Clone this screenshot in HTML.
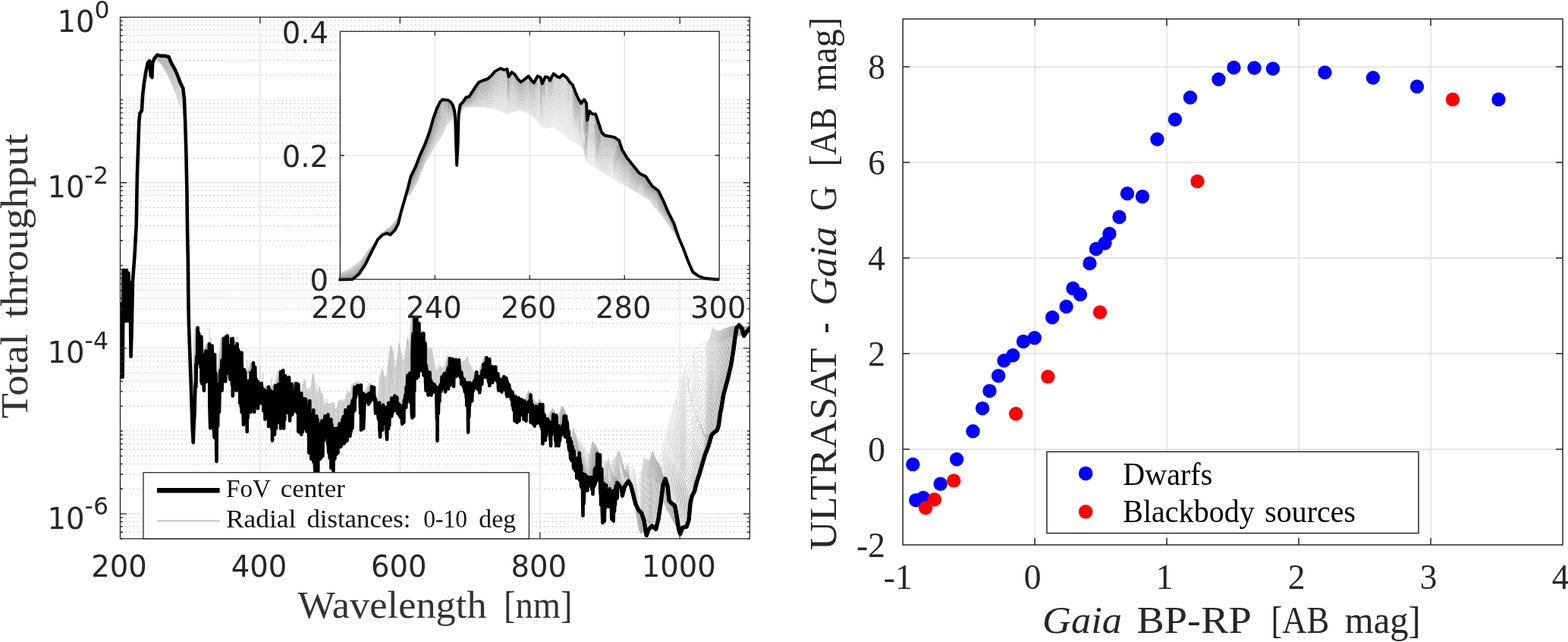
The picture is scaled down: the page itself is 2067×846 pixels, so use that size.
<!DOCTYPE html>
<html><head><meta charset="utf-8"><title>ULTRASAT throughput and colors</title>
<style>html,body{margin:0;padding:0;background:#fff;overflow:hidden}svg{display:block}</style>
</head><body>
<svg width="2067" height="846" viewBox="0 0 2067 846">
<defs><clipPath id="cm"><rect x="158.5" y="22.6" width="829.9" height="687.3"/></clipPath><clipPath id="ci"><rect x="446.4" y="41.4" width="501.8" height="329.7"/></clipPath></defs>
<rect width="2067" height="846" fill="#fff"/>
<path d="M159.35 131.68H988.4M159.35 98.84H988.4M159.35 79.63H988.4M159.35 66.01H988.4M159.35 55.44H988.4M159.35 46.80H988.4M159.35 39.50H988.4M159.35 33.17H988.4M159.35 27.59H988.4M159.35 207.92H988.4M159.35 188.71H988.4M159.35 175.08H988.4M159.35 164.51H988.4M159.35 155.88H988.4M159.35 148.57H988.4M159.35 142.25H988.4M159.35 136.67H988.4M159.35 349.83H988.4M159.35 317.00H988.4M159.35 297.79H988.4M159.35 284.16H988.4M159.35 273.59H988.4M159.35 264.95H988.4M159.35 257.65H988.4M159.35 251.33H988.4M159.35 245.75H988.4M159.35 426.07H988.4M159.35 406.87H988.4M159.35 393.24H988.4M159.35 382.67H988.4M159.35 374.03H988.4M159.35 366.73H988.4M159.35 360.40H988.4M159.35 354.82H988.4M159.35 567.99H988.4M159.35 535.15H988.4M159.35 515.94H988.4M159.35 502.32H988.4M159.35 491.75H988.4M159.35 483.11H988.4M159.35 475.81H988.4M159.35 469.48H988.4M159.35 463.90H988.4M159.35 644.23H988.4M159.35 625.02H988.4M159.35 611.39H988.4M159.35 600.82H988.4M159.35 592.19H988.4M159.35 584.88H988.4M159.35 578.56H988.4M159.35 572.98H988.4M159.35 701.26H988.4M159.35 693.96H988.4M159.35 687.64H988.4M159.35 682.06H988.4" stroke="#b4b4b4" stroke-width="1" stroke-dasharray="1.5 3.81" fill="none"/>
<path d="M158.5 240.75H988.4M158.5 458.91H988.4M158.5 677.06H988.4M342.92 22.6V709.9M527.34 22.6V709.9M711.77 22.6V709.9M896.19 22.6V709.9" stroke="#dcdcdc" stroke-width="1" fill="none"/>
<g clip-path="url(#cm)" fill="none" stroke-linejoin="round">
<polyline points="158.5,430.0 159.5,490.3 160.5,409.7 161.5,487.3 162.5,370.1 163.5,397.1 164.5,388.0 165.5,389.5 166.5,389.5 167.5,378.3 168.5,423.0 169.5,360.0 170.5,420.0 171.5,372.0 172.5,470.0 173.5,440.0 174.5,393.3 175.5,363.3 176.5,349.8 177.5,336.4 178.5,317.9 179.5,299.4 180.5,250.0 181.5,212.5 182.5,183.5 183.5,157.8 184.5,149.3 185.5,147.8 186.5,146.3 187.5,135.6 188.5,122.1 189.5,113.4 190.5,106.0 191.5,99.8 192.5,93.9 193.5,89.0 194.5,84.1 195.5,82.2 196.5,81.0 197.5,85.1 198.5,97.2 199.5,100.7 200.5,99.3 201.5,82.1 202.5,79.7 203.5,77.2 204.5,75.9 205.5,74.5 206.5,73.2 207.5,72.6 208.5,72.9 209.5,73.1 210.5,73.3 211.5,73.6 212.5,73.6 213.5,73.6 214.5,73.6 215.5,73.6 216.5,73.6 217.5,73.8 218.5,74.0 219.5,74.2 220.5,74.4 221.5,74.6 222.5,75.0 223.5,77.4 224.5,79.8 225.5,82.2 226.5,84.2 227.5,85.9 228.5,87.7 229.5,89.5 230.5,91.2 231.5,93.5 232.5,95.7 233.5,98.0 234.5,100.4 235.5,103.1 236.5,105.8 237.5,108.6 238.5,110.7 239.5,112.7 240.5,114.6 241.5,118.0 242.5,126.8 243.5,144.6 244.5,172.1 245.5,208.2 246.5,258.5 247.5,326.0 248.5,405.0 249.5,444.0 250.5,483.2 251.5,536.0 252.5,579.1 253.5,537.2 254.5,485.6 255.5,454.7 256.5,433.8 257.5,433.9 258.5,436.3 259.5,438.8 260.5,441.3 261.5,444.5 262.5,454.7 263.5,465.0 264.5,466.0 265.5,464.6 266.5,463.3 267.5,461.8 268.5,459.8 269.5,457.8 270.5,455.7 271.5,453.7 272.5,453.0 273.5,453.6 274.5,454.3 275.5,454.9 276.5,458.0 277.5,461.4 278.5,464.7 279.5,473.8 280.5,491.5 281.5,509.3 282.5,505.2 283.5,501.2 284.5,497.1 285.5,493.1 286.5,487.5 287.5,478.1 288.5,468.7 289.5,459.3 290.5,449.9 291.5,444.8 292.5,444.0 293.5,443.3 294.5,442.5 295.5,441.7 296.5,442.0 297.5,442.4 298.5,442.9 299.5,443.4 300.5,443.9 301.5,444.3 302.5,444.8 303.5,445.8 304.5,447.0 305.5,448.2 306.5,449.4 307.5,450.6 308.5,451.8 309.5,453.6 310.5,455.6 311.5,457.6 312.5,459.5 313.5,461.5 314.5,463.5 315.5,468.7 316.5,474.2 317.5,479.8 318.5,485.3 319.5,489.8 320.5,489.7 321.5,489.7 322.5,489.7 323.5,489.7 324.5,489.7 325.5,489.7 326.5,489.3 327.5,485.7 328.5,482.1 329.5,478.4 330.5,477.9 331.5,480.5 332.5,483.5 333.5,488.8 334.5,494.0 335.5,499.3 336.5,501.7 337.5,502.1 338.5,502.6 339.5,503.1 340.5,503.6 341.5,505.4 342.5,507.4 343.5,509.3 344.5,511.3 345.5,512.9 346.5,511.9 347.5,510.9 348.5,509.9 349.5,508.9 350.5,508.8 351.5,510.1 352.5,511.4 353.5,512.7 354.5,514.0 355.5,513.6 356.5,511.6 357.5,509.5 358.5,507.5 359.5,506.2 360.5,505.7 361.5,505.2 362.5,504.7 363.5,502.3 364.5,496.9 365.5,491.6 366.5,488.1 367.5,487.4 368.5,486.7 369.5,487.2 370.5,489.5 371.5,491.9 372.5,493.5 373.5,493.8 374.5,494.2 375.5,494.6 376.5,495.0 377.5,496.3 378.5,499.0 379.5,501.6 380.5,504.3 381.5,506.0 382.5,505.4 383.5,504.7 384.5,504.1 385.5,503.5 386.5,503.1 387.5,503.4 388.5,503.8 389.5,504.9 390.5,507.9 391.5,510.9 392.5,513.9 393.5,516.4 394.5,517.7 395.5,519.0 396.5,520.3 397.5,521.6 398.5,522.9 399.5,523.9 400.5,524.3 401.5,524.7 402.5,525.0 403.5,525.4 404.5,526.2 405.5,528.6 406.5,531.0 407.5,533.4 408.5,535.8 409.5,538.1 410.5,540.0 411.5,542.0 412.5,544.0 413.5,546.1 414.5,548.6 415.5,551.1 416.5,553.6 417.5,555.3 418.5,553.9 419.5,552.6 420.5,551.2 421.5,549.7 422.5,548.2 423.5,546.7 424.5,545.2 425.5,544.7 426.5,544.2 427.5,543.7 428.5,543.3 429.5,544.8 430.5,546.3 431.5,547.8 432.5,549.6 433.5,553.6 434.5,557.5 435.5,561.1 436.5,561.1 437.5,561.1 438.5,561.0 439.5,560.9 440.5,559.4 441.5,557.9 442.5,556.4 443.5,554.9 444.5,553.4 445.5,551.9 446.5,550.3 447.5,548.8 448.5,545.8 449.5,542.7 450.5,539.7 451.5,536.6 452.5,535.6 453.5,534.6 454.5,533.5 455.5,532.5 456.5,530.9 457.5,529.2 458.5,527.6 459.5,525.9 460.5,524.3 461.5,518.4 462.5,512.6 463.5,506.7 464.5,505.6 465.5,505.1 466.5,504.5 467.5,504.0 468.5,503.7 469.5,503.5 470.5,503.3 471.5,503.1 472.5,504.9 473.5,508.5 474.5,512.2 475.5,514.3 476.5,514.9 477.5,515.5 478.5,515.7 479.5,515.1 480.5,514.6 481.5,514.0 482.5,512.8 483.5,510.5 484.5,508.2 485.5,505.9 486.5,504.6 487.5,505.0 488.5,505.4 489.5,508.8 490.5,516.8 491.5,521.9 492.5,522.7 493.5,523.5 494.5,524.3 495.5,525.1 496.5,525.9 497.5,526.5 498.5,527.1 499.5,527.7 500.5,528.3 501.5,528.9 502.5,529.7 503.5,530.4 504.5,531.2 505.5,531.1 506.5,529.1 507.5,527.1 508.5,525.2 509.5,523.7 510.5,522.2 511.5,520.7 512.5,519.4 513.5,518.6 514.5,517.9 515.5,517.2 516.5,516.7 517.5,517.4 518.5,518.1 519.5,519.2 520.5,522.2 521.5,525.3 522.5,527.8 523.5,528.3 524.5,528.8 525.5,529.3 526.5,529.0 527.5,525.5 528.5,521.9 529.5,518.4 530.5,513.9 531.5,505.2 532.5,496.5 533.5,489.3 534.5,488.3 535.5,487.4 536.5,486.8 537.5,489.3 538.5,488.7 539.5,460.5 540.5,434.2 541.5,424.1 542.5,415.1 543.5,414.7 544.5,414.4 545.5,414.3 546.5,416.7 547.5,419.0 548.5,421.8 549.5,428.9 550.5,435.2 551.5,434.9 552.5,434.7 553.5,434.4 554.5,434.6 555.5,440.7 556.5,445.2 557.5,458.9 558.5,473.3 559.5,472.2 560.5,469.4 561.5,466.6 562.5,463.8 563.5,464.4 564.5,465.6 565.5,469.1 566.5,471.5 567.5,473.2 568.5,474.8 569.5,477.1 570.5,479.6 571.5,482.1 572.5,484.6 573.5,485.4 574.5,485.4 575.5,485.8 576.5,484.7 577.5,482.4 578.5,480.2 579.5,479.4 580.5,480.0 581.5,480.6 582.5,481.5 583.5,482.7 584.5,484.0 585.5,484.5 586.5,480.6 587.5,476.6 588.5,472.6 589.5,468.7 590.5,469.2 591.5,469.9 592.5,470.7 593.5,471.4 594.5,472.1 595.5,472.6 596.5,472.9 597.5,473.1 598.5,473.2 599.5,473.2 600.5,473.2 601.5,473.2 602.5,476.7 603.5,482.0 604.5,487.3 605.5,490.8 606.5,493.3 607.5,495.8 608.5,498.2 609.5,500.0 610.5,501.3 611.5,502.6 612.5,503.3 613.5,503.3 614.5,503.3 615.5,503.3 616.5,503.3 617.5,503.3 618.5,503.3 619.5,503.3 620.5,503.3 621.5,502.3 622.5,498.8 623.5,495.3 624.5,491.8 625.5,489.7 626.5,491.2 627.5,492.7 628.5,494.2 629.5,494.4 630.5,491.2 631.5,488.0 632.5,484.9 633.5,481.7 634.5,478.7 635.5,476.5 636.5,474.2 637.5,472.0 638.5,470.3 639.5,470.8 640.5,471.3 641.5,471.8 642.5,472.6 643.5,475.1 644.5,477.6 645.5,480.0 646.5,482.0 647.5,481.9 648.5,481.9 649.5,481.9 650.5,482.4 651.5,485.3 652.5,488.2 653.5,491.1 654.5,493.0 655.5,495.0 656.5,497.0 657.5,498.6 658.5,497.6 659.5,496.6 660.5,495.5 661.5,494.7 662.5,495.3 663.5,495.9 664.5,496.7 665.5,499.2 666.5,501.7 667.5,504.1 668.5,506.5 669.5,508.5 670.5,510.4 671.5,512.4 672.5,514.3 673.5,515.8 674.5,517.2 675.5,518.7 676.5,520.2 677.5,520.6 678.5,521.1 679.5,521.6 680.5,522.1 681.5,522.6 682.5,523.2 683.5,523.7 684.5,524.3 685.5,524.8 686.5,525.3 687.5,525.9 688.5,527.1 689.5,528.2 690.5,529.3 691.5,527.9 692.5,524.4 693.5,520.9 694.5,518.0 695.5,524.1 696.5,530.2 697.5,532.5 698.5,532.4 699.5,532.4 700.5,532.4 701.5,532.2" stroke="#dbdbdb" stroke-width="1"/>
<polyline points="158.5,430.0 159.5,490.3 160.5,409.7 161.5,487.3 162.5,370.1 163.5,397.1 164.5,388.0 165.5,389.5 166.5,389.5 167.5,378.3 168.5,423.0 169.5,360.0 170.5,420.0 171.5,372.0 172.5,470.0 173.5,440.0 174.5,393.3 175.5,363.3 176.5,349.8 177.5,336.4 178.5,317.9 179.5,299.4 180.5,250.0 181.5,212.5 182.5,183.5 183.5,157.8 184.5,149.3 185.5,147.8 186.5,146.3 187.5,135.6 188.5,122.1 189.5,113.4 190.5,106.0 191.5,99.8 192.5,93.9 193.5,89.0 194.5,84.1 195.5,82.2 196.5,81.0 197.5,85.1 198.5,97.2 199.5,100.7 200.5,99.3 201.5,82.1 202.5,79.7 203.5,77.2 204.5,75.9 205.5,74.5 206.5,73.2 207.5,72.6 208.5,72.9 209.5,73.1 210.5,73.3 211.5,73.6 212.5,73.6 213.5,73.6 214.5,73.6 215.5,73.6 216.5,73.6 217.5,73.8 218.5,74.0 219.5,74.2 220.5,74.4 221.5,74.6 222.5,75.0 223.5,77.4 224.5,79.8 225.5,82.2 226.5,84.2 227.5,85.9 228.5,87.7 229.5,89.5 230.5,91.2 231.5,93.5 232.5,95.7 233.5,98.0 234.5,100.4 235.5,103.1 236.5,105.8 237.5,108.6 238.5,110.7 239.5,112.7 240.5,114.6 241.5,118.0 242.5,126.8 243.5,144.6 244.5,172.1 245.5,208.2 246.5,258.5 247.5,326.0 248.5,405.0 249.5,444.0 250.5,482.1 251.5,532.4 252.5,575.3 253.5,545.2 254.5,495.9 255.5,463.1 256.5,442.2 257.5,432.9 258.5,435.4 259.5,437.8 260.5,440.3 261.5,442.7 262.5,450.7 263.5,460.9 264.5,466.5 265.5,465.2 266.5,463.9 267.5,462.5 268.5,460.6 269.5,458.6 270.5,456.6 271.5,454.5 272.5,452.8 273.5,453.4 274.5,454.1 275.5,454.7 276.5,456.7 277.5,460.1 278.5,463.4 279.5,466.8 280.5,484.5 281.5,502.2 282.5,506.9 283.5,502.9 284.5,498.8 285.5,494.8 286.5,490.7 287.5,481.9 288.5,472.5 289.5,463.1 290.5,453.7 291.5,445.2 292.5,444.4 293.5,443.7 294.5,442.9 295.5,442.1 296.5,441.9 297.5,442.3 298.5,442.8 299.5,443.3 300.5,443.8 301.5,444.2 302.5,444.7 303.5,445.4 304.5,446.6 305.5,447.8 306.5,449.0 307.5,450.2 308.5,451.4 309.5,452.9 310.5,454.9 311.5,456.9 312.5,458.9 313.5,460.8 314.5,462.8 315.5,466.6 316.5,472.1 317.5,477.7 318.5,483.2 319.5,488.8 320.5,489.9 321.5,489.9 322.5,489.8 323.5,489.8 324.5,489.8 325.5,489.8 326.5,489.8 327.5,487.3 328.5,483.6 329.5,480.0 330.5,477.0 331.5,479.6 332.5,482.1 333.5,486.8 334.5,492.1 335.5,497.3 336.5,501.6 337.5,502.1 338.5,502.6 339.5,503.1 340.5,503.6 341.5,504.8 342.5,506.8 343.5,508.7 344.5,510.7 345.5,512.6 346.5,512.5 347.5,511.5 348.5,510.5 349.5,509.4 350.5,508.4 351.5,509.7 352.5,511.0 353.5,512.3 354.5,513.6 355.5,514.6 356.5,512.5 357.5,510.5 358.5,508.5 359.5,506.6 360.5,506.1 361.5,505.6 362.5,505.1 363.5,504.6 364.5,499.2 365.5,493.9 366.5,488.6 367.5,487.8 368.5,487.1 369.5,486.4 370.5,488.8 371.5,491.1 372.5,493.5 373.5,493.9 374.5,494.3 375.5,494.7 376.5,495.0 377.5,495.4 378.5,498.1 379.5,500.8 380.5,503.4 381.5,506.1 382.5,505.8 383.5,505.2 384.5,504.6 385.5,503.9 386.5,503.3 387.5,503.5 388.5,503.8 389.5,504.2 390.5,506.9 391.5,509.9 392.5,512.9 393.5,515.9 394.5,517.4 395.5,518.7 396.5,520.0 397.5,521.3 398.5,522.6 399.5,523.9 400.5,524.4 401.5,524.8 402.5,525.1 403.5,525.5 404.5,525.9 405.5,527.9 406.5,530.3 407.5,532.7 408.5,535.1 409.5,537.5 410.5,539.5 411.5,541.5 412.5,543.5 413.5,545.4 414.5,547.8 415.5,550.3 416.5,552.8 417.5,555.4 418.5,554.8 419.5,553.4 420.5,552.1 421.5,550.6 422.5,549.1 423.5,547.6 424.5,546.0 425.5,545.2 426.5,544.7 427.5,544.2 428.5,543.7 429.5,544.6 430.5,546.1 431.5,547.6 432.5,549.1 433.5,552.3 434.5,556.3 435.5,560.3 436.5,561.4 437.5,561.4 438.5,561.4 439.5,561.4 440.5,560.3 441.5,558.8 442.5,557.3 443.5,555.9 444.5,554.3 445.5,552.8 446.5,551.3 447.5,549.8 448.5,547.3 449.5,544.3 450.5,541.2 451.5,538.2 452.5,536.4 453.5,535.3 454.5,534.3 455.5,533.3 456.5,531.9 457.5,530.3 458.5,528.6 459.5,527.0 460.5,525.3 461.5,521.2 462.5,515.3 463.5,509.5 464.5,506.3 465.5,505.7 466.5,505.2 467.5,504.6 468.5,504.2 469.5,504.0 470.5,503.8 471.5,503.6 472.5,503.8 473.5,507.5 474.5,511.1 475.5,514.5 476.5,515.1 477.5,515.7 478.5,516.3 479.5,515.8 480.5,515.3 481.5,514.7 482.5,514.2 483.5,511.9 484.5,509.6 485.5,507.3 486.5,505.0 487.5,505.4 488.5,505.7 489.5,506.1 490.5,514.1 491.5,522.1 492.5,522.9 493.5,523.7 494.5,524.5 495.5,525.3 496.5,526.1 497.5,526.7 498.5,527.3 499.5,527.9 500.5,528.5 501.5,529.1 502.5,529.9 503.5,530.6 504.5,531.4 505.5,532.1 506.5,530.4 507.5,528.4 508.5,526.4 509.5,524.8 510.5,523.3 511.5,521.8 512.5,520.3 513.5,519.4 514.5,518.7 515.5,518.0 516.5,517.2 517.5,517.6 518.5,518.3 519.5,519.0 520.5,521.5 521.5,524.6 522.5,527.6 523.5,528.6 524.5,529.1 525.5,529.6 526.5,530.1 527.5,527.4 528.5,523.9 529.5,520.3 530.5,516.8 531.5,509.1 532.5,500.4 533.5,491.7 534.5,489.2 535.5,488.3 536.5,487.3 537.5,488.8 538.5,491.3 539.5,472.3 540.5,444.1 541.5,428.7 542.5,418.6 543.5,415.4 544.5,415.0 545.5,414.7 546.5,416.2 547.5,418.6 548.5,420.9 549.5,426.5 550.5,433.6 551.5,435.5 552.5,435.3 553.5,435.0 554.5,434.8 555.5,438.8 556.5,443.4 557.5,452.8 558.5,467.6 559.5,473.7 560.5,471.2 561.5,468.7 562.5,466.2 563.5,465.6 564.5,467.2 565.5,470.7 566.5,474.6 567.5,476.2 568.5,477.7 569.5,479.6 570.5,482.0 571.5,484.4 572.5,486.8 573.5,488.4 574.5,488.3 575.5,488.6 576.5,488.4 577.5,486.0 578.5,483.6 579.5,481.5 580.5,481.9 581.5,482.3 582.5,482.8 583.5,483.8 584.5,484.9 585.5,485.3 586.5,482.7 587.5,478.6 588.5,474.6 589.5,470.6 590.5,469.4 591.5,470.1 592.5,470.8 593.5,471.5 594.5,472.2 595.5,472.7 596.5,472.9 597.5,473.1 598.5,473.3 599.5,473.3 600.5,473.3 601.5,473.3 602.5,475.1 603.5,480.4 604.5,485.7 605.5,490.1 606.5,492.6 607.5,495.1 608.5,497.5 609.5,499.7 610.5,501.0 611.5,502.3 612.5,503.4 613.5,503.4 614.5,503.4 615.5,503.4 616.5,503.4 617.5,503.4 618.5,503.4 619.5,503.4 620.5,503.4 621.5,503.4 622.5,499.9 623.5,496.4 624.5,492.9 625.5,489.4 626.5,490.9 627.5,492.4 628.5,493.9 629.5,495.4 630.5,492.2 631.5,489.1 632.5,485.9 633.5,482.8 634.5,479.6 635.5,477.3 636.5,475.0 637.5,472.8 638.5,470.5 639.5,470.8 640.5,471.2 641.5,471.7 642.5,472.2 643.5,474.4 644.5,476.9 645.5,479.4 646.5,481.9 647.5,482.1 648.5,482.0 649.5,482.0 650.5,482.0 651.5,484.6 652.5,487.5 653.5,490.4 654.5,492.6 655.5,494.5 656.5,496.5 657.5,498.5 658.5,498.0 659.5,497.0 660.5,496.0 661.5,495.0 662.5,495.3 663.5,495.9 664.5,496.5 665.5,498.6 666.5,501.1 667.5,503.6 668.5,506.0 669.5,508.1 670.5,510.0 671.5,512.0 672.5,513.9 673.5,515.5 674.5,517.0 675.5,518.5 676.5,520.0 677.5,520.7 678.5,521.2 679.5,521.7 680.5,522.2 681.5,522.7 682.5,523.2 683.5,523.8 684.5,524.3 685.5,524.9 686.5,525.4 687.5,525.9 688.5,526.9 689.5,528.0 690.5,529.1 691.5,529.6 692.5,526.1 693.5,522.7 694.5,519.2 695.5,521.5 696.5,527.6 697.5,532.8 698.5,532.7 699.5,532.7 700.5,532.7 701.5,532.7" stroke="#d6d6d6" stroke-width="1"/>
<polyline points="158.5,430.0 159.5,490.3 160.5,409.7 161.5,487.3 162.5,370.1 163.5,397.1 164.5,388.0 165.5,389.5 166.5,389.5 167.5,378.3 168.5,423.0 169.5,360.0 170.5,420.0 171.5,372.0 172.5,470.0 173.5,440.0 174.5,393.3 175.5,363.3 176.5,349.8 177.5,336.4 178.5,317.9 179.5,299.4 180.5,250.0 181.5,212.5 182.5,183.5 183.5,157.8 184.5,149.3 185.5,147.8 186.5,146.3 187.5,135.6 188.5,122.1 189.5,113.4 190.5,106.0 191.5,99.8 192.5,93.9 193.5,89.0 194.5,84.1 195.5,82.2 196.5,81.0 197.5,85.1 198.5,97.2 199.5,100.7 200.5,99.3 201.5,82.1 202.5,79.7 203.5,77.2 204.5,75.9 205.5,74.5 206.5,73.2 207.5,72.6 208.5,72.9 209.5,73.1 210.5,73.3 211.5,73.6 212.5,73.6 213.5,73.6 214.5,73.6 215.5,73.6 216.5,73.6 217.5,73.8 218.5,74.0 219.5,74.2 220.5,74.4 221.5,74.6 222.5,75.0 223.5,77.4 224.5,79.8 225.5,82.2 226.5,84.2 227.5,85.9 228.5,87.7 229.5,89.5 230.5,91.2 231.5,93.5 232.5,95.7 233.5,98.0 234.5,100.4 235.5,103.1 236.5,105.8 237.5,108.6 238.5,110.7 239.5,112.7 240.5,114.6 241.5,118.0 242.5,126.8 243.5,144.6 244.5,172.1 245.5,208.2 246.5,258.5 247.5,326.0 248.5,405.0 249.5,444.0 250.5,481.0 251.5,528.8 252.5,571.5 253.5,553.2 254.5,506.3 255.5,471.5 256.5,450.6 257.5,431.9 258.5,434.4 259.5,436.9 260.5,439.3 261.5,441.8 262.5,446.6 263.5,456.8 264.5,467.1 265.5,465.7 266.5,464.4 267.5,463.1 268.5,461.5 269.5,459.5 270.5,457.4 271.5,455.4 272.5,453.3 273.5,453.2 274.5,453.8 275.5,454.5 276.5,455.4 277.5,458.8 278.5,462.1 279.5,465.5 280.5,477.5 281.5,495.2 282.5,508.6 283.5,504.5 284.5,500.5 285.5,496.5 286.5,492.4 287.5,485.7 288.5,476.3 289.5,466.9 290.5,457.5 291.5,448.1 292.5,444.8 293.5,444.0 294.5,443.3 295.5,442.5 296.5,441.8 297.5,442.2 298.5,442.7 299.5,443.2 300.5,443.7 301.5,444.1 302.5,444.6 303.5,445.1 304.5,446.2 305.5,447.4 306.5,448.6 307.5,449.8 308.5,451.0 309.5,452.2 310.5,454.2 311.5,456.2 312.5,458.2 313.5,460.2 314.5,462.2 315.5,464.5 316.5,470.0 317.5,475.6 318.5,481.1 319.5,486.7 320.5,490.0 321.5,490.0 322.5,490.0 323.5,490.0 324.5,490.0 325.5,489.9 326.5,489.9 327.5,488.8 328.5,485.2 329.5,481.6 330.5,478.0 331.5,478.7 332.5,481.2 333.5,484.9 334.5,490.1 335.5,495.3 336.5,500.6 337.5,502.0 338.5,502.5 339.5,503.0 340.5,503.5 341.5,504.2 342.5,506.1 343.5,508.1 344.5,510.0 345.5,512.0 346.5,513.0 347.5,512.0 348.5,511.0 349.5,510.0 350.5,509.0 351.5,509.4 352.5,510.7 353.5,512.0 354.5,513.3 355.5,514.6 356.5,513.5 357.5,511.5 358.5,509.4 359.5,507.4 360.5,506.5 361.5,506.0 362.5,505.5 363.5,505.0 364.5,501.6 365.5,496.2 366.5,490.9 367.5,488.3 368.5,487.6 369.5,486.9 370.5,488.0 371.5,490.4 372.5,492.7 373.5,493.9 374.5,494.3 375.5,494.7 376.5,495.1 377.5,495.5 378.5,497.2 379.5,499.9 380.5,502.6 381.5,505.2 382.5,506.2 383.5,505.6 384.5,505.0 385.5,504.4 386.5,503.8 387.5,503.6 388.5,503.9 389.5,504.2 390.5,505.9 391.5,508.9 392.5,511.9 393.5,514.9 394.5,517.1 395.5,518.4 396.5,519.7 397.5,521.0 398.5,522.3 399.5,523.6 400.5,524.5 401.5,524.9 402.5,525.2 403.5,525.6 404.5,526.0 405.5,527.2 406.5,529.6 407.5,532.0 408.5,534.4 409.5,536.8 410.5,539.0 411.5,541.0 412.5,542.9 413.5,544.9 414.5,547.1 415.5,549.6 416.5,552.1 417.5,554.6 418.5,555.6 419.5,554.2 420.5,552.9 421.5,551.5 422.5,550.0 423.5,548.5 424.5,547.0 425.5,545.7 426.5,545.2 427.5,544.7 428.5,544.2 429.5,544.3 430.5,545.8 431.5,547.3 432.5,548.8 433.5,551.0 434.5,555.0 435.5,559.0 436.5,561.8 437.5,561.8 438.5,561.7 439.5,561.7 440.5,561.3 441.5,559.8 442.5,558.3 443.5,556.8 444.5,555.3 445.5,553.8 446.5,552.3 447.5,550.8 448.5,548.9 449.5,545.9 450.5,542.8 451.5,539.8 452.5,537.2 453.5,536.1 454.5,535.1 455.5,534.1 456.5,532.9 457.5,531.3 458.5,529.7 459.5,528.0 460.5,526.4 461.5,523.9 462.5,518.1 463.5,512.2 464.5,506.9 465.5,506.3 466.5,505.8 467.5,505.2 468.5,504.7 469.5,504.5 470.5,504.3 471.5,504.1 472.5,503.9 473.5,506.5 474.5,510.1 475.5,513.8 476.5,515.3 477.5,515.9 478.5,516.5 479.5,516.5 480.5,515.9 481.5,515.4 482.5,514.9 483.5,513.3 484.5,511.0 485.5,508.7 486.5,506.4 487.5,505.7 488.5,506.1 489.5,506.5 490.5,511.4 491.5,519.4 492.5,523.1 493.5,523.9 494.5,524.7 495.5,525.5 496.5,526.3 497.5,527.0 498.5,527.6 499.5,528.2 500.5,528.8 501.5,529.4 502.5,530.1 503.5,530.8 504.5,531.6 505.5,532.3 506.5,531.7 507.5,529.7 508.5,527.7 509.5,525.9 510.5,524.4 511.5,522.9 512.5,521.4 513.5,520.2 514.5,519.5 515.5,518.8 516.5,518.0 517.5,517.9 518.5,518.5 519.5,519.2 520.5,520.8 521.5,523.8 522.5,526.9 523.5,528.9 524.5,529.4 525.5,529.9 526.5,530.4 527.5,529.3 528.5,525.8 529.5,522.2 530.5,518.7 531.5,513.1 532.5,504.4 533.5,495.7 534.5,490.1 535.5,489.1 536.5,488.2 537.5,488.3 538.5,490.8 539.5,484.1 540.5,455.9 541.5,433.2 542.5,423.1 543.5,416.0 544.5,415.7 545.5,415.3 546.5,415.8 547.5,418.1 548.5,420.5 549.5,424.2 550.5,431.3 551.5,436.1 552.5,435.9 553.5,435.6 554.5,435.4 555.5,436.8 556.5,441.6 557.5,446.7 558.5,461.9 559.5,475.1 560.5,473.0 561.5,470.8 562.5,468.7 563.5,466.8 564.5,468.7 565.5,472.4 566.5,477.7 567.5,479.2 568.5,480.6 569.5,482.1 570.5,484.4 571.5,486.7 572.5,489.0 573.5,491.3 574.5,491.2 575.5,491.4 576.5,491.9 577.5,489.5 578.5,486.9 579.5,484.3 580.5,483.8 581.5,484.0 582.5,484.2 583.5,484.9 584.5,485.8 585.5,486.1 586.5,484.8 587.5,480.7 588.5,476.6 589.5,472.6 590.5,469.7 591.5,470.3 592.5,470.9 593.5,471.6 594.5,472.2 595.5,472.7 596.5,472.9 597.5,473.2 598.5,473.4 599.5,473.4 600.5,473.4 601.5,473.4 602.5,473.4 603.5,478.7 604.5,484.0 605.5,489.3 606.5,491.9 607.5,494.4 608.5,496.8 609.5,499.3 610.5,500.7 611.5,502.0 612.5,503.2 613.5,503.5 614.5,503.5 615.5,503.5 616.5,503.5 617.5,503.5 618.5,503.5 619.5,503.5 620.5,503.5 621.5,503.5 622.5,501.1 623.5,497.6 624.5,494.1 625.5,490.6 626.5,490.5 627.5,492.0 628.5,493.5 629.5,495.0 630.5,493.3 631.5,490.1 632.5,487.0 633.5,483.8 634.5,480.7 635.5,478.0 636.5,475.8 637.5,473.5 638.5,471.3 639.5,470.7 640.5,471.2 641.5,471.7 642.5,472.1 643.5,473.8 644.5,476.3 645.5,478.8 646.5,481.2 647.5,482.2 648.5,482.2 649.5,482.1 650.5,482.1 651.5,483.9 652.5,486.8 653.5,489.7 654.5,492.1 655.5,494.1 656.5,496.1 657.5,498.0 658.5,498.5 659.5,497.5 660.5,496.5 661.5,495.4 662.5,495.2 663.5,495.9 664.5,496.5 665.5,498.1 666.5,500.5 667.5,503.0 668.5,505.5 669.5,507.7 670.5,509.7 671.5,511.6 672.5,513.5 673.5,515.3 674.5,516.8 675.5,518.3 676.5,519.7 677.5,520.8 678.5,521.3 679.5,521.7 680.5,522.2 681.5,522.8 682.5,523.3 683.5,523.8 684.5,524.4 685.5,524.9 686.5,525.5 687.5,526.0 688.5,526.7 689.5,527.8 690.5,528.9 691.5,530.0 692.5,527.9 693.5,524.5 694.5,521.1 695.5,519.0 696.5,525.0 697.5,530.9 698.5,533.0 699.5,533.0 700.5,533.0 701.5,533.0" stroke="#d0d0d0" stroke-width="1"/>
<polyline points="158.5,430.0 159.5,490.3 160.5,409.7 161.5,487.3 162.5,370.1 163.5,397.1 164.5,388.0 165.5,389.5 166.5,389.5 167.5,378.3 168.5,423.0 169.5,360.0 170.5,420.0 171.5,372.0 172.5,470.0 173.5,440.0 174.5,393.3 175.5,363.3 176.5,349.8 177.5,336.4 178.5,317.9 179.5,299.4 180.5,250.0 181.5,212.5 182.5,183.5 183.5,157.8 184.5,149.3 185.5,147.8 186.5,146.3 187.5,135.6 188.5,122.1 189.5,113.4 190.5,106.0 191.5,99.8 192.5,93.9 193.5,89.0 194.5,84.1 195.5,82.2 196.5,81.0 197.5,85.1 198.5,97.2 199.5,100.7 200.5,99.3 201.5,82.1 202.5,79.7 203.5,77.2 204.5,75.9 205.5,74.5 206.5,73.2 207.5,72.6 208.5,72.9 209.5,73.1 210.5,73.3 211.5,73.6 212.5,73.6 213.5,73.6 214.5,73.6 215.5,73.6 216.5,73.6 217.5,73.8 218.5,74.0 219.5,74.2 220.5,74.4 221.5,74.6 222.5,75.0 223.5,77.4 224.5,79.8 225.5,82.2 226.5,84.2 227.5,85.9 228.5,87.7 229.5,89.5 230.5,91.2 231.5,93.5 232.5,95.7 233.5,98.0 234.5,100.4 235.5,103.1 236.5,105.8 237.5,108.6 238.5,110.7 239.5,112.7 240.5,114.6 241.5,118.0 242.5,126.8 243.5,144.6 244.5,172.1 245.5,208.2 246.5,258.5 247.5,326.0 248.5,405.0 249.5,444.0 250.5,479.8 251.5,525.2 252.5,567.6 253.5,561.2 254.5,516.6 255.5,479.9 256.5,459.0 257.5,438.0 258.5,433.4 259.5,435.9 260.5,438.3 261.5,440.8 262.5,443.3 263.5,452.7 264.5,463.0 265.5,466.3 266.5,465.0 267.5,463.7 268.5,462.3 269.5,460.3 270.5,458.3 271.5,456.2 272.5,454.2 273.5,453.0 274.5,453.6 275.5,454.3 276.5,454.9 277.5,457.5 278.5,460.8 279.5,464.2 280.5,470.4 281.5,488.2 282.5,505.9 283.5,506.2 284.5,502.2 285.5,498.1 286.5,494.1 287.5,489.5 288.5,480.1 289.5,470.8 290.5,461.4 291.5,452.0 292.5,445.2 293.5,444.4 294.5,443.7 295.5,442.9 296.5,442.1 297.5,442.1 298.5,442.6 299.5,443.1 300.5,443.6 301.5,444.1 302.5,444.5 303.5,445.0 304.5,445.9 305.5,447.1 306.5,448.3 307.5,449.4 308.5,450.6 309.5,451.8 310.5,453.5 311.5,455.5 312.5,457.5 313.5,459.5 314.5,461.5 315.5,463.5 316.5,467.9 317.5,473.5 318.5,479.0 319.5,484.6 320.5,490.1 321.5,490.1 322.5,490.1 323.5,490.1 324.5,490.1 325.5,490.1 326.5,490.1 327.5,490.1 328.5,486.8 329.5,483.2 330.5,479.6 331.5,477.8 332.5,480.4 333.5,482.9 334.5,488.1 335.5,493.4 336.5,498.6 337.5,502.0 338.5,502.5 339.5,503.0 340.5,503.5 341.5,504.0 342.5,505.5 343.5,507.4 344.5,509.4 345.5,511.3 346.5,513.3 347.5,512.6 348.5,511.6 349.5,510.6 350.5,509.6 351.5,509.0 352.5,510.3 353.5,511.6 354.5,512.9 355.5,514.2 356.5,514.5 357.5,512.5 358.5,510.4 359.5,508.4 360.5,506.8 361.5,506.3 362.5,505.8 363.5,505.3 364.5,503.9 365.5,498.5 366.5,493.2 367.5,488.8 368.5,488.1 369.5,487.4 370.5,487.3 371.5,489.6 372.5,492.0 373.5,493.9 374.5,494.3 375.5,494.7 376.5,495.1 377.5,495.5 378.5,496.3 379.5,499.0 380.5,501.7 381.5,504.4 382.5,506.7 383.5,506.1 384.5,505.5 385.5,504.8 386.5,504.2 387.5,503.7 388.5,504.0 389.5,504.3 390.5,504.9 391.5,507.9 392.5,510.9 393.5,513.9 394.5,516.8 395.5,518.1 396.5,519.4 397.5,520.7 398.5,522.0 399.5,523.4 400.5,524.6 401.5,525.0 402.5,525.3 403.5,525.7 404.5,526.1 405.5,526.5 406.5,528.9 407.5,531.3 408.5,533.7 409.5,536.1 410.5,538.5 411.5,540.4 412.5,542.4 413.5,544.4 414.5,546.4 415.5,548.9 416.5,551.4 417.5,553.9 418.5,556.4 419.5,555.1 420.5,553.7 421.5,552.4 422.5,550.9 423.5,549.4 424.5,547.9 425.5,546.4 426.5,545.7 427.5,545.2 428.5,544.7 429.5,544.2 430.5,545.5 431.5,547.0 432.5,548.5 433.5,550.0 434.5,553.7 435.5,557.7 436.5,561.7 437.5,562.1 438.5,562.1 439.5,562.1 440.5,562.0 441.5,560.7 442.5,559.2 443.5,557.7 444.5,556.3 445.5,554.8 446.5,553.2 447.5,551.7 448.5,550.2 449.5,547.5 450.5,544.4 451.5,541.4 452.5,538.3 453.5,536.9 454.5,535.9 455.5,534.9 456.5,533.9 457.5,532.3 458.5,530.7 459.5,529.1 460.5,527.4 461.5,525.8 462.5,520.8 463.5,515.0 464.5,509.1 465.5,507.0 466.5,506.4 467.5,505.9 468.5,505.3 469.5,505.0 470.5,504.8 471.5,504.6 472.5,504.5 473.5,505.4 474.5,509.1 475.5,512.8 476.5,515.5 477.5,516.1 478.5,516.8 479.5,517.2 480.5,516.6 481.5,516.1 482.5,515.6 483.5,514.7 484.5,512.4 485.5,510.1 486.5,507.8 487.5,506.1 488.5,506.4 489.5,506.8 490.5,508.7 491.5,516.7 492.5,523.3 493.5,524.1 494.5,524.9 495.5,525.7 496.5,526.5 497.5,527.3 498.5,527.9 499.5,528.5 500.5,529.1 501.5,529.7 502.5,530.3 503.5,531.0 504.5,531.8 505.5,532.5 506.5,533.0 507.5,531.0 508.5,529.0 509.5,527.0 510.5,525.5 511.5,524.0 512.5,522.5 513.5,521.0 514.5,520.3 515.5,519.6 516.5,518.8 517.5,518.1 518.5,518.8 519.5,519.4 520.5,520.1 521.5,523.1 522.5,526.2 523.5,529.2 524.5,529.7 525.5,530.2 526.5,530.7 527.5,531.2 528.5,527.7 529.5,524.2 530.5,520.6 531.5,517.1 532.5,508.4 533.5,499.7 534.5,491.0 535.5,490.0 536.5,489.1 537.5,488.1 538.5,490.2 539.5,492.7 540.5,467.7 541.5,439.5 542.5,427.7 543.5,417.6 544.5,416.3 545.5,416.0 546.5,415.6 547.5,417.7 548.5,420.0 549.5,422.4 550.5,428.9 551.5,436.0 552.5,436.5 553.5,436.2 554.5,436.0 555.5,435.7 556.5,439.9 557.5,443.7 558.5,456.2 559.5,471.7 560.5,474.8 561.5,473.0 562.5,471.1 563.5,469.3 564.5,470.3 565.5,474.1 566.5,479.4 567.5,482.2 568.5,483.5 569.5,484.9 570.5,486.8 571.5,489.0 572.5,491.2 573.5,493.4 574.5,494.2 575.5,494.2 576.5,494.5 577.5,493.1 578.5,490.3 579.5,487.4 580.5,485.8 581.5,485.8 582.5,485.8 583.5,486.1 584.5,486.8 585.5,487.0 586.5,486.7 587.5,482.7 588.5,478.6 589.5,474.5 590.5,470.4 591.5,470.5 592.5,471.1 593.5,471.7 594.5,472.3 595.5,472.7 596.5,472.9 597.5,473.2 598.5,473.4 599.5,473.5 600.5,473.5 601.5,473.5 602.5,473.5 603.5,477.1 604.5,482.4 605.5,487.7 606.5,491.2 607.5,493.7 608.5,496.1 609.5,498.6 610.5,500.4 611.5,501.6 612.5,502.9 613.5,503.6 614.5,503.6 615.5,503.6 616.5,503.6 617.5,503.6 618.5,503.6 619.5,503.6 620.5,503.6 621.5,503.6 622.5,502.2 623.5,498.7 624.5,495.2 625.5,491.7 626.5,490.2 627.5,491.7 628.5,493.2 629.5,494.7 630.5,494.3 631.5,491.2 632.5,488.0 633.5,484.9 634.5,481.7 635.5,478.8 636.5,476.6 637.5,474.3 638.5,472.1 639.5,470.7 640.5,471.1 641.5,471.6 642.5,472.1 643.5,473.2 644.5,475.6 645.5,478.1 646.5,480.6 647.5,482.3 648.5,482.3 649.5,482.3 650.5,482.3 651.5,483.1 652.5,486.0 653.5,488.9 654.5,491.7 655.5,493.6 656.5,495.6 657.5,497.6 658.5,499.0 659.5,497.9 660.5,496.9 661.5,495.9 662.5,495.2 663.5,495.9 664.5,496.5 665.5,497.5 666.5,500.0 667.5,502.5 668.5,504.9 669.5,507.3 670.5,509.3 671.5,511.2 672.5,513.2 673.5,515.1 674.5,516.5 675.5,518.0 676.5,519.5 677.5,520.9 678.5,521.4 679.5,521.8 680.5,522.3 681.5,522.9 682.5,523.4 683.5,523.9 684.5,524.4 685.5,525.0 686.5,525.5 687.5,526.0 688.5,526.6 689.5,527.6 690.5,528.7 691.5,529.8 692.5,529.6 693.5,526.3 694.5,522.9 695.5,519.5 696.5,522.3 697.5,528.2 698.5,533.3 699.5,533.3 700.5,533.3 701.5,533.3" stroke="#cacaca" stroke-width="1"/>
<polyline points="158.5,430.0 159.5,490.3 160.5,409.7 161.5,487.3 162.5,370.1 163.5,397.1 164.5,388.0 165.5,389.5 166.5,389.5 167.5,378.3 168.5,423.0 169.5,360.0 170.5,420.0 171.5,372.0 172.5,470.0 173.5,440.0 174.5,393.3 175.5,363.3 176.5,349.8 177.5,336.4 178.5,317.9 179.5,299.4 180.5,250.0 181.5,212.5 182.5,183.5 183.5,157.8 184.5,149.3 185.5,147.8 186.5,146.3 187.5,135.6 188.5,122.1 189.5,113.4 190.5,106.0 191.5,99.8 192.5,93.9 193.5,89.0 194.5,84.1 195.5,82.2 196.5,81.0 197.5,85.1 198.5,97.2 199.5,100.7 200.5,99.3 201.5,82.1 202.5,79.7 203.5,77.2 204.5,75.9 205.5,74.5 206.5,73.2 207.5,72.6 208.5,72.9 209.5,73.1 210.5,73.3 211.5,73.6 212.5,73.6 213.5,73.6 214.5,73.6 215.5,73.6 216.5,73.6 217.5,73.8 218.5,74.0 219.5,74.2 220.5,74.4 221.5,74.6 222.5,75.0 223.5,77.4 224.5,79.8 225.5,82.2 226.5,84.2 227.5,85.9 228.5,87.7 229.5,89.5 230.5,91.2 231.5,93.5 232.5,95.7 233.5,98.0 234.5,100.4 235.5,103.1 236.5,105.8 237.5,108.6 238.5,110.7 239.5,112.7 240.5,114.6 241.5,118.0 242.5,126.8 243.5,144.6 244.5,172.1 245.5,208.2 246.5,258.5 247.5,326.0 248.5,405.0 249.5,444.0 250.5,478.7 251.5,521.6 252.5,563.8 253.5,569.2 254.5,526.9 255.5,491.4 256.5,467.3 257.5,446.4 258.5,432.4 259.5,434.9 260.5,437.4 261.5,439.8 262.5,442.3 263.5,448.7 264.5,458.9 265.5,466.9 266.5,465.5 267.5,464.2 268.5,462.9 269.5,461.2 270.5,459.1 271.5,457.1 272.5,455.1 273.5,453.0 274.5,453.4 275.5,454.1 276.5,454.7 277.5,456.2 278.5,459.5 279.5,462.9 280.5,466.3 281.5,481.1 282.5,498.9 283.5,507.9 284.5,503.9 285.5,499.8 286.5,495.8 287.5,491.8 288.5,484.0 289.5,474.6 290.5,465.2 291.5,455.8 292.5,446.4 293.5,444.8 294.5,444.1 295.5,443.3 296.5,442.5 297.5,442.0 298.5,442.5 299.5,443.0 300.5,443.5 301.5,444.0 302.5,444.4 303.5,444.9 304.5,445.5 305.5,446.7 306.5,447.9 307.5,449.1 308.5,450.3 309.5,451.5 310.5,452.8 311.5,454.8 312.5,456.8 313.5,458.8 314.5,460.8 315.5,462.8 316.5,465.8 317.5,471.4 318.5,476.9 319.5,482.5 320.5,488.0 321.5,490.2 322.5,490.2 323.5,490.2 324.5,490.2 325.5,490.2 326.5,490.2 327.5,490.2 328.5,488.4 329.5,484.8 330.5,481.1 331.5,477.5 332.5,479.5 333.5,482.0 334.5,486.2 335.5,491.4 336.5,496.7 337.5,501.9 338.5,502.4 339.5,502.9 340.5,503.4 341.5,503.9 342.5,504.9 343.5,506.8 344.5,508.8 345.5,510.7 346.5,512.7 347.5,513.1 348.5,512.1 349.5,511.1 350.5,510.1 351.5,509.1 352.5,510.0 353.5,511.2 354.5,512.5 355.5,513.8 356.5,515.1 357.5,513.4 358.5,511.4 359.5,509.4 360.5,507.3 361.5,506.7 362.5,506.2 363.5,505.7 364.5,505.2 365.5,500.8 366.5,495.5 367.5,490.2 368.5,488.5 369.5,487.8 370.5,487.1 371.5,488.9 372.5,491.2 373.5,493.6 374.5,494.4 375.5,494.8 376.5,495.1 377.5,495.5 378.5,495.9 379.5,498.2 380.5,500.8 381.5,503.5 382.5,506.2 383.5,506.5 384.5,505.9 385.5,505.3 386.5,504.7 387.5,504.1 388.5,504.1 389.5,504.4 390.5,504.7 391.5,506.9 392.5,510.0 393.5,513.0 394.5,516.0 395.5,517.8 396.5,519.1 397.5,520.4 398.5,521.8 399.5,523.1 400.5,524.4 401.5,525.1 402.5,525.4 403.5,525.8 404.5,526.2 405.5,526.6 406.5,528.2 407.5,530.6 408.5,533.0 409.5,535.4 410.5,537.8 411.5,539.9 412.5,541.9 413.5,543.9 414.5,545.9 415.5,548.2 416.5,550.7 417.5,553.2 418.5,555.7 419.5,555.9 420.5,554.6 421.5,553.2 422.5,551.8 423.5,550.3 424.5,548.8 425.5,547.3 426.5,546.3 427.5,545.7 428.5,545.2 429.5,544.7 430.5,545.2 431.5,546.7 432.5,548.2 433.5,549.7 434.5,552.5 435.5,556.5 436.5,560.5 437.5,562.4 438.5,562.4 439.5,562.4 440.5,562.4 441.5,561.6 442.5,560.2 443.5,558.7 444.5,557.2 445.5,555.7 446.5,554.2 447.5,552.7 448.5,551.2 449.5,549.0 450.5,546.0 451.5,543.0 452.5,539.9 453.5,537.7 454.5,536.7 455.5,535.7 456.5,534.7 457.5,533.4 458.5,531.8 459.5,530.1 460.5,528.5 461.5,526.8 462.5,523.5 463.5,517.7 464.5,511.9 465.5,507.6 466.5,507.1 467.5,506.5 468.5,506.0 469.5,505.5 470.5,505.3 471.5,505.2 472.5,505.0 473.5,504.8 474.5,508.1 475.5,511.8 476.5,515.4 477.5,516.4 478.5,517.0 479.5,517.6 480.5,517.3 481.5,516.8 482.5,516.3 483.5,515.7 484.5,513.8 485.5,511.5 486.5,509.2 487.5,507.0 488.5,506.8 489.5,507.2 490.5,507.5 491.5,514.0 492.5,522.0 493.5,524.2 494.5,525.0 495.5,525.9 496.5,526.7 497.5,527.5 498.5,528.1 499.5,528.7 500.5,529.3 501.5,529.9 502.5,530.5 503.5,531.2 504.5,532.0 505.5,532.7 506.5,533.5 507.5,532.3 508.5,530.3 509.5,528.3 510.5,526.6 511.5,525.1 512.5,523.6 513.5,522.1 514.5,521.1 515.5,520.4 516.5,519.6 517.5,518.9 518.5,519.0 519.5,519.7 520.5,520.3 521.5,522.4 522.5,525.5 523.5,528.5 524.5,530.0 525.5,530.5 526.5,531.0 527.5,531.5 528.5,529.6 529.5,526.1 530.5,522.5 531.5,519.0 532.5,512.4 533.5,503.7 534.5,495.0 535.5,490.9 536.5,490.0 537.5,489.0 538.5,489.8 539.5,492.2 540.5,479.4 541.5,451.3 542.5,432.2 543.5,422.1 544.5,416.9 545.5,416.6 546.5,416.3 547.5,417.3 548.5,419.6 549.5,421.9 550.5,426.6 551.5,433.7 552.5,437.1 553.5,436.8 554.5,436.6 555.5,436.3 556.5,438.1 557.5,442.3 558.5,450.5 559.5,466.4 560.5,476.6 561.5,475.1 562.5,473.6 563.5,472.1 564.5,471.9 565.5,475.8 566.5,481.0 567.5,485.2 568.5,486.4 569.5,487.7 570.5,489.2 571.5,491.3 572.5,493.4 573.5,495.5 574.5,497.1 575.5,496.9 576.5,497.1 577.5,496.6 578.5,493.6 579.5,490.6 580.5,487.7 581.5,487.5 582.5,487.3 583.5,487.2 584.5,487.7 585.5,487.8 586.5,487.4 587.5,484.8 588.5,480.6 589.5,476.4 590.5,472.2 591.5,470.7 592.5,471.2 593.5,471.8 594.5,472.3 595.5,472.7 596.5,473.0 597.5,473.2 598.5,473.4 599.5,473.6 600.5,473.6 601.5,473.6 602.5,473.6 603.5,475.5 604.5,480.8 605.5,486.1 606.5,490.5 607.5,493.0 608.5,495.5 609.5,497.9 610.5,500.1 611.5,501.3 612.5,502.6 613.5,503.7 614.5,503.7 615.5,503.7 616.5,503.7 617.5,503.7 618.5,503.7 619.5,503.7 620.5,503.7 621.5,503.7 622.5,503.4 623.5,499.9 624.5,496.4 625.5,492.9 626.5,489.8 627.5,491.3 628.5,492.8 629.5,494.3 630.5,495.4 631.5,492.2 632.5,489.1 633.5,485.9 634.5,482.8 635.5,479.6 636.5,477.3 637.5,475.1 638.5,472.8 639.5,470.6 640.5,471.1 641.5,471.6 642.5,472.1 643.5,472.5 644.5,475.0 645.5,477.5 646.5,480.0 647.5,482.4 648.5,482.4 649.5,482.4 650.5,482.4 651.5,482.4 652.5,485.3 653.5,488.2 654.5,491.1 655.5,493.2 656.5,495.2 657.5,497.1 658.5,499.1 659.5,498.4 660.5,497.4 661.5,496.4 662.5,495.4 663.5,495.8 664.5,496.5 665.5,497.1 666.5,499.4 667.5,501.9 668.5,504.4 669.5,506.9 670.5,508.9 671.5,510.8 672.5,512.8 673.5,514.7 674.5,516.3 675.5,517.8 676.5,519.3 677.5,520.7 678.5,521.4 679.5,521.9 680.5,522.4 681.5,522.9 682.5,523.5 683.5,524.0 684.5,524.5 685.5,525.0 686.5,525.6 687.5,526.1 688.5,526.6 689.5,527.5 690.5,528.5 691.5,529.6 692.5,530.7 693.5,528.1 694.5,524.7 695.5,521.4 696.5,519.7 697.5,525.5 698.5,531.3 699.5,533.6 700.5,533.6 701.5,533.6" stroke="#c5c5c5" stroke-width="1"/>
<polyline points="158.5,430.0 159.5,490.3 160.5,409.7 161.5,487.3 162.5,370.1 163.5,397.1 164.5,388.0 165.5,389.5 166.5,389.5 167.5,378.3 168.5,423.0 169.5,360.0 170.5,420.0 171.5,372.0 172.5,470.0 173.5,440.0 174.5,393.3 175.5,363.3 176.5,349.8 177.5,336.4 178.5,317.9 179.5,299.4 180.5,250.0 181.5,212.5 182.5,183.5 183.5,157.8 184.5,149.3 185.5,147.8 186.5,146.3 187.5,135.6 188.5,122.1 189.5,113.4 190.5,106.0 191.5,99.8 192.5,93.9 193.5,89.0 194.5,84.1 195.5,82.2 196.5,81.0 197.5,85.1 198.5,97.2 199.5,100.7 200.5,99.3 201.5,82.1 202.5,79.7 203.5,77.2 204.5,75.9 205.5,74.5 206.5,73.2 207.5,72.6 208.5,72.9 209.5,73.1 210.5,73.3 211.5,73.6 212.5,73.6 213.5,73.6 214.5,73.6 215.5,73.6 216.5,73.6 217.5,73.8 218.5,74.0 219.5,74.2 220.5,74.4 221.5,74.6 222.5,75.0 223.5,77.4 224.5,79.8 225.5,82.2 226.5,84.2 227.5,85.9 228.5,87.7 229.5,89.5 230.5,91.2 231.5,93.5 232.5,95.7 233.5,98.0 234.5,100.4 235.5,103.1 236.5,105.8 237.5,108.6 238.5,110.7 239.5,112.7 240.5,114.6 241.5,118.0 242.5,126.8 243.5,144.6 244.5,172.1 245.5,208.2 246.5,258.5 247.5,326.0 248.5,405.0 249.5,444.0 250.5,477.6 251.5,518.0 252.5,560.0 253.5,577.2 254.5,537.2 255.5,502.8 256.5,475.7 257.5,454.8 258.5,433.8 259.5,433.9 260.5,436.4 261.5,438.9 262.5,441.3 263.5,444.6 264.5,454.8 265.5,465.1 266.5,466.1 267.5,464.8 268.5,463.5 269.5,462.0 270.5,460.0 271.5,457.9 272.5,455.9 273.5,453.9 274.5,453.2 275.5,453.8 276.5,454.5 277.5,455.2 278.5,458.2 279.5,461.6 280.5,465.0 281.5,474.1 282.5,491.8 283.5,509.6 284.5,505.5 285.5,501.5 286.5,497.5 287.5,493.4 288.5,487.8 289.5,478.4 290.5,469.0 291.5,459.6 292.5,450.3 293.5,445.2 294.5,444.4 295.5,443.7 296.5,442.9 297.5,442.2 298.5,442.4 299.5,442.9 300.5,443.4 301.5,443.9 302.5,444.4 303.5,444.8 304.5,445.3 305.5,446.3 306.5,447.5 307.5,448.7 308.5,449.9 309.5,451.1 310.5,452.3 311.5,454.1 312.5,456.1 313.5,458.1 314.5,460.1 315.5,462.1 316.5,464.1 317.5,469.3 318.5,474.8 319.5,480.4 320.5,485.9 321.5,490.4 322.5,490.4 323.5,490.4 324.5,490.3 325.5,490.3 326.5,490.3 327.5,490.3 328.5,490.0 329.5,486.3 330.5,482.7 331.5,479.1 332.5,478.6 333.5,481.1 334.5,484.2 335.5,489.5 336.5,494.7 337.5,500.0 338.5,502.4 339.5,502.9 340.5,503.4 341.5,503.9 342.5,504.4 343.5,506.2 344.5,508.1 345.5,510.1 346.5,512.0 347.5,513.7 348.5,512.7 349.5,511.7 350.5,510.7 351.5,509.7 352.5,509.6 353.5,510.9 354.5,512.2 355.5,513.5 356.5,514.8 357.5,514.4 358.5,512.4 359.5,510.4 360.5,508.3 361.5,507.1 362.5,506.6 363.5,506.1 364.5,505.6 365.5,503.2 366.5,497.8 367.5,492.5 368.5,489.0 369.5,488.3 370.5,487.6 371.5,488.1 372.5,490.5 373.5,492.8 374.5,494.4 375.5,494.8 376.5,495.2 377.5,495.6 378.5,496.0 379.5,497.3 380.5,499.9 381.5,502.6 382.5,505.3 383.5,507.0 384.5,506.4 385.5,505.8 386.5,505.1 387.5,504.5 388.5,504.2 389.5,504.5 390.5,504.8 391.5,506.0 392.5,509.0 393.5,512.0 394.5,515.0 395.5,517.5 396.5,518.8 397.5,520.1 398.5,521.5 399.5,522.8 400.5,524.1 401.5,525.1 402.5,525.5 403.5,525.9 404.5,526.3 405.5,526.7 406.5,527.5 407.5,529.9 408.5,532.3 409.5,534.7 410.5,537.1 411.5,539.4 412.5,541.4 413.5,543.4 414.5,545.4 415.5,547.5 416.5,550.0 417.5,552.5 418.5,555.0 419.5,556.7 420.5,555.4 421.5,554.0 422.5,552.7 423.5,551.2 424.5,549.7 425.5,548.2 426.5,546.8 427.5,546.3 428.5,545.7 429.5,545.2 430.5,544.9 431.5,546.4 432.5,547.9 433.5,549.5 434.5,551.2 435.5,555.2 436.5,559.2 437.5,562.8 438.5,562.8 439.5,562.8 440.5,562.7 441.5,562.6 442.5,561.1 443.5,559.6 444.5,558.2 445.5,556.7 446.5,555.2 447.5,553.7 448.5,552.1 449.5,550.6 450.5,547.6 451.5,544.6 452.5,541.5 453.5,538.5 454.5,537.5 455.5,536.5 456.5,535.4 457.5,534.4 458.5,532.8 459.5,531.2 460.5,529.5 461.5,527.9 462.5,526.2 463.5,520.4 464.5,514.6 465.5,508.8 466.5,507.7 467.5,507.2 468.5,506.6 469.5,506.1 470.5,505.8 471.5,505.7 472.5,505.5 473.5,505.3 474.5,507.1 475.5,510.7 476.5,514.4 477.5,516.6 478.5,517.2 479.5,517.8 480.5,518.0 481.5,517.5 482.5,517.0 483.5,516.4 484.5,515.2 485.5,512.9 486.5,510.6 487.5,508.4 488.5,507.1 489.5,507.5 490.5,507.9 491.5,511.3 492.5,519.3 493.5,524.4 494.5,525.2 495.5,526.0 496.5,526.8 497.5,527.6 498.5,528.4 499.5,529.0 500.5,529.6 501.5,530.2 502.5,530.8 503.5,531.4 504.5,532.2 505.5,532.9 506.5,533.7 507.5,533.6 508.5,531.6 509.5,529.6 510.5,527.7 511.5,526.2 512.5,524.7 513.5,523.2 514.5,521.9 515.5,521.1 516.5,520.4 517.5,519.7 518.5,519.2 519.5,519.9 520.5,520.6 521.5,521.7 522.5,524.7 523.5,527.8 524.5,530.3 525.5,530.8 526.5,531.3 527.5,531.8 528.5,531.5 529.5,528.0 530.5,524.4 531.5,520.9 532.5,516.4 533.5,507.7 534.5,499.0 535.5,491.8 536.5,490.8 537.5,489.9 538.5,489.3 539.5,491.8 540.5,491.2 541.5,463.0 542.5,436.7 543.5,426.6 544.5,417.6 545.5,417.2 546.5,416.9 547.5,416.8 548.5,419.2 549.5,421.5 550.5,424.3 551.5,431.4 552.5,437.7 553.5,437.4 554.5,437.2 555.5,436.9 556.5,436.3 557.5,440.8 558.5,445.3 559.5,461.0 560.5,477.3 561.5,477.2 562.5,476.1 563.5,474.9 564.5,473.8 565.5,477.5 566.5,482.6 567.5,487.7 568.5,489.3 569.5,490.5 570.5,491.7 571.5,493.6 572.5,495.6 573.5,497.6 574.5,499.6 575.5,499.7 576.5,499.6 577.5,499.6 578.5,496.9 579.5,493.7 580.5,490.5 581.5,489.3 582.5,488.9 583.5,488.5 584.5,488.6 585.5,488.6 586.5,488.2 587.5,486.8 588.5,482.6 589.5,478.4 590.5,474.1 591.5,470.9 592.5,471.4 593.5,471.9 594.5,472.4 595.5,472.7 596.5,473.0 597.5,473.2 598.5,473.5 599.5,473.7 600.5,473.7 601.5,473.7 602.5,473.7 603.5,473.8 604.5,479.1 605.5,484.5 606.5,489.8 607.5,492.3 608.5,494.8 609.5,497.2 610.5,499.7 611.5,501.0 612.5,502.3 613.5,503.6 614.5,503.8 615.5,503.8 616.5,503.8 617.5,503.8 618.5,503.8 619.5,503.8 620.5,503.8 621.5,503.8 622.5,503.8 623.5,501.0 624.5,497.5 625.5,494.0 626.5,490.5 627.5,491.0 628.5,492.5 629.5,494.0 630.5,495.5 631.5,493.3 632.5,490.1 633.5,487.0 634.5,483.8 635.5,480.6 636.5,478.1 637.5,475.9 638.5,473.6 639.5,471.4 640.5,471.0 641.5,471.5 642.5,472.0 643.5,472.5 644.5,474.4 645.5,476.9 646.5,479.3 647.5,481.8 648.5,482.6 649.5,482.5 650.5,482.5 651.5,482.5 652.5,484.5 653.5,487.5 654.5,490.4 655.5,492.7 656.5,494.7 657.5,496.7 658.5,498.7 659.5,498.9 660.5,497.9 661.5,496.8 662.5,495.8 663.5,495.8 664.5,496.5 665.5,497.1 666.5,498.9 667.5,501.3 668.5,503.8 669.5,506.3 670.5,508.5 671.5,510.4 672.5,512.4 673.5,514.4 674.5,516.1 675.5,517.6 676.5,519.0 677.5,520.5 678.5,521.5 679.5,522.0 680.5,522.5 681.5,523.0 682.5,523.5 683.5,524.1 684.5,524.6 685.5,525.1 686.5,525.6 687.5,526.1 688.5,526.7 689.5,527.3 690.5,528.3 691.5,529.4 692.5,530.5 693.5,529.9 694.5,526.6 695.5,523.3 696.5,520.1 697.5,522.8 698.5,528.5 699.5,533.9 700.5,533.9 701.5,533.9" stroke="#bfbfbf" stroke-width="1"/>
<polyline points="158.5,430.0 159.5,490.3 160.5,409.7 161.5,487.3 162.5,370.1 163.5,397.1 164.5,388.0 165.5,389.5 166.5,389.5 167.5,378.3 168.5,423.0 169.5,360.0 170.5,420.0 171.5,372.0 172.5,470.0 173.5,440.0 174.5,393.3 175.5,363.3 176.5,349.8 177.5,336.4 178.5,317.9 179.5,299.4 180.5,250.0 181.5,212.5 182.5,183.5 183.5,157.8 184.5,149.3 185.5,147.8 186.5,146.3 187.5,135.6 188.5,122.1 189.5,113.4 190.5,106.0 191.5,99.8 192.5,93.9 193.5,89.0 194.5,84.1 195.5,82.2 196.5,81.0 197.5,85.1 198.5,97.2 199.5,100.7 200.5,99.3 201.5,82.1 202.5,79.7 203.5,77.2 204.5,75.9 205.5,74.5 206.5,73.2 207.5,72.6 208.5,72.9 209.5,73.1 210.5,73.3 211.5,73.6 212.5,73.6 213.5,73.6 214.5,73.6 215.5,73.6 216.5,73.6 217.5,73.8 218.5,74.0 219.5,74.2 220.5,74.4 221.5,74.6 222.5,75.0 223.5,77.4 224.5,79.8 225.5,82.2 226.5,84.2 227.5,85.9 228.5,87.7 229.5,89.5 230.5,91.2 231.5,93.5 232.5,95.7 233.5,98.0 234.5,100.4 235.5,103.1 236.5,105.8 237.5,108.6 238.5,110.7 239.5,112.7 240.5,114.6 241.5,118.0 242.5,126.8 243.5,144.6 244.5,172.1 245.5,208.2 246.5,258.5 247.5,326.0 248.5,405.0 249.5,444.0 250.5,476.5 251.5,514.4 252.5,554.0 253.5,581.4 254.5,547.5 255.5,514.3 256.5,485.7 257.5,463.2 258.5,442.2 259.5,433.0 260.5,435.4 261.5,437.9 262.5,440.4 263.5,442.8 264.5,450.8 265.5,461.0 266.5,466.6 267.5,465.3 268.5,464.0 269.5,462.7 270.5,460.8 271.5,458.8 272.5,456.8 273.5,454.7 274.5,453.0 275.5,453.6 276.5,454.3 277.5,454.9 278.5,457.0 279.5,460.3 280.5,463.7 281.5,467.0 282.5,484.8 283.5,502.5 284.5,507.2 285.5,503.2 286.5,499.2 287.5,495.1 288.5,491.1 289.5,482.2 290.5,472.9 291.5,463.5 292.5,454.1 293.5,445.6 294.5,444.8 295.5,444.1 296.5,443.3 297.5,442.6 298.5,442.3 299.5,442.8 300.5,443.3 301.5,443.8 302.5,444.3 303.5,444.7 304.5,445.2 305.5,445.9 306.5,447.1 307.5,448.3 308.5,449.5 309.5,450.7 310.5,451.9 311.5,453.4 312.5,455.4 313.5,457.4 314.5,459.4 315.5,461.4 316.5,463.4 317.5,467.2 318.5,472.7 319.5,478.3 320.5,483.8 321.5,489.4 322.5,490.5 323.5,490.5 324.5,490.5 325.5,490.5 326.5,490.5 327.5,490.5 328.5,490.5 329.5,487.9 330.5,484.3 331.5,480.7 332.5,477.7 333.5,480.3 334.5,482.8 335.5,487.5 336.5,492.8 337.5,498.0 338.5,502.3 339.5,502.8 340.5,503.3 341.5,503.8 342.5,504.3 343.5,505.6 344.5,507.5 345.5,509.5 346.5,511.4 347.5,513.4 348.5,513.3 349.5,512.3 350.5,511.2 351.5,510.2 352.5,509.2 353.5,510.5 354.5,511.8 355.5,513.1 356.5,514.4 357.5,515.4 358.5,513.4 359.5,511.3 360.5,509.3 361.5,507.4 362.5,507.0 363.5,506.5 364.5,506.0 365.5,505.5 366.5,500.1 367.5,494.8 368.5,489.5 369.5,488.8 370.5,488.0 371.5,487.3 372.5,489.7 373.5,492.1 374.5,494.4 375.5,494.8 376.5,495.2 377.5,495.6 378.5,496.0 379.5,496.4 380.5,499.1 381.5,501.8 382.5,504.4 383.5,507.1 384.5,506.8 385.5,506.2 386.5,505.6 387.5,505.0 388.5,504.4 389.5,504.6 390.5,504.9 391.5,505.3 392.5,508.0 393.5,511.0 394.5,514.0 395.5,517.0 396.5,518.5 397.5,519.9 398.5,521.2 399.5,522.5 400.5,523.8 401.5,525.2 402.5,525.6 403.5,526.0 404.5,526.4 405.5,526.8 406.5,527.2 407.5,529.2 408.5,531.6 409.5,534.0 410.5,536.4 411.5,538.8 412.5,540.9 413.5,542.9 414.5,544.9 415.5,546.8 416.5,549.3 417.5,551.8 418.5,554.3 419.5,556.8 420.5,556.2 421.5,554.9 422.5,553.5 423.5,552.1 424.5,550.6 425.5,549.1 426.5,547.6 427.5,546.8 428.5,546.3 429.5,545.8 430.5,545.2 431.5,546.2 432.5,547.7 433.5,549.2 434.5,550.7 435.5,553.9 436.5,557.9 437.5,561.9 438.5,563.1 439.5,563.1 440.5,563.1 441.5,563.1 442.5,562.1 443.5,560.6 444.5,559.1 445.5,557.6 446.5,556.1 447.5,554.6 448.5,553.1 449.5,551.6 450.5,549.2 451.5,546.1 452.5,543.1 453.5,540.1 454.5,538.3 455.5,537.2 456.5,536.2 457.5,535.2 458.5,533.8 459.5,532.2 460.5,530.6 461.5,528.9 462.5,527.3 463.5,523.2 464.5,517.3 465.5,511.5 466.5,508.3 467.5,507.8 468.5,507.3 469.5,506.7 470.5,506.4 471.5,506.2 472.5,506.0 473.5,505.8 474.5,506.0 475.5,509.7 476.5,513.4 477.5,516.8 478.5,517.4 479.5,518.0 480.5,518.7 481.5,518.2 482.5,517.6 483.5,517.1 484.5,516.6 485.5,514.3 486.5,512.0 487.5,509.8 488.5,507.5 489.5,507.9 490.5,508.2 491.5,508.6 492.5,516.6 493.5,524.6 494.5,525.4 495.5,526.2 496.5,527.0 497.5,527.8 498.5,528.6 499.5,529.2 500.5,529.8 501.5,530.4 502.5,531.0 503.5,531.6 504.5,532.4 505.5,533.1 506.5,533.9 507.5,534.6 508.5,532.9 509.5,530.9 510.5,528.9 511.5,527.3 512.5,525.8 513.5,524.3 514.5,522.8 515.5,521.9 516.5,521.2 517.5,520.5 518.5,519.7 519.5,520.1 520.5,520.8 521.5,521.5 522.5,524.0 523.5,527.1 524.5,530.1 525.5,531.1 526.5,531.6 527.5,532.1 528.5,532.6 529.5,529.9 530.5,526.4 531.5,522.8 532.5,519.3 533.5,511.6 534.5,502.9 535.5,494.2 536.5,491.7 537.5,490.8 538.5,489.8 539.5,491.3 540.5,493.8 541.5,474.8 542.5,446.6 543.5,431.2 544.5,421.1 545.5,417.9 546.5,417.5 547.5,417.2 548.5,418.7 549.5,421.1 550.5,423.4 551.5,429.0 552.5,436.1 553.5,438.0 554.5,437.8 555.5,437.5 556.5,436.6 557.5,439.4 558.5,444.2 559.5,455.7 560.5,472.3 561.5,479.4 562.5,478.5 563.5,477.7 564.5,476.9 565.5,479.1 566.5,484.2 567.5,489.2 568.5,492.2 569.5,493.3 570.5,494.4 571.5,495.8 572.5,497.8 573.5,499.7 574.5,501.6 575.5,502.5 576.5,502.2 577.5,502.0 578.5,500.3 579.5,496.9 580.5,493.5 581.5,491.0 582.5,490.4 583.5,489.9 584.5,489.5 585.5,489.4 586.5,488.9 587.5,488.5 588.5,484.6 589.5,480.3 590.5,476.0 591.5,471.7 592.5,471.5 593.5,472.0 594.5,472.4 595.5,472.7 596.5,473.0 597.5,473.2 598.5,473.5 599.5,473.7 600.5,473.8 601.5,473.8 602.5,473.8 603.5,473.8 604.5,477.5 605.5,482.8 606.5,488.2 607.5,491.6 608.5,494.1 609.5,496.6 610.5,499.0 611.5,500.7 612.5,502.0 613.5,503.3 614.5,503.9 615.5,503.9 616.5,503.9 617.5,503.9 618.5,503.9 619.5,503.9 620.5,503.9 621.5,503.9 622.5,503.9 623.5,502.2 624.5,498.7 625.5,495.2 626.5,491.7 627.5,490.7 628.5,492.2 629.5,493.7 630.5,495.2 631.5,494.3 632.5,491.2 633.5,488.0 634.5,484.9 635.5,481.7 636.5,478.9 637.5,476.6 638.5,474.4 639.5,472.1 640.5,471.0 641.5,471.5 642.5,472.0 643.5,472.5 644.5,473.7 645.5,476.2 646.5,478.7 647.5,481.2 648.5,482.7 649.5,482.7 650.5,482.7 651.5,482.6 652.5,483.8 653.5,486.7 654.5,489.7 655.5,492.3 656.5,494.3 657.5,496.3 658.5,498.3 659.5,499.3 660.5,498.3 661.5,497.3 662.5,496.3 663.5,495.8 664.5,496.4 665.5,497.1 666.5,498.3 667.5,500.8 668.5,503.3 669.5,505.8 670.5,508.1 671.5,510.0 672.5,512.0 673.5,514.0 674.5,515.8 675.5,517.3 676.5,518.8 677.5,520.3 678.5,521.6 679.5,522.1 680.5,522.6 681.5,523.1 682.5,523.6 683.5,524.1 684.5,524.6 685.5,525.2 686.5,525.7 687.5,526.2 688.5,526.7 689.5,527.2 690.5,528.2 691.5,529.2 692.5,530.2 693.5,531.3 694.5,528.4 695.5,525.2 696.5,522.0 697.5,520.0 698.5,525.7 699.5,531.4 700.5,534.2 701.5,534.2" stroke="#bababa" stroke-width="1"/>
<polyline points="158.5,430.0 159.5,490.3 160.5,409.7 161.5,487.3 162.5,370.1 163.5,397.1 164.5,388.0 165.5,389.5 166.5,389.5 167.5,378.3 168.5,423.0 169.5,360.0 170.5,420.0 171.5,372.0 172.5,470.0 173.5,440.0 174.5,393.3 175.5,363.3 176.5,349.8 177.5,336.4 178.5,317.9 179.5,299.4 180.5,250.0 181.5,212.5 182.5,183.5 183.5,157.8 184.5,149.3 185.5,147.8 186.5,146.3 187.5,135.6 188.5,122.1 189.5,113.4 190.5,106.0 191.5,99.8 192.5,93.9 193.5,89.0 194.5,84.1 195.5,82.2 196.5,81.0 197.5,85.1 198.5,97.2 199.5,100.7 200.5,99.3 201.5,82.1 202.5,79.7 203.5,77.2 204.5,75.9 205.5,74.5 206.5,73.2 207.5,72.6 208.5,72.9 209.5,73.1 210.5,73.3 211.5,73.6 212.5,73.6 213.5,73.6 214.5,73.6 215.5,73.6 216.5,73.6 217.5,73.8 218.5,74.0 219.5,74.2 220.5,74.4 221.5,74.6 222.5,75.0 223.5,77.4 224.5,79.8 225.5,82.2 226.5,84.2 227.5,85.9 228.5,87.7 229.5,89.5 230.5,91.2 231.5,93.5 232.5,95.7 233.5,98.0 234.5,100.4 235.5,103.1 236.5,105.8 237.5,108.6 238.5,110.7 239.5,112.7 240.5,114.6 241.5,118.0 242.5,126.8 243.5,144.6 244.5,172.1 245.5,208.2 246.5,258.5 247.5,326.0 248.5,405.0 249.5,444.0 250.5,475.4 251.5,510.8 252.5,548.0 253.5,576.1 254.5,557.8 255.5,525.7 256.5,497.1 257.5,471.6 258.5,450.6 259.5,432.0 260.5,434.5 261.5,436.9 262.5,439.4 263.5,441.9 264.5,446.7 265.5,456.9 266.5,467.2 267.5,465.9 268.5,464.6 269.5,463.3 270.5,461.7 271.5,459.6 272.5,457.6 273.5,455.6 274.5,453.6 275.5,453.4 276.5,454.1 277.5,454.7 278.5,455.7 279.5,459.0 280.5,462.4 281.5,465.8 282.5,477.8 283.5,495.5 284.5,508.9 285.5,504.9 286.5,500.8 287.5,496.8 288.5,492.8 289.5,486.1 290.5,476.7 291.5,467.3 292.5,457.9 293.5,448.6 294.5,445.2 295.5,444.5 296.5,443.7 297.5,443.0 298.5,442.2 299.5,442.7 300.5,443.2 301.5,443.7 302.5,444.2 303.5,444.7 304.5,445.1 305.5,445.6 306.5,446.8 307.5,448.0 308.5,449.2 309.5,450.4 310.5,451.6 311.5,452.8 312.5,454.8 313.5,456.7 314.5,458.7 315.5,460.7 316.5,462.7 317.5,465.1 318.5,470.6 319.5,476.2 320.5,481.7 321.5,487.3 322.5,490.6 323.5,490.6 324.5,490.6 325.5,490.6 326.5,490.6 327.5,490.6 328.5,490.6 329.5,489.5 330.5,485.9 331.5,482.3 332.5,478.7 333.5,479.4 334.5,481.9 335.5,485.6 336.5,490.8 337.5,496.1 338.5,501.3 339.5,502.8 340.5,503.3 341.5,503.8 342.5,504.3 343.5,504.9 344.5,506.9 345.5,508.8 346.5,510.8 347.5,512.8 348.5,513.8 349.5,512.8 350.5,511.8 351.5,510.8 352.5,509.8 353.5,510.2 354.5,511.5 355.5,512.8 356.5,514.1 357.5,515.4 358.5,514.4 359.5,512.3 360.5,510.3 361.5,508.3 362.5,507.3 363.5,506.8 364.5,506.3 365.5,505.8 366.5,502.5 367.5,497.1 368.5,491.8 369.5,489.2 370.5,488.5 371.5,487.8 372.5,488.9 373.5,491.3 374.5,493.7 375.5,494.9 376.5,495.3 377.5,495.6 378.5,496.0 379.5,496.4 380.5,498.2 381.5,500.9 382.5,503.6 383.5,506.2 384.5,507.3 385.5,506.7 386.5,506.1 387.5,505.4 388.5,504.8 389.5,504.7 390.5,505.0 391.5,505.3 392.5,507.0 393.5,510.0 394.5,513.1 395.5,516.1 396.5,518.2 397.5,519.6 398.5,520.9 399.5,522.2 400.5,523.5 401.5,524.9 402.5,525.7 403.5,526.1 404.5,526.5 405.5,526.9 406.5,527.3 407.5,528.5 408.5,530.9 409.5,533.3 410.5,535.7 411.5,538.1 412.5,540.4 413.5,542.3 414.5,544.3 415.5,546.3 416.5,548.5 417.5,551.1 418.5,553.6 419.5,556.1 420.5,557.1 421.5,555.7 422.5,554.4 423.5,553.0 424.5,551.5 425.5,550.0 426.5,548.5 427.5,547.3 428.5,546.8 429.5,546.3 430.5,545.8 431.5,545.9 432.5,547.4 433.5,548.9 434.5,550.4 435.5,552.7 436.5,556.7 437.5,560.7 438.5,563.5 439.5,563.5 440.5,563.4 441.5,563.4 442.5,563.0 443.5,561.5 444.5,560.1 445.5,558.6 446.5,557.1 447.5,555.6 448.5,554.1 449.5,552.6 450.5,550.8 451.5,547.7 452.5,544.7 453.5,541.7 454.5,539.0 455.5,538.0 456.5,537.0 457.5,536.0 458.5,534.9 459.5,533.3 460.5,531.6 461.5,530.0 462.5,528.4 463.5,525.9 464.5,520.1 465.5,514.3 466.5,509.0 467.5,508.4 468.5,507.9 469.5,507.4 470.5,506.9 471.5,506.7 472.5,506.5 473.5,506.3 474.5,506.2 475.5,508.7 476.5,512.4 477.5,516.1 478.5,517.6 479.5,518.3 480.5,518.9 481.5,518.8 482.5,518.3 483.5,517.8 484.5,517.3 485.5,515.7 486.5,513.5 487.5,511.2 488.5,508.9 489.5,508.2 490.5,508.6 491.5,509.0 492.5,513.9 493.5,521.9 494.5,525.6 495.5,526.4 496.5,527.2 497.5,528.0 498.5,528.8 499.5,529.5 500.5,530.1 501.5,530.7 502.5,531.3 503.5,531.9 504.5,532.6 505.5,533.3 506.5,534.1 507.5,534.8 508.5,534.2 509.5,532.2 510.5,530.2 511.5,528.4 512.5,526.9 513.5,525.4 514.5,523.9 515.5,522.7 516.5,522.0 517.5,521.3 518.5,520.5 519.5,520.4 520.5,521.0 521.5,521.7 522.5,523.3 523.5,526.3 524.5,529.4 525.5,531.4 526.5,531.9 527.5,532.4 528.5,532.9 529.5,531.8 530.5,528.3 531.5,524.7 532.5,521.2 533.5,515.6 534.5,506.9 535.5,498.2 536.5,492.6 537.5,491.6 538.5,490.7 539.5,490.8 540.5,493.3 541.5,486.6 542.5,458.4 543.5,435.7 544.5,425.6 545.5,418.5 546.5,418.2 547.5,417.8 548.5,418.3 549.5,420.6 550.5,423.0 551.5,426.7 552.5,433.7 553.5,438.6 554.5,438.4 555.5,438.1 556.5,437.4 557.5,437.9 558.5,443.1 559.5,450.3 560.5,467.3 561.5,481.5 562.5,481.0 563.5,480.5 564.5,480.1 565.5,480.8 566.5,485.8 567.5,490.7 568.5,495.1 569.5,496.1 570.5,497.1 571.5,498.1 572.5,499.9 573.5,501.8 574.5,503.6 575.5,505.3 576.5,504.8 577.5,504.4 578.5,503.6 579.5,500.0 580.5,496.4 581.5,492.8 582.5,492.0 583.5,491.2 584.5,490.5 585.5,490.2 586.5,489.7 587.5,489.2 588.5,486.6 589.5,482.2 590.5,477.9 591.5,473.5 592.5,471.7 593.5,472.0 594.5,472.4 595.5,472.8 596.5,473.0 597.5,473.2 598.5,473.5 599.5,473.7 600.5,473.9 601.5,473.9 602.5,473.9 603.5,473.9 604.5,475.9 605.5,481.2 606.5,486.6 607.5,490.9 608.5,493.4 609.5,495.9 610.5,498.4 611.5,500.4 612.5,501.7 613.5,503.0 614.5,504.0 615.5,504.0 616.5,504.0 617.5,504.0 618.5,504.0 619.5,504.0 620.5,504.0 621.5,504.0 622.5,504.0 623.5,503.3 624.5,499.8 625.5,496.3 626.5,492.8 627.5,490.3 628.5,491.8 629.5,493.3 630.5,494.8 631.5,495.4 632.5,492.2 633.5,489.1 634.5,485.9 635.5,482.7 636.5,479.7 637.5,477.4 638.5,475.2 639.5,472.9 640.5,470.9 641.5,471.4 642.5,471.9 643.5,472.4 644.5,473.1 645.5,475.6 646.5,478.1 647.5,480.6 648.5,482.8 649.5,482.8 650.5,482.8 651.5,482.8 652.5,483.1 653.5,486.0 654.5,488.9 655.5,491.8 656.5,493.8 657.5,495.8 658.5,497.8 659.5,499.8 660.5,498.8 661.5,497.8 662.5,496.8 663.5,495.8 664.5,496.4 665.5,497.1 666.5,497.7 667.5,500.2 668.5,502.7 669.5,505.2 670.5,507.7 671.5,509.7 672.5,511.6 673.5,513.6 674.5,515.6 675.5,517.1 676.5,518.6 677.5,520.1 678.5,521.6 679.5,522.2 680.5,522.7 681.5,523.2 682.5,523.7 683.5,524.2 684.5,524.7 685.5,525.2 686.5,525.7 687.5,526.2 688.5,526.8 689.5,527.3 690.5,528.0 691.5,529.0 692.5,530.0 693.5,531.1 694.5,530.3 695.5,527.1 696.5,523.9 697.5,520.8 698.5,522.9 699.5,528.5 700.5,534.0 701.5,534.5" stroke="#b4b4b4" stroke-width="1"/>
<polyline points="158.5,430.0 159.5,490.3 160.5,409.7 161.5,487.3 162.5,370.1 163.5,397.1 164.5,388.0 165.5,389.5 166.5,389.5 167.5,378.3 168.5,423.0 169.5,360.0 170.5,420.0 171.5,372.0 172.5,470.0 173.5,440.0 174.5,393.3 175.5,363.3 176.5,349.8 177.5,336.4 178.5,317.9 179.5,299.4 180.5,250.0 181.5,212.5 182.5,183.5 183.5,157.8 184.5,149.3 185.5,147.8 186.5,146.3 187.5,135.6 188.5,122.1 189.5,113.4 190.5,106.0 191.5,99.8 192.5,93.9 193.5,89.0 194.5,84.1 195.5,82.2 196.5,81.0 197.5,85.1 198.5,97.2 199.5,100.7 200.5,99.3 201.5,82.1 202.5,79.7 203.5,77.2 204.5,75.9 205.5,74.5 206.5,73.2 207.5,72.6 208.5,72.9 209.5,73.1 210.5,73.3 211.5,73.6 212.5,73.6 213.5,73.6 214.5,73.6 215.5,73.6 216.5,73.6 217.5,73.8 218.5,74.0 219.5,74.2 220.5,74.4 221.5,74.6 222.5,75.0 223.5,77.4 224.5,79.8 225.5,82.2 226.5,84.2 227.5,85.9 228.5,87.7 229.5,89.5 230.5,91.2 231.5,93.5 232.5,95.7 233.5,98.0 234.5,100.4 235.5,103.1 236.5,105.8 237.5,108.6 238.5,110.7 239.5,112.7 240.5,114.6 241.5,118.0 242.5,126.8 243.5,144.6 244.5,172.1 245.5,208.2 246.5,258.5 247.5,326.0 248.5,405.0 249.5,444.0 250.5,474.2 251.5,507.2 252.5,542.0 253.5,570.7 254.5,568.1 255.5,537.2 256.5,508.6 257.5,480.0 258.5,459.0 259.5,438.0 260.5,433.5 261.5,436.0 262.5,438.4 263.5,440.9 264.5,443.4 265.5,452.9 266.5,463.1 267.5,466.4 268.5,465.1 269.5,463.8 270.5,462.5 271.5,460.5 272.5,458.5 273.5,456.4 274.5,454.4 275.5,453.2 276.5,453.9 277.5,454.5 278.5,455.2 279.5,457.7 280.5,461.1 281.5,464.5 282.5,470.7 283.5,488.5 284.5,506.2 285.5,506.5 286.5,502.5 287.5,498.5 288.5,494.5 289.5,489.9 290.5,480.5 291.5,471.1 292.5,461.8 293.5,452.4 294.5,445.6 295.5,444.8 296.5,444.1 297.5,443.4 298.5,442.6 299.5,442.6 300.5,443.1 301.5,443.6 302.5,444.1 303.5,444.6 304.5,445.0 305.5,445.5 306.5,446.4 307.5,447.6 308.5,448.8 309.5,450.0 310.5,451.2 311.5,452.4 312.5,454.1 313.5,456.1 314.5,458.1 315.5,460.1 316.5,462.1 317.5,464.1 318.5,468.5 319.5,474.1 320.5,479.6 321.5,485.2 322.5,490.7 323.5,490.7 324.5,490.7 325.5,490.7 326.5,490.7 327.5,490.7 328.5,490.7 329.5,490.7 330.5,487.5 331.5,483.9 332.5,480.2 333.5,478.5 334.5,481.0 335.5,483.6 336.5,488.9 337.5,494.1 338.5,499.4 339.5,502.7 340.5,503.2 341.5,503.7 342.5,504.2 343.5,504.7 344.5,506.3 345.5,508.2 346.5,510.2 347.5,512.1 348.5,514.1 349.5,513.4 350.5,512.4 351.5,511.4 352.5,510.4 353.5,509.8 354.5,511.1 355.5,512.4 356.5,513.7 357.5,515.0 358.5,515.3 359.5,513.3 360.5,511.3 361.5,509.3 362.5,507.7 363.5,507.2 364.5,506.7 365.5,506.2 366.5,504.8 367.5,499.4 368.5,494.1 369.5,489.7 370.5,489.0 371.5,488.3 372.5,488.2 373.5,490.6 374.5,492.9 375.5,494.9 376.5,495.3 377.5,495.7 378.5,496.1 379.5,496.5 380.5,497.3 381.5,500.0 382.5,502.7 383.5,505.4 384.5,507.7 385.5,507.1 386.5,506.5 387.5,505.9 388.5,505.3 389.5,504.8 390.5,505.1 391.5,505.4 392.5,506.0 393.5,509.1 394.5,512.1 395.5,515.1 396.5,518.0 397.5,519.3 398.5,520.6 399.5,521.9 400.5,523.3 401.5,524.6 402.5,525.8 403.5,526.2 404.5,526.6 405.5,527.0 406.5,527.4 407.5,527.8 408.5,530.2 409.5,532.6 410.5,535.0 411.5,537.4 412.5,539.8 413.5,541.8 414.5,543.8 415.5,545.8 416.5,547.8 417.5,550.3 418.5,552.9 419.5,555.4 420.5,557.9 421.5,556.6 422.5,555.2 423.5,553.9 424.5,552.4 425.5,550.9 426.5,549.4 427.5,547.9 428.5,547.3 429.5,546.8 430.5,546.3 431.5,545.8 432.5,547.1 433.5,548.6 434.5,550.1 435.5,551.7 436.5,555.4 437.5,559.4 438.5,563.4 439.5,563.8 440.5,563.8 441.5,563.8 442.5,563.8 443.5,562.5 444.5,561.0 445.5,559.5 446.5,558.1 447.5,556.6 448.5,555.1 449.5,553.6 450.5,552.0 451.5,549.3 452.5,546.3 453.5,543.3 454.5,540.2 455.5,538.8 456.5,537.8 457.5,536.8 458.5,535.8 459.5,534.3 460.5,532.7 461.5,531.1 462.5,529.4 463.5,527.8 464.5,522.8 465.5,517.0 466.5,511.2 467.5,509.1 468.5,508.5 469.5,508.0 470.5,507.5 471.5,507.2 472.5,507.0 473.5,506.9 474.5,506.7 475.5,507.7 476.5,511.4 477.5,515.1 478.5,517.8 479.5,518.5 480.5,519.1 481.5,519.5 482.5,519.0 483.5,518.5 484.5,518.0 485.5,517.1 486.5,514.9 487.5,512.6 488.5,510.3 489.5,508.6 490.5,508.9 491.5,509.3 492.5,511.2 493.5,519.2 494.5,525.8 495.5,526.6 496.5,527.4 497.5,528.2 498.5,529.0 499.5,529.8 500.5,530.4 501.5,531.0 502.5,531.6 503.5,532.2 504.5,532.8 505.5,533.5 506.5,534.3 507.5,535.0 508.5,535.5 509.5,533.5 510.5,531.5 511.5,529.5 512.5,528.0 513.5,526.5 514.5,525.0 515.5,523.5 516.5,522.8 517.5,522.1 518.5,521.3 519.5,520.6 520.5,521.3 521.5,521.9 522.5,522.6 523.5,525.6 524.5,528.7 525.5,531.7 526.5,532.2 527.5,532.7 528.5,533.2 529.5,533.7 530.5,530.2 531.5,526.7 532.5,523.1 533.5,519.6 534.5,510.9 535.5,502.2 536.5,493.5 537.5,492.5 538.5,491.6 539.5,490.6 540.5,492.7 541.5,495.2 542.5,470.2 543.5,442.0 544.5,430.2 545.5,420.1 546.5,418.8 547.5,418.5 548.5,418.1 549.5,420.2 550.5,422.5 551.5,424.9 552.5,431.4 553.5,438.5 554.5,439.0 555.5,438.7 556.5,438.1 557.5,437.2 558.5,442.0 559.5,447.6 560.5,462.3 561.5,479.6 562.5,483.5 563.5,483.3 564.5,483.2 565.5,483.5 566.5,487.3 567.5,492.2 568.5,497.0 569.5,498.9 570.5,499.8 571.5,500.6 572.5,502.1 573.5,503.8 574.5,505.6 575.5,507.4 576.5,507.4 577.5,506.8 578.5,506.1 579.5,503.2 580.5,499.4 581.5,495.6 582.5,493.5 583.5,492.6 584.5,491.6 585.5,491.0 586.5,490.4 587.5,489.9 588.5,488.6 589.5,484.2 590.5,479.8 591.5,475.3 592.5,471.8 593.5,472.1 594.5,472.5 595.5,472.8 596.5,473.0 597.5,473.3 598.5,473.5 599.5,473.8 600.5,474.0 601.5,474.0 602.5,474.0 603.5,474.0 604.5,474.2 605.5,479.6 606.5,484.9 607.5,490.2 608.5,492.7 609.5,495.2 610.5,497.7 611.5,500.1 612.5,501.4 613.5,502.7 614.5,504.0 615.5,504.1 616.5,504.1 617.5,504.1 618.5,504.1 619.5,504.1 620.5,504.1 621.5,504.1 622.5,504.1 623.5,504.1 624.5,501.0 625.5,497.5 626.5,494.0 627.5,490.5 628.5,491.4 629.5,492.9 630.5,494.4 631.5,495.9 632.5,493.3 633.5,490.1 634.5,486.9 635.5,483.8 636.5,480.6 637.5,478.2 638.5,475.9 639.5,473.7 640.5,471.4 641.5,471.4 642.5,471.9 643.5,472.4 644.5,472.9 645.5,475.0 646.5,477.5 647.5,480.0 648.5,482.4 649.5,482.9 650.5,482.9 651.5,482.9 652.5,482.9 653.5,485.3 654.5,488.2 655.5,491.1 656.5,493.4 657.5,495.4 658.5,497.4 659.5,499.4 660.5,499.3 661.5,498.3 662.5,497.2 663.5,496.2 664.5,496.4 665.5,497.1 666.5,497.7 667.5,499.7 668.5,502.2 669.5,504.7 670.5,507.1 671.5,509.3 672.5,511.2 673.5,513.2 674.5,515.2 675.5,516.9 676.5,518.4 677.5,519.8 678.5,521.3 679.5,522.2 680.5,522.7 681.5,523.2 682.5,523.8 683.5,524.3 684.5,524.8 685.5,525.3 686.5,525.8 687.5,526.3 688.5,526.8 689.5,527.3 690.5,527.8 691.5,528.8 692.5,529.8 693.5,530.8 694.5,531.9 695.5,529.0 696.5,525.9 697.5,522.8 698.5,520.1 699.5,525.6 700.5,531.1 701.5,534.8" stroke="#aeaeae" stroke-width="1"/>
<polyline points="158.5,430.0 159.5,490.3 160.5,409.7 161.5,487.3 162.5,370.1 163.5,397.1 164.5,388.0 165.5,389.5 166.5,389.5 167.5,378.3 168.5,423.0 169.5,360.0 170.5,420.0 171.5,372.0 172.5,470.0 173.5,440.0 174.5,393.3 175.5,363.3 176.5,349.8 177.5,336.4 178.5,317.9 179.5,299.4 180.5,250.0 181.5,212.5 182.5,183.5 183.5,157.8 184.5,149.3 185.5,147.8 186.5,146.3 187.5,135.6 188.5,122.1 189.5,113.4 190.5,106.0 191.5,99.8 192.5,93.9 193.5,89.0 194.5,84.1 195.5,82.2 196.5,81.0 197.5,85.1 198.5,97.2 199.5,100.7 200.5,99.3 201.5,82.1 202.5,79.7 203.5,77.2 204.5,75.9 205.5,74.5 206.5,73.2 207.5,72.6 208.5,72.9 209.5,73.1 210.5,73.3 211.5,73.6 212.5,73.6 213.5,73.6 214.5,73.6 215.5,73.6 216.5,73.6 217.5,73.8 218.5,74.0 219.5,74.2 220.5,74.4 221.5,74.6 222.5,75.0 223.5,77.4 224.5,79.8 225.5,82.2 226.5,84.2 227.5,85.9 228.5,87.7 229.5,89.5 230.5,91.2 231.5,93.5 232.5,95.7 233.5,98.0 234.5,100.4 235.5,103.1 236.5,105.8 237.5,108.6 238.5,110.7 239.5,112.7 240.5,114.6 241.5,118.0 242.5,126.8 243.5,144.6 244.5,172.1 245.5,208.2 246.5,258.5 247.5,326.0 248.5,405.0 249.5,444.0 250.5,473.1 251.5,503.6 252.5,536.0 253.5,565.4 254.5,578.4 255.5,548.7 256.5,520.0 257.5,491.4 258.5,467.4 259.5,446.5 260.5,432.5 261.5,435.0 262.5,437.5 263.5,440.0 264.5,442.4 265.5,448.8 266.5,459.1 267.5,467.0 268.5,465.7 269.5,464.4 270.5,463.1 271.5,461.3 272.5,459.3 273.5,457.3 274.5,455.3 275.5,453.3 276.5,453.6 277.5,454.3 278.5,455.0 279.5,456.5 280.5,459.8 281.5,463.2 282.5,466.6 283.5,481.4 284.5,499.2 285.5,508.2 286.5,504.2 287.5,500.2 288.5,496.2 289.5,492.1 290.5,484.4 291.5,475.0 292.5,465.6 293.5,456.2 294.5,446.8 295.5,445.2 296.5,444.5 297.5,443.7 298.5,443.0 299.5,442.5 300.5,443.0 301.5,443.5 302.5,444.0 303.5,444.5 304.5,445.0 305.5,445.4 306.5,446.0 307.5,447.2 308.5,448.4 309.5,449.6 310.5,450.8 311.5,452.0 312.5,453.4 313.5,455.4 314.5,457.4 315.5,459.4 316.5,461.4 317.5,463.4 318.5,466.4 319.5,472.0 320.5,477.5 321.5,483.1 322.5,488.7 323.5,490.9 324.5,490.9 325.5,490.9 326.5,490.9 327.5,490.9 328.5,490.9 329.5,490.9 330.5,489.1 331.5,485.4 332.5,481.8 333.5,478.2 334.5,480.2 335.5,482.7 336.5,486.9 337.5,492.2 338.5,497.4 339.5,502.7 340.5,503.2 341.5,503.7 342.5,504.2 343.5,504.7 344.5,505.6 345.5,507.6 346.5,509.5 347.5,511.5 348.5,513.5 349.5,513.9 350.5,512.9 351.5,511.9 352.5,510.9 353.5,509.9 354.5,510.8 355.5,512.1 356.5,513.4 357.5,514.7 358.5,516.0 359.5,514.3 360.5,512.3 361.5,510.3 362.5,508.2 363.5,507.6 364.5,507.1 365.5,506.6 366.5,506.1 367.5,501.7 368.5,496.4 369.5,491.1 370.5,489.5 371.5,488.8 372.5,488.0 373.5,489.8 374.5,492.2 375.5,494.5 376.5,495.3 377.5,495.7 378.5,496.1 379.5,496.5 380.5,496.9 381.5,499.1 382.5,501.8 383.5,504.5 384.5,507.2 385.5,507.6 386.5,507.0 387.5,506.4 388.5,505.8 389.5,505.2 390.5,505.2 391.5,505.5 392.5,505.9 393.5,508.1 394.5,511.1 395.5,514.1 396.5,517.2 397.5,519.0 398.5,520.3 399.5,521.7 400.5,523.0 401.5,524.3 402.5,525.6 403.5,526.3 404.5,526.7 405.5,527.1 406.5,527.5 407.5,527.9 408.5,529.5 409.5,531.9 410.5,534.3 411.5,536.7 412.5,539.2 413.5,541.3 414.5,543.3 415.5,545.3 416.5,547.3 417.5,549.6 418.5,552.1 419.5,554.7 420.5,557.2 421.5,557.4 422.5,556.1 423.5,554.7 424.5,553.3 425.5,551.8 426.5,550.3 427.5,548.8 428.5,547.8 429.5,547.3 430.5,546.8 431.5,546.3 432.5,546.8 433.5,548.4 434.5,549.9 435.5,551.4 436.5,554.2 437.5,558.2 438.5,562.2 439.5,564.2 440.5,564.1 441.5,564.1 442.5,564.1 443.5,563.4 444.5,561.9 445.5,560.5 446.5,559.0 447.5,557.5 448.5,556.0 449.5,554.5 450.5,553.0 451.5,550.9 452.5,547.9 453.5,544.9 454.5,541.8 455.5,539.6 456.5,538.6 457.5,537.6 458.5,536.6 459.5,535.4 460.5,533.7 461.5,532.1 462.5,530.5 463.5,528.9 464.5,525.6 465.5,519.7 466.5,513.9 467.5,509.7 468.5,509.2 469.5,508.7 470.5,508.1 471.5,507.7 472.5,507.5 473.5,507.4 474.5,507.2 475.5,507.1 476.5,510.4 477.5,514.1 478.5,517.8 479.5,518.7 480.5,519.3 481.5,520.0 482.5,519.7 483.5,519.2 484.5,518.7 485.5,518.2 486.5,516.3 487.5,514.0 488.5,511.7 489.5,509.5 490.5,509.3 491.5,509.7 492.5,510.0 493.5,516.5 494.5,524.5 495.5,526.7 496.5,527.5 497.5,528.4 498.5,529.2 499.5,530.0 500.5,530.6 501.5,531.2 502.5,531.8 503.5,532.4 504.5,533.0 505.5,533.7 506.5,534.5 507.5,535.2 508.5,536.0 509.5,534.8 510.5,532.8 511.5,530.8 512.5,529.1 513.5,527.6 514.5,526.1 515.5,524.6 516.5,523.6 517.5,522.9 518.5,522.1 519.5,521.4 520.5,521.5 521.5,522.2 522.5,522.8 523.5,524.9 524.5,528.0 525.5,531.0 526.5,532.5 527.5,533.0 528.5,533.5 529.5,534.0 530.5,532.1 531.5,528.6 532.5,525.0 533.5,521.5 534.5,514.9 535.5,506.2 536.5,497.5 537.5,493.4 538.5,492.5 539.5,491.5 540.5,492.2 541.5,494.8 542.5,481.9 543.5,453.8 544.5,434.7 545.5,424.6 546.5,419.4 547.5,419.1 548.5,418.8 549.5,419.8 550.5,422.1 551.5,424.4 552.5,429.1 553.5,436.2 554.5,439.6 555.5,439.3 556.5,438.9 557.5,438.3 558.5,440.9 559.5,446.8 560.5,457.3 561.5,475.0 562.5,485.9 563.5,486.1 564.5,486.3 565.5,486.7 566.5,488.9 567.5,493.7 568.5,498.4 569.5,501.7 570.5,502.5 571.5,503.2 572.5,504.3 573.5,505.9 574.5,507.6 575.5,509.2 576.5,510.0 577.5,509.2 578.5,508.3 579.5,506.3 580.5,502.3 581.5,498.4 582.5,495.1 583.5,493.9 584.5,492.8 585.5,491.8 586.5,491.2 587.5,490.6 588.5,490.0 589.5,486.1 590.5,481.6 591.5,477.2 592.5,472.7 593.5,472.2 594.5,472.5 595.5,472.8 596.5,473.0 597.5,473.3 598.5,473.5 599.5,473.8 600.5,474.0 601.5,474.1 602.5,474.1 603.5,474.1 604.5,474.1 605.5,478.0 606.5,483.3 607.5,488.7 608.5,492.0 609.5,494.5 610.5,497.0 611.5,499.5 612.5,501.1 613.5,502.4 614.5,503.7 615.5,504.2 616.5,504.2 617.5,504.2 618.5,504.2 619.5,504.2 620.5,504.2 621.5,504.2 622.5,504.2 623.5,504.2 624.5,502.1 625.5,498.6 626.5,495.1 627.5,491.6 628.5,491.1 629.5,492.6 630.5,494.1 631.5,495.6 632.5,494.3 633.5,491.1 634.5,488.0 635.5,484.8 636.5,481.7 637.5,479.0 638.5,476.7 639.5,474.5 640.5,472.2 641.5,471.3 642.5,471.8 643.5,472.3 644.5,472.8 645.5,474.3 646.5,476.8 647.5,479.3 648.5,481.8 649.5,483.1 650.5,483.1 651.5,483.1 652.5,483.1 653.5,484.5 654.5,487.5 655.5,490.4 656.5,492.9 657.5,494.9 658.5,496.9 659.5,498.9 660.5,499.7 661.5,498.7 662.5,497.7 663.5,496.7 664.5,496.4 665.5,497.0 666.5,497.7 667.5,499.1 668.5,501.6 669.5,504.1 670.5,506.6 671.5,508.9 672.5,510.9 673.5,512.8 674.5,514.8 675.5,516.6 676.5,518.1 677.5,519.6 678.5,521.1 679.5,522.3 680.5,522.8 681.5,523.3 682.5,523.8 683.5,524.3 684.5,524.8 685.5,525.3 686.5,525.8 687.5,526.3 688.5,526.9 689.5,527.4 690.5,527.9 691.5,528.6 692.5,529.6 693.5,530.6 694.5,531.6 695.5,530.9 696.5,527.8 697.5,524.8 698.5,521.7 699.5,522.7 700.5,528.2 701.5,533.5" stroke="#a9a9a9" stroke-width="1"/>
<polyline points="690.0,527.8 691.0,527.0 692.0,524.2 693.0,523.8 694.0,523.4 695.0,524.0 696.0,523.7 697.0,523.6 698.0,522.8 699.0,521.7 700.0,520.7 701.0,522.8 702.0,524.8 703.0,525.6 704.0,525.8 705.0,527.1 706.0,529.8 707.0,531.6 708.0,532.1 709.0,533.0 710.0,534.1 711.0,536.2 712.0,537.8 713.0,539.7 714.0,540.8 715.0,541.8 716.0,542.5 717.0,543.8 718.0,544.5 719.0,546.1 720.0,547.3 721.0,547.2 722.0,546.8 723.0,546.8 724.0,546.7 725.0,546.7 726.0,547.1 727.0,546.0 728.0,546.2 729.0,545.0 730.0,544.9 731.0,544.3 732.0,544.6 733.0,545.9 734.0,545.6 735.0,545.8 736.0,545.4 737.0,545.2 738.0,544.6 739.0,545.0 740.0,546.4 741.0,547.7 742.0,547.8 743.0,547.8 744.0,547.4 745.0,547.9 746.0,549.9 747.0,552.5 748.0,554.7 749.0,557.0 750.0,560.5 751.0,562.6 752.0,566.1 753.0,568.3 754.0,569.5 755.0,570.4 756.0,571.3 757.0,572.4 758.0,573.6 759.0,574.2 760.0,576.2 761.0,578.0 762.0,579.1 763.0,580.8 764.0,582.4 765.0,584.0 766.0,584.3 767.0,584.8 768.0,584.9 769.0,587.0 770.0,587.8 771.0,590.7 772.0,592.7 773.0,594.5 774.0,595.6 775.0,596.3 776.0,599.3 777.0,601.1 778.0,603.3 779.0,604.5 780.0,606.8 781.0,609.5 782.0,609.9 783.0,609.8 784.0,609.0 785.0,609.7 786.0,608.7 787.0,608.9 788.0,608.4 789.0,609.3 790.0,608.5 791.0,607.1 792.0,606.0 793.0,606.2 794.0,606.8 795.0,606.9 796.0,607.2 797.0,609.0 798.0,609.6 799.0,610.3 800.0,608.7 801.0,608.2 802.0,608.2 803.0,608.6 804.0,609.3 805.0,608.4 806.0,607.8 807.0,607.2 808.0,606.3 809.0,604.9 810.0,603.9 811.0,603.3 812.0,604.4 813.0,603.0 814.0,602.2 815.0,600.3 816.0,600.1 817.0,602.0 818.0,606.0 819.0,609.4 820.0,612.1 821.0,615.9 822.0,619.1 823.0,621.6 824.0,621.3 825.0,621.6 826.0,621.0 827.0,619.3 828.0,618.0 829.0,616.5 830.0,616.6 831.0,616.2 832.0,616.4 833.0,614.5 834.0,614.1 835.0,615.8 836.0,618.2 837.0,619.9 838.0,621.4 839.0,623.3 840.0,624.4 841.0,623.6 842.0,622.5 843.0,622.0 844.0,622.5 845.0,623.1 846.0,623.7 847.0,623.8 848.0,624.2 849.0,625.2 850.0,626.8 851.0,628.6 852.0,628.8 853.0,629.7 854.0,631.0 855.0,632.6 856.0,633.5 857.0,631.9 858.0,630.1 859.0,627.6 860.0,626.6 861.0,624.4 862.0,622.9 863.0,620.7 864.0,619.8 865.0,618.2 866.0,615.3 867.0,611.0 868.0,607.6 869.0,603.4 870.0,601.4 871.0,597.9 872.0,595.5 873.0,591.4 874.0,587.3 875.0,583.2 876.0,580.0 877.0,578.3 878.0,575.2 879.0,571.0 880.0,566.3 881.0,562.2 882.0,557.8 883.0,553.7 884.0,550.8 885.0,547.6 886.0,544.8 887.0,540.9 888.0,537.5 889.0,533.6 890.0,530.8 891.0,525.9 892.0,521.6 893.0,518.1 894.0,514.9 895.0,511.4 896.0,506.8 897.0,503.6 898.0,500.2 899.0,497.8 900.0,495.9 901.0,494.1 902.0,490.8 903.0,486.2 904.0,483.5 905.0,481.5 906.0,480.9 907.0,479.1 908.0,476.5 909.0,474.7 910.0,471.8 911.0,470.6 912.0,468.7 913.0,468.1 914.0,467.5 915.0,464.3 916.0,462.4 917.0,460.1 918.0,459.4 919.0,458.9 920.0,457.3 921.0,457.2 922.0,456.5 923.0,455.9 924.0,454.6 925.0,453.6 926.0,453.1 927.0,453.4 928.0,452.9 929.0,453.4 930.0,453.0 931.0,452.5 932.0,451.3 933.0,449.8 934.0,448.9 935.0,448.1 936.0,448.4 937.0,448.0 938.0,448.0 939.0,447.5 940.0,447.3 941.0,446.7 942.0,447.0 943.0,447.6 944.0,446.8 945.0,445.5 946.0,444.0 947.0,443.8 948.0,444.3 949.0,444.4 950.0,444.8 951.0,444.4 952.0,443.4 953.0,442.1 954.0,440.7 955.0,441.0 956.0,440.5 957.0,440.3 958.0,439.9 959.0,440.1 960.0,439.5 961.0,438.0 962.0,436.1 963.0,436.1 964.0,436.3 965.0,436.2 966.0,434.9 967.0,434.0 968.0,433.3 969.0,433.5 970.0,433.1 971.0,433.6 972.0,433.6 973.0,433.7 974.0,433.9 975.0,433.5 976.0,433.6 977.0,433.4 978.0,434.2 979.0,434.1 980.0,435.0 981.0,433.6 982.0,434.1 983.0,433.4 984.0,433.5 985.0,431.8 986.0,432.6 987.0,432.4 988.0,433.4 989.0,432.6 990.0,433.3 991.0,433.9" stroke="#e0e0e0" stroke-width="1"/>
<polyline points="690.0,527.0 691.0,526.0 692.0,526.1 693.0,525.2 694.0,525.5 695.0,523.5 696.0,524.3 697.0,524.5 698.0,523.8 699.0,522.5 700.0,521.2 701.0,522.1 702.0,523.0 703.0,524.5 704.0,526.1 705.0,527.6 706.0,530.1 707.0,531.9 708.0,532.3 709.0,531.5 710.0,531.4 711.0,534.4 712.0,536.7 713.0,539.1 714.0,540.4 715.0,542.2 716.0,542.9 717.0,542.9 718.0,543.3 719.0,545.3 720.0,547.6 721.0,547.3 722.0,548.2 723.0,547.2 724.0,548.1 725.0,546.8 726.0,546.6 727.0,545.2 728.0,545.5 729.0,544.5 730.0,545.1 731.0,545.8 732.0,545.8 733.0,546.8 734.0,546.1 735.0,546.8 736.0,545.2 737.0,545.8 738.0,544.5 739.0,546.2 740.0,546.1 741.0,546.0 742.0,545.7 743.0,546.5 744.0,546.6 745.0,547.0 746.0,549.3 747.0,553.3 748.0,556.9 749.0,558.5 750.0,561.7 751.0,564.8 752.0,568.6 753.0,569.2 754.0,570.3 755.0,568.2 756.0,569.4 757.0,573.0 758.0,574.1 759.0,574.2 760.0,575.0 761.0,577.6 762.0,580.5 763.0,582.3 764.0,583.2 765.0,584.6 766.0,585.3 767.0,587.7 768.0,589.4 769.0,591.2 770.0,591.2 771.0,591.7 772.0,593.7 773.0,596.2 774.0,597.7 775.0,597.6 776.0,598.4 777.0,601.3 778.0,600.1 779.0,602.5 780.0,604.4 781.0,606.3 782.0,611.0 783.0,611.1 784.0,610.8 785.0,610.4 786.0,609.7 787.0,610.2 788.0,610.1 789.0,609.9 790.0,608.7 791.0,608.3 792.0,607.5 793.0,609.4 794.0,609.0 795.0,609.5 796.0,608.6 797.0,607.0 798.0,606.5 799.0,607.9 800.0,608.9 801.0,609.1 802.0,607.1 803.0,612.1 804.0,609.6 805.0,608.9 806.0,608.1 807.0,609.1 808.0,607.0 809.0,604.7 810.0,603.6 811.0,603.6 812.0,602.2 813.0,602.0 814.0,601.9 815.0,600.2 816.0,598.5 817.0,599.8 818.0,604.0 819.0,607.0 820.0,610.1 821.0,614.3 822.0,618.5 823.0,622.0 824.0,620.4 825.0,620.8 826.0,617.0 827.0,616.0 828.0,621.9 829.0,621.9 830.0,620.3 831.0,619.6 832.0,619.6 833.0,618.8 834.0,618.1 835.0,619.0 836.0,619.9 837.0,626.2 838.0,628.0 839.0,631.1 840.0,632.6 841.0,631.2 842.0,632.1 843.0,631.2 844.0,627.6 845.0,627.5 846.0,619.3 847.0,620.4 848.0,614.6 849.0,619.6 850.0,627.2 851.0,628.5 852.0,628.5 853.0,628.6 854.0,631.0 855.0,631.0 856.0,627.8 857.0,625.5 858.0,623.2 859.0,621.8 860.0,622.2 861.0,622.1 862.0,627.3 863.0,627.8 864.0,626.1 865.0,620.1 866.0,616.7 867.0,613.6 868.0,610.8 869.0,609.8 870.0,607.7 871.0,604.7 872.0,608.8 873.0,607.5 874.0,597.3 875.0,592.2 876.0,586.6 877.0,583.0 878.0,581.0 879.0,579.5 880.0,575.6 881.0,570.9 882.0,566.2 883.0,562.6 884.0,558.2 885.0,554.7 886.0,550.3 887.0,547.7 888.0,543.6 889.0,540.3 890.0,535.2 891.0,530.8 892.0,527.2 893.0,524.5 894.0,522.1 895.0,518.5 896.0,515.4 897.0,511.7 898.0,507.9 899.0,502.0 900.0,499.1 901.0,494.8 902.0,492.7 903.0,489.5 904.0,489.4 905.0,488.4 906.0,487.7 907.0,487.8 908.0,489.4 909.0,486.4 910.0,482.2 911.0,482.4 912.0,480.4 913.0,478.9 914.0,473.4 915.0,470.6 916.0,468.4 917.0,467.8 918.0,465.9 919.0,465.0 920.0,464.3 921.0,463.9 922.0,463.0 923.0,462.5 924.0,462.8 925.0,462.2 926.0,463.2 927.0,463.9 928.0,463.4 929.0,461.9 930.0,460.7 931.0,455.4 932.0,453.0 933.0,453.3 934.0,450.0 935.0,447.5 936.0,446.5 937.0,446.9 938.0,444.5 939.0,443.7 940.0,443.4 941.0,447.9 942.0,447.7 943.0,447.5 944.0,447.5 945.0,447.4 946.0,446.4 947.0,445.3 948.0,444.2 949.0,445.5 950.0,444.1 951.0,442.9 952.0,441.5 953.0,442.3 954.0,441.7 955.0,440.9 956.0,439.3 957.0,439.5 958.0,440.3 959.0,439.2 960.0,437.5 961.0,436.0 962.0,436.5 963.0,435.8 964.0,435.0 965.0,434.8 966.0,435.3 967.0,435.4 968.0,434.8 969.0,435.2 970.0,434.9 971.0,434.7 972.0,434.8 973.0,434.0 974.0,433.7 975.0,433.4 976.0,433.5 977.0,433.3 978.0,432.3 979.0,432.2 980.0,433.5 981.0,434.2 982.0,435.7 983.0,435.1 984.0,434.9 985.0,433.8 986.0,433.6 987.0,433.6 988.0,434.3 989.0,433.8 990.0,433.9 991.0,433.4" stroke="#dedede" stroke-width="1"/>
<polyline points="690.0,527.2 691.0,526.9 692.0,527.4 693.0,527.1 694.0,526.5 695.0,523.0 696.0,522.3 697.0,523.3 698.0,523.9 699.0,523.0 700.0,522.1 701.0,523.5 702.0,525.7 703.0,526.5 704.0,527.7 705.0,528.9 706.0,530.6 707.0,532.1 708.0,532.7 709.0,532.7 710.0,531.9 711.0,534.4 712.0,538.0 713.0,539.8 714.0,541.1 715.0,541.6 716.0,543.1 717.0,543.5 718.0,546.3 719.0,549.0 720.0,550.8 721.0,547.9 722.0,547.5 723.0,545.9 724.0,547.2 725.0,545.6 726.0,544.1 727.0,543.5 728.0,544.4 729.0,545.0 730.0,546.4 731.0,546.0 732.0,547.0 733.0,549.5 734.0,549.9 735.0,548.3 736.0,544.6 737.0,545.0 738.0,543.0 739.0,543.4 740.0,543.2 741.0,544.1 742.0,545.6 743.0,545.4 744.0,545.7 745.0,546.7 746.0,549.8 747.0,553.4 748.0,556.4 749.0,560.3 750.0,562.8 751.0,565.1 752.0,568.4 753.0,569.5 754.0,572.0 755.0,568.2 756.0,569.7 757.0,573.8 758.0,574.7 759.0,576.5 760.0,577.6 761.0,580.1 762.0,581.8 763.0,583.4 764.0,584.2 765.0,586.1 766.0,587.1 767.0,588.7 768.0,589.8 769.0,592.5 770.0,593.9 771.0,594.8 772.0,597.5 773.0,598.4 774.0,600.6 775.0,597.2 776.0,598.5 777.0,599.5 778.0,598.5 779.0,598.7 780.0,601.4 781.0,603.5 782.0,609.6 783.0,612.5 784.0,612.5 785.0,610.5 786.0,608.9 787.0,608.8 788.0,611.2 789.0,611.3 790.0,610.8 791.0,609.2 792.0,609.5 793.0,611.2 794.0,611.6 795.0,610.3 796.0,610.6 797.0,608.2 798.0,608.0 799.0,608.2 800.0,609.1 801.0,609.5 802.0,604.2 803.0,616.0 804.0,615.6 805.0,612.8 806.0,610.6 807.0,608.7 808.0,608.1 809.0,607.2 810.0,604.6 811.0,604.4 812.0,601.6 813.0,599.6 814.0,598.9 815.0,598.8 816.0,599.3 817.0,601.7 818.0,606.6 819.0,610.3 820.0,614.5 821.0,619.2 822.0,621.2 823.0,623.1 824.0,618.4 825.0,619.1 826.0,615.4 827.0,615.9 828.0,622.8 829.0,628.3 830.0,625.0 831.0,622.8 832.0,621.9 833.0,621.0 834.0,619.4 835.0,619.7 836.0,621.7 837.0,628.5 838.0,635.1 839.0,638.1 840.0,641.3 841.0,641.0 842.0,642.8 843.0,641.1 844.0,633.4 845.0,628.8 846.0,622.4 847.0,618.4 848.0,614.0 849.0,610.4 850.0,622.2 851.0,626.7 852.0,626.2 853.0,627.2 854.0,628.5 855.0,629.6 856.0,625.4 857.0,621.0 858.0,618.9 859.0,616.4 860.0,617.1 861.0,619.6 862.0,627.5 863.0,632.6 864.0,630.9 865.0,624.9 866.0,619.3 867.0,617.4 868.0,613.9 869.0,612.5 870.0,611.9 871.0,610.1 872.0,613.3 873.0,618.6 874.0,611.7 875.0,600.5 876.0,594.1 877.0,588.7 878.0,587.2 879.0,585.2 880.0,582.8 881.0,578.3 882.0,573.6 883.0,569.1 884.0,563.9 885.0,560.2 886.0,556.5 887.0,553.2 888.0,549.6 889.0,545.1 890.0,542.2 891.0,536.9 892.0,533.0 893.0,528.4 894.0,526.9 895.0,526.2 896.0,524.5 897.0,520.8 898.0,516.2 899.0,510.0 900.0,503.7 901.0,500.2 902.0,497.5 903.0,494.5 904.0,492.8 905.0,492.5 906.0,493.6 907.0,497.1 908.0,500.0 909.0,501.8 910.0,496.5 911.0,492.2 912.0,489.9 913.0,488.1 914.0,484.2 915.0,480.0 916.0,475.6 917.0,472.7 918.0,470.4 919.0,471.0 920.0,472.0 921.0,470.7 922.0,469.4 923.0,468.1 924.0,470.1 925.0,471.1 926.0,471.4 927.0,471.3 928.0,472.0 929.0,471.1 930.0,468.8 931.0,461.7 932.0,455.0 933.0,451.0 934.0,449.4 935.0,446.7 936.0,444.2 937.0,442.9 938.0,441.6 939.0,439.8 940.0,440.0 941.0,443.8 942.0,448.6 943.0,450.4 944.0,448.8 945.0,447.4 946.0,446.2 947.0,446.4 948.0,446.0 949.0,444.8 950.0,443.7 951.0,442.2 952.0,441.0 953.0,440.6 954.0,440.0 955.0,440.7 956.0,439.6 957.0,439.2 958.0,438.2 959.0,436.9 960.0,436.0 961.0,436.0 962.0,436.4 963.0,436.7 964.0,436.1 965.0,434.6 966.0,434.2 967.0,433.4 968.0,433.7 969.0,432.9 970.0,432.4 971.0,433.0 972.0,432.5 973.0,433.9 974.0,433.4 975.0,433.3 976.0,432.0 977.0,431.1 978.0,431.0 979.0,431.0 980.0,432.0 981.0,431.3 982.0,431.8 983.0,432.6 984.0,433.6 985.0,433.6 986.0,433.2 987.0,433.1 988.0,432.9 989.0,433.2 990.0,433.8 991.0,434.1" stroke="#dcdcdc" stroke-width="1"/>
<polyline points="690.0,525.5 691.0,526.4 692.0,528.1 693.0,527.5 694.0,525.7 695.0,521.2 696.0,522.1 697.0,521.9 698.0,524.2 699.0,524.0 700.0,524.4 701.0,524.9 702.0,525.8 703.0,526.8 704.0,527.9 705.0,528.1 706.0,529.5 707.0,530.4 708.0,532.8 709.0,532.7 710.0,532.2 711.0,534.5 712.0,539.0 713.0,539.4 714.0,540.4 715.0,541.4 716.0,542.5 717.0,543.7 718.0,545.5 719.0,548.9 720.0,550.4 721.0,550.0 722.0,549.1 723.0,547.5 724.0,547.7 725.0,546.7 726.0,544.4 727.0,543.2 728.0,543.7 729.0,544.0 730.0,545.3 731.0,545.9 732.0,546.7 733.0,551.7 734.0,550.6 735.0,551.0 736.0,546.9 737.0,546.7 738.0,544.1 739.0,542.6 740.0,543.7 741.0,544.4 742.0,547.1 743.0,547.6 744.0,548.2 745.0,547.9 746.0,550.6 747.0,553.7 748.0,557.4 749.0,559.7 750.0,561.6 751.0,564.8 752.0,570.9 753.0,571.9 754.0,573.8 755.0,567.5 756.0,569.1 757.0,572.8 758.0,575.4 759.0,577.6 760.0,578.7 761.0,580.2 762.0,581.2 763.0,582.6 764.0,584.9 765.0,586.7 766.0,588.6 767.0,588.2 768.0,589.6 769.0,592.5 770.0,596.2 771.0,597.1 772.0,599.6 773.0,602.8 774.0,604.1 775.0,601.3 776.0,597.8 777.0,600.5 778.0,597.6 779.0,595.2 780.0,597.1 781.0,600.3 782.0,606.3 783.0,611.2 784.0,612.0 785.0,610.7 786.0,610.9 787.0,610.8 788.0,610.7 789.0,611.7 790.0,611.7 791.0,610.9 792.0,610.4 793.0,612.9 794.0,615.5 795.0,614.3 796.0,613.2 797.0,609.9 798.0,608.0 799.0,608.2 800.0,609.6 801.0,610.0 802.0,605.3 803.0,615.2 804.0,619.0 805.0,614.9 806.0,612.4 807.0,612.6 808.0,611.7 809.0,609.0 810.0,604.4 811.0,604.0 812.0,601.9 813.0,599.0 814.0,598.3 815.0,598.4 816.0,597.9 817.0,600.5 818.0,606.6 819.0,610.8 820.0,613.4 821.0,618.4 822.0,622.6 823.0,625.0 824.0,621.6 825.0,620.2 826.0,615.7 827.0,612.0 828.0,619.1 829.0,630.9 830.0,631.0 831.0,628.8 832.0,626.9 833.0,624.1 834.0,621.4 835.0,621.6 836.0,624.5 837.0,630.8 838.0,638.7 839.0,643.2 840.0,646.8 841.0,648.4 842.0,648.7 843.0,649.0 844.0,642.1 845.0,634.9 846.0,626.3 847.0,618.8 848.0,611.2 849.0,607.6 850.0,615.1 851.0,625.1 852.0,629.7 853.0,630.0 854.0,631.4 855.0,631.1 856.0,627.0 857.0,620.6 858.0,613.4 859.0,611.5 860.0,612.2 861.0,615.2 862.0,622.3 863.0,629.4 864.0,634.4 865.0,631.7 866.0,626.2 867.0,620.5 868.0,617.7 869.0,616.0 870.0,615.7 871.0,615.7 872.0,621.3 873.0,626.6 874.0,624.1 875.0,616.8 876.0,603.5 877.0,596.9 878.0,591.8 879.0,589.7 880.0,587.0 881.0,583.9 882.0,579.3 883.0,574.6 884.0,571.2 885.0,568.0 886.0,564.4 887.0,561.2 888.0,557.2 889.0,553.8 890.0,550.0 891.0,546.0 892.0,541.4 893.0,536.4 894.0,532.7 895.0,531.5 896.0,529.8 897.0,527.5 898.0,521.8 899.0,515.5 900.0,508.4 901.0,503.6 902.0,499.8 903.0,497.8 904.0,496.7 905.0,496.5 906.0,496.8 907.0,499.1 908.0,504.1 909.0,506.0 910.0,505.1 911.0,502.8 912.0,498.8 913.0,496.2 914.0,493.1 915.0,489.2 916.0,485.1 917.0,480.9 918.0,478.1 919.0,477.1 920.0,476.5 921.0,475.6 922.0,475.5 923.0,475.1 924.0,476.7 925.0,477.4 926.0,479.6 927.0,480.3 928.0,480.3 929.0,479.6 930.0,478.5 931.0,471.2 932.0,464.0 933.0,457.7 934.0,450.8 935.0,448.1 936.0,445.6 937.0,442.4 938.0,438.3 939.0,435.4 940.0,435.1 941.0,437.0 942.0,442.5 943.0,446.8 944.0,451.4 945.0,449.5 946.0,448.5 947.0,448.4 948.0,449.2 949.0,449.0 950.0,446.4 951.0,443.8 952.0,442.5 953.0,440.7 954.0,439.7 955.0,438.5 956.0,438.9 957.0,438.4 958.0,438.1 959.0,437.4 960.0,437.6 961.0,436.9 962.0,436.8 963.0,436.6 964.0,435.6 965.0,435.6 966.0,435.1 967.0,435.6 968.0,434.4 969.0,433.8 970.0,432.2 971.0,432.0 972.0,432.2 973.0,433.5 974.0,433.1 975.0,431.4 976.0,430.6 977.0,430.8 978.0,432.6 979.0,432.4 980.0,432.7 981.0,432.4 982.0,433.5 983.0,433.5 984.0,431.9 985.0,431.9 986.0,432.1 987.0,433.7 988.0,433.0 989.0,432.8 990.0,433.3 991.0,433.9" stroke="#dadada" stroke-width="1"/>
<polyline points="690.0,526.8 691.0,526.3 692.0,528.4 693.0,526.8 694.0,526.1 695.0,520.1 696.0,520.8 697.0,522.4 698.0,525.1 699.0,525.4 700.0,524.4 701.0,525.2 702.0,526.1 703.0,526.3 704.0,528.0 705.0,528.4 706.0,530.5 707.0,531.5 708.0,533.4 709.0,533.0 710.0,529.7 711.0,530.4 712.0,536.1 713.0,537.7 714.0,540.9 715.0,542.1 716.0,543.9 717.0,544.2 718.0,545.9 719.0,547.7 720.0,551.5 721.0,549.8 722.0,548.9 723.0,545.4 724.0,546.6 725.0,546.9 726.0,544.1 727.0,543.0 728.0,543.3 729.0,545.5 730.0,546.3 731.0,544.8 732.0,544.2 733.0,550.0 734.0,551.7 735.0,550.8 736.0,547.2 737.0,544.4 738.0,543.2 739.0,540.0 740.0,542.2 741.0,543.6 742.0,546.9 743.0,546.8 744.0,547.2 745.0,548.2 746.0,551.0 747.0,554.2 748.0,556.8 749.0,561.0 750.0,564.2 751.0,568.5 752.0,574.3 753.0,575.1 754.0,575.0 755.0,569.2 756.0,566.7 757.0,571.1 758.0,575.7 759.0,576.8 760.0,579.2 761.0,581.1 762.0,583.1 763.0,583.3 764.0,584.0 765.0,586.5 766.0,588.7 767.0,590.5 768.0,591.9 769.0,594.2 770.0,598.4 771.0,599.7 772.0,602.2 773.0,606.2 774.0,606.9 775.0,604.4 776.0,598.5 777.0,600.0 778.0,598.2 779.0,592.0 780.0,595.1 781.0,598.6 782.0,603.9 783.0,611.2 784.0,610.9 785.0,611.2 786.0,611.7 787.0,611.9 788.0,611.9 789.0,611.4 790.0,611.7 791.0,610.9 792.0,611.4 793.0,613.6 794.0,616.4 795.0,615.9 796.0,616.2 797.0,613.6 798.0,610.1 799.0,608.0 800.0,608.0 801.0,608.8 802.0,603.9 803.0,609.9 804.0,622.4 805.0,618.7 806.0,615.5 807.0,613.1 808.0,613.6 809.0,612.1 810.0,608.3 811.0,604.7 812.0,602.2 813.0,600.0 814.0,597.4 815.0,597.0 816.0,595.4 817.0,598.4 818.0,604.7 819.0,611.0 820.0,615.3 821.0,620.0 822.0,625.7 823.0,627.1 824.0,624.2 825.0,619.8 826.0,616.3 827.0,612.1 828.0,618.2 829.0,629.5 830.0,636.9 831.0,633.8 832.0,630.4 833.0,627.9 834.0,626.1 835.0,625.1 836.0,625.8 837.0,631.9 838.0,639.1 839.0,648.2 840.0,651.8 841.0,655.1 842.0,657.2 843.0,658.1 844.0,652.2 845.0,644.1 846.0,629.1 847.0,620.5 848.0,608.7 849.0,603.3 850.0,608.3 851.0,613.7 852.0,624.2 853.0,629.4 854.0,630.8 855.0,630.6 856.0,627.5 857.0,623.4 858.0,615.7 859.0,609.2 860.0,607.5 861.0,609.3 862.0,616.5 863.0,626.9 864.0,634.4 865.0,636.8 866.0,633.5 867.0,627.7 868.0,621.5 869.0,619.8 870.0,619.4 871.0,618.9 872.0,623.9 873.0,630.8 874.0,630.2 875.0,628.6 876.0,620.2 877.0,606.9 878.0,598.1 879.0,594.3 880.0,591.4 881.0,590.5 882.0,587.4 883.0,583.3 884.0,578.0 885.0,574.2 886.0,571.0 887.0,567.6 888.0,564.9 889.0,560.8 890.0,555.8 891.0,551.1 892.0,547.5 893.0,544.6 894.0,540.5 895.0,537.3 896.0,534.6 897.0,530.9 898.0,526.6 899.0,521.8 900.0,517.2 901.0,511.5 902.0,505.6 903.0,501.7 904.0,500.1 905.0,499.5 906.0,498.4 907.0,502.2 908.0,507.5 909.0,511.3 910.0,513.1 911.0,513.8 912.0,513.9 913.0,508.7 914.0,502.5 915.0,499.6 916.0,495.3 917.0,489.9 918.0,485.1 919.0,483.2 920.0,482.9 921.0,482.5 922.0,482.9 923.0,483.6 924.0,484.6 925.0,484.4 926.0,485.8 927.0,487.0 928.0,488.7 929.0,488.3 930.0,488.1 931.0,482.9 932.0,475.3 933.0,466.6 934.0,458.2 935.0,449.8 936.0,446.7 937.0,444.5 938.0,438.8 939.0,434.2 940.0,433.2 941.0,436.0 942.0,438.3 943.0,441.9 944.0,446.6 945.0,451.0 946.0,451.1 947.0,450.6 948.0,449.5 949.0,448.1 950.0,445.6 951.0,443.9 952.0,442.8 953.0,440.8 954.0,439.1 955.0,438.0 956.0,438.9 957.0,439.0 958.0,438.6 959.0,438.0 960.0,437.4 961.0,437.2 962.0,436.9 963.0,436.6 964.0,436.2 965.0,435.7 966.0,434.9 967.0,434.5 968.0,433.0 969.0,432.8 970.0,433.3 971.0,433.9 972.0,433.9 973.0,432.7 974.0,432.2 975.0,432.2 976.0,432.4 977.0,433.5 978.0,432.9 979.0,432.9 980.0,432.3 981.0,432.5 982.0,433.0 983.0,432.9 984.0,432.9 985.0,433.6 986.0,433.9 987.0,434.2 988.0,433.3 989.0,432.9 990.0,433.2 991.0,433.1" stroke="#d8d8d8" stroke-width="1"/>
<polyline points="690.0,526.2 691.0,525.9 692.0,529.0 693.0,528.6 694.0,528.8 695.0,523.4 696.0,521.5 697.0,522.0 698.0,524.8 699.0,524.4 700.0,524.3 701.0,526.1 702.0,527.9 703.0,528.4 704.0,528.8 705.0,529.8 706.0,530.5 707.0,530.7 708.0,531.8 709.0,531.4 710.0,527.8 711.0,529.8 712.0,536.6 713.0,539.1 714.0,540.7 715.0,542.3 716.0,543.1 717.0,544.5 718.0,545.8 719.0,548.4 720.0,552.4 721.0,552.3 722.0,551.7 723.0,548.7 724.0,547.1 725.0,546.4 726.0,544.4 727.0,541.7 728.0,542.0 729.0,542.7 730.0,546.2 731.0,546.6 732.0,547.7 733.0,552.3 734.0,554.7 735.0,553.5 736.0,551.0 737.0,546.7 738.0,545.0 739.0,539.9 740.0,541.3 741.0,541.4 742.0,544.5 743.0,545.7 744.0,546.2 745.0,547.1 746.0,550.1 747.0,554.1 748.0,556.9 749.0,560.6 750.0,563.5 751.0,566.8 752.0,574.4 753.0,576.5 754.0,577.5 755.0,570.1 756.0,564.6 757.0,570.1 758.0,576.3 759.0,578.2 760.0,579.7 761.0,582.0 762.0,585.4 763.0,585.9 764.0,586.0 765.0,587.9 766.0,590.6 767.0,592.7 768.0,594.4 769.0,596.6 770.0,601.0 771.0,602.7 772.0,605.0 773.0,608.0 774.0,608.4 775.0,606.3 776.0,600.6 777.0,600.6 778.0,598.5 779.0,592.9 780.0,592.1 781.0,594.8 782.0,601.6 783.0,609.7 784.0,613.0 785.0,612.3 786.0,611.8 787.0,611.6 788.0,611.3 789.0,611.0 790.0,611.4 791.0,611.9 792.0,611.5 793.0,613.9 794.0,616.3 795.0,618.2 796.0,618.2 797.0,616.0 798.0,612.6 799.0,609.8 800.0,609.9 801.0,609.5 802.0,604.7 803.0,609.5 804.0,620.1 805.0,625.3 806.0,621.3 807.0,617.2 808.0,614.5 809.0,613.1 810.0,609.6 811.0,605.2 812.0,602.1 813.0,599.9 814.0,597.1 815.0,595.3 816.0,594.9 817.0,598.6 818.0,605.4 819.0,610.6 820.0,615.8 821.0,619.1 822.0,623.9 823.0,626.1 824.0,623.4 825.0,619.3 826.0,614.1 827.0,611.8 828.0,616.4 829.0,626.7 830.0,635.7 831.0,637.2 832.0,634.5 833.0,631.3 834.0,629.5 835.0,627.6 836.0,627.3 837.0,633.3 838.0,641.2 839.0,649.2 840.0,657.3 841.0,659.4 842.0,663.3 843.0,663.3 844.0,658.6 845.0,652.4 846.0,637.7 847.0,626.2 848.0,614.1 849.0,604.0 850.0,606.6 851.0,610.5 852.0,615.3 853.0,626.0 854.0,630.4 855.0,630.9 856.0,627.1 857.0,623.1 858.0,616.5 859.0,609.9 860.0,604.8 861.0,606.5 862.0,613.0 863.0,621.7 864.0,630.1 865.0,634.2 866.0,635.4 867.0,632.4 868.0,627.1 869.0,623.4 870.0,621.8 871.0,622.3 872.0,627.4 873.0,635.9 874.0,636.2 875.0,633.6 876.0,629.0 877.0,621.4 878.0,609.4 879.0,601.8 880.0,598.4 881.0,596.0 882.0,593.7 883.0,590.8 884.0,586.2 885.0,581.8 886.0,577.1 887.0,574.4 888.0,571.0 889.0,568.0 890.0,564.1 891.0,559.1 892.0,554.8 893.0,550.1 894.0,544.3 895.0,540.8 896.0,537.4 897.0,537.3 898.0,533.9 899.0,530.1 900.0,525.3 901.0,520.6 902.0,514.4 903.0,509.8 904.0,505.4 905.0,505.4 906.0,504.1 907.0,507.0 908.0,511.1 909.0,514.8 910.0,515.8 911.0,519.2 912.0,520.4 913.0,520.5 914.0,515.3 915.0,507.8 916.0,504.4 917.0,500.0 918.0,496.2 919.0,492.3 920.0,489.7 921.0,489.1 922.0,489.3 923.0,489.2 924.0,489.5 925.0,489.7 926.0,491.4 927.0,493.0 928.0,494.4 929.0,493.8 930.0,492.2 931.0,486.5 932.0,481.0 933.0,475.1 934.0,467.0 935.0,458.8 936.0,450.7 937.0,444.6 938.0,439.7 939.0,435.7 940.0,431.2 941.0,434.7 942.0,435.8 943.0,439.0 944.0,440.4 945.0,445.4 946.0,449.2 947.0,451.4 948.0,449.6 949.0,449.4 950.0,447.3 951.0,446.6 952.0,445.2 953.0,443.2 954.0,441.1 955.0,438.7 956.0,437.8 957.0,437.7 958.0,437.9 959.0,437.7 960.0,437.1 961.0,436.7 962.0,436.7 963.0,436.8 964.0,437.2 965.0,436.1 966.0,435.4 967.0,433.5 968.0,433.2 969.0,433.2 970.0,434.2 971.0,434.0 972.0,433.8 973.0,433.0 974.0,433.3 975.0,432.9 976.0,432.7 977.0,431.5 978.0,430.8 979.0,431.2 980.0,432.3 981.0,433.9 982.0,433.8 983.0,434.3 984.0,432.9 985.0,432.3 986.0,432.0 987.0,433.3 988.0,434.2 989.0,434.0 990.0,433.4 991.0,433.3" stroke="#d6d6d6" stroke-width="1"/>
<polyline points="690.0,527.4 691.0,527.4 692.0,529.2 693.0,527.5 694.0,526.3 695.0,521.3 696.0,518.6 697.0,520.8 698.0,525.9 699.0,525.8 700.0,525.0 701.0,526.8 702.0,528.5 703.0,529.2 704.0,529.5 705.0,529.6 706.0,529.9 707.0,529.8 708.0,531.7 709.0,531.2 710.0,527.4 711.0,528.9 712.0,535.9 713.0,538.2 714.0,540.4 715.0,541.7 716.0,543.0 717.0,543.8 718.0,545.3 719.0,548.2 720.0,552.8 721.0,552.7 722.0,551.7 723.0,547.4 724.0,544.8 725.0,545.4 726.0,543.6 727.0,541.8 728.0,541.0 729.0,542.8 730.0,545.4 731.0,547.4 732.0,547.7 733.0,552.6 734.0,554.6 735.0,553.9 736.0,551.2 737.0,547.8 738.0,546.7 739.0,540.9 740.0,540.0 741.0,540.0 742.0,543.5 743.0,545.8 744.0,546.5 745.0,548.0 746.0,551.3 747.0,554.8 748.0,557.3 749.0,561.1 750.0,564.0 751.0,567.3 752.0,573.2 753.0,577.7 754.0,579.0 755.0,572.4 756.0,564.1 757.0,568.6 758.0,575.9 759.0,578.9 760.0,580.0 761.0,582.2 762.0,585.4 763.0,587.4 764.0,587.9 765.0,589.2 766.0,591.2 767.0,593.2 768.0,594.5 769.0,597.3 770.0,601.5 771.0,604.8 772.0,606.3 773.0,609.5 774.0,611.2 775.0,609.6 776.0,604.5 777.0,601.2 778.0,598.2 779.0,592.0 780.0,587.8 781.0,591.1 782.0,596.7 783.0,605.0 784.0,613.7 785.0,614.3 786.0,614.6 787.0,613.7 788.0,613.8 789.0,614.2 790.0,613.8 791.0,614.0 792.0,613.5 793.0,616.0 794.0,618.5 795.0,619.7 796.0,619.3 797.0,616.0 798.0,614.2 799.0,610.3 800.0,610.3 801.0,609.6 802.0,604.4 803.0,609.6 804.0,614.1 805.0,627.7 806.0,623.7 807.0,619.9 808.0,617.2 809.0,615.5 810.0,611.8 811.0,607.5 812.0,602.2 813.0,600.0 814.0,597.1 815.0,595.6 816.0,595.9 817.0,599.5 818.0,604.9 819.0,609.8 820.0,615.2 821.0,619.6 822.0,624.5 823.0,626.3 824.0,623.3 825.0,620.9 826.0,616.7 827.0,612.5 828.0,616.1 829.0,623.6 830.0,634.2 831.0,642.1 832.0,639.0 833.0,634.7 834.0,631.9 835.0,631.4 836.0,629.9 837.0,634.9 838.0,641.6 839.0,650.9 840.0,660.1 841.0,666.1 842.0,669.6 843.0,672.1 844.0,666.6 845.0,660.1 846.0,646.3 847.0,632.5 848.0,617.6 849.0,607.6 850.0,604.3 851.0,607.1 852.0,610.0 853.0,615.6 854.0,626.2 855.0,630.7 856.0,627.7 857.0,623.4 858.0,616.7 859.0,610.4 860.0,605.8 861.0,603.2 862.0,609.0 863.0,616.1 864.0,624.5 865.0,630.9 866.0,634.6 867.0,635.9 868.0,633.4 869.0,629.9 870.0,626.8 871.0,626.5 872.0,631.8 873.0,638.7 874.0,639.4 875.0,639.6 876.0,634.8 877.0,629.9 878.0,625.3 879.0,614.6 880.0,606.5 881.0,601.2 882.0,596.6 883.0,593.6 884.0,591.6 885.0,588.8 886.0,584.5 887.0,580.7 888.0,576.7 889.0,573.9 890.0,569.4 891.0,565.3 892.0,560.6 893.0,557.2 894.0,553.5 895.0,549.9 896.0,545.9 897.0,542.6 898.0,539.3 899.0,535.2 900.0,530.8 901.0,526.0 902.0,521.1 903.0,516.2 904.0,512.0 905.0,508.1 906.0,507.5 907.0,510.6 908.0,514.6 909.0,516.1 910.0,516.7 911.0,519.9 912.0,523.0 913.0,525.1 914.0,524.3 915.0,520.6 916.0,514.1 917.0,508.0 918.0,504.8 919.0,502.0 920.0,498.6 921.0,495.6 922.0,495.3 923.0,494.8 924.0,494.9 925.0,494.7 926.0,496.0 927.0,498.0 928.0,499.2 929.0,500.5 930.0,500.0 931.0,496.0 932.0,489.2 933.0,484.8 934.0,477.1 935.0,469.3 936.0,460.8 937.0,453.6 938.0,443.5 939.0,437.5 940.0,434.6 941.0,433.9 942.0,436.0 943.0,436.8 944.0,438.7 945.0,440.8 946.0,444.2 947.0,447.9 948.0,450.8 949.0,451.0 950.0,448.6 951.0,447.4 952.0,445.2 953.0,445.0 954.0,444.0 955.0,442.8 956.0,441.4 957.0,439.2 958.0,438.2 959.0,437.4 960.0,436.4 961.0,436.3 962.0,435.7 963.0,435.2 964.0,434.5 965.0,434.6 966.0,434.0 967.0,433.9 968.0,434.0 969.0,433.7 970.0,432.8 971.0,432.3 972.0,432.3 973.0,432.5 974.0,432.3 975.0,432.6 976.0,432.7 977.0,432.3 978.0,431.6 979.0,431.6 980.0,431.8 981.0,432.7 982.0,433.2 983.0,434.1 984.0,433.8 985.0,434.0 986.0,433.5 987.0,433.1 988.0,432.9 989.0,432.9 990.0,433.7 991.0,433.6" stroke="#d4d4d4" stroke-width="1"/>
<polyline points="690.0,527.2 691.0,526.9 692.0,529.6 693.0,528.6 694.0,528.1 695.0,523.3 696.0,519.4 697.0,520.9 698.0,526.7 699.0,526.4 700.0,525.6 701.0,525.3 702.0,526.6 703.0,528.0 704.0,529.3 705.0,530.7 706.0,530.6 707.0,531.1 708.0,531.4 709.0,531.2 710.0,527.7 711.0,528.3 712.0,534.7 713.0,537.3 714.0,539.3 715.0,541.9 716.0,543.9 717.0,544.2 718.0,544.8 719.0,547.3 720.0,552.3 721.0,553.3 722.0,551.9 723.0,549.4 724.0,546.8 725.0,547.5 726.0,544.5 727.0,541.5 728.0,542.0 729.0,543.3 730.0,545.9 731.0,547.4 732.0,548.2 733.0,553.1 734.0,557.3 735.0,556.3 736.0,553.0 737.0,547.7 738.0,544.7 739.0,539.1 740.0,537.9 741.0,539.8 742.0,544.0 743.0,546.3 744.0,547.1 745.0,548.1 746.0,551.7 747.0,554.3 748.0,556.7 749.0,559.9 750.0,562.8 751.0,565.9 752.0,573.1 753.0,578.2 754.0,579.3 755.0,572.9 756.0,565.7 757.0,568.2 758.0,574.1 759.0,579.6 760.0,580.3 761.0,582.6 762.0,584.8 763.0,588.0 764.0,589.6 765.0,591.6 766.0,594.2 767.0,597.1 768.0,597.3 769.0,599.5 770.0,602.7 771.0,606.8 772.0,607.3 773.0,610.9 774.0,614.9 775.0,612.3 776.0,606.5 777.0,600.8 778.0,598.8 779.0,592.8 780.0,586.9 781.0,588.3 782.0,595.0 783.0,603.1 784.0,610.8 785.0,612.0 786.0,612.5 787.0,612.3 788.0,612.7 789.0,612.6 790.0,613.7 791.0,614.5 792.0,614.5 793.0,616.7 794.0,619.2 795.0,622.2 796.0,622.6 797.0,619.8 798.0,616.3 799.0,612.9 800.0,610.9 801.0,610.6 802.0,606.2 803.0,611.0 804.0,616.0 805.0,623.8 806.0,629.0 807.0,624.9 808.0,620.0 809.0,617.1 810.0,613.5 811.0,610.4 812.0,605.4 813.0,600.4 814.0,598.1 815.0,594.6 816.0,594.8 817.0,597.4 818.0,603.7 819.0,608.6 820.0,614.0 821.0,620.0 822.0,624.4 823.0,627.8 824.0,626.1 825.0,623.3 826.0,618.0 827.0,612.9 828.0,616.5 829.0,623.4 830.0,630.8 831.0,639.7 832.0,645.3 833.0,641.4 834.0,636.9 835.0,634.3 836.0,633.7 837.0,636.0 838.0,642.0 839.0,650.2 840.0,660.5 841.0,669.9 842.0,674.8 843.0,676.3 844.0,672.5 845.0,667.6 846.0,656.5 847.0,642.8 848.0,623.8 849.0,609.7 850.0,606.9 851.0,604.6 852.0,607.8 853.0,610.9 854.0,616.0 855.0,625.6 856.0,627.5 857.0,623.8 858.0,618.0 859.0,612.1 860.0,607.0 861.0,604.1 862.0,606.1 863.0,613.0 864.0,619.3 865.0,624.5 866.0,629.8 867.0,634.4 868.0,635.5 869.0,635.6 870.0,632.6 871.0,629.6 872.0,633.9 873.0,640.1 874.0,641.1 875.0,641.0 876.0,640.5 877.0,636.9 878.0,634.6 879.0,631.5 880.0,620.1 881.0,608.9 882.0,603.6 883.0,599.7 884.0,597.3 885.0,595.6 886.0,593.0 887.0,588.7 888.0,583.8 889.0,579.6 890.0,575.6 891.0,572.7 892.0,568.1 893.0,564.3 894.0,559.5 895.0,556.6 896.0,553.2 897.0,550.3 898.0,545.8 899.0,541.5 900.0,536.6 901.0,532.8 902.0,528.9 903.0,524.7 904.0,520.6 905.0,516.4 906.0,513.6 907.0,513.9 908.0,518.4 909.0,520.6 910.0,521.9 911.0,523.3 912.0,525.9 913.0,528.0 914.0,528.5 915.0,526.0 916.0,523.7 917.0,518.5 918.0,512.6 919.0,512.5 920.0,508.7 921.0,505.6 922.0,501.2 923.0,499.6 924.0,500.0 925.0,500.6 926.0,502.0 927.0,504.2 928.0,506.3 929.0,506.5 930.0,505.0 931.0,502.3 932.0,498.8 933.0,494.0 934.0,485.7 935.0,477.7 936.0,469.0 937.0,460.3 938.0,450.2 939.0,440.8 940.0,435.5 941.0,435.4 942.0,434.5 943.0,434.6 944.0,436.5 945.0,438.4 946.0,439.4 947.0,442.3 948.0,446.1 949.0,450.6 950.0,450.2 951.0,449.6 952.0,447.9 953.0,446.2 954.0,444.7 955.0,442.8 956.0,440.9 957.0,438.9 958.0,438.3 959.0,436.9 960.0,435.9 961.0,435.4 962.0,436.1 963.0,436.0 964.0,435.3 965.0,434.8 966.0,434.7 967.0,433.5 968.0,433.0 969.0,433.3 970.0,433.4 971.0,433.6 972.0,432.9 973.0,432.5 974.0,431.9 975.0,431.2 976.0,432.5 977.0,432.7 978.0,434.1 979.0,432.8 980.0,432.7 981.0,432.6 982.0,433.9 983.0,434.1 984.0,433.7 985.0,433.5 986.0,433.7 987.0,434.3 988.0,433.4 989.0,432.6 990.0,431.6 991.0,432.4" stroke="#d2d2d2" stroke-width="1"/>
<polyline points="690.0,527.2 691.0,527.1 692.0,530.3 693.0,529.6 694.0,529.1 695.0,523.6 696.0,518.0 697.0,519.2 698.0,526.0 699.0,526.7 700.0,526.4 701.0,526.3 702.0,527.7 703.0,529.0 704.0,529.7 705.0,530.4 706.0,530.6 707.0,531.1 708.0,531.9 709.0,531.5 710.0,528.0 711.0,527.6 712.0,534.7 713.0,539.0 714.0,540.3 715.0,541.0 716.0,542.0 717.0,543.9 718.0,545.9 719.0,548.5 720.0,552.3 721.0,553.3 722.0,552.4 723.0,549.8 724.0,546.4 725.0,545.5 726.0,543.2 727.0,540.2 728.0,540.0 729.0,540.7 730.0,544.1 731.0,547.4 732.0,548.2 733.0,552.5 734.0,557.1 735.0,557.1 736.0,554.0 737.0,549.0 738.0,544.3 739.0,539.8 740.0,536.9 741.0,539.2 742.0,542.2 743.0,544.6 744.0,546.0 745.0,546.8 746.0,550.8 747.0,554.5 748.0,557.3 749.0,560.8 750.0,564.1 751.0,568.3 752.0,575.2 753.0,580.6 754.0,582.7 755.0,576.6 756.0,569.4 757.0,567.7 758.0,573.8 759.0,580.4 760.0,582.6 761.0,585.5 762.0,588.4 763.0,590.7 764.0,591.3 765.0,592.0 766.0,594.2 767.0,595.9 768.0,597.4 769.0,599.4 770.0,603.7 771.0,606.9 772.0,608.6 773.0,610.7 774.0,614.6 775.0,613.3 776.0,607.9 777.0,602.4 778.0,597.8 779.0,593.5 780.0,588.0 781.0,586.1 782.0,591.3 783.0,600.1 784.0,608.3 785.0,615.3 786.0,614.6 787.0,614.5 788.0,614.6 789.0,615.2 790.0,615.2 791.0,614.9 792.0,615.2 793.0,617.0 794.0,619.0 795.0,620.9 796.0,623.3 797.0,621.4 798.0,619.0 799.0,615.6 800.0,611.9 801.0,609.7 802.0,605.1 803.0,610.0 804.0,614.7 805.0,619.1 806.0,628.9 807.0,628.1 808.0,624.7 809.0,621.3 810.0,616.9 811.0,612.4 812.0,607.1 813.0,601.6 814.0,598.6 815.0,596.3 816.0,594.7 817.0,597.0 818.0,603.0 819.0,608.3 820.0,613.2 821.0,619.3 822.0,623.8 823.0,627.7 824.0,626.8 825.0,624.7 826.0,619.3 827.0,613.7 828.0,615.3 829.0,621.6 830.0,627.7 831.0,636.5 832.0,644.6 833.0,646.1 834.0,642.8 835.0,640.6 836.0,638.6 837.0,640.5 838.0,644.7 839.0,652.7 840.0,662.3 841.0,670.1 842.0,679.6 843.0,681.7 844.0,680.1 845.0,675.5 846.0,663.7 847.0,651.1 848.0,633.6 849.0,616.3 850.0,612.4 851.0,609.6 852.0,606.9 853.0,609.1 854.0,612.6 855.0,617.2 856.0,622.8 857.0,624.5 858.0,618.8 859.0,613.9 860.0,610.4 861.0,607.7 862.0,608.6 863.0,609.5 864.0,615.1 865.0,619.6 866.0,624.8 867.0,629.1 868.0,634.0 869.0,636.2 870.0,638.2 871.0,635.7 872.0,638.9 873.0,643.9 874.0,644.6 875.0,645.5 876.0,644.0 877.0,643.0 878.0,639.9 879.0,637.6 880.0,635.0 881.0,624.0 882.0,611.7 883.0,606.8 884.0,602.1 885.0,600.2 886.0,597.2 887.0,594.6 888.0,590.5 889.0,586.5 890.0,582.6 891.0,578.9 892.0,575.3 893.0,571.3 894.0,567.5 895.0,564.0 896.0,560.0 897.0,555.5 898.0,551.4 899.0,546.6 900.0,541.6 901.0,537.4 902.0,533.5 903.0,529.8 904.0,526.7 905.0,523.8 906.0,522.7 907.0,522.6 908.0,523.4 909.0,523.8 910.0,524.8 911.0,526.2 912.0,528.6 913.0,530.2 914.0,531.7 915.0,533.2 916.0,533.1 917.0,532.0 918.0,525.8 919.0,520.4 920.0,516.2 921.0,514.2 922.0,510.0 923.0,507.0 924.0,505.5 925.0,506.0 926.0,507.4 927.0,509.2 928.0,511.2 929.0,511.4 930.0,510.6 931.0,505.9 932.0,502.8 933.0,499.7 934.0,494.6 935.0,486.7 936.0,479.1 937.0,470.9 938.0,460.8 939.0,450.3 940.0,442.0 941.0,437.9 942.0,437.2 943.0,436.3 944.0,435.2 945.0,436.2 946.0,437.6 947.0,439.4 948.0,442.5 949.0,446.5 950.0,449.5 951.0,450.3 952.0,448.6 953.0,446.2 954.0,444.9 955.0,443.5 956.0,442.6 957.0,441.0 958.0,439.4 959.0,437.2 960.0,435.2 961.0,434.8 962.0,434.6 963.0,434.4 964.0,433.8 965.0,433.6 966.0,433.2 967.0,433.5 968.0,433.7 969.0,434.5 970.0,434.7 971.0,434.6 972.0,433.7 973.0,433.0 974.0,432.7 975.0,432.5 976.0,432.5 977.0,432.1 978.0,432.3 979.0,432.0 980.0,432.2 981.0,431.9 982.0,433.3 983.0,433.5 984.0,434.2 985.0,432.7 986.0,432.9 987.0,432.5 988.0,433.4 989.0,433.0 990.0,432.7 991.0,432.4" stroke="#d0d0d0" stroke-width="1"/>
<polyline points="690.0,527.3 691.0,526.9 692.0,529.8 693.0,529.1 694.0,528.6 695.0,523.6 696.0,517.6 697.0,518.8 698.0,524.9 699.0,526.4 700.0,526.5 701.0,526.7 702.0,528.2 703.0,528.7 704.0,529.5 705.0,530.3 706.0,530.8 707.0,531.5 708.0,531.7 709.0,531.9 710.0,527.6 711.0,526.8 712.0,533.2 713.0,539.2 714.0,540.3 715.0,542.0 716.0,544.3 717.0,545.4 718.0,546.4 719.0,547.7 720.0,551.8 721.0,554.7 722.0,554.1 723.0,550.7 724.0,546.8 725.0,545.0 726.0,543.7 727.0,541.0 728.0,539.6 729.0,540.8 730.0,543.6 731.0,548.2 732.0,549.0 733.0,554.4 734.0,559.7 735.0,561.1 736.0,556.4 737.0,550.1 738.0,544.1 739.0,540.6 740.0,537.1 741.0,538.5 742.0,541.6 743.0,544.3 744.0,546.6 745.0,548.3 746.0,552.2 747.0,555.5 748.0,558.0 749.0,561.4 750.0,565.1 751.0,568.8 752.0,574.6 753.0,580.2 754.0,583.2 755.0,577.8 756.0,571.3 757.0,567.1 758.0,573.9 759.0,580.6 760.0,582.6 761.0,584.6 762.0,587.8 763.0,591.9 764.0,593.7 765.0,594.1 766.0,595.9 767.0,598.1 768.0,600.0 769.0,601.0 770.0,604.4 771.0,607.3 772.0,611.0 773.0,614.1 774.0,617.9 775.0,618.3 776.0,612.2 777.0,606.4 778.0,597.6 779.0,593.2 780.0,587.9 781.0,582.6 782.0,587.9 783.0,597.1 784.0,605.7 785.0,614.0 786.0,614.3 787.0,614.0 788.0,613.1 789.0,613.6 790.0,614.3 791.0,615.5 792.0,617.2 793.0,619.4 794.0,621.1 795.0,622.3 796.0,623.8 797.0,623.6 798.0,620.4 799.0,617.5 800.0,613.6 801.0,611.6 802.0,607.0 803.0,612.4 804.0,616.3 805.0,620.7 806.0,625.0 807.0,631.6 808.0,627.5 809.0,623.3 810.0,618.9 811.0,614.9 812.0,610.5 813.0,604.7 814.0,600.4 815.0,597.4 816.0,595.7 817.0,595.8 818.0,601.6 819.0,606.8 820.0,612.2 821.0,618.7 822.0,625.0 823.0,627.9 824.0,627.0 825.0,626.0 826.0,621.3 827.0,616.8 828.0,617.0 829.0,622.9 830.0,628.1 831.0,633.7 832.0,642.1 833.0,648.8 834.0,647.2 835.0,644.3 836.0,642.5 837.0,644.7 838.0,647.8 839.0,653.1 840.0,661.2 841.0,669.1 842.0,678.4 843.0,686.5 844.0,683.7 845.0,680.8 846.0,670.1 847.0,659.6 848.0,644.1 849.0,627.7 850.0,616.8 851.0,612.9 852.0,608.7 853.0,605.0 854.0,608.8 855.0,612.2 856.0,613.5 857.0,618.7 858.0,620.4 859.0,615.9 860.0,612.4 861.0,609.2 862.0,610.9 863.0,613.3 864.0,615.0 865.0,616.9 866.0,619.6 867.0,624.5 868.0,629.7 869.0,636.0 870.0,639.1 871.0,641.2 872.0,643.8 873.0,647.4 874.0,646.4 875.0,646.4 876.0,645.7 877.0,644.9 878.0,645.1 879.0,642.8 880.0,639.6 881.0,636.2 882.0,626.7 883.0,615.4 884.0,609.4 885.0,605.3 886.0,603.1 887.0,600.8 888.0,598.0 889.0,594.1 890.0,590.1 891.0,585.7 892.0,582.3 893.0,578.2 894.0,574.3 895.0,570.5 896.0,567.7 897.0,563.8 898.0,559.8 899.0,553.9 900.0,549.4 901.0,544.0 902.0,540.1 903.0,536.2 904.0,532.6 905.0,530.7 906.0,528.1 907.0,527.4 908.0,528.2 909.0,527.3 910.0,528.3 911.0,529.8 912.0,532.1 913.0,534.0 914.0,534.7 915.0,535.4 916.0,535.9 917.0,535.5 918.0,534.4 919.0,531.6 920.0,526.7 921.0,521.3 922.0,519.8 923.0,516.2 924.0,514.1 925.0,511.9 926.0,512.2 927.0,513.4 928.0,514.3 929.0,515.2 930.0,515.1 931.0,511.9 932.0,508.7 933.0,504.5 934.0,499.0 935.0,492.3 936.0,485.7 937.0,478.8 938.0,470.3 939.0,459.3 940.0,449.8 941.0,443.9 942.0,439.1 943.0,438.4 944.0,437.2 945.0,436.0 946.0,436.0 947.0,438.6 948.0,440.1 949.0,441.0 950.0,443.5 951.0,446.6 952.0,451.0 953.0,449.3 954.0,448.1 955.0,445.2 956.0,443.5 957.0,441.4 958.0,439.9 959.0,438.1 960.0,436.1 961.0,435.0 962.0,434.1 963.0,434.4 964.0,434.2 965.0,434.2 966.0,433.5 967.0,433.4 968.0,433.6 969.0,433.5 970.0,433.4 971.0,432.0 972.0,432.0 973.0,431.6 974.0,432.4 975.0,431.6 976.0,431.5 977.0,431.9 978.0,432.6 979.0,432.2 980.0,431.9 981.0,432.5 982.0,433.5 983.0,434.1 984.0,433.4 985.0,433.3 986.0,432.8 987.0,432.8 988.0,432.2 989.0,432.2 990.0,432.7 991.0,433.1" stroke="#cecece" stroke-width="1"/>
<polyline points="690.0,526.3 691.0,526.6 692.0,529.3 693.0,530.4 694.0,528.6 695.0,524.5 696.0,516.5 697.0,519.2 698.0,523.7 699.0,526.5 700.0,525.9 701.0,526.7 702.0,527.7 703.0,528.6 704.0,529.8 705.0,530.6 706.0,530.7 707.0,531.3 708.0,532.1 709.0,532.4 710.0,528.8 711.0,525.7 712.0,532.1 713.0,537.7 714.0,538.8 715.0,540.7 716.0,543.1 717.0,545.8 718.0,547.2 719.0,549.4 720.0,552.8 721.0,555.9 722.0,554.9 723.0,551.9 724.0,548.8 725.0,546.4 726.0,544.6 727.0,540.5 728.0,538.6 729.0,540.8 730.0,544.8 731.0,548.1 732.0,549.2 733.0,553.7 734.0,558.1 735.0,560.7 736.0,557.0 737.0,553.4 738.0,546.3 739.0,542.1 740.0,536.5 741.0,536.4 742.0,539.2 743.0,543.6 744.0,546.9 745.0,549.1 746.0,551.9 747.0,555.4 748.0,558.9 749.0,562.7 750.0,566.0 751.0,569.4 752.0,575.3 753.0,581.0 754.0,585.1 755.0,579.7 756.0,572.6 757.0,568.4 758.0,572.6 759.0,579.6 760.0,583.3 761.0,584.8 762.0,588.2 763.0,591.1 764.0,594.1 765.0,594.9 766.0,596.5 767.0,598.6 768.0,599.9 769.0,602.3 770.0,605.2 771.0,609.0 772.0,612.9 773.0,615.7 774.0,618.6 775.0,619.3 776.0,614.0 777.0,607.6 778.0,599.4 779.0,592.0 780.0,587.3 781.0,582.1 782.0,585.5 783.0,594.1 784.0,602.6 785.0,609.9 786.0,615.4 787.0,615.2 788.0,615.5 789.0,615.9 790.0,616.4 791.0,616.1 792.0,616.6 793.0,618.7 794.0,622.1 795.0,624.0 796.0,626.4 797.0,626.7 798.0,624.0 799.0,620.7 800.0,617.2 801.0,612.9 802.0,607.5 803.0,612.0 804.0,616.9 805.0,620.2 806.0,622.6 807.0,631.5 808.0,630.8 809.0,626.4 810.0,620.5 811.0,617.9 812.0,612.2 813.0,606.9 814.0,600.8 815.0,598.0 816.0,595.6 817.0,596.7 818.0,601.5 819.0,606.9 820.0,611.8 821.0,617.7 822.0,623.8 823.0,628.2 824.0,627.7 825.0,627.1 826.0,623.7 827.0,619.3 828.0,620.2 829.0,623.2 830.0,628.2 831.0,632.3 832.0,639.4 833.0,646.8 834.0,652.8 835.0,649.4 836.0,645.8 837.0,648.1 838.0,651.4 839.0,656.6 840.0,662.8 841.0,671.0 842.0,679.7 843.0,687.5 844.0,688.6 845.0,684.9 846.0,676.6 847.0,666.4 848.0,652.2 849.0,637.8 850.0,627.0 851.0,617.8 852.0,612.2 853.0,609.3 854.0,605.6 855.0,608.3 856.0,608.2 857.0,609.1 858.0,613.5 859.0,615.6 860.0,612.6 861.0,611.0 862.0,612.5 863.0,613.4 864.0,614.6 865.0,613.3 866.0,615.5 867.0,619.2 868.0,624.9 869.0,631.2 870.0,638.4 871.0,641.7 872.0,650.3 873.0,653.6 874.0,652.1 875.0,650.4 876.0,649.0 877.0,648.1 878.0,647.6 879.0,647.5 880.0,646.3 881.0,643.2 882.0,640.1 883.0,631.4 884.0,618.8 885.0,612.1 886.0,607.5 887.0,605.4 888.0,603.4 889.0,601.8 890.0,597.5 891.0,592.2 892.0,587.5 893.0,584.0 894.0,581.2 895.0,578.5 896.0,575.7 897.0,571.3 898.0,566.9 899.0,561.6 900.0,556.3 901.0,550.8 902.0,545.7 903.0,542.2 904.0,538.5 905.0,536.3 906.0,534.5 907.0,535.9 908.0,536.6 909.0,535.8 910.0,533.7 911.0,533.6 912.0,535.6 913.0,537.0 914.0,537.3 915.0,538.1 916.0,538.6 917.0,539.2 918.0,539.8 919.0,539.0 920.0,538.1 921.0,532.0 922.0,527.1 923.0,525.6 924.0,523.9 925.0,521.2 926.0,518.9 927.0,518.7 928.0,520.0 929.0,520.5 930.0,520.8 931.0,517.9 932.0,514.5 933.0,510.9 934.0,505.8 935.0,500.5 936.0,493.8 937.0,486.3 938.0,477.8 939.0,469.2 940.0,460.9 941.0,453.4 942.0,447.7 943.0,440.9 944.0,437.7 945.0,437.0 946.0,436.1 947.0,435.5 948.0,436.9 949.0,439.3 950.0,439.9 951.0,442.7 952.0,446.3 953.0,449.5 954.0,448.3 955.0,445.6 956.0,444.3 957.0,443.4 958.0,442.3 959.0,440.9 960.0,439.2 961.0,437.0 962.0,434.9 963.0,433.7 964.0,433.6 965.0,434.4 966.0,434.1 967.0,434.6 968.0,433.8 969.0,433.5 970.0,432.5 971.0,431.9 972.0,432.2 973.0,432.3 974.0,432.7 975.0,432.2 976.0,432.1 977.0,431.9 978.0,432.8 979.0,433.4 980.0,434.0 981.0,433.1 982.0,433.3 983.0,432.8 984.0,433.9 985.0,433.4 986.0,433.4 987.0,432.3 988.0,432.1 989.0,432.3 990.0,432.8 991.0,433.2" stroke="#cccccc" stroke-width="1"/>
<polyline points="690.0,527.0 691.0,527.2 692.0,530.6 693.0,531.7 694.0,530.6 695.0,526.1 696.0,518.5 697.0,519.0 698.0,524.1 699.0,528.0 700.0,528.1 701.0,528.5 702.0,528.8 703.0,529.0 704.0,529.9 705.0,531.2 706.0,531.8 707.0,532.2 708.0,532.3 709.0,532.6 710.0,529.3 711.0,526.2 712.0,531.1 713.0,537.5 714.0,540.1 715.0,542.1 716.0,544.1 717.0,546.0 718.0,547.3 719.0,549.2 720.0,553.6 721.0,556.8 722.0,556.0 723.0,552.4 724.0,548.7 725.0,546.3 726.0,544.3 727.0,541.5 728.0,538.9 729.0,539.8 730.0,542.8 731.0,546.6 732.0,548.1 733.0,553.2 734.0,558.1 735.0,563.5 736.0,559.3 737.0,553.4 738.0,546.4 739.0,541.3 740.0,538.4 741.0,537.2 742.0,539.8 743.0,542.5 744.0,545.4 745.0,548.0 746.0,551.9 747.0,555.9 748.0,559.0 749.0,561.6 750.0,564.9 751.0,569.1 752.0,575.2 753.0,580.2 754.0,584.3 755.0,580.1 756.0,574.3 757.0,570.2 758.0,571.6 759.0,577.7 760.0,584.6 761.0,586.3 762.0,589.7 763.0,591.3 764.0,594.9 765.0,596.2 766.0,598.5 767.0,600.4 768.0,602.1 769.0,604.1 770.0,607.3 771.0,610.3 772.0,614.7 773.0,617.2 774.0,619.2 775.0,619.5 776.0,616.2 777.0,611.4 778.0,602.8 779.0,593.3 780.0,588.6 781.0,583.7 782.0,582.5 783.0,591.0 784.0,599.0 785.0,607.2 786.0,614.7 787.0,615.7 788.0,615.2 789.0,616.1 790.0,616.9 791.0,617.6 792.0,618.0 793.0,619.2 794.0,621.3 795.0,623.4 796.0,626.8 797.0,628.0 798.0,626.8 799.0,623.0 800.0,620.2 801.0,616.0 802.0,608.6 803.0,611.4 804.0,615.8 805.0,619.7 806.0,622.2 807.0,626.4 808.0,634.0 809.0,629.7 810.0,622.8 811.0,618.2 812.0,613.5 813.0,609.1 814.0,604.7 815.0,599.0 816.0,596.6 817.0,596.3 818.0,599.5 819.0,604.8 820.0,609.9 821.0,616.9 822.0,623.0 823.0,628.8 824.0,627.9 825.0,627.3 826.0,623.8 827.0,619.8 828.0,620.8 829.0,625.0 830.0,628.9 831.0,633.7 832.0,637.5 833.0,643.7 834.0,650.9 835.0,653.6 836.0,650.6 837.0,650.8 838.0,654.2 839.0,658.7 840.0,664.8 841.0,671.0 842.0,679.2 843.0,685.1 844.0,688.8 845.0,689.7 846.0,683.3 847.0,676.4 848.0,662.0 849.0,647.4 850.0,638.0 851.0,629.1 852.0,620.3 853.0,614.7 854.0,611.8 855.0,607.4 856.0,607.3 857.0,605.8 858.0,604.0 859.0,609.0 860.0,613.8 861.0,611.8 862.0,613.2 863.0,614.5 864.0,616.5 865.0,615.3 866.0,614.9 867.0,616.4 868.0,620.1 869.0,625.4 870.0,632.2 871.0,640.0 872.0,649.6 873.0,659.5 874.0,658.0 875.0,655.6 876.0,651.1 877.0,649.7 878.0,649.7 879.0,650.1 880.0,651.1 881.0,649.9 882.0,646.3 883.0,642.3 884.0,635.5 885.0,624.4 886.0,616.7 887.0,611.6 888.0,608.5 889.0,605.8 890.0,604.7 891.0,600.3 892.0,595.9 893.0,590.4 894.0,586.6 895.0,584.0 896.0,581.1 897.0,578.6 898.0,574.2 899.0,569.2 900.0,563.9 901.0,559.0 902.0,554.0 903.0,549.0 904.0,544.1 905.0,541.4 906.0,540.2 907.0,541.5 908.0,543.1 909.0,542.2 910.0,540.0 911.0,539.6 912.0,539.3 913.0,540.4 914.0,540.4 915.0,540.7 916.0,541.0 917.0,541.1 918.0,540.9 919.0,542.7 920.0,543.2 921.0,542.4 922.0,539.1 923.0,533.6 924.0,531.4 925.0,529.2 926.0,527.8 927.0,526.3 928.0,525.1 929.0,524.9 930.0,523.7 931.0,520.0 932.0,517.1 933.0,513.7 934.0,509.6 935.0,504.0 936.0,499.6 937.0,494.0 938.0,487.3 939.0,478.2 940.0,471.5 941.0,464.8 942.0,457.6 943.0,449.7 944.0,443.9 945.0,438.6 946.0,438.5 947.0,437.2 948.0,436.2 949.0,437.2 950.0,438.6 951.0,439.8 952.0,440.7 953.0,442.9 954.0,446.5 955.0,448.0 956.0,446.9 957.0,444.7 958.0,443.2 959.0,441.5 960.0,439.9 961.0,438.3 962.0,437.0 963.0,436.0 964.0,434.6 965.0,434.0 966.0,433.4 967.0,432.9 968.0,433.6 969.0,433.1 970.0,433.1 971.0,432.0 972.0,432.4 973.0,432.0 974.0,432.2 975.0,431.7 976.0,432.2 977.0,432.6 978.0,433.1 979.0,433.1 980.0,432.9 981.0,431.7 982.0,431.0 983.0,431.0 984.0,431.9 985.0,431.8 986.0,431.1 987.0,431.0 988.0,432.1 989.0,432.5 990.0,433.2 991.0,432.7" stroke="#cacaca" stroke-width="1"/>
<polyline points="690.0,526.9 691.0,527.3 692.0,530.1 693.0,531.0 694.0,529.1 695.0,524.8 696.0,517.3 697.0,516.8 698.0,521.9 699.0,527.9 700.0,527.2 701.0,528.3 702.0,528.8 703.0,530.7 704.0,531.6 705.0,531.6 706.0,532.1 707.0,531.8 708.0,532.7 709.0,531.4 710.0,528.8 711.0,525.7 712.0,530.6 713.0,536.4 714.0,540.9 715.0,541.5 716.0,543.1 717.0,544.0 718.0,546.1 719.0,548.5 720.0,552.3 721.0,555.1 722.0,555.1 723.0,552.2 724.0,548.7 725.0,546.3 726.0,545.2 727.0,542.0 728.0,538.6 729.0,538.3 730.0,542.3 731.0,546.1 732.0,549.2 733.0,553.6 734.0,558.1 735.0,562.5 736.0,559.4 737.0,554.3 738.0,547.6 739.0,541.2 740.0,538.3 741.0,535.2 742.0,538.3 743.0,541.8 744.0,545.8 745.0,548.6 746.0,551.9 747.0,555.0 748.0,558.3 749.0,561.8 750.0,565.8 751.0,570.1 752.0,575.9 753.0,581.5 754.0,586.3 755.0,583.5 756.0,577.4 757.0,573.5 758.0,571.5 759.0,577.4 760.0,584.4 761.0,587.0 762.0,590.3 763.0,592.7 764.0,596.0 765.0,597.5 766.0,599.6 767.0,601.3 768.0,603.5 769.0,605.2 770.0,607.5 771.0,610.8 772.0,614.9 773.0,619.6 774.0,621.1 775.0,620.5 776.0,618.7 777.0,613.2 778.0,605.5 779.0,593.8 780.0,589.1 781.0,584.9 782.0,582.7 783.0,589.0 784.0,597.5 785.0,605.7 786.0,613.7 787.0,617.4 788.0,616.8 789.0,616.4 790.0,617.1 791.0,618.4 792.0,619.2 793.0,621.4 794.0,623.9 795.0,625.6 796.0,628.5 797.0,629.3 798.0,629.4 799.0,626.5 800.0,622.9 801.0,619.5 802.0,611.1 803.0,613.1 804.0,617.0 805.0,620.2 806.0,622.6 807.0,624.2 808.0,632.1 809.0,633.5 810.0,627.4 811.0,620.2 812.0,615.3 813.0,610.7 814.0,606.5 815.0,601.7 816.0,598.3 817.0,598.9 818.0,601.5 819.0,604.6 820.0,609.3 821.0,615.9 822.0,622.5 823.0,628.1 824.0,629.4 825.0,628.1 826.0,624.9 827.0,621.5 828.0,622.5 829.0,626.3 830.0,628.8 831.0,632.3 832.0,636.4 833.0,640.7 834.0,648.0 835.0,655.5 836.0,655.7 837.0,655.6 838.0,657.0 839.0,661.9 840.0,667.0 841.0,671.6 842.0,678.2 843.0,685.5 844.0,688.8 845.0,691.9 846.0,686.6 847.0,680.0 848.0,668.8 849.0,655.2 850.0,647.1 851.0,640.3 852.0,631.6 853.0,622.3 854.0,616.3 855.0,612.5 856.0,606.1 857.0,604.6 858.0,602.8 859.0,600.9 860.0,606.8 861.0,613.2 862.0,615.1 863.0,616.8 864.0,617.7 865.0,617.0 866.0,616.5 867.0,615.3 868.0,616.2 869.0,620.8 870.0,627.5 871.0,634.9 872.0,646.9 873.0,657.0 874.0,660.9 875.0,660.3 876.0,656.8 877.0,653.3 878.0,652.0 879.0,652.3 880.0,653.0 881.0,653.2 882.0,652.1 883.0,648.1 884.0,644.3 885.0,639.5 886.0,628.3 887.0,619.1 888.0,614.8 889.0,610.9 890.0,608.6 891.0,606.0 892.0,602.1 893.0,597.5 894.0,592.3 895.0,590.0 896.0,587.0 897.0,585.1 898.0,580.5 899.0,576.4 900.0,571.2 901.0,566.9 902.0,561.2 903.0,556.2 904.0,552.0 905.0,549.2 906.0,547.6 907.0,548.1 908.0,548.8 909.0,548.6 910.0,546.7 911.0,545.2 912.0,544.3 913.0,543.4 914.0,542.9 915.0,542.9 916.0,543.2 917.0,543.2 918.0,542.9 919.0,544.3 920.0,545.9 921.0,547.5 922.0,546.8 923.0,544.5 924.0,540.1 925.0,535.9 926.0,536.2 927.0,534.3 928.0,532.3 929.0,530.0 930.0,528.8 931.0,525.4 932.0,522.0 933.0,518.5 934.0,514.5 935.0,509.3 936.0,504.4 937.0,498.6 938.0,492.2 939.0,485.3 940.0,478.6 941.0,472.9 942.0,467.4 943.0,460.3 944.0,453.2 945.0,446.5 946.0,439.8 947.0,438.2 948.0,438.4 949.0,437.9 950.0,436.9 951.0,438.1 952.0,438.7 953.0,439.0 954.0,441.4 955.0,445.2 956.0,449.3 957.0,448.1 958.0,446.1 959.0,444.0 960.0,441.9 961.0,439.9 962.0,438.6 963.0,436.8 964.0,435.3 965.0,433.2 966.0,432.7 967.0,432.9 968.0,433.1 969.0,432.4 970.0,431.7 971.0,431.7 972.0,432.0 973.0,431.9 974.0,431.4 975.0,431.9 976.0,432.1 977.0,432.7 978.0,432.2 979.0,431.9 980.0,432.2 981.0,432.0 982.0,432.3 983.0,431.7 984.0,431.6 985.0,431.7 986.0,431.6 987.0,432.0 988.0,432.1 989.0,433.0 990.0,432.6 991.0,432.5" stroke="#c8c8c8" stroke-width="1"/>
<polyline points="690.0,527.9 691.0,528.0 692.0,530.4 693.0,532.2 694.0,530.4 695.0,526.2 696.0,518.3 697.0,516.8 698.0,521.8 699.0,527.6 700.0,527.3 701.0,528.0 702.0,529.1 703.0,530.2 704.0,530.8 705.0,531.6 706.0,532.1 707.0,532.4 708.0,532.5 709.0,532.4 710.0,529.8 711.0,526.9 712.0,529.6 713.0,535.4 714.0,540.2 715.0,541.5 716.0,543.1 717.0,544.7 718.0,546.6 719.0,548.2 720.0,552.3 721.0,554.4 722.0,556.5 723.0,553.3 724.0,550.4 725.0,546.5 726.0,544.7 727.0,541.8 728.0,540.2 729.0,539.2 730.0,542.5 731.0,545.5 732.0,549.8 733.0,554.2 734.0,559.1 735.0,563.3 736.0,562.4 737.0,556.9 738.0,550.1 739.0,542.1 740.0,538.8 741.0,535.5 742.0,538.1 743.0,541.2 744.0,544.5 745.0,547.4 746.0,551.3 747.0,555.0 748.0,559.6 749.0,562.9 750.0,566.8 751.0,570.4 752.0,576.1 753.0,581.2 754.0,585.5 755.0,584.4 756.0,578.8 757.0,575.3 758.0,573.6 759.0,578.4 760.0,584.5 761.0,588.0 762.0,590.1 763.0,593.2 764.0,595.2 765.0,598.5 766.0,600.3 767.0,603.2 768.0,604.9 769.0,607.2 770.0,609.7 771.0,612.5 772.0,615.9 773.0,620.3 774.0,622.2 775.0,621.4 776.0,618.6 777.0,614.2 778.0,606.6 779.0,596.2 780.0,589.3 781.0,585.6 782.0,584.3 783.0,585.6 784.0,594.1 785.0,601.9 786.0,609.4 787.0,617.1 788.0,617.0 789.0,617.9 790.0,617.9 791.0,618.4 792.0,618.9 793.0,620.6 794.0,623.1 795.0,625.3 796.0,627.7 797.0,628.5 798.0,628.6 799.0,627.5 800.0,625.2 801.0,621.4 802.0,614.1 803.0,613.9 804.0,617.4 805.0,620.4 806.0,622.8 807.0,624.5 808.0,627.0 809.0,636.5 810.0,631.1 811.0,625.2 812.0,619.0 813.0,614.5 814.0,609.5 815.0,604.5 816.0,599.8 817.0,599.2 818.0,601.7 819.0,603.6 820.0,608.1 821.0,614.0 822.0,620.8 823.0,627.0 824.0,629.4 825.0,629.0 826.0,626.1 827.0,622.7 828.0,625.0 829.0,627.6 830.0,630.7 831.0,632.0 832.0,636.5 833.0,640.3 834.0,645.4 835.0,653.3 836.0,660.5 837.0,661.4 838.0,662.3 839.0,665.1 840.0,669.9 841.0,673.6 842.0,678.4 843.0,685.3 844.0,688.6 845.0,691.6 846.0,689.6 847.0,684.2 848.0,674.5 849.0,664.4 850.0,656.3 851.0,648.5 852.0,640.7 853.0,631.5 854.0,623.1 855.0,616.5 856.0,611.2 857.0,604.4 858.0,601.4 859.0,599.5 860.0,599.3 861.0,605.5 862.0,616.0 863.0,618.3 864.0,620.2 865.0,620.3 866.0,618.7 867.0,617.5 868.0,616.4 869.0,618.5 870.0,623.7 871.0,629.1 872.0,640.0 873.0,652.1 874.0,658.4 875.0,662.6 876.0,662.3 877.0,658.9 878.0,655.8 879.0,654.8 880.0,654.9 881.0,655.2 882.0,654.6 883.0,654.7 884.0,651.2 885.0,647.9 886.0,644.2 887.0,632.7 888.0,621.6 889.0,616.9 890.0,613.3 891.0,611.1 892.0,608.2 893.0,605.3 894.0,601.0 895.0,598.0 896.0,595.2 897.0,591.7 898.0,587.9 899.0,582.8 900.0,578.0 901.0,573.3 902.0,568.1 903.0,563.5 904.0,559.7 905.0,556.8 906.0,554.2 907.0,553.1 908.0,553.5 909.0,554.5 910.0,553.5 911.0,553.6 912.0,551.7 913.0,551.1 914.0,548.7 915.0,546.8 916.0,546.6 917.0,546.6 918.0,546.8 919.0,548.1 920.0,550.1 921.0,550.6 922.0,551.5 923.0,550.8 924.0,551.6 925.0,548.0 926.0,543.3 927.0,542.4 928.0,540.0 929.0,537.1 930.0,533.2 931.0,529.1 932.0,526.3 933.0,524.0 934.0,519.7 935.0,515.2 936.0,509.9 937.0,505.1 938.0,498.5 939.0,492.2 940.0,486.6 941.0,481.5 942.0,476.1 943.0,470.0 944.0,463.6 945.0,456.3 946.0,449.7 947.0,442.8 948.0,438.7 949.0,437.5 950.0,436.5 951.0,434.6 952.0,435.8 953.0,436.7 954.0,438.5 955.0,439.5 956.0,442.3 957.0,445.1 958.0,446.1 959.0,444.1 960.0,442.0 961.0,440.3 962.0,439.6 963.0,438.6 964.0,437.3 965.0,436.2 966.0,435.0 967.0,434.1 968.0,433.5 969.0,433.3 970.0,433.0 971.0,433.3 972.0,432.5 973.0,432.3 974.0,431.6 975.0,431.9 976.0,431.8 977.0,431.3 978.0,431.2 979.0,431.9 980.0,432.3 981.0,432.6 982.0,432.3 983.0,432.6 984.0,432.3 985.0,432.1 986.0,432.5 987.0,432.8 988.0,433.0 989.0,432.5 990.0,432.4 991.0,432.4" stroke="#c6c6c6" stroke-width="1"/>
<polyline points="690.0,527.7 691.0,528.1 692.0,530.5 693.0,533.0 694.0,531.7 695.0,527.2 696.0,519.8 697.0,515.3 698.0,520.3 699.0,526.0 700.0,528.0 701.0,528.9 702.0,529.6 703.0,530.7 704.0,531.6 705.0,532.0 706.0,531.6 707.0,532.0 708.0,532.2 709.0,532.5 710.0,529.5 711.0,527.0 712.0,528.3 713.0,534.7 714.0,540.6 715.0,542.3 716.0,543.6 717.0,545.3 718.0,546.6 719.0,548.4 720.0,552.0 721.0,554.5 722.0,557.8 723.0,554.0 724.0,550.7 725.0,546.5 726.0,543.9 727.0,541.7 728.0,540.1 729.0,539.2 730.0,542.8 731.0,545.5 732.0,549.2 733.0,553.4 734.0,557.7 735.0,561.7 736.0,562.4 737.0,557.7 738.0,551.9 739.0,543.9 740.0,540.5 741.0,536.9 742.0,537.8 743.0,541.5 744.0,545.8 745.0,549.4 746.0,552.6 747.0,555.9 748.0,560.0 749.0,563.2 750.0,566.6 751.0,570.0 752.0,576.8 753.0,581.6 754.0,586.3 755.0,586.3 756.0,581.3 757.0,578.2 758.0,575.2 759.0,576.2 760.0,582.3 761.0,588.4 762.0,591.6 763.0,594.5 764.0,596.8 765.0,599.6 766.0,601.3 767.0,603.1 768.0,605.0 769.0,608.0 770.0,610.5 771.0,613.7 772.0,616.7 773.0,621.9 774.0,624.8 775.0,623.6 776.0,620.3 777.0,617.1 778.0,609.3 779.0,599.5 780.0,588.9 781.0,585.7 782.0,583.6 783.0,584.0 784.0,590.9 785.0,598.8 786.0,606.5 787.0,614.3 788.0,618.4 789.0,618.4 790.0,618.4 791.0,618.8 792.0,619.7 793.0,622.0 794.0,625.0 795.0,627.6 796.0,629.0 797.0,628.9 798.0,629.0 799.0,629.6 800.0,627.1 801.0,623.1 802.0,615.4 803.0,615.7 804.0,617.5 805.0,620.3 806.0,622.4 807.0,624.8 808.0,627.6 809.0,632.3 810.0,635.0 811.0,628.4 812.0,621.8 813.0,616.1 814.0,611.4 815.0,606.6 816.0,602.4 817.0,599.7 818.0,602.3 819.0,603.9 820.0,607.0 821.0,612.3 822.0,618.8 823.0,624.0 824.0,627.3 825.0,629.6 826.0,627.0 827.0,623.9 828.0,626.1 829.0,629.8 830.0,632.0 831.0,633.8 832.0,636.2 833.0,639.8 834.0,643.1 835.0,649.6 836.0,656.9 837.0,665.6 838.0,666.1 839.0,668.1 840.0,672.2 841.0,676.3 842.0,680.9 843.0,685.3 844.0,688.0 845.0,691.3 846.0,690.5 847.0,689.4 848.0,679.8 849.0,669.8 850.0,664.0 851.0,657.1 852.0,649.7 853.0,641.7 854.0,632.4 855.0,623.2 856.0,615.0 857.0,608.8 858.0,600.8 859.0,597.4 860.0,597.5 861.0,598.6 862.0,607.2 863.0,618.3 864.0,620.5 865.0,621.1 866.0,620.6 867.0,619.8 868.0,618.6 869.0,619.0 870.0,620.8 871.0,626.5 872.0,636.1 873.0,647.9 874.0,655.2 875.0,661.3 876.0,663.9 877.0,664.5 878.0,661.2 879.0,659.1 880.0,657.8 881.0,658.4 882.0,656.9 883.0,656.7 884.0,655.9 885.0,654.6 886.0,651.2 887.0,648.7 888.0,638.7 889.0,627.0 890.0,620.8 891.0,615.4 892.0,613.3 893.0,611.4 894.0,609.0 895.0,605.0 896.0,601.0 897.0,597.7 898.0,593.9 899.0,589.6 900.0,585.2 901.0,581.4 902.0,576.2 903.0,571.8 904.0,567.8 905.0,564.7 906.0,561.7 907.0,560.3 908.0,560.1 909.0,559.8 910.0,559.2 911.0,559.0 912.0,558.8 913.0,557.1 914.0,554.7 915.0,552.5 916.0,550.3 917.0,549.3 918.0,549.0 919.0,549.6 920.0,551.1 921.0,552.6 922.0,553.8 923.0,555.0 924.0,555.2 925.0,555.3 926.0,553.6 927.0,550.0 928.0,546.6 929.0,544.9 930.0,541.5 931.0,536.0 932.0,530.4 933.0,526.8 934.0,522.7 935.0,517.4 936.0,513.4 937.0,509.4 938.0,503.6 939.0,497.2 940.0,491.1 941.0,487.8 942.0,483.9 943.0,477.9 944.0,472.4 945.0,465.7 946.0,458.7 947.0,451.0 948.0,444.7 949.0,438.9 950.0,438.0 951.0,436.1 952.0,434.8 953.0,434.7 954.0,436.3 955.0,437.1 956.0,437.7 957.0,441.1 958.0,444.3 959.0,446.9 960.0,444.7 961.0,443.1 962.0,442.2 963.0,440.7 964.0,438.2 965.0,436.2 966.0,434.7 967.0,434.0 968.0,432.4 969.0,432.5 970.0,432.5 971.0,432.2 972.0,431.9 973.0,431.5 974.0,431.5 975.0,431.4 976.0,431.9 977.0,431.6 978.0,432.0 979.0,431.5 980.0,432.1 981.0,432.5 982.0,432.8 983.0,433.1 984.0,432.5 985.0,432.4 986.0,432.4 987.0,432.0 988.0,432.3 989.0,431.9 990.0,432.6 991.0,432.4" stroke="#c4c4c4" stroke-width="1"/>
<polyline points="690.0,527.3 691.0,527.7 692.0,530.3 693.0,532.4 694.0,531.4 695.0,526.9 696.0,520.6 697.0,515.6 698.0,521.0 699.0,527.0 700.0,529.3 701.0,529.7 702.0,530.1 703.0,530.7 704.0,531.1 705.0,531.9 706.0,532.7 707.0,533.5 708.0,533.1 709.0,532.8 710.0,530.3 711.0,527.9 712.0,527.7 713.0,533.3 714.0,539.7 715.0,542.7 716.0,544.8 717.0,546.6 718.0,547.7 719.0,549.0 720.0,551.8 721.0,554.0 722.0,556.6 723.0,554.5 724.0,551.4 725.0,547.6 726.0,544.5 727.0,541.9 728.0,540.2 729.0,538.5 730.0,541.9 731.0,545.4 732.0,549.0 733.0,554.2 734.0,558.2 735.0,562.7 736.0,564.9 737.0,559.9 738.0,553.4 739.0,545.4 740.0,540.3 741.0,537.4 742.0,537.2 743.0,541.1 744.0,545.1 745.0,549.0 746.0,553.2 747.0,556.7 748.0,560.7 749.0,564.0 750.0,567.3 751.0,570.6 752.0,576.1 753.0,581.0 754.0,585.7 755.0,586.7 756.0,583.0 757.0,579.4 758.0,576.8 759.0,575.0 760.0,581.9 761.0,588.9 762.0,591.5 763.0,594.7 764.0,597.3 765.0,600.6 766.0,602.7 767.0,604.3 768.0,606.2 769.0,608.2 770.0,611.4 771.0,613.5 772.0,616.7 773.0,621.0 774.0,625.5 775.0,624.7 776.0,622.5 777.0,619.9 778.0,612.9 779.0,602.2 780.0,591.7 781.0,586.4 782.0,584.9 783.0,585.4 784.0,588.0 785.0,596.5 786.0,604.2 787.0,611.8 788.0,619.3 789.0,619.5 790.0,620.1 791.0,620.1 792.0,620.8 793.0,622.4 794.0,624.6 795.0,627.2 796.0,629.6 797.0,630.7 798.0,630.4 799.0,629.9 800.0,628.6 801.0,625.6 802.0,619.1 803.0,618.8 804.0,618.2 805.0,620.5 806.0,622.6 807.0,624.9 808.0,626.8 809.0,628.8 810.0,635.9 811.0,632.8 812.0,626.0 813.0,618.8 814.0,614.7 815.0,609.8 816.0,606.1 817.0,603.4 818.0,604.2 819.0,606.2 820.0,608.1 821.0,612.6 822.0,618.9 823.0,624.5 824.0,626.2 825.0,627.8 826.0,627.0 827.0,624.6 828.0,626.6 829.0,631.0 830.0,633.3 831.0,635.5 832.0,637.5 833.0,640.1 834.0,643.3 835.0,646.9 836.0,654.2 837.0,663.6 838.0,670.6 839.0,671.1 840.0,674.4 841.0,677.6 842.0,682.3 843.0,686.1 844.0,687.7 845.0,690.0 846.0,688.4 847.0,687.6 848.0,684.5 849.0,675.7 850.0,670.7 851.0,665.8 852.0,658.6 853.0,651.2 854.0,643.2 855.0,634.2 856.0,623.5 857.0,614.3 858.0,606.4 859.0,598.7 860.0,595.4 861.0,596.9 862.0,601.6 863.0,610.6 864.0,621.2 865.0,622.3 866.0,621.6 867.0,621.2 868.0,621.1 869.0,621.4 870.0,622.7 871.0,622.8 872.0,632.0 873.0,640.7 874.0,649.3 875.0,656.6 876.0,663.0 877.0,665.4 878.0,667.0 879.0,664.8 880.0,661.9 881.0,660.4 882.0,660.0 883.0,660.0 884.0,659.4 885.0,659.4 886.0,658.3 887.0,655.2 888.0,651.9 889.0,642.8 890.0,630.9 891.0,623.3 892.0,619.0 893.0,616.0 894.0,613.8 895.0,612.6 896.0,609.9 897.0,605.5 898.0,600.5 899.0,595.5 900.0,592.0 901.0,587.6 902.0,583.6 903.0,578.9 904.0,574.7 905.0,570.9 906.0,567.5 907.0,566.5 908.0,566.4 909.0,565.5 910.0,564.4 911.0,564.3 912.0,564.4 913.0,563.3 914.0,561.6 915.0,558.8 916.0,556.7 917.0,554.3 918.0,552.8 919.0,553.4 920.0,553.7 921.0,554.5 922.0,555.5 923.0,556.7 924.0,558.9 925.0,561.0 926.0,560.8 927.0,560.8 928.0,555.9 929.0,551.5 930.0,549.7 931.0,544.5 932.0,538.7 933.0,533.0 934.0,527.7 935.0,523.1 936.0,519.0 937.0,514.7 938.0,509.3 939.0,503.3 940.0,497.6 941.0,493.6 942.0,490.7 943.0,486.9 944.0,481.7 945.0,475.6 946.0,469.4 947.0,461.7 948.0,454.0 949.0,447.9 950.0,441.2 951.0,438.2 952.0,436.4 953.0,434.5 954.0,433.2 955.0,433.5 956.0,434.1 957.0,435.2 958.0,438.3 959.0,441.7 960.0,444.9 961.0,444.2 962.0,442.7 963.0,441.5 964.0,440.1 965.0,438.2 966.0,436.7 967.0,435.6 968.0,435.3 969.0,434.0 970.0,433.0 971.0,432.8 972.0,432.7 973.0,432.5 974.0,432.2 975.0,431.7 976.0,431.8 977.0,431.3 978.0,431.5 979.0,432.0 980.0,432.3 981.0,432.1 982.0,431.5 983.0,431.9 984.0,431.7 985.0,431.5 986.0,431.3 987.0,431.5 988.0,431.4 989.0,431.8 990.0,432.2 991.0,432.6" stroke="#c2c2c2" stroke-width="1"/>
<polyline points="690.0,527.4 691.0,527.5 692.0,529.3 693.0,531.5 694.0,530.6 695.0,526.4 696.0,520.4 697.0,514.8 698.0,520.3 699.0,525.5 700.0,529.2 701.0,529.9 702.0,531.0 703.0,532.3 704.0,533.0 705.0,533.5 706.0,533.0 707.0,533.1 708.0,532.9 709.0,532.2 710.0,529.7 711.0,527.6 712.0,527.6 713.0,532.2 714.0,538.5 715.0,542.4 716.0,544.3 717.0,545.4 718.0,546.9 719.0,548.7 720.0,552.0 721.0,554.6 722.0,557.1 723.0,555.9 724.0,552.3 725.0,548.9 726.0,544.4 727.0,542.7 728.0,540.7 729.0,539.5 730.0,540.7 731.0,544.5 732.0,548.1 733.0,554.2 734.0,558.0 735.0,562.3 736.0,565.0 737.0,561.7 738.0,555.2 739.0,546.9 740.0,541.0 741.0,538.0 742.0,536.2 743.0,540.2 744.0,544.3 745.0,548.3 746.0,553.0 747.0,556.6 748.0,560.8 749.0,564.2 750.0,567.5 751.0,571.1 752.0,576.4 753.0,581.2 754.0,585.6 755.0,586.2 756.0,584.3 757.0,580.7 758.0,578.5 759.0,576.3 760.0,581.9 761.0,589.0 762.0,592.6 763.0,595.3 764.0,598.2 765.0,601.7 766.0,604.5 767.0,605.7 768.0,607.5 769.0,609.6 770.0,612.7 771.0,614.8 772.0,617.9 773.0,622.1 774.0,626.2 775.0,626.4 776.0,623.9 777.0,621.4 778.0,615.2 779.0,605.1 780.0,595.2 781.0,586.7 782.0,585.5 783.0,585.6 784.0,585.6 785.0,592.7 786.0,600.9 787.0,609.1 788.0,617.5 789.0,620.5 790.0,620.9 791.0,621.2 792.0,622.1 793.0,624.2 794.0,625.5 795.0,627.4 796.0,629.0 797.0,630.8 798.0,631.2 799.0,631.7 800.0,631.2 801.0,628.7 802.0,622.0 803.0,621.8 804.0,621.0 805.0,621.2 806.0,622.6 807.0,624.8 808.0,626.6 809.0,627.6 810.0,629.7 811.0,636.5 812.0,630.3 813.0,623.6 814.0,617.5 815.0,613.5 816.0,609.3 817.0,606.1 818.0,605.4 819.0,606.8 820.0,609.0 821.0,611.8 822.0,616.9 823.0,622.5 824.0,624.9 825.0,627.3 826.0,627.5 827.0,626.0 828.0,628.5 829.0,632.7 830.0,636.1 831.0,637.4 832.0,638.6 833.0,639.6 834.0,642.6 835.0,647.4 836.0,652.0 837.0,661.6 838.0,672.1 839.0,677.5 840.0,679.2 841.0,680.3 842.0,684.6 843.0,688.2 844.0,688.5 845.0,690.2 846.0,689.2 847.0,688.9 848.0,684.8 849.0,681.6 850.0,676.1 851.0,671.8 852.0,666.6 853.0,659.6 854.0,652.6 855.0,644.9 856.0,633.6 857.0,621.5 858.0,610.9 859.0,603.8 860.0,597.9 861.0,596.2 862.0,600.3 863.0,604.5 864.0,611.4 865.0,620.8 866.0,623.4 867.0,623.2 868.0,623.0 869.0,623.5 870.0,624.5 871.0,624.9 872.0,629.2 873.0,637.4 874.0,643.7 875.0,651.4 876.0,658.2 877.0,664.9 878.0,668.0 879.0,671.3 880.0,667.9 881.0,665.1 882.0,662.6 883.0,662.4 884.0,661.9 885.0,661.3 886.0,661.0 887.0,660.0 888.0,657.3 889.0,654.4 890.0,648.5 891.0,636.7 892.0,627.9 893.0,623.4 894.0,619.9 895.0,617.8 896.0,615.9 897.0,613.3 898.0,609.2 899.0,604.3 900.0,599.6 901.0,595.1 902.0,590.8 903.0,586.3 904.0,582.1 905.0,578.3 906.0,575.3 907.0,573.8 908.0,573.4 909.0,572.5 910.0,570.9 911.0,569.8 912.0,569.1 913.0,568.4 914.0,566.8 915.0,564.6 916.0,562.1 917.0,559.5 918.0,557.0 919.0,554.7 920.0,555.4 921.0,556.1 922.0,556.9 923.0,558.0 924.0,559.9 925.0,562.1 926.0,564.5 927.0,565.4 928.0,565.3 929.0,561.3 930.0,555.8 931.0,550.8 932.0,545.7 933.0,539.9 934.0,533.1 935.0,527.2 936.0,523.1 937.0,519.1 938.0,513.4 939.0,507.6 940.0,502.2 941.0,498.7 942.0,495.2 943.0,491.8 944.0,487.8 945.0,483.4 946.0,477.5 947.0,471.4 948.0,464.1 949.0,456.9 950.0,449.7 951.0,443.4 952.0,438.1 953.0,436.9 954.0,434.7 955.0,433.0 956.0,433.6 957.0,434.9 958.0,435.6 959.0,437.1 960.0,440.3 961.0,444.6 962.0,445.6 963.0,443.6 964.0,441.4 965.0,440.0 966.0,438.5 967.0,437.2 968.0,435.7 969.0,434.5 970.0,432.8 971.0,431.6 972.0,431.9 973.0,432.2 974.0,432.5 975.0,431.7 976.0,431.7 977.0,431.3 978.0,432.0 979.0,431.9 980.0,432.5 981.0,432.1 982.0,432.2 983.0,431.0 984.0,431.7 985.0,431.5 986.0,431.9 987.0,431.5 988.0,432.3 989.0,432.4 990.0,432.6 991.0,432.2" stroke="#c0c0c0" stroke-width="1"/>
<polyline points="690.0,527.0 691.0,527.5 692.0,530.4 693.0,532.6 694.0,532.4 695.0,527.8 696.0,521.7 697.0,516.2 698.0,520.4 699.0,525.8 700.0,530.1 701.0,530.3 702.0,530.9 703.0,531.6 704.0,532.4 705.0,533.0 706.0,533.3 707.0,533.1 708.0,533.1 709.0,532.2 710.0,530.1 711.0,528.0 712.0,528.1 713.0,531.4 714.0,537.8 715.0,543.0 716.0,544.6 717.0,546.0 718.0,546.7 719.0,548.6 720.0,551.9 721.0,554.6 722.0,556.1 723.0,555.5 724.0,552.6 725.0,549.7 726.0,545.5 727.0,543.2 728.0,541.6 729.0,540.2 730.0,541.3 731.0,544.9 732.0,548.1 733.0,553.9 734.0,557.2 735.0,560.9 736.0,563.8 737.0,562.8 738.0,556.7 739.0,548.8 740.0,540.9 741.0,538.7 742.0,536.8 743.0,539.4 744.0,543.3 745.0,547.5 746.0,552.5 747.0,556.4 748.0,560.2 749.0,564.4 750.0,567.4 751.0,571.8 752.0,576.9 753.0,581.7 754.0,585.4 755.0,586.3 756.0,586.5 757.0,583.2 758.0,580.3 759.0,578.1 760.0,580.1 761.0,587.7 762.0,593.2 763.0,596.0 764.0,599.3 765.0,602.5 766.0,605.9 767.0,607.8 768.0,609.6 769.0,611.7 770.0,613.7 771.0,616.1 772.0,618.9 773.0,622.8 774.0,626.1 775.0,627.1 776.0,624.3 777.0,622.4 778.0,618.0 779.0,608.6 780.0,598.5 781.0,588.8 782.0,586.1 783.0,586.4 784.0,586.8 785.0,590.4 786.0,598.5 787.0,606.5 788.0,614.1 789.0,621.1 790.0,621.2 791.0,622.0 792.0,622.2 793.0,623.9 794.0,625.8 795.0,628.4 796.0,630.7 797.0,631.6 798.0,631.6 799.0,631.4 800.0,631.4 801.0,630.9 802.0,625.2 803.0,624.6 804.0,623.6 805.0,622.3 806.0,623.2 807.0,624.4 808.0,626.7 809.0,628.6 810.0,629.3 811.0,634.6 812.0,633.9 813.0,627.3 814.0,620.3 815.0,616.0 816.0,611.9 817.0,610.0 818.0,608.4 819.0,607.6 820.0,609.3 821.0,612.1 822.0,615.8 823.0,621.5 824.0,623.9 825.0,626.2 826.0,626.7 827.0,627.3 828.0,629.8 829.0,633.7 830.0,637.1 831.0,639.2 832.0,640.4 833.0,641.3 834.0,642.3 835.0,646.1 836.0,650.4 837.0,657.7 838.0,667.8 839.0,678.9 840.0,683.0 841.0,684.6 842.0,685.8 843.0,689.6 844.0,689.8 845.0,690.1 846.0,687.4 847.0,686.6 848.0,683.7 849.0,681.1 850.0,681.9 851.0,677.8 852.0,673.2 853.0,668.5 854.0,661.2 855.0,654.5 856.0,645.0 857.0,633.3 858.0,620.3 859.0,609.6 860.0,604.4 861.0,599.3 862.0,598.8 863.0,602.5 864.0,606.7 865.0,612.1 866.0,620.9 867.0,625.0 868.0,624.5 869.0,625.1 870.0,625.6 871.0,626.5 872.0,630.6 873.0,635.5 874.0,639.6 875.0,645.1 876.0,651.0 877.0,658.0 878.0,665.0 879.0,669.5 880.0,673.6 881.0,672.0 882.0,668.8 883.0,665.5 884.0,664.4 885.0,664.5 886.0,664.1 887.0,664.1 888.0,663.8 889.0,660.5 890.0,657.4 891.0,653.3 892.0,642.0 893.0,630.5 894.0,626.1 895.0,622.2 896.0,620.7 897.0,618.6 898.0,616.3 899.0,611.9 900.0,607.1 901.0,601.6 902.0,597.6 903.0,593.7 904.0,590.8 905.0,587.7 906.0,584.2 907.0,581.9 908.0,580.6 909.0,578.9 910.0,577.2 911.0,575.7 912.0,574.1 913.0,572.8 914.0,571.1 915.0,569.4 916.0,568.3 917.0,566.2 918.0,563.8 919.0,561.8 920.0,559.6 921.0,559.3 922.0,559.4 923.0,560.0 924.0,561.4 925.0,562.9 926.0,565.3 927.0,567.7 928.0,569.4 929.0,568.7 930.0,565.9 931.0,558.2 932.0,551.9 933.0,547.9 934.0,541.5 935.0,534.6 936.0,527.7 937.0,522.9 938.0,517.5 939.0,511.8 940.0,507.1 941.0,504.2 942.0,501.1 943.0,497.1 944.0,492.7 945.0,488.8 946.0,484.7 947.0,479.1 948.0,473.6 949.0,467.7 950.0,460.0 951.0,451.8 952.0,445.2 953.0,437.9 954.0,436.3 955.0,434.9 956.0,433.3 957.0,432.9 958.0,433.5 959.0,434.6 960.0,435.5 961.0,439.2 962.0,442.2 963.0,445.4 964.0,443.1 965.0,441.7 966.0,440.2 967.0,438.8 968.0,437.0 969.0,435.5 970.0,434.7 971.0,433.9 972.0,432.3 973.0,431.5 974.0,431.5 975.0,431.4 976.0,431.1 977.0,430.9 978.0,431.0 979.0,431.4 980.0,431.7 981.0,431.9 982.0,432.3 983.0,432.0 984.0,432.0 985.0,431.6 986.0,431.9 987.0,431.4 988.0,431.6 989.0,431.2 990.0,431.5 991.0,431.3" stroke="#bebebe" stroke-width="1"/>
<polyline points="690.0,527.3 691.0,527.9 692.0,529.6 693.0,531.7 694.0,532.1 695.0,528.2 696.0,522.5 697.0,516.6 698.0,518.7 699.0,524.2 700.0,529.7 701.0,530.5 702.0,531.1 703.0,531.9 704.0,532.2 705.0,532.5 706.0,532.8 707.0,532.8 708.0,533.1 709.0,532.5 710.0,531.0 711.0,529.1 712.0,529.6 713.0,530.7 714.0,536.8 715.0,542.4 716.0,544.1 717.0,545.7 718.0,546.9 719.0,549.2 720.0,551.9 721.0,554.2 722.0,556.6 723.0,557.3 724.0,553.8 725.0,550.0 726.0,545.6 727.0,542.6 728.0,541.1 729.0,540.2 730.0,540.2 731.0,544.0 732.0,547.2 733.0,553.6 734.0,558.1 735.0,562.1 736.0,564.0 737.0,563.9 738.0,557.4 739.0,549.7 740.0,542.4 741.0,539.6 742.0,538.2 743.0,538.6 744.0,542.2 745.0,547.0 746.0,553.0 747.0,556.6 748.0,560.6 749.0,564.3 750.0,568.2 751.0,572.3 752.0,577.9 753.0,582.8 754.0,586.4 755.0,587.2 756.0,587.4 757.0,585.2 758.0,582.4 759.0,579.5 760.0,579.1 761.0,586.3 762.0,594.3 763.0,597.4 764.0,600.8 765.0,603.5 766.0,606.3 767.0,608.5 768.0,609.9 769.0,612.1 770.0,614.2 771.0,616.7 772.0,619.2 773.0,622.6 774.0,626.7 775.0,628.5 776.0,626.5 777.0,623.6 778.0,619.0 779.0,611.0 780.0,601.7 781.0,593.0 782.0,586.9 783.0,586.3 784.0,586.0 785.0,586.2 786.0,594.9 787.0,603.4 788.0,611.4 789.0,619.2 790.0,621.9 791.0,622.0 792.0,622.8 793.0,624.6 794.0,626.9 795.0,628.4 796.0,630.8 797.0,631.8 798.0,632.6 799.0,632.7 800.0,632.9 801.0,632.5 802.0,627.6 803.0,627.0 804.0,626.4 805.0,625.1 806.0,623.7 807.0,625.4 808.0,627.8 809.0,629.3 810.0,629.5 811.0,629.4 812.0,637.4 813.0,632.0 814.0,625.9 815.0,619.5 816.0,615.1 817.0,612.3 818.0,611.6 819.0,610.9 820.0,610.8 821.0,613.8 822.0,616.0 823.0,620.0 824.0,622.0 825.0,624.9 826.0,626.1 827.0,627.1 828.0,630.9 829.0,634.2 830.0,637.7 831.0,640.1 832.0,642.0 833.0,642.8 834.0,643.6 835.0,645.2 836.0,649.1 837.0,655.1 838.0,663.1 839.0,673.8 840.0,685.3 841.0,688.6 842.0,689.7 843.0,691.1 844.0,691.1 845.0,691.3 846.0,688.5 847.0,687.5 848.0,684.6 849.0,681.8 850.0,682.4 851.0,683.6 852.0,679.4 853.0,674.9 854.0,670.7 855.0,663.2 856.0,653.8 857.0,643.3 858.0,631.0 859.0,619.5 860.0,609.7 861.0,604.8 862.0,602.3 863.0,601.4 864.0,605.9 865.0,608.6 866.0,612.3 867.0,620.5 868.0,625.8 869.0,626.4 870.0,627.8 871.0,628.8 872.0,632.9 873.0,637.3 874.0,638.6 875.0,642.2 876.0,646.9 877.0,652.4 878.0,659.0 879.0,666.0 880.0,671.4 881.0,674.4 882.0,673.8 883.0,670.8 884.0,668.1 885.0,666.9 886.0,666.9 887.0,666.7 888.0,666.6 889.0,666.2 890.0,663.9 891.0,660.5 892.0,657.1 893.0,646.5 894.0,635.2 895.0,630.2 896.0,625.7 897.0,623.7 898.0,621.1 899.0,618.8 900.0,614.1 901.0,609.3 902.0,603.5 903.0,599.3 904.0,596.1 905.0,593.8 906.0,591.3 907.0,588.6 908.0,587.4 909.0,585.4 910.0,584.1 911.0,582.4 912.0,580.9 913.0,579.1 914.0,576.9 915.0,574.9 916.0,572.8 917.0,571.3 918.0,569.8 919.0,568.0 920.0,565.7 921.0,563.7 922.0,562.1 923.0,563.0 924.0,563.7 925.0,565.3 926.0,566.6 927.0,568.8 928.0,570.8 929.0,572.7 930.0,571.7 931.0,568.8 932.0,560.9 933.0,553.4 934.0,548.2 935.0,541.9 936.0,535.1 937.0,528.4 938.0,522.5 939.0,517.1 940.0,512.7 941.0,509.3 942.0,506.0 943.0,502.4 944.0,498.5 945.0,494.7 946.0,490.6 947.0,486.7 948.0,481.3 949.0,475.6 950.0,469.3 951.0,461.5 952.0,453.4 953.0,446.6 954.0,439.9 955.0,436.3 956.0,434.4 957.0,432.7 958.0,432.0 959.0,432.8 960.0,434.1 961.0,434.7 962.0,437.1 963.0,440.0 964.0,443.6 965.0,443.9 966.0,442.6 967.0,440.6 968.0,438.5 969.0,437.0 970.0,435.9 971.0,434.8 972.0,433.6 973.0,432.0 974.0,431.2 975.0,430.7 976.0,431.2 977.0,431.5 978.0,431.5 979.0,431.0 980.0,430.7 981.0,430.6 982.0,430.4 983.0,431.0 984.0,431.6 985.0,431.8 986.0,432.0 987.0,431.6 988.0,432.1 989.0,432.0 990.0,432.3 991.0,432.1" stroke="#bcbcbc" stroke-width="1"/>
<polyline points="690.0,526.3 691.0,526.8 692.0,528.9 693.0,531.6 694.0,532.8 695.0,528.9 696.0,523.2 697.0,517.8 698.0,518.5 699.0,523.9 700.0,529.3 701.0,530.8 702.0,531.4 703.0,532.1 704.0,532.8 705.0,533.5 706.0,533.0 707.0,533.1 708.0,533.4 709.0,533.3 710.0,531.1 711.0,528.7 712.0,528.8 713.0,529.1 714.0,535.3 715.0,541.5 716.0,544.3 717.0,546.2 718.0,547.6 719.0,548.6 720.0,551.3 721.0,553.1 722.0,555.2 723.0,555.9 724.0,553.8 725.0,550.5 726.0,546.2 727.0,542.6 728.0,541.5 729.0,540.7 730.0,540.5 731.0,543.9 732.0,547.9 733.0,554.0 734.0,558.7 735.0,561.7 736.0,564.1 737.0,565.5 738.0,560.0 739.0,552.0 740.0,544.9 741.0,540.3 742.0,538.9 743.0,537.5 744.0,541.6 745.0,546.2 746.0,552.2 747.0,556.3 748.0,560.2 749.0,564.2 750.0,568.6 751.0,572.6 752.0,577.8 753.0,582.8 754.0,586.8 755.0,587.9 756.0,587.5 757.0,587.1 758.0,584.3 759.0,581.9 760.0,579.3 761.0,585.3 762.0,593.2 763.0,597.3 764.0,600.5 765.0,603.4 766.0,607.0 767.0,609.5 768.0,610.8 769.0,612.4 770.0,615.1 771.0,617.7 772.0,620.3 773.0,623.3 774.0,627.0 775.0,629.1 776.0,628.0 777.0,625.3 778.0,620.7 779.0,614.3 780.0,605.3 781.0,596.1 782.0,588.5 783.0,587.5 784.0,587.9 785.0,587.6 786.0,592.0 787.0,600.1 788.0,608.3 789.0,616.5 790.0,623.6 791.0,624.1 792.0,624.5 793.0,625.6 794.0,627.7 795.0,629.5 796.0,631.6 797.0,633.0 798.0,633.1 799.0,633.2 800.0,632.9 801.0,633.4 802.0,631.2 803.0,630.4 804.0,629.2 805.0,627.4 806.0,625.3 807.0,625.0 808.0,626.1 809.0,627.7 810.0,628.6 811.0,629.3 812.0,632.3 813.0,635.7 814.0,629.6 815.0,623.5 816.0,618.3 817.0,615.4 818.0,614.3 819.0,613.5 820.0,612.9 821.0,614.2 822.0,616.9 823.0,619.0 824.0,621.6 825.0,624.1 826.0,625.4 827.0,626.2 828.0,630.7 829.0,635.1 830.0,638.7 831.0,641.4 832.0,643.9 833.0,644.7 834.0,645.1 835.0,646.7 836.0,648.8 837.0,654.7 838.0,660.9 839.0,670.5 840.0,681.2 841.0,691.6 842.0,692.9 843.0,693.9 844.0,692.7 845.0,693.1 846.0,690.2 847.0,687.9 848.0,684.4 849.0,682.1 850.0,683.0 851.0,683.7 852.0,684.4 853.0,680.5 854.0,676.4 855.0,671.5 856.0,662.8 857.0,653.4 858.0,643.0 859.0,631.4 860.0,620.6 861.0,610.8 862.0,608.7 863.0,606.1 864.0,604.3 865.0,606.7 866.0,608.9 867.0,612.2 868.0,621.0 869.0,628.1 870.0,629.1 871.0,630.2 872.0,634.6 873.0,638.9 874.0,640.2 875.0,641.3 876.0,642.5 877.0,647.0 878.0,652.4 879.0,660.1 880.0,667.7 881.0,673.2 882.0,676.2 883.0,676.7 884.0,673.8 885.0,671.1 886.0,669.5 887.0,669.4 888.0,669.5 889.0,669.2 890.0,668.9 891.0,666.6 892.0,663.2 893.0,660.2 894.0,651.7 895.0,640.9 896.0,633.7 897.0,629.7 898.0,626.5 899.0,623.3 900.0,620.2 901.0,616.3 902.0,612.2 903.0,607.6 904.0,603.3 905.0,600.2 906.0,597.8 907.0,596.6 908.0,595.1 909.0,593.2 910.0,590.5 911.0,589.1 912.0,587.0 913.0,585.3 914.0,582.5 915.0,579.9 916.0,578.3 917.0,576.6 918.0,575.1 919.0,574.0 920.0,571.9 921.0,569.3 922.0,566.2 923.0,563.9 924.0,565.1 925.0,566.2 926.0,567.8 927.0,569.2 928.0,571.3 929.0,573.0 930.0,574.3 931.0,572.1 932.0,569.1 933.0,562.9 934.0,554.8 935.0,548.7 936.0,543.1 937.0,536.4 938.0,528.4 939.0,521.6 940.0,516.9 941.0,514.0 942.0,510.8 943.0,507.5 944.0,504.3 945.0,500.2 946.0,496.2 947.0,492.2 948.0,487.8 949.0,483.5 950.0,476.9 951.0,471.0 952.0,463.7 953.0,455.6 954.0,448.0 955.0,440.9 956.0,435.7 957.0,434.6 958.0,433.2 959.0,431.8 960.0,431.7 961.0,432.8 962.0,433.7 963.0,435.4 964.0,438.9 965.0,442.1 966.0,443.3 967.0,441.8 968.0,440.3 969.0,439.1 970.0,437.6 971.0,436.3 972.0,435.1 973.0,434.0 974.0,432.7 975.0,431.3 976.0,431.3 977.0,431.2 978.0,431.1 979.0,430.8 980.0,430.8 981.0,431.4 982.0,431.8 983.0,431.8 984.0,431.7 985.0,431.8 986.0,432.2 987.0,431.9 988.0,431.8 989.0,431.2 990.0,431.2 991.0,431.2" stroke="#bababa" stroke-width="1"/>
<polyline points="690.0,527.2 691.0,527.7 692.0,529.5 693.0,531.5 694.0,532.7 695.0,528.6 696.0,523.2 697.0,518.5 698.0,517.5 699.0,522.8 700.0,528.4 701.0,531.0 702.0,531.6 703.0,532.1 704.0,532.7 705.0,533.6 706.0,533.4 707.0,533.6 708.0,533.4 709.0,533.1 710.0,531.2 711.0,529.3 712.0,529.5 713.0,529.2 714.0,534.9 715.0,540.8 716.0,544.2 717.0,545.6 718.0,547.3 719.0,549.1 720.0,551.9 721.0,553.5 722.0,555.4 723.0,556.3 724.0,555.0 725.0,551.6 726.0,547.2 727.0,542.9 728.0,541.8 729.0,540.9 730.0,540.6 731.0,542.6 732.0,546.3 733.0,552.5 734.0,558.4 735.0,561.8 736.0,563.8 737.0,564.9 738.0,561.5 739.0,554.2 740.0,546.9 741.0,540.9 742.0,539.5 743.0,538.5 744.0,541.9 745.0,546.6 746.0,551.9 747.0,556.5 748.0,559.9 749.0,563.8 750.0,568.0 751.0,572.1 752.0,577.2 753.0,582.1 754.0,586.4 755.0,587.8 756.0,588.4 757.0,589.9 758.0,586.9 759.0,584.3 760.0,581.5 761.0,584.7 762.0,592.4 763.0,598.8 764.0,601.7 765.0,604.5 766.0,607.4 767.0,610.4 768.0,612.2 769.0,613.9 770.0,616.3 771.0,618.4 772.0,620.8 773.0,623.8 774.0,626.8 775.0,628.7 776.0,628.8 777.0,626.2 778.0,621.9 779.0,615.9 780.0,608.1 781.0,599.6 782.0,592.5 783.0,589.0 784.0,589.0 785.0,588.7 786.0,589.0 787.0,597.0 788.0,605.4 789.0,613.2 790.0,621.1 791.0,624.2 792.0,624.8 793.0,626.0 794.0,627.9 795.0,629.8 796.0,631.8 797.0,633.1 798.0,633.9 799.0,634.2 800.0,634.5 801.0,634.5 802.0,632.4 803.0,632.3 804.0,631.0 805.0,629.4 806.0,627.9 807.0,626.1 808.0,627.3 809.0,628.3 810.0,629.2 811.0,630.0 812.0,629.9 813.0,635.8 814.0,634.3 815.0,628.3 816.0,622.1 817.0,619.2 818.0,617.8 819.0,616.3 820.0,615.0 821.0,614.5 822.0,617.6 823.0,619.4 824.0,619.7 825.0,622.1 826.0,623.7 827.0,626.0 828.0,630.4 829.0,636.1 830.0,639.5 831.0,642.2 832.0,644.8 833.0,646.3 834.0,647.2 835.0,648.5 836.0,650.0 837.0,654.2 838.0,660.4 839.0,667.0 840.0,676.7 841.0,686.6 842.0,696.7 843.0,697.3 844.0,695.5 845.0,694.4 846.0,691.9 847.0,689.5 848.0,684.9 849.0,682.1 850.0,683.1 851.0,684.5 852.0,685.4 853.0,686.0 854.0,682.4 855.0,677.2 856.0,671.0 857.0,662.2 858.0,652.6 859.0,642.9 860.0,632.9 861.0,623.0 862.0,614.9 863.0,611.5 864.0,608.8 865.0,605.3 866.0,607.4 867.0,609.7 868.0,612.4 869.0,621.7 870.0,630.9 871.0,631.5 872.0,635.0 873.0,639.3 874.0,640.9 875.0,641.9 876.0,642.3 877.0,642.6 878.0,648.2 879.0,653.9 880.0,661.8 881.0,668.3 882.0,674.4 883.0,677.4 884.0,679.3 885.0,676.6 886.0,674.0 887.0,671.8 888.0,671.7 889.0,671.2 890.0,671.3 891.0,670.8 892.0,669.5 893.0,665.9 894.0,662.5 895.0,657.2 896.0,646.2 897.0,637.8 898.0,633.6 899.0,629.5 900.0,626.3 901.0,623.3 902.0,620.0 903.0,615.0 904.0,611.0 905.0,607.4 906.0,605.3 907.0,603.4 908.0,602.8 909.0,601.1 910.0,599.0 911.0,596.1 912.0,594.0 913.0,591.4 914.0,588.4 915.0,585.5 916.0,583.0 917.0,581.4 918.0,579.3 919.0,577.9 920.0,576.7 921.0,574.8 922.0,572.4 923.0,570.5 924.0,569.5 925.0,569.1 926.0,570.2 927.0,571.0 928.0,572.6 929.0,573.8 930.0,574.8 931.0,574.3 932.0,573.2 933.0,570.0 934.0,565.4 935.0,557.0 936.0,549.4 937.0,544.3 938.0,536.7 939.0,529.4 940.0,522.5 941.0,519.3 942.0,515.8 943.0,512.1 944.0,508.3 945.0,505.0 946.0,501.5 947.0,497.7 948.0,493.6 949.0,489.8 950.0,485.4 951.0,479.1 952.0,473.0 953.0,466.6 954.0,458.8 955.0,450.6 956.0,443.3 957.0,436.5 958.0,434.8 959.0,433.3 960.0,431.9 961.0,431.4 962.0,432.7 963.0,433.7 964.0,434.3 965.0,437.1 966.0,440.2 967.0,444.1 968.0,442.7 969.0,441.3 970.0,439.4 971.0,438.1 972.0,436.7 973.0,435.5 974.0,434.3 975.0,432.9 976.0,431.8 977.0,431.0 978.0,431.1 979.0,431.2 980.0,431.4 981.0,431.5 982.0,431.1 983.0,431.5 984.0,431.3 985.0,431.7 986.0,431.2 987.0,431.2 988.0,431.1 989.0,431.4 990.0,431.8 991.0,431.8" stroke="#b8b8b8" stroke-width="1"/>
<polyline points="690.0,527.1 691.0,527.6 692.0,529.4 693.0,531.3 694.0,533.2 695.0,529.4 696.0,524.3 697.0,519.4 698.0,517.2 699.0,522.4 700.0,528.0 701.0,531.8 702.0,532.6 703.0,532.7 704.0,533.1 705.0,533.7 706.0,534.4 707.0,534.0 708.0,533.8 709.0,533.1 710.0,531.0 711.0,529.3 712.0,529.1 713.0,529.4 714.0,533.8 715.0,540.2 716.0,544.4 717.0,545.6 718.0,546.9 719.0,549.1 720.0,551.5 721.0,553.1 722.0,554.9 723.0,555.8 724.0,555.8 725.0,552.2 726.0,548.5 727.0,544.3 728.0,542.8 729.0,541.5 730.0,541.0 731.0,542.4 732.0,546.7 733.0,552.6 734.0,558.2 735.0,561.4 736.0,562.9 737.0,564.5 738.0,562.8 739.0,556.2 740.0,549.3 741.0,542.5 742.0,540.8 743.0,539.4 744.0,541.6 745.0,546.2 746.0,552.0 747.0,556.8 748.0,560.8 749.0,564.7 750.0,568.5 751.0,572.5 752.0,577.3 753.0,582.5 754.0,586.7 755.0,587.9 756.0,588.5 757.0,590.0 758.0,588.7 759.0,586.5 760.0,584.2 761.0,584.2 762.0,591.7 763.0,599.0 764.0,602.2 765.0,605.0 766.0,608.3 767.0,610.9 768.0,612.9 769.0,614.3 770.0,616.8 771.0,619.3 772.0,622.2 773.0,624.6 774.0,627.2 775.0,628.6 776.0,628.9 777.0,627.2 778.0,623.3 779.0,617.4 780.0,611.2 781.0,602.6 782.0,595.9 783.0,589.6 784.0,589.6 785.0,589.6 786.0,589.0 787.0,593.8 788.0,602.1 789.0,610.7 790.0,618.6 791.0,625.4 792.0,626.0 793.0,627.5 794.0,629.0 795.0,630.6 796.0,632.4 797.0,633.4 798.0,634.2 799.0,634.6 800.0,634.8 801.0,635.1 802.0,633.4 803.0,635.2 804.0,634.4 805.0,632.3 806.0,630.0 807.0,627.8 808.0,627.6 809.0,628.7 810.0,629.5 811.0,630.0 812.0,630.0 813.0,630.3 814.0,638.3 815.0,632.8 816.0,627.2 817.0,622.3 818.0,620.9 819.0,619.7 820.0,618.3 821.0,617.2 822.0,617.5 823.0,619.8 824.0,620.1 825.0,621.9 826.0,624.0 827.0,626.0 828.0,630.1 829.0,635.4 830.0,640.0 831.0,642.8 832.0,645.2 833.0,647.2 834.0,648.5 835.0,649.9 836.0,651.5 837.0,654.4 838.0,659.4 839.0,666.0 840.0,673.1 841.0,682.4 842.0,692.0 843.0,699.9 844.0,698.3 845.0,696.8 846.0,693.5 847.0,691.3 848.0,686.8 849.0,683.4 850.0,683.1 851.0,684.4 852.0,684.7 853.0,685.4 854.0,685.9 855.0,683.2 856.0,677.7 857.0,671.6 858.0,662.4 859.0,652.6 860.0,643.6 861.0,634.4 862.0,626.5 863.0,618.6 864.0,615.0 865.0,611.5 866.0,607.8 867.0,608.7 868.0,611.2 869.0,614.4 870.0,622.8 871.0,632.8 872.0,637.2 873.0,641.2 874.0,642.7 875.0,643.8 876.0,644.3 877.0,644.6 878.0,644.9 879.0,649.3 880.0,654.5 881.0,661.6 882.0,668.8 883.0,675.5 884.0,679.0 885.0,682.2 886.0,679.9 887.0,677.0 888.0,674.3 889.0,673.9 890.0,673.3 891.0,672.7 892.0,672.3 893.0,672.5 894.0,669.6 895.0,666.6 896.0,663.2 897.0,652.0 898.0,641.0 899.0,636.2 900.0,631.0 901.0,628.5 902.0,625.8 903.0,623.4 904.0,619.3 905.0,615.6 906.0,612.1 907.0,609.9 908.0,608.5 909.0,606.7 910.0,604.5 911.0,602.5 912.0,600.0 913.0,597.5 914.0,594.4 915.0,591.6 916.0,589.1 917.0,586.4 918.0,584.2 919.0,582.7 920.0,581.2 921.0,579.9 922.0,578.4 923.0,576.7 924.0,574.6 925.0,572.4 926.0,571.0 927.0,572.7 928.0,573.9 929.0,574.6 930.0,574.9 931.0,574.1 932.0,573.9 933.0,573.4 934.0,570.4 935.0,567.1 936.0,559.0 937.0,550.8 938.0,544.4 939.0,537.6 940.0,530.7 941.0,524.7 942.0,520.0 943.0,516.7 944.0,513.5 945.0,510.4 946.0,506.8 947.0,502.9 948.0,498.9 949.0,494.7 950.0,490.5 951.0,486.0 952.0,480.7 953.0,474.7 954.0,468.2 955.0,460.6 956.0,452.5 957.0,445.3 958.0,438.5 959.0,434.3 960.0,433.2 961.0,431.6 962.0,430.2 963.0,431.1 964.0,432.1 965.0,433.2 966.0,434.8 967.0,438.5 968.0,442.2 969.0,443.1 970.0,441.6 971.0,439.4 972.0,438.1 973.0,436.7 974.0,435.8 975.0,434.3 976.0,432.8 977.0,431.1 978.0,430.5 979.0,430.9 980.0,431.4 981.0,431.8 982.0,431.9 983.0,432.1 984.0,431.8 985.0,431.7 986.0,431.5 987.0,431.8 988.0,431.7 989.0,431.5 990.0,431.6 991.0,431.5" stroke="#b6b6b6" stroke-width="1"/>
<polyline points="690.0,526.9 691.0,527.4 692.0,529.4 693.0,531.3 694.0,532.8 695.0,530.0 696.0,524.8 697.0,520.2 698.0,516.8 699.0,521.9 700.0,527.5 701.0,532.3 702.0,532.8 703.0,533.3 704.0,533.5 705.0,533.9 706.0,533.9 707.0,533.8 708.0,533.7 709.0,533.0 710.0,530.9 711.0,529.6 712.0,529.8 713.0,530.1 714.0,532.7 715.0,538.9 716.0,544.3 717.0,545.8 718.0,547.2 719.0,548.9 720.0,551.5 721.0,553.5 722.0,555.3 723.0,556.3 724.0,557.1 725.0,553.7 726.0,549.7 727.0,545.0 728.0,542.8 729.0,541.9 730.0,542.1 731.0,542.1 732.0,546.3 733.0,551.6 734.0,557.2 735.0,561.0 736.0,563.1 737.0,564.3 738.0,564.5 739.0,557.6 740.0,551.1 741.0,544.1 742.0,541.1 743.0,539.9 744.0,540.3 745.0,545.1 746.0,551.0 747.0,556.7 748.0,561.1 749.0,565.0 750.0,569.2 751.0,573.0 752.0,577.9 753.0,582.3 754.0,586.7 755.0,588.0 756.0,589.3 757.0,590.8 758.0,591.1 759.0,588.3 760.0,586.4 761.0,584.0 762.0,591.3 763.0,599.0 764.0,603.1 765.0,605.5 766.0,608.3 767.0,611.2 768.0,613.9 769.0,615.6 770.0,618.1 771.0,620.7 772.0,623.0 773.0,625.1 774.0,627.0 775.0,628.4 776.0,628.7 777.0,628.6 778.0,624.9 779.0,619.8 780.0,614.2 781.0,606.5 782.0,599.5 783.0,593.3 784.0,590.2 785.0,590.0 786.0,589.9 787.0,590.7 788.0,599.0 789.0,607.2 790.0,615.5 791.0,623.5 792.0,627.1 793.0,628.4 794.0,630.1 795.0,631.4 796.0,633.0 797.0,634.1 798.0,634.9 799.0,635.5 800.0,635.6 801.0,635.5 802.0,634.1 803.0,635.5 804.0,636.5 805.0,634.5 806.0,632.5 807.0,630.5 808.0,628.6 809.0,628.8 810.0,629.1 811.0,630.0 812.0,630.6 813.0,630.6 814.0,634.1 815.0,637.0 816.0,631.7 817.0,626.7 818.0,624.0 819.0,622.8 820.0,621.7 821.0,620.7 822.0,619.5 823.0,620.7 824.0,621.2 825.0,621.5 826.0,622.9 827.0,624.8 828.0,629.2 829.0,634.5 830.0,639.6 831.0,643.8 832.0,646.3 833.0,648.4 834.0,650.4 835.0,652.2 836.0,653.3 837.0,656.2 838.0,659.2 839.0,664.4 840.0,670.6 841.0,676.9 842.0,686.7 843.0,696.0 844.0,701.8 845.0,699.8 846.0,696.0 847.0,692.8 848.0,689.2 849.0,685.7 850.0,684.7 851.0,684.6 852.0,685.1 853.0,685.8 854.0,686.8 855.0,687.3 856.0,683.8 857.0,677.7 858.0,671.1 859.0,662.9 860.0,654.2 861.0,645.8 862.0,638.4 863.0,630.4 864.0,622.4 865.0,616.8 866.0,613.3 867.0,609.8 868.0,610.0 869.0,613.3 870.0,616.8 871.0,624.2 872.0,635.7 873.0,641.6 874.0,643.0 875.0,644.4 876.0,645.5 877.0,645.9 878.0,646.6 879.0,647.3 880.0,651.5 881.0,656.4 882.0,662.6 883.0,669.3 884.0,676.3 885.0,680.7 886.0,684.3 887.0,683.1 888.0,680.2 889.0,677.1 890.0,676.3 891.0,676.0 892.0,675.6 893.0,675.1 894.0,674.6 895.0,672.6 896.0,670.0 897.0,667.2 898.0,657.9 899.0,646.2 900.0,639.3 901.0,634.2 902.0,630.8 903.0,628.4 904.0,626.4 905.0,623.6 906.0,620.0 907.0,616.9 908.0,614.6 909.0,612.5 910.0,610.7 911.0,609.0 912.0,607.1 913.0,604.5 914.0,601.1 915.0,598.1 916.0,595.0 917.0,592.2 918.0,589.4 919.0,587.0 920.0,585.8 921.0,584.3 922.0,582.9 923.0,581.5 924.0,579.5 925.0,577.5 926.0,575.6 927.0,574.1 928.0,574.4 929.0,575.0 930.0,575.3 931.0,574.4 932.0,574.0 933.0,573.4 934.0,572.5 935.0,569.9 936.0,566.6 937.0,560.4 938.0,551.5 939.0,543.9 940.0,538.6 941.0,533.0 942.0,527.7 943.0,522.1 944.0,518.6 945.0,514.9 946.0,511.3 947.0,507.8 948.0,504.4 949.0,500.6 950.0,496.1 951.0,491.2 952.0,486.8 953.0,481.9 954.0,475.9 955.0,469.4 956.0,462.5 957.0,454.8 958.0,447.4 959.0,440.5 960.0,434.2 961.0,432.9 962.0,431.7 963.0,430.5 964.0,430.8 965.0,432.0 966.0,432.9 967.0,433.6 968.0,436.9 969.0,440.6 970.0,443.4 971.0,442.0 972.0,440.4 973.0,438.8 974.0,437.3 975.0,436.0 976.0,434.6 977.0,433.5 978.0,432.7 979.0,431.6 980.0,431.6 981.0,431.1 982.0,430.8 983.0,430.8 984.0,431.1 985.0,431.4 986.0,431.5 987.0,431.5 988.0,431.4 989.0,431.4 990.0,431.5 991.0,431.4" stroke="#b4b4b4" stroke-width="1"/>
<polyline points="690.0,527.2 691.0,527.8 692.0,529.4 693.0,531.2 694.0,533.0 695.0,531.0 696.0,526.4 697.0,521.7 698.0,518.4 699.0,521.6 700.0,527.2 701.0,532.9 702.0,533.0 703.0,533.4 704.0,533.8 705.0,534.2 706.0,534.0 707.0,533.7 708.0,533.7 709.0,533.3 710.0,531.3 711.0,529.8 712.0,529.7 713.0,529.9 714.0,531.3 715.0,537.8 716.0,544.2 717.0,545.9 718.0,547.2 719.0,549.0 720.0,551.4 721.0,553.0 722.0,554.8 723.0,555.4 724.0,556.3 725.0,553.9 726.0,550.2 727.0,545.9 728.0,542.8 729.0,542.2 730.0,542.4 731.0,542.5 732.0,546.0 733.0,551.2 734.0,556.6 735.0,561.0 736.0,562.8 737.0,564.2 738.0,564.9 739.0,559.7 740.0,553.2 741.0,546.6 742.0,542.5 743.0,541.5 744.0,540.5 745.0,545.1 746.0,550.6 747.0,556.1 748.0,560.9 749.0,564.9 750.0,569.0 751.0,573.2 752.0,578.0 753.0,582.2 754.0,586.8 755.0,588.6 756.0,589.6 757.0,591.1 758.0,593.1 759.0,590.9 760.0,588.9 761.0,586.5 762.0,590.4 763.0,597.7 764.0,603.4 765.0,606.3 766.0,609.4 767.0,612.3 768.0,615.0 769.0,616.7 770.0,618.5 771.0,620.3 772.0,622.4 773.0,625.0 774.0,627.2 775.0,628.3 776.0,628.7 777.0,629.1 778.0,625.9 779.0,621.2 780.0,616.2 781.0,610.5 782.0,603.2 783.0,596.9 784.0,590.9 785.0,591.0 786.0,591.0 787.0,590.8 788.0,596.0 789.0,604.4 790.0,613.0 791.0,621.0 792.0,628.1 793.0,629.1 794.0,630.3 795.0,631.5 796.0,633.2 797.0,634.3 798.0,635.4 799.0,636.1 800.0,636.6 801.0,636.6 802.0,635.1 803.0,636.8 804.0,638.2 805.0,637.3 806.0,635.1 807.0,633.2 808.0,631.0 809.0,629.0 810.0,629.3 811.0,630.1 812.0,631.1 813.0,631.4 814.0,631.8 815.0,638.0 816.0,636.6 817.0,631.8 818.0,628.0 819.0,626.0 820.0,624.8 821.0,623.6 822.0,622.7 823.0,621.2 824.0,621.9 825.0,622.3 826.0,622.3 827.0,624.2 828.0,628.5 829.0,633.6 830.0,638.5 831.0,643.2 832.0,646.9 833.0,649.0 834.0,651.0 835.0,653.1 836.0,654.6 837.0,656.9 838.0,659.7 839.0,663.1 840.0,669.0 841.0,674.8 842.0,681.5 843.0,690.6 844.0,698.2 845.0,703.0 846.0,698.9 847.0,695.1 848.0,691.0 849.0,687.9 850.0,686.8 851.0,685.7 852.0,685.5 853.0,686.2 854.0,686.9 855.0,687.5 856.0,687.2 857.0,684.2 858.0,677.7 859.0,671.4 860.0,664.4 861.0,656.5 862.0,649.6 863.0,642.6 864.0,634.7 865.0,626.1 866.0,619.5 867.0,615.9 868.0,612.4 869.0,612.1 870.0,615.5 871.0,619.2 872.0,627.4 873.0,639.1 874.0,644.5 875.0,645.5 876.0,646.3 877.0,647.1 878.0,647.8 879.0,648.6 880.0,649.7 881.0,652.2 882.0,657.0 883.0,663.0 884.0,669.8 885.0,676.8 886.0,682.1 887.0,685.4 888.0,686.2 889.0,683.4 890.0,680.8 891.0,678.7 892.0,678.1 893.0,677.6 894.0,677.5 895.0,677.7 896.0,676.3 897.0,673.5 898.0,670.2 899.0,663.1 900.0,651.4 901.0,642.5 902.0,637.8 903.0,634.1 904.0,632.2 905.0,630.4 906.0,628.2 907.0,624.9 908.0,622.5 909.0,619.4 910.0,617.0 911.0,614.6 912.0,613.0 913.0,610.9 914.0,607.9 915.0,604.8 916.0,601.9 917.0,598.8 918.0,595.7 919.0,593.1 920.0,590.6 921.0,588.8 922.0,587.1 923.0,585.8 924.0,584.5 925.0,582.7 926.0,580.6 927.0,578.6 928.0,576.6 929.0,575.7 930.0,576.3 931.0,575.5 932.0,574.8 933.0,573.9 934.0,573.1 935.0,572.0 936.0,570.5 937.0,567.1 938.0,562.5 939.0,553.6 940.0,545.1 941.0,540.9 942.0,535.0 943.0,529.4 944.0,523.4 945.0,519.2 946.0,515.6 947.0,512.3 948.0,508.9 949.0,505.3 950.0,501.2 951.0,497.1 952.0,492.6 953.0,488.2 954.0,483.5 955.0,477.5 956.0,471.4 957.0,465.0 958.0,457.4 959.0,449.7 960.0,442.9 961.0,436.1 962.0,433.5 963.0,432.3 964.0,430.9 965.0,430.2 966.0,430.9 967.0,432.1 968.0,433.1 969.0,436.0 970.0,439.2 971.0,442.7 972.0,441.9 973.0,440.4 974.0,439.1 975.0,437.6 976.0,436.5 977.0,435.0 978.0,433.7 979.0,432.6 980.0,431.6 981.0,431.2 982.0,431.0 983.0,430.9 984.0,431.1 985.0,431.6 986.0,431.7 987.0,431.5 988.0,431.2 989.0,431.3 990.0,431.4 991.0,431.4" stroke="#b1b1b1" stroke-width="1"/>
<polyline points="690.0,527.2 691.0,527.7 692.0,529.6 693.0,531.1 694.0,532.6 695.0,531.2 696.0,526.9 697.0,522.9 698.0,519.4 699.0,520.8 700.0,526.1 701.0,531.9 702.0,533.2 703.0,533.6 704.0,533.9 705.0,534.4 706.0,534.4 707.0,534.1 708.0,533.8 709.0,533.6 710.0,532.1 711.0,530.9 712.0,530.7 713.0,530.7 714.0,530.6 715.0,536.8 716.0,543.1 717.0,545.8 718.0,547.3 719.0,548.9 720.0,551.0 721.0,552.4 722.0,554.2 723.0,555.3 724.0,556.2 725.0,555.3 726.0,551.4 727.0,547.3 728.0,543.3 729.0,543.0 730.0,543.1 731.0,543.2 732.0,545.1 733.0,550.1 734.0,555.3 735.0,560.2 736.0,562.1 737.0,563.4 738.0,564.6 739.0,561.2 740.0,554.9 741.0,548.4 742.0,543.0 743.0,542.1 744.0,541.4 745.0,544.6 746.0,550.4 747.0,556.2 748.0,561.5 749.0,565.6 750.0,569.5 751.0,573.7 752.0,578.1 753.0,582.1 754.0,586.3 755.0,588.6 756.0,590.4 757.0,592.3 758.0,594.7 759.0,593.1 760.0,590.5 761.0,588.2 762.0,588.8 763.0,596.6 764.0,603.9 765.0,606.9 766.0,609.3 767.0,612.3 768.0,615.0 769.0,617.5 770.0,619.2 771.0,621.1 772.0,623.2 773.0,625.7 774.0,627.6 775.0,628.7 776.0,629.1 777.0,629.2 778.0,627.3 779.0,622.7 780.0,618.1 781.0,613.6 782.0,607.0 783.0,600.7 784.0,594.6 785.0,591.9 786.0,592.0 787.0,592.1 788.0,593.0 789.0,601.5 790.0,609.8 791.0,618.1 792.0,625.8 793.0,629.8 794.0,631.2 795.0,632.6 796.0,633.8 797.0,634.7 798.0,635.5 799.0,636.5 800.0,637.2 801.0,637.4 802.0,636.2 803.0,637.4 804.0,638.8 805.0,639.7 806.0,637.7 807.0,635.4 808.0,633.2 809.0,630.9 810.0,630.0 811.0,630.3 812.0,630.9 813.0,631.4 814.0,632.0 815.0,633.3 816.0,641.5 817.0,636.7 818.0,632.7 819.0,628.8 820.0,627.3 821.0,626.3 822.0,625.6 823.0,624.5 824.0,623.0 825.0,623.4 826.0,623.4 827.0,624.1 828.0,628.2 829.0,633.1 830.0,637.7 831.0,642.2 832.0,646.5 833.0,649.5 834.0,651.3 835.0,653.7 836.0,655.8 837.0,658.7 838.0,661.1 839.0,664.1 840.0,667.2 841.0,672.8 842.0,678.7 843.0,684.6 844.0,691.8 845.0,699.1 846.0,702.3 847.0,699.0 848.0,694.2 849.0,690.5 850.0,689.1 851.0,688.1 852.0,686.8 853.0,686.3 854.0,687.1 855.0,687.6 856.0,687.4 857.0,686.7 858.0,684.3 859.0,678.5 860.0,673.0 861.0,666.9 862.0,660.0 863.0,653.7 864.0,646.6 865.0,637.9 866.0,629.0 867.0,621.7 868.0,618.6 869.0,615.5 870.0,614.5 871.0,618.0 872.0,623.1 873.0,629.5 874.0,639.3 875.0,646.6 876.0,647.6 877.0,648.1 878.0,649.0 879.0,650.1 880.0,651.0 881.0,651.9 882.0,653.0 883.0,658.1 884.0,663.2 885.0,670.7 886.0,677.7 887.0,684.2 888.0,687.3 889.0,689.1 890.0,686.2 891.0,683.3 892.0,681.0 893.0,680.9 894.0,680.4 895.0,680.4 896.0,680.3 897.0,680.3 898.0,677.1 899.0,673.3 900.0,668.9 901.0,657.3 902.0,646.2 903.0,641.6 904.0,637.2 905.0,635.4 906.0,633.7 907.0,632.8 908.0,630.5 909.0,627.2 910.0,623.7 911.0,621.2 912.0,619.3 913.0,617.0 914.0,614.2 915.0,611.1 916.0,608.0 917.0,604.9 918.0,601.9 919.0,598.9 920.0,596.4 921.0,593.5 922.0,591.3 923.0,589.6 924.0,588.2 925.0,587.1 926.0,585.8 927.0,583.8 928.0,581.5 929.0,579.3 930.0,577.1 931.0,576.2 932.0,575.1 933.0,574.3 934.0,573.2 935.0,572.3 936.0,571.1 937.0,570.2 938.0,566.8 939.0,563.2 940.0,555.7 941.0,547.9 942.0,542.8 943.0,537.5 944.0,531.5 945.0,525.5 946.0,520.8 947.0,517.2 948.0,513.6 949.0,509.9 950.0,506.1 951.0,502.3 952.0,498.0 953.0,493.7 954.0,489.3 955.0,484.8 956.0,479.5 957.0,473.3 958.0,467.4 959.0,460.3 960.0,452.4 961.0,444.9 962.0,438.0 963.0,433.3 964.0,431.9 965.0,430.6 966.0,429.3 967.0,430.4 968.0,431.5 969.0,432.9 970.0,434.7 971.0,438.0 972.0,441.7 973.0,442.7 974.0,441.2 975.0,439.4 976.0,438.2 977.0,436.8 978.0,435.7 979.0,434.4 980.0,433.2 981.0,432.0 982.0,430.9 983.0,430.9 984.0,430.8 985.0,430.8 986.0,430.9 987.0,430.9 988.0,431.1 989.0,431.2 990.0,431.2 991.0,431.1" stroke="#afafaf" stroke-width="1"/>
<polyline points="690.0,527.2 691.0,527.5 692.0,529.1 693.0,530.5 694.0,532.0 695.0,531.7 696.0,527.6 697.0,523.7 698.0,520.4 699.0,520.3 700.0,525.7 701.0,531.1 702.0,533.6 703.0,534.0 704.0,534.4 705.0,534.8 706.0,534.9 707.0,534.6 708.0,534.3 709.0,533.9 710.0,532.3 711.0,531.1 712.0,530.9 713.0,531.1 714.0,531.0 715.0,535.8 716.0,542.0 717.0,545.9 718.0,547.4 719.0,548.9 720.0,551.0 721.0,552.7 722.0,554.0 723.0,555.0 724.0,555.6 725.0,555.5 726.0,551.8 727.0,548.0 728.0,544.2 729.0,543.2 730.0,543.4 731.0,543.6 732.0,544.9 733.0,549.8 734.0,554.7 735.0,559.7 736.0,561.8 737.0,563.2 738.0,564.3 739.0,563.2 740.0,557.2 741.0,550.9 742.0,545.0 743.0,543.1 744.0,542.5 745.0,544.2 746.0,549.9 747.0,555.7 748.0,561.4 749.0,565.5 750.0,569.3 751.0,573.5 752.0,578.1 753.0,582.1 754.0,585.9 755.0,588.5 756.0,590.2 757.0,592.5 758.0,595.1 759.0,595.5 760.0,593.2 761.0,591.0 762.0,589.0 763.0,595.8 764.0,603.3 765.0,607.5 766.0,610.5 767.0,613.2 768.0,616.0 769.0,618.7 770.0,620.3 771.0,621.8 772.0,623.7 773.0,625.9 774.0,627.9 775.0,629.0 776.0,629.3 777.0,629.6 778.0,628.5 779.0,624.3 780.0,619.8 781.0,615.9 782.0,610.6 783.0,604.5 784.0,598.1 785.0,592.6 786.0,592.8 787.0,592.8 788.0,593.2 789.0,598.4 790.0,606.9 791.0,615.0 792.0,623.0 793.0,631.0 794.0,632.1 795.0,633.1 796.0,634.1 797.0,635.3 798.0,636.1 799.0,637.0 800.0,637.8 801.0,638.4 802.0,637.4 803.0,638.6 804.0,639.9 805.0,640.9 806.0,640.2 807.0,638.0 808.0,635.9 809.0,633.4 810.0,630.6 811.0,630.9 812.0,631.5 813.0,632.1 814.0,632.6 815.0,633.2 816.0,637.4 817.0,641.8 818.0,637.7 819.0,633.9 820.0,630.9 821.0,629.8 822.0,628.5 823.0,627.2 824.0,624.7 825.0,624.0 826.0,624.2 827.0,624.2 828.0,627.3 829.0,631.9 830.0,636.6 831.0,641.1 832.0,645.6 833.0,649.9 834.0,652.4 835.0,654.6 836.0,656.8 837.0,660.0 838.0,662.4 839.0,665.1 840.0,667.9 841.0,670.9 842.0,676.0 843.0,681.2 844.0,685.7 845.0,692.9 846.0,698.8 847.0,702.4 848.0,698.0 849.0,693.7 850.0,691.4 851.0,690.3 852.0,689.1 853.0,688.1 854.0,687.6 855.0,688.1 856.0,688.1 857.0,687.7 858.0,687.1 859.0,685.5 860.0,680.2 861.0,675.0 862.0,670.5 863.0,664.1 864.0,657.7 865.0,650.4 866.0,641.4 867.0,632.7 868.0,624.6 869.0,621.9 870.0,619.1 871.0,616.6 872.0,621.2 873.0,626.1 874.0,630.0 875.0,639.7 876.0,648.4 877.0,649.2 878.0,650.2 879.0,651.5 880.0,652.6 881.0,653.3 882.0,653.8 883.0,654.5 884.0,659.4 885.0,664.5 886.0,671.2 887.0,678.0 888.0,684.6 889.0,688.2 890.0,691.2 891.0,689.0 892.0,686.2 893.0,683.5 894.0,683.0 895.0,682.7 896.0,682.7 897.0,682.6 898.0,682.4 899.0,679.5 900.0,676.1 901.0,672.9 902.0,663.8 903.0,652.7 904.0,645.9 905.0,641.9 906.0,639.2 907.0,637.9 908.0,637.0 909.0,634.9 910.0,631.6 911.0,628.1 912.0,625.0 913.0,622.5 914.0,619.9 915.0,617.5 916.0,614.6 917.0,611.3 918.0,607.9 919.0,605.1 920.0,602.2 921.0,599.4 922.0,596.6 923.0,593.8 924.0,592.2 925.0,590.6 926.0,589.5 927.0,588.4 928.0,586.3 929.0,583.7 930.0,581.0 931.0,577.5 932.0,576.1 933.0,575.0 934.0,573.9 935.0,572.5 936.0,571.6 937.0,570.7 938.0,569.4 939.0,566.9 940.0,563.5 941.0,558.4 942.0,550.7 943.0,543.9 944.0,539.3 945.0,533.2 946.0,527.5 947.0,521.6 948.0,518.3 949.0,514.6 950.0,510.8 951.0,506.9 952.0,503.0 953.0,499.1 954.0,494.7 955.0,490.4 956.0,485.9 957.0,481.3 958.0,475.1 959.0,469.3 960.0,462.6 961.0,454.7 962.0,446.9 963.0,440.0 964.0,433.5 965.0,432.3 966.0,431.1 967.0,429.8 968.0,429.7 969.0,430.9 970.0,432.0 971.0,433.3 972.0,436.5 973.0,440.1 974.0,442.8 975.0,441.3 976.0,439.7 977.0,438.3 978.0,437.0 979.0,436.0 980.0,434.8 981.0,433.6 982.0,432.4 983.0,431.0 984.0,431.0 985.0,430.8 986.0,431.0 987.0,430.9 988.0,431.0 989.0,431.1 990.0,431.1 991.0,431.1" stroke="#adadad" stroke-width="1"/>
<polyline points="690.0,527.3 691.0,527.8 692.0,529.1 693.0,530.5 694.0,531.8 695.0,532.2 696.0,528.2 697.0,524.3 698.0,521.3 699.0,519.6 700.0,525.1 701.0,530.9 702.0,534.3 703.0,534.6 704.0,534.6 705.0,534.7 706.0,534.6 707.0,534.5 708.0,534.1 709.0,533.7 710.0,532.5 711.0,531.6 712.0,531.7 713.0,531.7 714.0,531.6 715.0,534.8 716.0,541.0 717.0,546.0 718.0,547.4 719.0,548.9 720.0,550.9 721.0,552.4 722.0,553.8 723.0,554.7 724.0,555.5 725.0,556.4 726.0,552.8 727.0,549.2 728.0,545.4 729.0,544.0 730.0,544.2 731.0,544.6 732.0,544.6 733.0,549.3 734.0,554.1 735.0,559.0 736.0,561.9 737.0,563.2 738.0,564.1 739.0,564.5 740.0,559.0 741.0,553.2 742.0,547.6 743.0,544.4 744.0,543.9 745.0,543.9 746.0,549.5 747.0,555.1 748.0,560.9 749.0,565.5 750.0,569.4 751.0,573.5 752.0,578.2 753.0,582.1 754.0,585.9 755.0,588.8 756.0,591.0 757.0,593.3 758.0,595.7 759.0,597.6 760.0,595.5 761.0,593.4 762.0,591.5 763.0,595.2 764.0,602.6 765.0,608.2 766.0,610.8 767.0,613.6 768.0,616.4 769.0,619.2 770.0,621.2 771.0,622.5 772.0,624.1 773.0,626.0 774.0,627.9 775.0,628.7 776.0,628.8 777.0,629.1 778.0,628.6 779.0,626.0 780.0,621.9 781.0,617.8 782.0,614.2 783.0,608.4 784.0,602.3 785.0,596.2 786.0,593.8 787.0,593.9 788.0,594.1 789.0,595.0 790.0,603.4 791.0,611.6 792.0,619.7 793.0,628.1 794.0,632.7 795.0,633.8 796.0,634.7 797.0,635.4 798.0,636.4 799.0,637.3 800.0,638.1 801.0,638.9 802.0,638.6 803.0,639.7 804.0,640.8 805.0,641.7 806.0,642.3 807.0,640.5 808.0,638.2 809.0,635.9 810.0,633.2 811.0,631.4 812.0,631.7 813.0,632.3 814.0,633.1 815.0,633.9 816.0,634.9 817.0,642.1 818.0,642.8 819.0,638.7 820.0,634.8 821.0,632.6 822.0,631.4 823.0,630.1 824.0,628.0 825.0,625.7 826.0,625.6 827.0,626.0 828.0,627.8 829.0,631.7 830.0,636.3 831.0,640.4 832.0,644.7 833.0,648.7 834.0,653.0 835.0,655.4 836.0,657.5 837.0,660.4 838.0,663.5 839.0,666.0 840.0,668.6 841.0,670.9 842.0,673.7 843.0,678.3 844.0,682.3 845.0,686.7 846.0,692.7 847.0,698.4 848.0,701.5 849.0,697.4 850.0,694.8 851.0,692.5 852.0,691.4 853.0,690.3 854.0,689.2 855.0,688.3 856.0,688.3 857.0,688.4 858.0,687.9 859.0,687.5 860.0,687.4 861.0,682.7 862.0,678.8 863.0,674.9 864.0,668.4 865.0,661.2 866.0,653.9 867.0,645.5 868.0,636.8 869.0,628.5 870.0,625.1 871.0,622.6 872.0,620.8 873.0,624.4 874.0,627.9 875.0,631.4 876.0,639.5 877.0,649.0 878.0,651.4 879.0,652.5 880.0,653.7 881.0,654.8 882.0,655.4 883.0,656.0 884.0,656.6 885.0,660.3 886.0,665.3 887.0,671.5 888.0,678.5 889.0,685.2 890.0,689.7 891.0,692.8 892.0,692.4 893.0,689.8 894.0,686.9 895.0,685.7 896.0,685.6 897.0,685.6 898.0,685.1 899.0,684.6 900.0,682.8 901.0,679.5 902.0,676.2 903.0,670.0 904.0,659.1 905.0,650.1 906.0,646.1 907.0,642.9 908.0,641.9 909.0,640.6 910.0,639.1 911.0,635.6 912.0,632.1 913.0,628.5 914.0,625.5 915.0,622.6 916.0,619.8 917.0,617.3 918.0,614.2 919.0,611.4 920.0,608.1 921.0,604.9 922.0,601.8 923.0,599.1 924.0,596.5 925.0,594.6 926.0,593.0 927.0,591.4 928.0,590.0 929.0,587.9 930.0,585.0 931.0,581.3 932.0,577.9 933.0,575.5 934.0,574.5 935.0,573.4 936.0,572.3 937.0,571.0 938.0,569.8 939.0,568.6 940.0,567.5 941.0,564.5 942.0,561.2 943.0,553.5 944.0,545.7 945.0,541.4 946.0,535.5 947.0,529.6 948.0,523.7 949.0,519.2 950.0,515.5 951.0,511.7 952.0,507.9 953.0,504.2 954.0,500.5 955.0,496.2 956.0,491.8 957.0,487.4 958.0,483.1 959.0,477.3 960.0,471.2 961.0,464.9 962.0,457.2 963.0,449.4 964.0,442.3 965.0,435.6 966.0,432.6 967.0,431.2 968.0,430.0 969.0,429.2 970.0,430.3 971.0,431.6 972.0,432.5 973.0,435.1 974.0,438.5 975.0,442.1 976.0,441.6 977.0,440.0 978.0,438.5 979.0,437.4 980.0,436.4 981.0,435.1 982.0,434.0 983.0,432.7 984.0,431.6 985.0,430.9 986.0,430.9 987.0,430.9 988.0,430.8 989.0,430.8 990.0,430.8 991.0,430.9" stroke="#ababab" stroke-width="1"/>
<polyline points="690.0,527.4 691.0,527.7 692.0,529.0 693.0,530.3 694.0,531.6 695.0,532.5 696.0,529.0 697.0,525.2 698.0,522.1 699.0,519.0 700.0,524.4 701.0,529.9 702.0,534.4 703.0,534.5 704.0,534.7 705.0,534.8 706.0,535.0 707.0,534.8 708.0,534.5 709.0,534.0 710.0,533.0 711.0,532.0 712.0,531.9 713.0,531.8 714.0,531.9 715.0,533.7 716.0,540.0 717.0,546.1 718.0,547.5 719.0,548.9 720.0,550.6 721.0,552.1 722.0,553.4 723.0,554.5 724.0,555.4 725.0,556.4 726.0,554.0 727.0,550.5 728.0,547.0 729.0,544.5 730.0,544.7 731.0,544.9 732.0,545.1 733.0,548.6 734.0,553.2 735.0,557.9 736.0,561.5 737.0,562.8 738.0,563.7 739.0,564.4 740.0,561.0 741.0,555.4 742.0,549.9 743.0,545.3 744.0,545.0 745.0,544.6 746.0,549.1 747.0,554.8 748.0,560.4 749.0,565.5 750.0,569.4 751.0,573.6 752.0,578.1 753.0,582.2 754.0,585.8 755.0,588.7 756.0,591.3 757.0,593.8 758.0,596.4 759.0,598.9 760.0,597.8 761.0,595.7 762.0,593.6 763.0,594.0 764.0,601.3 765.0,608.7 766.0,611.5 767.0,614.1 768.0,616.7 769.0,619.4 770.0,621.9 771.0,623.3 772.0,624.8 773.0,626.4 774.0,628.0 775.0,628.9 776.0,629.1 777.0,629.2 778.0,628.7 779.0,627.6 780.0,623.9 781.0,620.1 782.0,616.7 783.0,611.9 784.0,606.1 785.0,600.2 786.0,594.9 787.0,594.9 788.0,595.1 789.0,595.3 790.0,600.4 791.0,608.6 792.0,616.8 793.0,625.1 794.0,633.4 795.0,634.5 796.0,635.5 797.0,636.1 798.0,636.9 799.0,637.7 800.0,638.7 801.0,639.5 802.0,639.7 803.0,640.7 804.0,641.6 805.0,642.5 806.0,643.0 807.0,642.9 808.0,640.7 809.0,638.4 810.0,635.7 811.0,633.0 812.0,632.3 813.0,632.6 814.0,633.8 815.0,634.8 816.0,635.9 817.0,637.5 818.0,647.2 819.0,643.8 820.0,639.8 821.0,635.8 822.0,634.4 823.0,632.9 824.0,631.0 825.0,628.9 826.0,626.7 827.0,627.3 828.0,628.9 829.0,631.0 830.0,635.2 831.0,639.6 832.0,643.9 833.0,648.0 834.0,651.9 835.0,656.1 836.0,658.3 837.0,661.0 838.0,663.9 839.0,666.9 840.0,668.9 841.0,670.9 842.0,673.1 843.0,675.5 844.0,679.3 845.0,683.1 846.0,686.5 847.0,692.6 848.0,697.8 849.0,701.8 850.0,698.9 851.0,696.2 852.0,693.7 853.0,692.6 854.0,691.6 855.0,690.5 856.0,689.0 857.0,689.0 858.0,688.8 859.0,688.9 860.0,689.1 861.0,689.4 862.0,686.0 863.0,682.2 864.0,678.2 865.0,671.8 866.0,664.6 867.0,657.5 868.0,649.4 869.0,641.2 870.0,633.1 871.0,628.8 872.0,626.9 873.0,625.0 874.0,626.2 875.0,629.7 876.0,633.0 877.0,639.7 878.0,649.1 879.0,653.6 880.0,654.6 881.0,655.6 882.0,656.5 883.0,657.3 884.0,657.9 885.0,658.6 886.0,661.0 887.0,666.1 888.0,671.8 889.0,678.5 890.0,685.3 891.0,691.1 892.0,694.2 893.0,695.7 894.0,692.8 895.0,690.2 896.0,688.2 897.0,688.0 898.0,687.6 899.0,687.2 900.0,686.9 901.0,686.1 902.0,683.0 903.0,679.8 904.0,676.7 905.0,665.8 906.0,655.0 907.0,650.6 908.0,647.2 909.0,645.4 910.0,643.8 911.0,642.3 912.0,639.4 913.0,635.7 914.0,631.9 915.0,628.6 916.0,625.8 917.0,622.9 918.0,620.2 919.0,617.3 920.0,614.2 921.0,611.0 922.0,607.8 923.0,604.7 924.0,601.9 925.0,599.1 926.0,596.7 927.0,594.8 928.0,592.9 929.0,591.0 930.0,589.0 931.0,585.6 932.0,582.3 933.0,578.8 934.0,575.2 935.0,574.0 936.0,572.9 937.0,571.7 938.0,570.4 939.0,569.3 940.0,568.4 941.0,567.8 942.0,565.7 943.0,562.7 944.0,556.2 945.0,548.3 946.0,542.8 947.0,537.7 948.0,531.6 949.0,525.7 950.0,520.2 951.0,516.6 952.0,512.8 953.0,508.9 954.0,505.0 955.0,501.2 956.0,497.1 957.0,493.0 958.0,488.6 959.0,484.3 960.0,479.2 961.0,473.2 962.0,467.0 963.0,459.9 964.0,452.1 965.0,444.7 966.0,437.9 967.0,432.7 968.0,431.5 969.0,430.2 970.0,428.9 971.0,429.6 972.0,430.8 973.0,431.9 974.0,433.7 975.0,437.2 976.0,440.9 977.0,442.3 978.0,440.8 979.0,439.2 980.0,437.9 981.0,436.7 982.0,435.5 983.0,434.3 984.0,433.2 985.0,431.8 986.0,430.8 987.0,430.7 988.0,430.8 989.0,430.8 990.0,430.8 991.0,430.9" stroke="#a9a9a9" stroke-width="1"/>
<polyline points="690.0,527.5 691.0,527.9 692.0,529.0 693.0,530.2 694.0,531.4 695.0,532.3 696.0,529.9 697.0,526.4 698.0,523.3 699.0,520.1 700.0,523.8 701.0,529.2 702.0,534.7 703.0,534.8 704.0,534.9 705.0,535.0 706.0,535.1 707.0,535.0 708.0,534.6 709.0,534.2 710.0,533.3 711.0,532.4 712.0,532.3 713.0,532.3 714.0,532.3 715.0,532.8 716.0,538.9 717.0,545.1 718.0,547.5 719.0,548.9 720.0,550.6 721.0,552.1 722.0,553.3 723.0,554.3 724.0,555.2 725.0,556.2 726.0,554.9 727.0,551.6 728.0,548.2 729.0,545.0 730.0,545.2 731.0,545.4 732.0,545.6 733.0,547.9 734.0,552.4 735.0,556.8 736.0,561.1 737.0,562.5 738.0,563.6 739.0,564.5 740.0,563.1 741.0,557.7 742.0,552.4 743.0,547.0 744.0,546.1 745.0,545.8 746.0,548.7 747.0,554.3 748.0,560.1 749.0,565.8 750.0,569.8 751.0,573.8 752.0,578.1 753.0,582.1 754.0,585.8 755.0,588.9 756.0,591.9 757.0,594.3 758.0,596.9 759.0,599.4 760.0,599.9 761.0,597.8 762.0,595.8 763.0,593.9 764.0,600.4 765.0,607.7 766.0,612.0 767.0,614.5 768.0,617.0 769.0,619.7 770.0,622.7 771.0,624.0 772.0,625.2 773.0,626.5 774.0,628.0 775.0,628.9 776.0,628.9 777.0,629.0 778.0,628.8 779.0,628.2 780.0,625.9 781.0,622.3 782.0,619.0 783.0,615.7 784.0,609.8 785.0,604.0 786.0,598.1 787.0,596.0 788.0,596.2 789.0,596.4 790.0,597.2 791.0,605.5 792.0,613.8 793.0,622.0 794.0,630.1 795.0,635.1 796.0,636.0 797.0,636.8 798.0,637.4 799.0,638.3 800.0,639.2 801.0,640.0 802.0,640.6 803.0,641.8 804.0,642.5 805.0,643.1 806.0,643.7 807.0,644.3 808.0,643.2 809.0,640.9 810.0,638.4 811.0,635.9 812.0,633.2 813.0,633.7 814.0,634.5 815.0,635.7 816.0,636.9 817.0,638.2 818.0,642.6 819.0,648.8 820.0,644.8 821.0,640.9 822.0,637.5 823.0,636.1 824.0,634.2 825.0,632.4 826.0,630.2 827.0,628.9 828.0,630.5 829.0,632.4 830.0,634.4 831.0,638.6 832.0,642.7 833.0,646.8 834.0,650.9 835.0,655.0 836.0,658.9 837.0,661.4 838.0,664.0 839.0,666.7 840.0,669.3 841.0,671.1 842.0,672.9 843.0,674.6 844.0,676.1 845.0,679.7 846.0,682.9 847.0,686.3 848.0,691.9 849.0,697.5 850.0,703.1 851.0,700.4 852.0,697.7 853.0,695.0 854.0,694.0 855.0,692.8 856.0,691.4 857.0,690.0 858.0,689.9 859.0,690.1 860.0,690.4 861.0,690.9 862.0,691.8 863.0,689.4 864.0,685.5 865.0,681.4 866.0,675.4 867.0,668.5 868.0,661.5 869.0,653.9 870.0,645.8 871.0,637.8 872.0,632.7 873.0,630.6 874.0,628.0 875.0,627.9 876.0,631.2 877.0,634.5 878.0,639.8 879.0,649.3 880.0,655.8 881.0,656.8 882.0,657.7 883.0,658.6 884.0,659.6 885.0,660.3 886.0,661.0 887.0,662.1 888.0,667.1 889.0,672.2 890.0,679.0 891.0,685.6 892.0,692.3 893.0,695.5 894.0,698.6 895.0,696.1 896.0,693.4 897.0,690.8 898.0,690.4 899.0,690.1 900.0,689.7 901.0,689.3 902.0,688.9 903.0,686.4 904.0,683.4 905.0,680.4 906.0,672.6 907.0,662.0 908.0,655.1 909.0,651.2 910.0,648.5 911.0,646.9 912.0,645.3 913.0,642.8 914.0,638.9 915.0,634.9 916.0,631.4 917.0,628.5 918.0,625.6 919.0,622.8 920.0,620.0 921.0,616.7 922.0,613.5 923.0,610.2 924.0,607.1 925.0,604.1 926.0,601.1 927.0,598.2 928.0,596.2 929.0,594.2 930.0,592.1 931.0,589.7 932.0,586.5 933.0,582.9 934.0,579.3 935.0,575.6 936.0,573.7 937.0,572.6 938.0,571.4 939.0,570.2 940.0,569.1 941.0,568.5 942.0,567.9 943.0,566.4 944.0,563.3 945.0,558.7 946.0,550.9 947.0,544.0 948.0,539.5 949.0,533.5 950.0,527.3 951.0,521.2 952.0,517.3 953.0,513.6 954.0,509.9 955.0,506.1 956.0,502.4 957.0,498.4 958.0,494.2 959.0,489.9 960.0,485.5 961.0,481.2 962.0,475.0 963.0,468.9 964.0,462.4 965.0,454.7 966.0,446.9 967.0,440.0 968.0,433.2 969.0,431.7 970.0,430.6 971.0,429.3 972.0,429.2 973.0,430.3 974.0,431.4 975.0,432.5 976.0,435.8 977.0,439.4 978.0,442.8 979.0,441.2 980.0,439.7 981.0,438.3 982.0,437.0 983.0,435.9 984.0,434.6 985.0,433.4 986.0,432.1 987.0,431.0 988.0,430.6 989.0,430.7 990.0,430.7 991.0,430.7" stroke="#a7a7a7" stroke-width="1"/>
<polyline points="690.0,527.6 691.0,528.0 692.0,529.0 693.0,530.0 694.0,531.2 695.0,532.1 696.0,530.5 697.0,527.2 698.0,524.2 699.0,521.2 700.0,523.2 701.0,528.6 702.0,534.0 703.0,535.1 704.0,535.2 705.0,535.2 706.0,535.3 707.0,535.2 708.0,534.8 709.0,534.3 710.0,533.6 711.0,533.0 712.0,532.7 713.0,532.7 714.0,532.7 715.0,532.7 716.0,537.8 717.0,544.0 718.0,547.5 719.0,548.9 720.0,550.4 721.0,551.8 722.0,553.0 723.0,554.0 724.0,555.0 725.0,556.0 726.0,555.8 727.0,552.6 728.0,549.4 729.0,546.2 730.0,545.7 731.0,546.0 732.0,546.3 733.0,547.4 734.0,551.6 735.0,555.9 736.0,560.0 737.0,562.2 738.0,563.4 739.0,564.6 740.0,565.1 741.0,559.8 742.0,554.6 743.0,549.4 744.0,547.2 745.0,547.1 746.0,548.3 747.0,554.0 748.0,559.7 749.0,565.5 750.0,569.9 751.0,573.9 752.0,578.0 753.0,582.0 754.0,585.5 755.0,588.8 756.0,591.9 757.0,594.8 758.0,597.4 759.0,600.1 760.0,602.1 761.0,600.1 762.0,598.1 763.0,596.2 764.0,599.3 765.0,606.6 766.0,612.5 767.0,615.1 768.0,617.6 769.0,620.2 770.0,622.8 771.0,624.6 772.0,625.6 773.0,626.6 774.0,627.7 775.0,628.6 776.0,628.8 777.0,628.8 778.0,628.8 779.0,628.5 780.0,627.8 781.0,624.5 782.0,621.4 783.0,618.4 784.0,613.7 785.0,607.9 786.0,602.1 787.0,596.9 788.0,597.2 789.0,597.5 790.0,597.8 791.0,602.4 792.0,610.6 793.0,618.8 794.0,626.9 795.0,634.9 796.0,636.6 797.0,637.3 798.0,638.0 799.0,638.8 800.0,639.7 801.0,640.6 802.0,641.4 803.0,642.5 804.0,643.3 805.0,643.9 806.0,644.5 807.0,645.0 808.0,645.5 809.0,643.3 810.0,641.0 811.0,638.6 812.0,636.1 813.0,634.6 814.0,635.3 815.0,636.4 816.0,637.8 817.0,639.2 818.0,640.8 819.0,647.2 820.0,649.6 821.0,645.6 822.0,641.6 823.0,638.8 824.0,637.2 825.0,635.6 826.0,633.8 827.0,632.0 828.0,631.9 829.0,633.7 830.0,635.4 831.0,637.8 832.0,641.8 833.0,645.8 834.0,649.9 835.0,653.9 836.0,658.0 837.0,661.9 838.0,664.3 839.0,666.6 840.0,669.1 841.0,671.3 842.0,672.7 843.0,674.0 844.0,675.2 845.0,676.5 846.0,679.8 847.0,683.0 848.0,686.1 849.0,691.9 850.0,698.0 851.0,704.0 852.0,701.9 853.0,699.2 854.0,696.5 855.0,695.2 856.0,694.1 857.0,692.8 858.0,691.5 859.0,691.4 860.0,692.0 861.0,692.7 862.0,693.5 863.0,694.3 864.0,692.8 865.0,688.7 866.0,684.6 867.0,679.3 868.0,672.5 869.0,665.7 870.0,658.5 871.0,650.5 872.0,642.8 873.0,636.4 874.0,633.7 875.0,631.0 876.0,629.2 877.0,632.5 878.0,635.9 879.0,639.7 880.0,649.0 881.0,657.7 882.0,658.8 883.0,659.7 884.0,660.7 885.0,661.7 886.0,662.4 887.0,663.1 888.0,663.8 889.0,667.9 890.0,672.9 891.0,679.1 892.0,685.8 893.0,692.4 894.0,696.9 895.0,700.0 896.0,699.4 897.0,696.8 898.0,694.1 899.0,692.7 900.0,692.4 901.0,692.1 902.0,691.8 903.0,691.5 904.0,690.3 905.0,687.3 906.0,684.4 907.0,679.4 908.0,668.8 909.0,659.2 910.0,655.2 911.0,651.5 912.0,649.7 913.0,647.9 914.0,646.1 915.0,642.2 916.0,638.2 917.0,634.3 918.0,631.2 919.0,628.3 920.0,625.4 921.0,622.5 922.0,619.2 923.0,615.7 924.0,612.4 925.0,609.0 926.0,605.8 927.0,602.7 928.0,599.6 929.0,596.9 930.0,594.7 931.0,592.3 932.0,589.9 933.0,587.1 934.0,583.5 935.0,579.9 936.0,576.3 937.0,573.4 938.0,572.3 939.0,571.2 940.0,570.1 941.0,569.2 942.0,568.5 943.0,567.9 944.0,567.3 945.0,564.2 946.0,561.2 947.0,553.4 948.0,545.5 949.0,541.0 950.0,535.2 951.0,529.1 952.0,523.0 953.0,518.2 954.0,514.5 955.0,510.8 956.0,507.1 957.0,503.4 958.0,499.7 959.0,495.4 960.0,491.1 961.0,486.8 962.0,482.6 963.0,477.0 964.0,470.9 965.0,464.8 966.0,457.3 967.0,449.5 968.0,442.4 969.0,435.7 970.0,432.0 971.0,430.9 972.0,429.6 973.0,428.6 974.0,429.7 975.0,430.9 976.0,432.1 977.0,434.4 978.0,438.0 979.0,441.5 980.0,441.7 981.0,440.2 982.0,438.6 983.0,437.4 984.0,436.2 985.0,435.0 986.0,433.8 987.0,432.6 988.0,431.4 989.0,430.6 990.0,430.6 991.0,430.6" stroke="#a5a5a5" stroke-width="1"/>
<defs><linearGradient id="pg" x1="0" y1="0" x2="0" y2="1"><stop offset="0" stop-color="#b4b4b4"/><stop offset="1" stop-color="#e6e6e6"/></linearGradient></defs>
<polygon points="204,77 208,81 212,84 216,90 220,97 224,106 228,115 231.5,124 234.5,133 237,140 240,146 242.7,138.3 241.7,119.4 238.9,110 233.2,94.8 227.5,83.5 222.4,75 216.5,74 207,73" fill="url(#pg)"/>
<polygon points="497.0,545.0 500.0,500.0 504.0,486.0 507.0,498.0 510.0,495.0 513.0,470.0 515.0,455.0 518.0,462.0 521.0,490.0 524.0,470.0 526.0,452.0 529.0,465.0 532.0,480.0 535.0,460.0 537.5,444.0 540.0,470.0 542.0,495.0 544.0,505.0 544.0,530.0 497.0,545.0" fill="#d2d2d2" stroke="#c2c2c2" stroke-width="0.8"/>
<polygon points="558.0,480.0 560.0,470.0 563.0,456.0 566.0,460.0 569.0,458.0 571.0,470.0 574.0,490.0 578.0,487.0 581.0,484.0 585.0,488.0 588.0,495.0 590.0,500.0 590.0,515.0 560.0,505.0" fill="#d2d2d2" stroke="#c2c2c2" stroke-width="0.8"/>
<polygon points="398.9,530.0 400.2,502.2 402.2,500.2 404.2,516.3 407.3,512.3 410.3,510.3 412.3,492.2 414.3,500.2 416.3,518.3 419.3,520.3 421.3,508.2 423.3,520.3 425.4,518.3 427.4,536.4 430.4,530.4 432.4,532.4 434.4,532.4 437.4,530.4 439.4,531.4 441.4,540.4 444.4,536.4 447.5,528.3 449.5,526.3 451.5,532.4 454.5,526.3 456.5,520.3 458.5,514.3 460.5,520.3 463.5,516.3 467.0,512.0 467.0,530.0 455.0,545.0 440.0,570.0 420.0,560.0 405.0,530.0" fill="#d2d2d2" stroke="#c2c2c2" stroke-width="0.8"/>
<polygon points="606.0,478.0 612.0,476.0 616.0,470.0 619.0,480.0 625.0,492.0 623.0,504.0 613.0,500.0 607.0,488.0" fill="#d2d2d2" stroke="#c2c2c2" stroke-width="0.8"/>
<path d="M504.0 487.0V532.0M506.0 495.0V540.0M513.0 472.0V517.0M515.0 457.0V502.0M517.0 462.0V507.0M524.0 472.0V517.0M526.0 454.0V499.0M528.0 462.0V507.0M535.0 462.0V507.0M537.5 446.0V491.0M539.0 468.0V513.0M563.0 458.0V503.0M566.0 462.0V507.0M569.0 460.0V505.0M581.0 486.0V531.0M276.0 433.0V473.0M278.0 445.0V485.0M299.7 437.7V477.7M312.7 443.7V483.7M326.0 474.0V514.0M343.0 481.0V521.0M347.0 491.0V531.0M357.6 498.0V538.0M372.0 486.0V526.0M380.0 492.0V532.0M392.0 500.0V540.0M399.0 506.0V546.0M404.0 512.0V552.0M413.0 492.0V532.0M418.0 505.0V545.0M423.0 515.0V555.0M427.0 528.0V568.0M431.0 525.0V565.0M440.0 530.0V570.0M446.0 528.0V568.0M452.0 526.0V566.0M458.0 522.0V562.0M462.0 518.0V558.0M729.5 540.0V580.0M733.0 548.0V588.0" stroke="#bdbdbd" stroke-width="0.9" fill="none"/>
<polyline points="158.6,430.0 159.6,497.0 160.6,400.0 161.6,497.0 162.6,356.0 164.0,420.0 165.0,356.0 166.0,423.0 167.0,356.0 168.5,423.0 169.5,360.0 170.5,420.0 171.5,372.0 172.5,470.0 173.5,440.0 175.0,370.0 177.5,336.4 179.8,293.8 180.5,250.0 181.0,227.3 182.2,191.8 183.4,158.7 184.5,149.3 186.9,145.7 188.1,125.6 190.0,109.1 192.3,94.9 194.7,83.1 197.1,80.3 198.7,99.6 200.4,102.0 201.1,83.1 203.5,77.2 207.0,72.5 211.7,73.6 216.5,73.6 222.4,74.8 225.9,83.1 230.6,91.4 234.2,99.6 237.7,109.1 241.3,116.2 242.9,130.4 244.1,158.7 245.3,198.9 246.4,250.0 247.0,300.9 247.8,341.1 248.4,400.0 249.0,430.0 251.5,500.0 253.5,560.0 254.7,583.0 254.7,583.2 255.6,559.4 256.5,544.8 257.4,509.2 258.3,502.6 258.3,480.0 258.3,509.9 259.2,469.9 260.1,479.2 260.6,431.8 261.0,471.7 261.8,474.4 261.9,438.6 262.8,476.6 263.7,443.5 264.6,484.2 265.4,443.7 265.4,502.8 265.5,447.3 266.4,505.6 267.3,498.0 267.7,467.3 268.2,501.4 268.9,514.6 269.1,476.8 270.0,504.4 270.9,469.9 271.3,462.6 271.8,503.0 272.7,469.4 273.6,495.2 273.7,495.7 274.5,463.9 275.4,463.3 276.0,453.1 276.3,534.0 277.2,564.3 277.2,470.0 278.1,533.8 279.0,463.2 279.6,455.5 279.9,476.6 280.8,561.9 280.8,476.9 281.7,564.6 282.6,576.6 283.1,467.3 283.5,557.5 284.4,491.5 285.3,600.0 285.5,509.9 285.5,608.1 286.2,512.1 287.1,561.4 288.0,506.4 288.9,537.5 289.0,543.0 289.8,505.0 290.2,491.0 290.7,487.8 291.6,513.7 292.5,474.7 292.6,514.6 293.4,475.9 294.3,493.2 295.0,446.0 295.2,491.5 296.1,460.6 297.0,493.8 297.3,502.8 297.9,444.2 298.8,491.9 299.7,442.5 299.7,456.8 300.6,487.4 301.5,455.6 302.4,490.1 303.3,500.0 304.2,459.7 304.4,500.4 305.1,446.7 306.0,507.6 306.8,446.0 306.8,521.7 306.9,520.8 307.8,463.8 308.7,512.5 309.6,469.3 310.5,498.0 311.4,455.7 311.5,514.6 312.3,468.4 312.7,453.1 313.2,509.6 314.1,461.3 315.0,511.2 315.9,476.6 316.2,531.2 316.8,465.6 317.7,535.7 318.6,464.9 318.6,543.3 319.5,493.3 320.4,539.1 321.0,559.6 321.3,495.8 322.2,487.4 323.1,552.1 323.3,491.0 324.0,548.6 324.9,503.5 325.7,569.0 325.8,511.7 326.7,550.8 327.6,501.7 328.5,505.8 329.4,534.9 330.3,502.8 330.4,491.0 330.4,543.0 331.2,504.5 332.1,533.0 333.0,487.5 333.9,532.9 334.0,478.0 334.8,529.1 335.2,543.0 335.7,487.8 336.3,483.9 336.6,530.1 337.5,499.3 338.4,502.5 339.3,534.7 339.9,502.8 339.9,538.3 340.2,509.4 341.1,532.6 342.0,511.2 342.9,527.7 343.8,505.4 344.6,505.2 344.6,531.2 344.7,505.5 345.6,527.6 346.5,512.1 347.4,541.4 348.3,514.1 349.2,522.4 349.4,514.6 349.4,552.5 350.1,521.6 351.0,545.0 351.9,525.6 352.8,547.5 353.7,524.5 354.1,509.9 354.1,561.9 354.6,555.9 355.5,513.6 356.4,541.9 357.0,548.4 357.3,518.9 358.2,565.3 359.0,516.3 359.0,580.6 359.1,530.3 360.0,573.5 360.9,530.6 361.8,563.7 362.0,572.6 362.7,522.4 363.0,508.2 363.6,562.6 364.0,564.5 364.5,511.4 365.4,546.8 366.3,519.7 367.1,506.2 367.1,556.5 367.2,509.0 368.1,551.7 369.0,513.5 369.9,547.9 370.1,490.2 370.1,564.5 370.8,502.0 371.7,560.1 372.6,502.9 373.1,488.1 373.5,494.9 374.1,564.5 374.4,500.2 375.3,553.1 376.1,495.2 376.2,543.2 377.1,536.4 377.1,501.4 378.0,530.4 378.9,498.7 379.8,532.5 380.1,544.4 380.7,502.7 381.1,497.2 381.6,541.2 382.1,554.5 382.5,507.8 383.4,543.2 384.3,506.1 385.2,508.2 385.2,546.4 385.2,509.1 386.1,543.8 387.0,516.4 387.9,536.2 388.8,536.0 389.7,540.6 390.2,505.2 390.2,540.4 390.6,510.4 391.5,543.4 392.4,511.8 393.2,506.2 393.2,568.5 393.3,507.0 394.2,569.5 395.1,527.0 396.0,554.7 396.9,526.0 397.2,518.3 397.2,572.6 397.8,523.7 398.7,569.1 399.6,525.5 400.5,535.2 401.2,564.5 401.4,525.6 402.3,530.5 403.2,526.3 403.2,563.8 404.1,536.3 404.2,568.5 405.0,533.8 405.9,568.6 406.8,544.8 407.3,596.7 407.7,543.7 408.3,528.3 408.6,583.0 409.5,545.3 410.3,604.7 410.4,591.7 411.3,553.4 412.2,591.0 413.1,553.3 413.3,540.4 413.3,608.7 414.0,560.1 414.9,613.1 415.3,620.8 415.8,556.8 416.7,609.4 417.3,548.4 417.6,606.7 418.5,552.7 419.3,620.8 419.4,562.7 420.3,600.7 421.2,562.9 421.3,558.5 422.1,603.0 422.3,604.7 423.0,602.6 423.9,567.9 424.3,554.5 424.8,601.4 425.4,600.7 425.7,562.6 426.6,581.1 427.4,576.6 427.5,556.4 428.4,548.4 428.4,570.0 429.3,552.6 430.2,571.5 430.4,572.6 431.1,551.2 432.0,584.9 432.4,546.4 432.9,588.0 433.4,596.7 433.8,563.4 434.7,603.8 435.6,563.4 436.4,552.5 436.4,616.8 436.5,598.8 437.4,559.8 438.3,607.6 439.2,607.8 439.4,564.5 439.4,620.8 440.1,578.8 441.0,601.0 441.4,604.7 441.9,574.1 442.8,593.0 443.4,564.5 443.7,598.6 444.6,589.8 445.5,596.7 445.5,566.1 446.4,587.5 447.3,559.0 447.5,558.5 448.2,582.8 449.1,558.6 449.5,588.6 450.0,578.9 450.9,560.3 451.5,552.5 451.8,581.9 452.7,549.0 453.5,584.6 453.6,550.1 454.5,583.3 455.4,546.4 455.5,540.4 456.3,569.3 457.2,542.1 457.5,580.6 458.1,545.7 459.0,567.9 459.5,536.4 459.9,574.2 460.8,539.3 461.5,574.6 461.7,535.4 462.6,569.0 463.5,532.7 464.4,559.3 464.5,528.3 464.5,564.5 465.3,527.4 466.2,542.7 467.1,516.5 467.6,510.3 467.6,540.4 468.0,516.0 468.9,523.6 469.8,510.5 470.0,512.6 470.7,509.3 471.6,508.2 471.6,514.5 472.5,508.3 473.4,517.7 474.0,520.6 474.3,512.2 475.2,545.0 476.0,507.5 476.0,566.8 476.1,565.8 477.0,526.2 477.9,553.4 478.8,526.1 479.0,518.6 479.0,564.8 479.7,551.8 480.6,523.9 481.1,528.6 481.5,520.5 482.1,520.6 482.4,528.8 483.3,522.1 484.2,530.0 485.1,528.9 486.0,519.5 486.1,518.6 486.1,532.7 486.9,520.9 487.8,529.6 488.7,517.0 489.6,526.7 490.1,509.5 490.5,523.5 491.4,513.7 492.1,524.6 492.3,512.0 493.1,510.6 493.2,527.4 494.1,523.0 495.0,542.8 495.1,526.6 495.1,544.7 495.9,530.4 496.8,542.7 497.7,532.5 498.6,548.9 499.1,552.8 499.5,533.2 500.2,530.7 500.4,566.6 501.2,576.0 501.3,568.9 502.2,563.7 503.1,541.1 504.0,557.9 504.2,566.8 504.9,535.5 505.2,533.7 505.8,557.8 506.7,538.3 507.2,556.8 507.6,537.8 508.5,558.6 509.2,536.7 509.4,567.4 510.2,579.0 510.3,540.7 511.2,544.0 512.1,565.0 512.2,530.7 513.0,559.0 513.2,560.8 513.9,534.9 514.8,546.8 515.7,544.5 516.2,524.6 516.2,548.7 516.6,546.4 517.5,543.6 518.4,527.5 519.3,541.0 520.2,535.5 520.3,521.6 520.3,540.7 521.1,524.6 522.0,538.6 522.9,524.4 523.3,523.6 523.8,542.1 524.3,544.7 524.7,531.5 525.6,545.9 526.3,532.7 526.5,545.6 527.3,548.7 527.4,537.7 528.3,550.3 529.2,538.4 530.1,556.5 530.3,534.7 530.3,558.8 531.0,535.8 531.9,550.1 532.3,556.8 532.8,527.2 533.7,527.7 534.3,520.6 534.6,522.3 535.3,536.7 535.5,510.3 536.4,529.8 537.3,494.5 537.3,516.2 538.2,494.7 538.3,518.6 539.1,498.6 540.0,520.3 540.4,491.5 540.9,522.4 541.4,530.7 541.8,502.0 542.4,496.5 542.7,543.7 543.4,550.8 543.6,464.1 544.4,440.2 544.5,451.3 545.4,548.7 545.4,439.1 546.3,515.5 546.4,420.1 547.2,494.0 547.4,492.5 548.1,440.2 549.0,485.5 549.4,419.1 549.4,498.5 549.9,432.9 550.8,482.2 551.4,496.5 551.7,435.8 552.4,426.1 552.6,485.8 553.5,446.5 554.4,440.2 554.4,488.4 554.4,447.7 555.3,487.6 556.2,453.2 557.1,479.5 558.0,443.6 558.4,439.2 558.4,494.5 558.9,458.0 559.8,491.7 560.5,452.3 560.7,494.0 561.5,514.6 561.6,481.3 562.5,488.4 562.5,513.2 563.4,493.5 564.3,516.7 564.5,520.6 565.2,514.4 566.1,494.3 566.5,490.5 567.0,519.4 567.9,500.7 568.5,520.6 568.8,505.5 569.5,504.5 569.7,516.5 570.6,507.1 571.5,516.6 571.5,509.0 572.4,512.4 572.5,506.5 573.3,513.0 574.2,509.2 574.5,510.6 575.1,510.5 576.0,553.4 576.5,512.6 576.5,581.0 576.9,516.3 577.8,544.9 578.7,519.1 579.5,509.5 579.5,528.6 579.6,511.7 580.5,507.2 581.4,516.0 582.3,501.7 582.6,496.5 582.6,512.6 583.2,497.9 584.1,496.5 585.0,500.3 585.0,495.3 585.6,492.5 585.9,506.8 586.8,496.4 587.0,516.4 587.7,496.0 588.6,512.4 589.0,490.3 589.5,508.6 590.4,486.4 591.0,512.4 591.3,484.0 592.2,500.5 593.0,472.2 593.1,507.7 594.0,475.8 594.9,500.3 595.1,506.3 595.8,473.3 596.7,503.4 597.1,473.2 597.6,502.2 598.1,509.3 598.5,477.5 599.4,497.2 600.3,475.3 601.1,474.2 601.1,496.3 601.2,480.3 602.1,490.8 603.0,475.9 603.9,491.9 604.8,479.7 605.1,474.2 605.1,494.3 605.7,482.9 606.6,497.0 607.5,490.2 608.1,490.3 608.1,506.3 608.4,491.5 609.3,505.2 610.2,498.4 611.1,509.8 612.0,501.0 612.1,500.3 612.1,512.4 612.9,516.2 613.8,508.2 614.7,524.2 615.2,504.3 615.2,534.5 615.6,514.1 616.5,515.5 617.2,569.6 617.4,521.2 618.3,549.5 619.2,504.3 619.2,534.5 619.2,506.3 620.1,528.7 621.0,506.2 621.9,525.6 622.2,528.4 622.8,506.5 623.7,515.3 624.2,504.3 624.6,511.9 625.2,510.4 625.5,501.5 626.4,507.0 627.3,497.7 628.2,490.3 628.2,508.9 629.1,495.7 629.2,512.4 630.0,498.6 630.9,510.1 631.8,515.5 632.2,496.3 632.2,517.4 632.7,512.6 633.6,497.7 634.5,505.6 635.3,506.3 635.4,489.0 636.3,498.6 637.2,484.9 637.3,480.2 638.1,482.0 639.0,495.1 639.3,496.3 639.9,478.0 640.8,493.4 641.3,471.2 641.7,497.1 642.6,473.3 643.5,498.8 644.4,503.9 645.3,473.2 645.3,508.3 645.3,480.4 646.2,505.3 647.1,483.7 648.0,500.0 648.9,484.9 649.3,483.2 649.3,504.3 649.8,488.0 650.7,497.9 651.6,488.6 652.5,496.0 653.3,483.2 653.3,500.3 653.4,498.8 654.3,491.2 655.2,502.6 656.1,495.8 656.4,492.3 657.0,511.8 657.4,514.4 657.9,499.0 658.8,513.6 659.7,503.4 660.4,500.3 660.6,515.0 661.4,516.4 661.5,514.1 662.4,503.1 663.3,513.4 664.2,501.6 664.4,496.3 665.1,508.6 665.4,512.4 666.0,501.7 666.9,515.0 667.4,498.3 667.8,519.2 668.4,522.4 668.7,502.6 669.6,517.5 670.5,506.4 671.4,508.3 671.4,519.1 672.3,512.8 672.4,522.4 673.2,514.9 674.1,526.6 675.0,518.7 675.5,516.4 675.5,534.5 675.9,518.5 676.8,539.9 677.7,523.0 678.5,554.6 678.6,531.0 679.5,522.4 679.5,553.2 680.4,526.7 681.3,547.2 681.5,556.6 682.2,531.8 683.1,552.2 683.5,524.4 684.0,546.9 684.5,554.6 684.9,529.6 685.8,545.4 686.7,530.4 687.5,526.4 687.5,544.5 687.6,531.7 688.5,546.7 689.4,531.2 690.3,545.5 690.5,552.6 691.2,532.7 691.5,528.4 692.1,547.1 693.0,532.6 693.5,554.6 693.9,531.5 694.8,543.4 695.6,532.5 695.7,540.3 696.6,536.5 696.6,529.7 697.5,540.7 698.4,527.8 699.3,529.7 699.6,520.4 699.6,556.6 700.2,527.6 701.1,555.6 702.0,533.6 702.4,535.4 702.9,558.8 703.8,541.4 704.7,561.4 704.7,540.4 705.6,552.9 706.5,539.2 707.1,535.4 707.4,557.7 708.3,556.7 708.3,539.8 709.2,553.8 710.1,541.1 711.0,557.4 711.8,533.1 711.9,556.5 712.8,537.3 713.0,561.4 713.7,542.9 714.6,565.9 715.4,533.1 715.4,585.0 715.5,540.9 716.4,578.5 717.3,546.4 717.7,547.2 718.2,574.5 718.9,580.3 719.1,552.3 720.0,574.7 720.9,553.1 721.3,552.0 721.8,565.5 722.4,566.1 722.7,553.7 723.6,570.1 724.5,559.6 725.4,579.9 726.0,556.7 726.0,587.4 726.3,560.0 727.2,573.0 728.1,557.6 729.0,553.4 729.5,546.1 729.5,566.1 729.9,551.1 730.8,569.1 731.7,549.8 732.6,582.1 733.1,547.2 733.1,587.4 733.5,549.3 734.4,579.4 735.3,561.4 736.2,579.7 736.6,561.4 736.6,587.4 737.1,568.1 738.0,580.8 738.9,566.4 739.8,573.3 740.2,566.1 740.7,570.4 741.3,568.5 741.6,560.5 742.5,566.8 743.4,553.7 743.7,548.4 744.3,571.8 744.9,575.6 745.2,551.9 746.1,548.4 746.1,574.0 747.0,554.3 747.9,558.9 748.4,582.7 748.8,568.4 749.6,568.5 749.7,588.5 750.6,593.8 751.5,577.6 752.0,603.9 752.4,581.2 753.2,582.7 753.3,606.7 754.2,587.7 755.1,591.1 756.0,615.9 756.7,594.5 756.7,618.1 756.9,617.7 757.8,603.2 758.7,620.5 759.6,604.5 760.2,603.9 760.2,629.9 760.5,606.0 761.4,625.4 762.3,609.2 763.2,628.8 763.8,596.9 763.8,632.3 764.1,602.3 765.0,610.8 765.9,640.6 766.1,613.4 766.1,641.7 766.8,624.7 767.7,623.6 768.5,679.5 768.6,628.0 769.5,663.9 770.4,645.0 770.9,625.2 770.9,646.5 771.3,626.9 772.2,640.9 773.1,627.5 774.0,641.1 774.4,646.5 774.9,632.9 775.6,628.8 775.8,630.9 776.7,639.8 777.6,629.3 778.0,637.0 778.5,631.2 779.4,641.5 780.3,628.8 780.3,645.1 781.2,632.2 781.5,651.2 782.1,629.3 783.0,641.3 783.9,618.1 783.9,639.2 784.8,617.5 785.0,637.0 785.7,615.7 786.6,633.2 787.4,598.0 787.5,632.3 788.4,625.2 788.6,632.3 789.3,629.2 790.2,613.0 791.0,599.2 791.1,644.3 792.0,653.9 792.1,665.4 792.9,619.4 793.3,618.1 793.8,673.4 794.5,689.0 794.7,678.7 795.6,678.9 795.7,637.0 796.5,681.4 796.9,686.6 797.4,648.5 798.3,669.1 799.2,639.4 799.2,660.6 799.2,644.8 800.1,659.2 801.0,646.6 801.9,660.2 802.8,667.7 802.8,649.7 803.7,665.6 803.9,644.1 804.6,668.1 805.5,653.0 806.3,684.3 806.4,656.2 807.3,655.5 808.2,685.6 808.7,646.5 808.7,686.6 809.1,655.2 810.0,674.0 810.9,645.3 811.0,665.4 811.8,640.4 812.7,657.4 813.4,635.8 813.6,656.6 814.5,639.8 815.0,637.2 819.1,643.5 820.2,653.8 823.3,641.4 828.4,634.1 831.6,639.3 834.7,651.7 837.8,664.1 841.9,672.4 846.0,676.6 849.1,686.9 852.2,705.5 855.3,697.3 859.5,693.1 864.7,697.3 867.8,684.8 870.9,664.1 874.0,639.3 877.1,631.0 880.2,641.4 882.2,660.0 886.4,664.1 889.5,666.2 891.6,676.6 894.7,697.3 896.7,703.5 899.8,695.2 905.0,694.1 908.1,684.8 910.2,662.1 912.2,653.8 915.4,647.6 918.5,635.2 922.6,622.8 926.7,608.3 929.8,597.9 934.0,587.6 938.1,573.1 942.3,569.0 945.4,566.9 947.4,560.7 949.5,544.1 950.5,540.0 953.8,520.0 959.4,499.3 963.7,480.9 966.5,463.8 968.7,446.8 970.8,432.6 974.3,428.4 977.9,432.6 980.7,442.6 983.5,438.3 990.0,430.5" stroke="#000" stroke-width="4.6"/>
<polyline points="820.2,653.8 823.3,641.4 828.4,634.1 831.6,639.3 834.7,651.7 837.8,664.1 841.9,672.4 846.0,676.6 849.1,686.9 852.2,705.5 855.3,697.3 859.5,693.1 864.7,697.3 867.8,684.8 870.9,664.1 874.0,639.3 877.1,631.0 880.2,641.4 882.2,660.0 886.4,664.1 889.5,666.2 891.6,676.6 894.7,697.3 896.7,703.5 899.8,695.2 905.0,694.1 908.1,684.8 910.2,662.1 912.2,653.8 915.4,647.6 918.5,635.2 922.6,622.8 926.7,608.3 929.8,597.9 934.0,587.6 938.1,573.1 942.3,569.0 945.4,566.9 947.4,560.7 949.5,544.1 950.5,540.0 953.8,520.0 959.4,499.3 963.7,480.9 966.5,463.8 968.7,446.8 970.8,432.6 974.3,428.4 977.9,432.6 980.7,442.6 983.5,438.3 990.0,430.5" stroke="#000" stroke-width="5.4"/>
</g>
<path d="M158.5 131.68h3.5M988.4 131.68h-3.5M158.5 98.84h3.5M988.4 98.84h-3.5M158.5 79.63h3.5M988.4 79.63h-3.5M158.5 66.01h3.5M988.4 66.01h-3.5M158.5 55.44h3.5M988.4 55.44h-3.5M158.5 46.80h3.5M988.4 46.80h-3.5M158.5 39.50h3.5M988.4 39.50h-3.5M158.5 33.17h3.5M988.4 33.17h-3.5M158.5 27.59h3.5M988.4 27.59h-3.5M158.5 240.75h3.5M988.4 240.75h-3.5M158.5 207.92h3.5M988.4 207.92h-3.5M158.5 188.71h3.5M988.4 188.71h-3.5M158.5 175.08h3.5M988.4 175.08h-3.5M158.5 164.51h3.5M988.4 164.51h-3.5M158.5 155.88h3.5M988.4 155.88h-3.5M158.5 148.57h3.5M988.4 148.57h-3.5M158.5 142.25h3.5M988.4 142.25h-3.5M158.5 136.67h3.5M988.4 136.67h-3.5M158.5 349.83h3.5M988.4 349.83h-3.5M158.5 317.00h3.5M988.4 317.00h-3.5M158.5 297.79h3.5M988.4 297.79h-3.5M158.5 284.16h3.5M988.4 284.16h-3.5M158.5 273.59h3.5M988.4 273.59h-3.5M158.5 264.95h3.5M988.4 264.95h-3.5M158.5 257.65h3.5M988.4 257.65h-3.5M158.5 251.33h3.5M988.4 251.33h-3.5M158.5 245.75h3.5M988.4 245.75h-3.5M158.5 458.91h3.5M988.4 458.91h-3.5M158.5 426.07h3.5M988.4 426.07h-3.5M158.5 406.87h3.5M988.4 406.87h-3.5M158.5 393.24h3.5M988.4 393.24h-3.5M158.5 382.67h3.5M988.4 382.67h-3.5M158.5 374.03h3.5M988.4 374.03h-3.5M158.5 366.73h3.5M988.4 366.73h-3.5M158.5 360.40h3.5M988.4 360.40h-3.5M158.5 354.82h3.5M988.4 354.82h-3.5M158.5 567.99h3.5M988.4 567.99h-3.5M158.5 535.15h3.5M988.4 535.15h-3.5M158.5 515.94h3.5M988.4 515.94h-3.5M158.5 502.32h3.5M988.4 502.32h-3.5M158.5 491.75h3.5M988.4 491.75h-3.5M158.5 483.11h3.5M988.4 483.11h-3.5M158.5 475.81h3.5M988.4 475.81h-3.5M158.5 469.48h3.5M988.4 469.48h-3.5M158.5 463.90h3.5M988.4 463.90h-3.5M158.5 677.06h3.5M988.4 677.06h-3.5M158.5 644.23h3.5M988.4 644.23h-3.5M158.5 625.02h3.5M988.4 625.02h-3.5M158.5 611.39h3.5M988.4 611.39h-3.5M158.5 600.82h3.5M988.4 600.82h-3.5M158.5 592.19h3.5M988.4 592.19h-3.5M158.5 584.88h3.5M988.4 584.88h-3.5M158.5 578.56h3.5M988.4 578.56h-3.5M158.5 572.98h3.5M988.4 572.98h-3.5M158.5 709.90h3.5M988.4 709.90h-3.5M158.5 701.26h3.5M988.4 701.26h-3.5M158.5 693.96h3.5M988.4 693.96h-3.5M158.5 687.64h3.5M988.4 687.64h-3.5M158.5 682.06h3.5M988.4 682.06h-3.5M158.5 22.60h8.5M988.4 22.60h-8.5M158.5 240.75h8.5M988.4 240.75h-8.5M158.5 458.91h8.5M988.4 458.91h-8.5M158.5 677.06h8.5M988.4 677.06h-8.5M342.92 709.9v-8.5M342.92 22.6v8.5M527.34 709.9v-8.5M527.34 22.6v8.5M711.77 709.9v-8.5M711.77 22.6v8.5M896.19 709.9v-8.5M896.19 22.6v8.5" stroke="#262626" stroke-width="1.3" fill="none"/>
<rect x="158.5" y="22.6" width="829.9" height="687.3" stroke="#262626" stroke-width="1.3" fill="none"/>
<rect x="448.4" y="41.4" width="499.8" height="326.7" fill="#fff"/>
<path d="M573.35 41.4V368.1M698.30 41.4V368.1M823.25 41.4V368.1M448.4 204.75H948.2" stroke="#dcdcdc" stroke-width="1" fill="none"/>
<g clip-path="url(#ci)" fill="none" stroke-linejoin="round">
<polyline points="447.0,360.6 448.5,359.9 450.0,359.3 451.5,358.7 453.0,358.0 454.5,357.4 456.0,356.7 457.5,356.1 459.0,355.5 460.5,354.6 462.0,353.5 463.5,352.4 465.0,351.3 466.5,350.3 468.0,349.2 469.5,348.1 471.0,346.9 472.5,345.7 474.0,344.5 475.5,343.3 477.0,341.8 478.5,339.6 480.0,337.3 481.5,335.1 483.0,332.9 484.5,330.9 486.0,328.9 487.5,327.1 489.0,325.4 490.5,323.7 492.0,322.0 493.5,320.0 495.0,318.0 496.5,316.0 498.0,314.0 499.5,312.3 501.0,310.6 502.5,308.9 504.0,307.1 505.5,305.6 507.0,304.4 508.5,303.2 510.0,302.0 511.5,300.8 513.0,299.6 514.5,298.4 516.0,296.9 517.5,295.1 519.0,293.4 520.5,291.7 522.0,290.0 523.5,287.5 525.0,285.0 526.5,282.5 528.0,280.0 529.5,275.5 531.0,271.0 532.5,266.5 534.0,262.0 535.5,257.5 537.0,256.5 538.5,257.2 540.0,258.0 541.5,255.3 543.0,252.6 544.5,249.9 546.0,247.2 547.5,244.5 549.0,241.8 550.5,238.8 552.0,235.0 553.5,231.2 555.0,227.5 556.5,223.8 558.0,220.0 559.5,216.2 561.0,213.3 562.5,210.8 564.0,208.2 565.5,205.7 567.0,203.1 568.5,200.6 570.0,198.0 571.5,195.4 573.0,193.1 574.5,190.9 576.0,188.7 577.5,186.5 579.0,184.2 580.5,181.8 582.0,178.8 583.5,175.8 585.0,172.7 586.5,169.7 588.0,166.7 589.5,164.6 591.0,162.6 592.5,160.7 594.0,158.7 595.5,157.9 597.0,157.3 598.5,156.7 600.0,169.8 601.5,201.0 603.0,204.2 604.5,170.2 606.0,154.0 607.5,149.6 609.0,145.2 610.5,141.4 612.0,141.3 613.5,141.2 615.0,141.2 616.5,141.1 618.0,141.0 619.5,140.9 621.0,140.9 622.5,140.8 624.0,140.7 625.5,140.6 627.0,140.6 628.5,140.5 630.0,140.4 631.5,140.5 633.0,140.7 634.5,140.8 636.0,141.0 637.5,141.1 639.0,141.3 640.5,141.4 642.0,141.6 643.5,141.7 645.0,141.9 646.5,142.0 648.0,142.2 649.5,142.3 651.0,142.6 652.5,143.2 654.0,143.8 655.5,144.3 657.0,144.9 658.5,145.5 660.0,146.1 661.5,146.7 663.0,147.3 664.5,147.8 666.0,148.4 667.5,149.0 669.0,149.2 670.5,148.8 672.0,148.3 673.5,147.8 675.0,147.4 676.5,146.9 678.0,146.4 679.5,146.0 681.0,145.5 682.5,145.1 684.0,144.6 685.5,144.7 687.0,145.3 688.5,145.9 690.0,146.4 691.5,147.0 693.0,147.5 694.5,148.1 696.0,148.6 697.5,149.2 699.0,149.8 700.5,150.3 702.0,151.9 703.5,153.5 705.0,155.2 706.5,156.9 708.0,158.6 709.5,160.3 711.0,162.0 712.5,163.7 714.0,165.4 715.5,167.0 717.0,168.5 718.5,168.3 720.0,168.0 721.5,167.8 723.0,167.6 724.5,167.4 726.0,167.2 727.5,167.0 729.0,166.8 730.5,166.6 732.0,167.4 733.5,168.6 735.0,169.8 736.5,171.0 738.0,172.2 739.5,173.4 741.0,174.6 742.5,175.8 744.0,177.0 745.5,178.2 747.0,179.4 748.5,180.6 750.0,181.8 751.5,182.9 753.0,183.9 754.5,184.9 756.0,185.9 757.5,186.9 759.0,187.9 760.5,188.9 762.0,189.9 763.5,190.9 765.0,191.9 766.5,192.9 768.0,193.9 769.5,196.8 771.0,203.4 772.5,210.1 774.0,213.3 775.5,214.2 777.0,215.2 778.5,216.1 780.0,217.1 781.5,218.0 783.0,219.0 784.5,219.9 786.0,220.9 787.5,221.8 789.0,222.8 790.5,223.7 792.0,224.7 793.5,225.6 795.0,226.5 796.5,227.4 798.0,228.3 799.5,229.2 801.0,230.1 802.5,231.0 804.0,231.9 805.5,232.8 807.0,233.7 808.5,234.6 810.0,235.5 811.5,236.4 813.0,237.3 814.5,238.2 816.0,239.1 817.5,240.0 819.0,240.9 820.5,241.8 822.0,242.7 823.5,243.6 825.0,244.5 826.5,245.4 828.0,246.3 829.5,247.2 831.0,248.1 832.5,249.0 834.0,249.9 835.5,250.8 837.0,251.7 838.5,252.6 840.0,253.5 841.5,254.4 843.0,255.3 844.5,256.2 846.0,257.1 847.5,258.0 849.0,258.9 850.5,259.8 852.0,260.7 853.5,261.6 855.0,263.3 856.5,265.1 858.0,266.9 859.5,268.6 861.0,270.4 862.5,272.2 864.0,274.0 865.5,275.8 867.0,277.6 868.5,279.4 870.0,281.2 871.5,283.0 873.0,284.8 874.5,286.6 876.0,288.7 877.5,290.8 879.0,292.9 880.5,295.0 882.0,297.1 883.5,299.2 885.0,301.4 886.5,303.5 888.0,305.6 889.5,307.7 891.0,309.8 892.5,311.9 894.0,314.0 895.5,316.4 897.0,319.9 898.5,323.4 900.0,326.9 901.5,330.4 903.0,333.9 904.5,337.4 906.0,340.9 907.5,344.4 909.0,346.8 910.5,349.1 912.0,351.5 913.5,353.8 915.0,356.2 916.5,358.5 918.0,360.9 919.5,363.2 921.0,364.1 922.5,364.4 924.0,364.6 925.5,364.8 927.0,365.1 928.5,365.3 930.0,365.5 931.5,365.7 933.0,365.9 934.5,366.2 936.0,366.4 937.5,366.6 939.0,366.9 940.5,367.1 942.0,367.3 943.5,367.5 945.0,367.8 946.5,368.0 948.0,368.2 949.5,368.4" stroke="#d6d6d6" stroke-width="1"/>
<polyline points="447.0,360.8 448.5,360.2 450.0,359.6 451.5,359.0 453.0,358.4 454.5,357.7 456.0,357.1 457.5,356.5 459.0,355.9 460.5,355.0 462.0,354.0 463.5,352.9 465.0,351.9 466.5,350.8 468.0,349.7 469.5,348.6 471.0,347.4 472.5,346.2 474.0,345.0 475.5,343.8 477.0,342.3 478.5,340.0 480.0,337.8 481.5,335.5 483.0,333.3 484.5,331.3 486.0,329.2 487.5,327.4 489.0,325.7 490.5,323.9 492.0,322.2 493.5,320.2 495.0,318.1 496.5,316.1 498.0,314.1 499.5,312.3 501.0,310.6 502.5,308.9 504.0,307.2 505.5,305.7 507.0,304.5 508.5,303.4 510.0,302.2 511.5,301.0 513.0,299.9 514.5,298.8 516.0,297.2 517.5,295.5 519.0,293.8 520.5,292.1 522.0,290.4 523.5,287.8 525.0,285.3 526.5,282.7 528.0,280.1 529.5,275.5 531.0,271.0 532.5,266.5 534.0,262.0 535.5,257.4 537.0,256.3 538.5,256.8 540.0,257.4 541.5,254.5 543.0,251.8 544.5,249.1 546.0,246.4 547.5,243.7 549.0,241.0 550.5,237.9 552.0,234.1 553.5,230.4 555.0,226.6 556.5,222.9 558.0,219.2 559.5,215.4 561.0,212.5 562.5,209.9 564.0,207.3 565.5,204.7 567.0,202.0 568.5,199.4 570.0,196.7 571.5,194.1 573.0,191.7 574.5,189.4 576.0,187.1 577.5,184.9 579.0,182.6 580.5,180.2 582.0,177.2 583.5,174.3 585.0,171.4 586.5,168.4 588.0,165.5 589.5,163.5 591.0,161.6 592.5,159.7 594.0,157.8 595.5,157.2 597.0,156.7 598.5,156.3 600.0,169.3 601.5,201.0 603.0,204.1 604.5,169.7 606.0,153.6 607.5,149.2 609.0,144.9 610.5,141.1 612.0,141.0 613.5,140.8 615.0,140.7 616.5,140.6 618.0,140.6 619.5,140.4 621.0,140.3 622.5,140.1 624.0,140.0 625.5,139.8 627.0,139.7 628.5,139.6 630.0,139.4 631.5,139.4 633.0,139.6 634.5,139.7 636.0,139.8 637.5,139.9 639.0,140.1 640.5,140.2 642.0,140.3 643.5,140.4 645.0,140.5 646.5,140.6 648.0,140.7 649.5,140.8 651.0,141.0 652.5,141.5 654.0,142.1 655.5,142.6 657.0,143.1 658.5,143.7 660.0,144.2 661.5,144.8 663.0,145.4 664.5,146.0 666.0,146.5 667.5,147.1 669.0,147.4 670.5,147.2 672.0,146.7 673.5,146.1 675.0,145.6 676.5,145.2 678.0,144.8 679.5,144.4 681.0,144.1 682.5,143.7 684.0,143.3 685.5,143.5 687.0,144.0 688.5,144.6 690.0,145.1 691.5,145.6 693.0,146.1 694.5,146.6 696.0,147.1 697.5,147.6 699.0,148.2 700.5,148.8 702.0,150.4 703.5,152.1 705.0,153.6 706.5,155.2 708.0,156.7 709.5,158.3 711.0,160.0 712.5,161.6 714.0,163.4 715.5,165.1 717.0,166.4 718.5,166.0 720.0,165.8 721.5,165.6 723.0,165.5 724.5,165.3 726.0,165.1 727.5,164.8 729.0,164.5 730.5,164.3 732.0,165.1 733.5,166.3 735.0,167.5 736.5,168.7 738.0,169.9 739.5,171.0 741.0,172.1 742.5,173.2 744.0,174.4 745.5,175.6 747.0,176.8 748.5,178.1 750.0,179.3 751.5,180.5 753.0,181.5 754.5,182.5 756.0,183.6 757.5,184.7 759.0,185.8 760.5,186.8 762.0,187.9 763.5,189.0 765.0,190.1 766.5,191.0 768.0,191.7 769.5,194.6 771.0,202.3 772.5,208.5 774.0,210.9 775.5,211.9 777.0,213.0 778.5,213.9 780.0,214.4 781.5,215.4 783.0,216.5 784.5,217.5 786.0,219.1 787.5,220.1 789.0,221.3 790.5,222.2 792.0,223.1 793.5,224.0 795.0,224.9 796.5,225.7 798.0,226.6 799.5,227.3 801.0,228.2 802.5,229.1 804.0,230.0 805.5,230.1 807.0,231.1 808.5,232.5 810.0,233.6 811.5,234.6 813.0,235.5 814.5,236.5 816.0,237.6 817.5,238.5 819.0,239.5 820.5,240.4 822.0,241.3 823.5,242.3 825.0,243.2 826.5,244.1 828.0,245.1 829.5,246.0 831.0,246.9 832.5,248.1 834.0,249.0 835.5,249.9 837.0,250.8 838.5,251.7 840.0,252.2 841.5,253.2 843.0,254.1 844.5,255.1 846.0,256.0 847.5,256.9 849.0,258.2 850.5,259.1 852.0,260.0 853.5,260.9 855.0,262.5 856.5,263.8 858.0,265.7 859.5,267.5 861.0,269.4 862.5,271.1 864.0,272.9 865.5,274.8 867.0,276.6 868.5,278.6 870.0,280.4 871.5,282.3 873.0,284.1 874.5,286.0 876.0,288.1 877.5,289.9 879.0,292.0 880.5,294.2 882.0,296.4 883.5,298.8 885.0,301.0 886.5,303.1 888.0,305.3 889.5,307.4 891.0,309.5 892.5,311.6 894.0,313.8 895.5,316.3 897.0,319.8 898.5,323.4 900.0,326.9 901.5,330.4 903.0,333.9 904.5,337.9 906.0,341.3 907.5,344.7 909.0,347.1 910.5,349.4 912.0,351.7 913.5,354.0 915.0,356.3 916.5,358.6 918.0,360.9 919.5,363.2 921.0,364.1 922.5,364.4 924.0,364.7 925.5,364.9 927.0,365.1 928.5,365.3 930.0,365.6 931.5,365.8 933.0,366.0 934.5,366.2 936.0,366.4 937.5,366.7 939.0,366.9 940.5,367.1 942.0,367.3 943.5,367.5 945.0,367.8 946.5,368.0 948.0,368.2 949.5,368.4" stroke="#d4d4d4" stroke-width="1"/>
<polyline points="447.0,361.1 448.5,360.5 450.0,359.9 451.5,359.3 453.0,358.7 454.5,358.1 456.0,357.5 457.5,356.9 459.0,356.3 460.5,355.5 462.0,354.5 463.5,353.4 465.0,352.4 466.5,351.3 468.0,350.3 469.5,349.2 471.0,348.0 472.5,346.8 474.0,345.5 475.5,344.2 477.0,342.7 478.5,340.5 480.0,338.2 481.5,336.0 483.0,333.8 484.5,331.7 486.0,329.6 487.5,327.7 489.0,325.9 490.5,324.2 492.0,322.4 493.5,320.3 495.0,318.2 496.5,316.2 498.0,314.1 499.5,312.4 501.0,310.7 502.5,309.0 504.0,307.3 505.5,305.8 507.0,304.7 508.5,303.5 510.0,302.4 511.5,301.3 513.0,300.2 514.5,299.1 516.0,297.6 517.5,295.9 519.0,294.2 520.5,292.5 522.0,290.7 523.5,288.2 525.0,285.6 526.5,282.9 528.0,280.2 529.5,275.6 531.0,271.0 532.5,266.5 534.0,261.9 535.5,257.4 537.0,256.1 538.5,256.4 540.0,256.7 541.5,253.8 543.0,251.1 544.5,248.3 546.0,245.6 547.5,242.9 549.0,240.1 550.5,237.0 552.0,233.3 553.5,229.5 555.0,225.8 556.5,222.0 558.0,218.3 559.5,214.6 561.0,211.6 562.5,209.0 564.0,206.3 565.5,203.7 567.0,201.0 568.5,198.2 570.0,195.5 571.5,192.8 573.0,190.3 574.5,188.0 576.0,185.6 577.5,183.3 579.0,181.0 580.5,178.6 582.0,175.7 583.5,172.8 585.0,170.0 586.5,167.2 588.0,164.4 589.5,162.5 591.0,160.6 592.5,158.8 594.0,157.0 595.5,156.5 597.0,156.1 598.5,155.8 600.0,168.8 601.5,200.9 603.0,204.0 604.5,169.2 606.0,153.2 607.5,148.8 609.0,144.6 610.5,140.9 612.0,140.7 613.5,140.5 615.0,140.3 616.5,140.2 618.0,140.1 619.5,139.9 621.0,139.7 622.5,139.5 624.0,139.3 625.5,139.0 627.0,138.8 628.5,138.6 630.0,138.4 631.5,138.4 633.0,138.5 634.5,138.6 636.0,138.7 637.5,138.8 639.0,138.9 640.5,139.0 642.0,139.1 643.5,139.1 645.0,139.2 646.5,139.2 648.0,139.3 649.5,139.3 651.0,139.5 652.5,139.9 654.0,140.4 655.5,140.9 657.0,141.4 658.5,141.9 660.0,142.4 661.5,143.0 663.0,143.5 664.5,144.1 666.0,144.6 667.5,145.2 669.0,145.5 670.5,145.6 672.0,145.0 673.5,144.4 675.0,143.9 676.5,143.6 678.0,143.2 679.5,142.9 681.0,142.6 682.5,142.3 684.0,142.0 685.5,142.2 687.0,142.8 688.5,143.3 690.0,143.7 691.5,144.1 693.0,144.6 694.5,145.0 696.0,145.5 697.5,146.0 699.0,146.7 700.5,147.4 702.0,148.9 703.5,150.6 705.0,152.0 706.5,153.4 708.0,154.8 709.5,156.3 711.0,157.9 712.5,159.6 714.0,161.5 715.5,163.1 717.0,164.3 718.5,163.8 720.0,163.6 721.5,163.4 723.0,163.3 724.5,163.3 726.0,163.0 727.5,162.6 729.0,162.2 730.5,162.0 732.0,162.8 733.5,164.0 735.0,165.2 736.5,166.4 738.0,167.5 739.5,168.5 741.0,169.6 742.5,170.6 744.0,171.8 745.5,173.1 747.0,174.3 748.5,175.5 750.0,176.8 751.5,178.0 753.0,179.0 754.5,180.1 756.0,181.2 757.5,182.4 759.0,183.6 760.5,184.7 762.0,185.9 763.5,187.0 765.0,188.3 766.5,189.1 768.0,189.5 769.5,192.4 771.0,200.7 772.5,207.0 774.0,208.6 775.5,209.6 777.0,210.9 778.5,211.7 780.0,211.6 781.5,212.8 783.0,214.0 784.5,215.2 786.0,217.3 787.5,218.3 789.0,219.7 790.5,220.6 792.0,221.5 793.5,222.4 795.0,223.3 796.5,224.1 798.0,225.0 799.5,225.5 801.0,226.4 802.5,227.3 804.0,228.2 805.5,227.5 807.0,228.6 808.5,230.1 810.0,231.8 811.5,232.8 813.0,233.8 814.5,234.9 816.0,236.1 817.5,237.1 819.0,238.1 820.5,239.0 822.0,240.0 823.5,240.9 825.0,241.9 826.5,242.9 828.0,243.9 829.5,244.8 831.0,245.8 832.5,247.3 834.0,248.2 835.5,249.1 837.0,250.0 838.5,250.8 840.0,251.1 841.5,252.0 843.0,252.9 844.5,253.9 846.0,254.9 847.5,255.9 849.0,257.4 850.5,258.3 852.0,259.3 853.5,260.2 855.0,261.8 856.5,262.7 858.0,264.5 859.5,266.4 861.0,268.3 862.5,270.0 864.0,271.8 865.5,273.7 867.0,275.6 868.5,277.6 870.0,279.7 871.5,281.5 873.0,283.4 874.5,285.3 876.0,287.5 877.5,288.9 879.0,291.2 880.5,293.4 882.0,295.7 883.5,298.2 885.0,300.6 886.5,302.8 888.0,305.0 889.5,307.2 891.0,309.2 892.5,311.4 894.0,313.7 895.5,316.2 897.0,319.8 898.5,323.5 900.0,327.0 901.5,330.5 903.0,334.0 904.5,338.1 906.0,341.8 907.5,345.1 909.0,347.4 910.5,349.6 912.0,351.9 913.5,354.2 915.0,356.5 916.5,358.8 918.0,361.0 919.5,363.2 921.0,364.1 922.5,364.4 924.0,364.7 925.5,364.9 927.0,365.2 928.5,365.4 930.0,365.6 931.5,365.8 933.0,366.0 934.5,366.3 936.0,366.5 937.5,366.7 939.0,366.9 940.5,367.1 942.0,367.3 943.5,367.6 945.0,367.8 946.5,368.0 948.0,368.2 949.5,368.4" stroke="#d1d1d1" stroke-width="1"/>
<polyline points="447.0,361.4 448.5,360.8 450.0,360.2 451.5,359.6 453.0,359.1 454.5,358.5 456.0,357.9 457.5,357.3 459.0,356.7 460.5,355.9 462.0,354.9 463.5,354.0 465.0,353.0 466.5,351.9 468.0,350.8 469.5,349.7 471.0,348.5 472.5,347.3 474.0,346.0 475.5,344.7 477.0,343.2 478.5,340.9 480.0,338.7 481.5,336.4 483.0,334.2 484.5,332.1 486.0,329.9 487.5,328.0 489.0,326.2 490.5,324.4 492.0,322.6 493.5,320.5 495.0,318.4 496.5,316.3 498.0,314.2 499.5,312.5 501.0,310.8 502.5,309.1 504.0,307.4 505.5,305.9 507.0,304.8 508.5,303.7 510.0,302.6 511.5,301.5 513.0,300.5 514.5,299.5 516.0,298.0 517.5,296.3 519.0,294.6 520.5,292.9 522.0,291.1 523.5,288.5 525.0,286.0 526.5,283.1 528.0,280.2 529.5,275.6 531.0,271.0 532.5,266.5 534.0,261.9 535.5,257.3 537.0,255.9 538.5,256.0 540.0,256.1 541.5,253.0 543.0,250.3 544.5,247.6 546.0,244.8 547.5,242.1 549.0,239.3 550.5,236.2 552.0,232.4 553.5,228.6 555.0,224.9 556.5,221.2 558.0,217.5 559.5,213.8 561.0,210.8 562.5,208.1 564.0,205.4 565.5,202.7 567.0,199.9 568.5,197.1 570.0,194.2 571.5,191.4 573.0,188.9 574.5,186.5 576.0,184.1 577.5,181.8 579.0,179.5 580.5,177.0 582.0,174.1 583.5,171.3 585.0,168.6 586.5,165.9 588.0,163.2 589.5,161.4 591.0,159.6 592.5,157.9 594.0,156.2 595.5,155.7 597.0,155.4 598.5,155.4 600.0,168.3 601.5,200.8 603.0,204.0 604.5,168.7 606.0,152.8 607.5,148.4 609.0,144.3 610.5,140.7 612.0,140.4 613.5,140.1 615.0,139.9 616.5,139.8 618.0,139.7 619.5,139.4 621.0,139.1 622.5,138.8 624.0,138.5 625.5,138.2 627.0,137.9 628.5,137.7 630.0,137.4 631.5,137.3 633.0,137.3 634.5,137.4 636.0,137.5 637.5,137.6 639.0,137.7 640.5,137.7 642.0,137.8 643.5,137.9 645.0,137.9 646.5,137.9 648.0,137.9 649.5,137.8 651.0,137.9 652.5,138.3 654.0,138.7 655.5,139.1 657.0,139.6 658.5,140.0 660.0,140.5 661.5,141.1 663.0,141.7 664.5,142.3 666.0,142.8 667.5,143.2 669.0,143.7 670.5,144.0 672.0,143.4 673.5,142.7 675.0,142.2 676.5,141.9 678.0,141.6 679.5,141.3 681.0,141.1 682.5,141.0 684.0,140.7 685.5,141.0 687.0,141.6 688.5,141.9 690.0,142.3 691.5,142.7 693.0,143.1 694.5,143.5 696.0,143.9 697.5,144.4 699.0,145.2 700.5,145.9 702.0,147.4 703.5,149.1 705.0,150.4 706.5,151.6 708.0,152.9 709.5,154.3 711.0,155.9 712.5,157.5 714.0,159.5 715.5,161.2 717.0,162.1 718.5,161.6 720.0,161.4 721.5,161.2 723.0,161.1 724.5,161.2 726.0,160.9 727.5,160.4 729.0,159.9 730.5,159.7 732.0,160.5 733.5,161.7 735.0,162.9 736.5,164.1 738.0,165.2 739.5,166.1 741.0,167.0 742.5,168.1 744.0,169.3 745.5,170.5 747.0,171.7 748.5,173.0 750.0,174.3 751.5,175.5 753.0,176.6 754.5,177.6 756.0,178.8 757.5,180.1 759.0,181.4 760.5,182.6 762.0,183.9 763.5,185.0 765.0,186.5 766.5,187.2 768.0,187.3 769.5,190.2 771.0,196.8 772.5,205.5 774.0,206.3 775.5,207.3 777.0,208.7 778.5,209.6 780.0,208.9 781.5,210.2 783.0,211.5 784.5,212.8 786.0,215.2 787.5,216.5 789.0,217.9 790.5,219.1 792.0,220.0 793.5,220.8 795.0,221.6 796.5,222.5 798.0,223.3 799.5,223.6 801.0,224.6 802.5,225.5 804.0,226.4 805.5,224.8 807.0,226.1 808.5,227.7 810.0,230.0 811.5,231.0 813.0,232.1 814.5,233.2 816.0,234.6 817.5,235.6 819.0,236.6 820.5,237.6 822.0,238.6 823.5,239.6 825.0,240.6 826.5,241.6 828.0,242.6 829.5,243.6 831.0,244.6 832.5,246.4 834.0,247.3 835.5,248.2 837.0,249.1 838.5,250.0 840.0,250.2 841.5,250.7 843.0,251.8 844.5,252.8 846.0,253.8 847.5,254.9 849.0,256.7 850.5,257.6 852.0,258.6 853.5,259.5 855.0,261.1 856.5,262.0 858.0,263.3 859.5,265.2 861.0,267.2 862.5,268.9 864.0,270.7 865.5,272.6 867.0,274.6 868.5,276.7 870.0,278.9 871.5,280.8 873.0,282.7 874.5,284.7 876.0,286.8 877.5,288.1 879.0,290.3 880.5,292.6 882.0,294.9 883.5,297.5 885.0,300.3 886.5,302.5 888.0,304.8 889.5,307.0 891.0,309.0 892.5,311.2 894.0,313.5 895.5,316.1 897.0,319.7 898.5,323.5 900.0,327.0 901.5,330.5 903.0,334.0 904.5,338.1 906.0,342.2 907.5,345.4 909.0,347.7 910.5,349.9 912.0,352.1 913.5,354.4 915.0,356.7 916.5,358.9 918.0,361.1 919.5,363.2 921.0,364.1 922.5,364.4 924.0,364.8 925.5,365.0 927.0,365.2 928.5,365.4 930.0,365.7 931.5,365.9 933.0,366.1 934.5,366.3 936.0,366.5 937.5,366.7 939.0,366.9 940.5,367.1 942.0,367.4 943.5,367.6 945.0,367.8 946.5,368.0 948.0,368.2 949.5,368.4" stroke="#cfcfcf" stroke-width="1"/>
<polyline points="447.0,361.6 448.5,361.1 450.0,360.5 451.5,360.0 453.0,359.4 454.5,358.8 456.0,358.3 457.5,357.7 459.0,357.2 460.5,356.4 462.0,355.4 463.5,354.5 465.0,353.5 466.5,352.4 468.0,351.3 469.5,350.2 471.0,349.0 472.5,347.8 474.0,346.5 475.5,345.2 477.0,343.6 478.5,341.4 480.0,339.1 481.5,336.9 483.0,334.6 484.5,332.5 486.0,330.3 487.5,328.3 489.0,326.5 490.5,324.6 492.0,322.8 493.5,320.6 495.0,318.5 496.5,316.4 498.0,314.2 499.5,312.5 501.0,310.9 502.5,309.2 504.0,307.5 505.5,306.1 507.0,305.0 508.5,303.8 510.0,302.7 511.5,301.8 513.0,300.8 514.5,299.9 516.0,298.3 517.5,296.7 519.0,295.0 520.5,293.3 522.0,291.4 523.5,288.9 525.0,286.3 526.5,283.3 528.0,280.3 529.5,275.7 531.0,271.1 532.5,266.5 534.0,261.9 535.5,257.3 537.0,255.7 538.5,255.6 540.0,255.4 541.5,252.3 543.0,249.5 544.5,246.8 546.0,244.1 547.5,241.3 549.0,238.5 550.5,235.3 552.0,231.5 553.5,227.7 555.0,224.0 556.5,220.3 558.0,216.7 559.5,213.0 561.0,209.9 562.5,207.2 564.0,204.4 565.5,201.7 567.0,198.8 568.5,195.9 570.0,193.0 571.5,190.1 573.0,187.5 574.5,185.0 576.0,182.5 577.5,180.2 579.0,177.9 580.5,175.4 582.0,172.6 583.5,169.8 585.0,167.2 586.5,164.6 588.0,162.0 589.5,160.3 591.0,158.6 592.5,157.0 594.0,155.4 595.5,155.0 597.0,154.8 598.5,155.0 600.0,167.8 601.5,200.7 603.0,203.9 604.5,168.1 606.0,152.4 607.5,148.0 609.0,144.0 610.5,140.4 612.0,140.0 613.5,139.7 615.0,139.4 616.5,139.3 618.0,139.2 619.5,138.9 621.0,138.5 622.5,138.2 624.0,137.8 625.5,137.4 627.0,137.1 628.5,136.7 630.0,136.4 631.5,136.2 633.0,136.2 634.5,136.3 636.0,136.3 637.5,136.4 639.0,136.5 640.5,136.5 642.0,136.6 643.5,136.6 645.0,136.5 646.5,136.5 648.0,136.5 649.5,136.4 651.0,136.4 652.5,136.6 654.0,137.0 655.5,137.4 657.0,137.8 658.5,138.2 660.0,138.7 661.5,139.2 663.0,139.8 664.5,140.4 666.0,140.9 667.5,141.3 669.0,141.8 670.5,142.4 672.0,141.7 673.5,141.0 675.0,140.5 676.5,140.2 678.0,139.9 679.5,139.8 681.0,139.7 682.5,139.6 684.0,139.4 685.5,139.7 687.0,140.3 688.5,140.6 690.0,141.0 691.5,141.3 693.0,141.6 694.5,141.9 696.0,142.3 697.5,142.8 699.0,143.6 700.5,144.4 702.0,145.9 703.5,147.6 705.0,148.8 706.5,149.9 708.0,151.0 709.5,152.3 711.0,153.9 712.5,155.5 714.0,157.6 715.5,159.3 717.0,160.0 718.5,159.4 720.0,159.2 721.5,159.0 723.0,159.0 724.5,159.2 726.0,158.8 727.5,158.2 729.0,157.7 730.5,157.4 732.0,158.2 733.5,159.4 735.0,160.6 736.5,161.8 738.0,162.8 739.5,163.7 741.0,164.5 742.5,165.5 744.0,166.7 745.5,167.9 747.0,169.1 748.5,170.5 750.0,171.8 751.5,173.0 753.0,174.1 754.5,175.2 756.0,176.5 757.5,177.9 759.0,179.2 760.5,180.5 762.0,181.8 763.5,183.1 765.0,184.7 766.5,185.3 768.0,185.2 769.5,187.9 771.0,192.8 772.5,204.0 774.0,203.9 775.5,205.0 777.0,206.5 778.5,207.4 780.0,206.2 781.5,207.6 783.0,209.0 784.5,210.4 786.0,212.9 787.5,214.8 789.0,216.1 790.5,217.5 792.0,218.4 793.5,219.2 795.0,220.0 796.5,220.8 798.0,221.7 799.5,221.9 801.0,222.7 802.5,223.6 804.0,224.5 805.5,222.6 807.0,223.5 808.5,225.3 810.0,228.1 811.5,229.3 813.0,230.4 814.5,231.5 816.0,233.2 817.5,234.2 819.0,235.2 820.5,236.3 822.0,237.3 823.5,238.3 825.0,239.3 826.5,240.4 828.0,241.4 829.5,242.4 831.0,243.5 832.5,245.5 834.0,246.5 835.5,247.3 837.0,248.2 838.5,249.1 840.0,249.3 841.5,249.5 843.0,250.6 844.5,251.7 846.0,252.8 847.5,253.8 849.0,255.9 850.5,256.9 852.0,257.8 853.5,258.8 855.0,260.4 856.5,261.3 858.0,262.2 859.5,264.1 861.0,266.1 862.5,267.9 864.0,269.5 865.5,271.6 867.0,273.6 868.5,275.7 870.0,278.1 871.5,280.1 873.0,282.0 874.5,284.0 876.0,286.2 877.5,287.6 879.0,289.4 880.5,291.8 882.0,294.2 883.5,296.9 885.0,299.9 886.5,302.2 888.0,304.5 889.5,306.8 891.0,308.8 892.5,311.0 894.0,313.3 895.5,316.0 897.0,319.6 898.5,323.5 900.0,327.0 901.5,330.5 903.0,334.0 904.5,338.1 906.0,342.6 907.5,345.8 909.0,348.0 910.5,350.1 912.0,352.3 913.5,354.5 915.0,356.9 916.5,359.0 918.0,361.1 919.5,363.2 921.0,364.1 922.5,364.4 924.0,364.9 925.5,365.1 927.0,365.3 928.5,365.5 930.0,365.7 931.5,365.9 933.0,366.1 934.5,366.3 936.0,366.5 937.5,366.8 939.0,367.0 940.5,367.2 942.0,367.4 943.5,367.6 945.0,367.8 946.5,368.0 948.0,368.2 949.5,368.4" stroke="#cdcdcd" stroke-width="1"/>
<polyline points="447.0,361.9 448.5,361.4 450.0,360.8 451.5,360.3 453.0,359.7 454.5,359.2 456.0,358.7 457.5,358.1 459.0,357.6 460.5,356.8 462.0,355.9 463.5,355.0 465.0,354.1 466.5,353.0 468.0,351.9 469.5,350.8 471.0,349.6 472.5,348.4 474.0,347.0 475.5,345.7 477.0,344.1 478.5,341.8 480.0,339.6 481.5,337.3 483.0,335.0 484.5,332.8 486.0,330.7 487.5,328.7 489.0,326.8 490.5,324.8 492.0,322.9 493.5,320.8 495.0,318.6 496.5,316.4 498.0,314.3 499.5,312.6 501.0,310.9 502.5,309.2 504.0,307.6 505.5,306.2 507.0,305.1 508.5,304.0 510.0,302.9 511.5,302.0 513.0,301.1 514.5,300.2 516.0,298.7 517.5,297.0 519.0,295.3 520.5,293.7 522.0,291.8 523.5,289.2 525.0,286.6 526.5,283.5 528.0,280.4 529.5,275.7 531.0,271.1 532.5,266.5 534.0,261.8 535.5,257.2 537.0,255.5 538.5,255.1 540.0,254.8 541.5,251.5 543.0,248.8 544.5,246.0 546.0,243.3 547.5,240.5 549.0,237.6 550.5,234.4 552.0,230.6 553.5,226.9 555.0,223.2 556.5,219.5 558.0,215.8 559.5,212.2 561.0,209.1 562.5,206.3 564.0,203.5 565.5,200.7 567.0,197.7 568.5,194.7 570.0,191.7 571.5,188.8 573.0,186.1 574.5,183.6 576.0,181.0 577.5,178.6 579.0,176.3 580.5,173.8 582.0,171.0 583.5,168.4 585.0,165.9 586.5,163.4 588.0,160.9 589.5,159.2 591.0,157.6 592.5,156.1 594.0,154.6 595.5,154.3 597.0,154.2 598.5,154.6 600.0,167.3 601.5,200.7 603.0,203.8 604.5,167.6 606.0,152.0 607.5,147.6 609.0,143.6 610.5,140.2 612.0,139.7 613.5,139.3 615.0,139.0 616.5,138.9 618.0,138.7 619.5,138.4 621.0,137.9 622.5,137.5 624.0,137.0 625.5,136.6 627.0,136.2 628.5,135.8 630.0,135.4 631.5,135.1 633.0,135.1 634.5,135.2 636.0,135.2 637.5,135.2 639.0,135.3 640.5,135.3 642.0,135.4 643.5,135.3 645.0,135.2 646.5,135.1 648.0,135.0 649.5,134.9 651.0,134.8 652.5,135.0 654.0,135.3 655.5,135.7 657.0,136.0 658.5,136.4 660.0,136.8 661.5,137.4 663.0,138.0 664.5,138.6 666.0,139.0 667.5,139.4 669.0,140.0 670.5,140.8 672.0,140.1 673.5,139.3 675.0,138.7 676.5,138.5 678.0,138.3 679.5,138.2 681.0,138.2 682.5,138.2 684.0,138.1 685.5,138.5 687.0,139.1 688.5,139.3 690.0,139.6 691.5,139.9 693.0,140.2 694.5,140.4 696.0,140.7 697.5,141.2 699.0,142.1 700.5,142.9 702.0,144.5 703.5,146.1 705.0,147.2 706.5,148.1 708.0,149.1 709.5,150.3 711.0,151.9 712.5,153.4 714.0,155.6 715.5,157.3 717.0,157.9 718.5,157.2 720.0,157.0 721.5,156.8 723.0,156.8 724.5,157.1 726.0,156.7 727.5,156.0 729.0,155.4 730.5,155.1 732.0,156.0 733.5,157.2 735.0,158.4 736.5,159.4 738.0,160.5 739.5,161.3 741.0,162.0 742.5,162.9 744.0,164.1 745.5,165.3 747.0,166.6 748.5,167.9 750.0,169.3 751.5,170.6 753.0,171.6 754.5,172.7 756.0,174.1 757.5,175.6 759.0,177.0 760.5,178.4 762.0,179.8 763.5,181.1 765.0,182.9 766.5,183.4 768.0,183.2 769.5,185.7 771.0,188.9 772.5,202.5 774.0,201.6 775.5,202.7 777.0,204.4 778.5,205.2 780.0,203.8 781.5,205.0 783.0,206.5 784.5,208.0 786.0,210.6 787.5,213.0 789.0,214.4 790.5,216.0 792.0,216.8 793.5,217.6 795.0,218.4 796.5,219.2 798.0,220.0 799.5,220.2 801.0,220.9 802.5,221.8 804.0,222.7 805.5,220.9 807.0,221.0 808.5,222.8 810.0,226.0 811.5,227.5 813.0,228.6 814.5,229.8 816.0,231.5 817.5,232.8 819.0,233.8 820.5,234.9 822.0,236.0 823.5,237.0 825.0,238.1 826.5,239.1 828.0,240.2 829.5,241.3 831.0,242.3 832.5,244.3 834.0,245.6 835.5,246.5 837.0,247.3 838.5,248.2 840.0,248.5 841.5,248.3 843.0,249.4 844.5,250.5 846.0,251.7 847.5,252.8 849.0,254.9 850.5,256.2 852.0,257.1 853.5,258.1 855.0,259.7 856.5,260.6 858.0,261.0 859.5,263.0 861.0,265.0 862.5,266.8 864.0,268.4 865.5,270.5 867.0,272.6 868.5,274.7 870.0,277.3 871.5,279.3 873.0,281.3 874.5,283.3 876.0,285.6 877.5,287.0 879.0,288.5 880.5,291.0 882.0,293.5 883.5,296.2 885.0,299.4 886.5,301.9 888.0,304.2 889.5,306.6 891.0,308.7 892.5,310.8 894.0,313.2 895.5,315.9 897.0,319.5 898.5,323.4 900.0,327.0 901.5,330.5 903.0,334.0 904.5,338.1 906.0,343.1 907.5,346.1 909.0,348.3 910.5,350.4 912.0,352.5 913.5,354.7 915.0,357.1 916.5,359.2 918.0,361.2 919.5,363.2 921.0,364.1 922.5,364.4 924.0,364.9 925.5,365.1 927.0,365.3 928.5,365.5 930.0,365.8 931.5,366.0 933.0,366.2 934.5,366.4 936.0,366.6 937.5,366.8 939.0,367.0 940.5,367.2 942.0,367.4 943.5,367.6 945.0,367.8 946.5,368.1 948.0,368.2 949.5,368.4" stroke="#cacaca" stroke-width="1"/>
<polyline points="447.0,362.2 448.5,361.7 450.0,361.1 451.5,360.6 453.0,360.1 454.5,359.6 456.0,359.0 457.5,358.5 459.0,358.0 460.5,357.3 462.0,356.4 463.5,355.5 465.0,354.6 466.5,353.5 468.0,352.4 469.5,351.3 471.0,350.1 472.5,348.9 474.0,347.6 475.5,346.1 477.0,344.5 478.5,342.3 480.0,340.0 481.5,337.8 483.0,335.5 484.5,333.2 486.0,331.0 487.5,329.0 489.0,327.0 490.5,325.1 492.0,323.1 493.5,320.9 495.0,318.7 496.5,316.5 498.0,314.3 499.5,312.7 501.0,311.0 502.5,309.3 504.0,307.7 505.5,306.3 507.0,305.2 508.5,304.2 510.0,303.1 511.5,302.2 513.0,301.4 514.5,300.6 516.0,299.1 517.5,297.4 519.0,295.7 520.5,294.1 522.0,292.1 523.5,289.5 525.0,286.9 526.5,283.7 528.0,280.5 529.5,275.7 531.0,271.1 532.5,266.5 534.0,261.8 535.5,257.2 537.0,255.3 538.5,254.7 540.0,254.1 541.5,250.8 543.0,248.0 544.5,245.2 546.0,242.5 547.5,239.7 549.0,236.8 550.5,233.6 552.0,229.8 553.5,226.0 555.0,222.3 556.5,218.6 558.0,215.0 559.5,211.3 561.0,208.2 562.5,205.4 564.0,202.5 565.5,199.7 567.0,196.7 568.5,193.6 570.0,190.5 571.5,187.4 573.0,184.7 574.5,182.1 576.0,179.5 577.5,177.1 579.0,174.7 580.5,172.2 582.0,169.5 583.5,166.9 585.0,164.5 586.5,162.1 588.0,159.7 589.5,158.1 591.0,156.6 592.5,155.2 594.0,153.8 595.5,153.6 597.0,153.6 598.5,154.1 600.0,166.8 601.5,200.6 603.0,203.8 604.5,167.1 606.0,151.6 607.5,147.2 609.0,143.3 610.5,139.9 612.0,139.4 613.5,138.9 615.0,138.6 616.5,138.4 618.0,138.3 619.5,137.9 621.0,137.3 622.5,136.8 624.0,136.3 625.5,135.8 627.0,135.3 628.5,134.8 630.0,134.4 631.5,134.0 633.0,134.0 634.5,134.0 636.0,134.0 637.5,134.1 639.0,134.1 640.5,134.1 642.0,134.1 643.5,134.0 645.0,133.9 646.5,133.7 648.0,133.6 649.5,133.4 651.0,133.3 652.5,133.4 654.0,133.7 655.5,134.0 657.0,134.2 658.5,134.5 660.0,134.9 661.5,135.5 663.0,136.1 664.5,136.7 666.0,137.1 667.5,137.5 669.0,138.1 670.5,139.2 672.0,138.5 673.5,137.6 675.0,137.0 676.5,136.8 678.0,136.7 679.5,136.7 681.0,136.8 682.5,136.9 684.0,136.8 685.5,137.2 687.0,137.8 688.5,138.0 690.0,138.3 691.5,138.5 693.0,138.7 694.5,138.9 696.0,139.1 697.5,139.6 699.0,140.5 700.5,141.4 702.0,143.0 703.5,144.6 705.0,145.6 706.5,146.4 708.0,147.2 709.5,148.4 711.0,149.8 712.5,151.3 714.0,153.7 715.5,155.4 717.0,155.8 718.5,155.0 720.0,154.7 721.5,154.6 723.0,154.6 724.5,155.0 726.0,154.6 727.5,153.8 729.0,153.1 730.5,152.8 732.0,153.7 733.5,154.9 735.0,156.1 736.5,157.1 738.0,158.2 739.5,158.8 741.0,159.5 742.5,160.4 744.0,161.6 745.5,162.8 747.0,164.0 748.5,165.4 750.0,166.8 751.5,168.1 753.0,169.2 754.5,170.3 756.0,171.7 757.5,173.3 759.0,174.9 760.5,176.3 762.0,177.8 763.5,179.1 765.0,181.1 766.5,181.5 768.0,181.2 769.5,183.5 771.0,184.9 772.5,201.0 774.0,199.3 775.5,200.3 777.0,202.2 778.5,203.0 780.0,201.6 781.5,202.4 783.0,204.0 784.5,205.6 786.0,208.2 787.5,211.2 789.0,212.6 790.5,214.4 792.0,215.2 793.5,216.0 795.0,216.8 796.5,217.6 798.0,218.3 799.5,218.6 801.0,219.0 802.5,220.0 804.0,220.9 805.5,219.2 807.0,218.4 808.5,220.4 810.0,223.7 811.5,225.7 813.0,226.9 814.5,228.2 816.0,229.9 817.5,231.3 819.0,232.4 820.5,233.5 822.0,234.6 823.5,235.7 825.0,236.8 826.5,237.9 828.0,239.0 829.5,240.1 831.0,241.2 832.5,243.2 834.0,244.7 835.5,245.6 837.0,246.5 838.5,247.3 840.0,247.6 841.5,247.3 843.0,248.2 844.5,249.4 846.0,250.6 847.5,251.8 849.0,253.9 850.5,255.5 852.0,256.4 853.5,257.4 855.0,258.9 856.5,259.9 858.0,260.1 859.5,261.8 861.0,263.9 862.5,265.8 864.0,267.4 865.5,269.4 867.0,271.6 868.5,273.8 870.0,276.3 871.5,278.6 873.0,280.6 874.5,282.7 876.0,284.9 877.5,286.4 879.0,287.6 880.5,290.2 882.0,292.7 883.5,295.5 885.0,298.8 886.5,301.6 888.0,303.9 889.5,306.3 891.0,308.5 892.5,310.6 894.0,313.0 895.5,315.8 897.0,319.4 898.5,323.3 900.0,327.1 901.5,330.6 903.0,334.1 904.5,338.1 906.0,343.4 907.5,346.5 909.0,348.6 910.5,350.7 912.0,352.7 913.5,354.9 915.0,357.3 916.5,359.3 918.0,361.3 919.5,363.3 921.0,364.1 922.5,364.4 924.0,364.9 925.5,365.2 927.0,365.4 928.5,365.6 930.0,365.8 931.5,366.0 933.0,366.2 934.5,366.4 936.0,366.6 937.5,366.8 939.0,367.0 940.5,367.2 942.0,367.4 943.5,367.6 945.0,367.8 946.5,368.1 948.0,368.3 949.5,368.4" stroke="#c8c8c8" stroke-width="1"/>
<polyline points="447.0,362.4 448.5,361.9 450.0,361.4 451.5,360.9 453.0,360.4 454.5,359.9 456.0,359.4 457.5,358.9 459.0,358.4 460.5,357.7 462.0,356.9 463.5,356.1 465.0,355.2 466.5,354.1 468.0,353.0 469.5,351.8 471.0,350.6 472.5,349.4 474.0,348.1 475.5,346.6 477.0,345.0 478.5,342.7 480.0,340.5 481.5,338.2 483.0,335.9 484.5,333.6 486.0,331.4 487.5,329.3 489.0,327.3 490.5,325.3 492.0,323.3 493.5,321.1 495.0,318.9 496.5,316.6 498.0,314.4 499.5,312.7 501.0,311.1 502.5,309.4 504.0,307.7 505.5,306.4 507.0,305.4 508.5,304.3 510.0,303.3 511.5,302.5 513.0,301.7 514.5,301.0 516.0,299.5 517.5,297.8 519.0,296.1 520.5,294.4 522.0,292.5 523.5,289.9 525.0,287.2 526.5,283.9 528.0,280.6 529.5,275.8 531.0,271.1 532.5,266.5 534.0,261.8 535.5,257.1 537.0,255.1 538.5,254.3 540.0,253.5 541.5,250.0 543.0,247.3 544.5,244.5 546.0,241.7 547.5,238.9 549.0,236.0 550.5,232.7 552.0,228.9 553.5,225.1 555.0,221.4 556.5,217.8 558.0,214.2 559.5,210.5 561.0,207.4 562.5,204.5 564.0,201.6 565.5,198.7 567.0,195.6 568.5,192.4 570.0,189.2 571.5,186.1 573.0,183.3 574.5,180.6 576.0,177.9 577.5,175.5 579.0,173.1 580.5,170.6 582.0,168.0 583.5,165.4 585.0,163.1 586.5,160.8 588.0,158.5 589.5,157.0 591.0,155.6 592.5,154.3 594.0,153.0 595.5,152.9 597.0,153.0 598.5,153.7 600.0,166.2 601.5,200.5 603.0,203.7 604.5,166.5 606.0,151.2 607.5,146.8 609.0,143.0 610.5,139.7 612.0,139.1 613.5,138.5 615.0,138.1 616.5,138.0 618.0,137.8 619.5,137.3 621.0,136.8 622.5,136.2 624.0,135.6 625.5,135.0 627.0,134.4 628.5,133.9 630.0,133.4 631.5,133.0 633.0,132.9 634.5,132.9 636.0,132.9 637.5,132.9 639.0,132.9 640.5,132.9 642.0,132.9 643.5,132.7 645.0,132.6 646.5,132.4 648.0,132.2 649.5,131.9 651.0,131.7 652.5,131.7 654.0,132.0 655.5,132.2 657.0,132.5 658.5,132.7 660.0,133.1 661.5,133.7 663.0,134.3 664.5,134.8 666.0,135.2 667.5,135.6 669.0,136.2 670.5,137.6 672.0,136.8 673.5,135.9 675.0,135.3 676.5,135.2 678.0,135.1 679.5,135.1 681.0,135.3 682.5,135.5 684.0,135.5 685.5,136.0 687.0,136.6 688.5,136.7 690.0,136.9 691.5,137.1 693.0,137.2 694.5,137.3 696.0,137.5 697.5,138.1 699.0,139.0 700.5,140.0 702.0,141.5 703.5,143.2 705.0,143.9 706.5,144.6 708.0,145.3 709.5,146.4 711.0,147.8 712.5,149.3 714.0,151.7 715.5,153.4 717.0,153.7 718.5,152.8 720.0,152.5 721.5,152.4 723.0,152.4 724.5,153.0 726.0,152.5 727.5,151.7 729.0,150.9 730.5,150.5 732.0,151.4 733.5,152.6 735.0,153.8 736.5,154.8 738.0,155.8 739.5,156.4 741.0,157.0 742.5,157.8 744.0,159.0 745.5,160.2 747.0,161.4 748.5,162.9 750.0,164.3 751.5,165.6 753.0,166.7 754.5,167.8 756.0,169.4 757.5,171.1 759.0,172.7 760.5,174.2 762.0,175.8 763.5,177.2 765.0,179.2 766.5,179.6 768.0,179.3 769.5,181.3 771.0,180.9 772.5,199.5 774.0,196.9 775.5,198.0 777.0,199.9 778.5,200.8 780.0,199.5 781.5,199.8 783.0,201.5 784.5,203.2 786.0,205.9 787.5,209.5 789.0,210.9 790.5,212.9 792.0,213.7 793.5,214.4 795.0,215.2 796.5,215.9 798.0,216.7 799.5,216.9 801.0,217.2 802.5,218.1 804.0,219.0 805.5,217.4 807.0,215.9 808.5,218.0 810.0,221.3 811.5,223.9 813.0,225.2 814.5,226.5 816.0,228.3 817.5,229.9 819.0,231.0 820.5,232.1 822.0,233.3 823.5,234.4 825.0,235.5 826.5,236.6 828.0,237.8 829.5,238.9 831.0,240.0 832.5,242.0 834.0,243.9 835.5,244.7 837.0,245.6 838.5,246.5 840.0,246.8 841.5,246.5 843.0,247.1 844.5,248.3 846.0,249.5 847.5,250.7 849.0,252.8 850.5,254.8 852.0,255.7 853.5,256.7 855.0,258.2 856.5,259.2 858.0,259.4 859.5,260.7 861.0,262.8 862.5,264.7 864.0,266.4 865.5,268.3 867.0,270.5 868.5,272.8 870.0,275.4 871.5,277.8 873.0,279.9 874.5,282.0 876.0,284.3 877.5,285.8 879.0,287.0 880.5,289.3 882.0,292.0 883.5,294.9 885.0,298.2 886.5,301.3 888.0,303.7 889.5,306.1 891.0,308.3 892.5,310.4 894.0,312.9 895.5,315.7 897.0,319.3 898.5,323.2 900.0,327.1 901.5,330.6 903.0,334.1 904.5,338.1 906.0,343.3 907.5,346.8 909.0,348.9 910.5,350.9 912.0,352.9 913.5,355.0 915.0,357.4 916.5,359.4 918.0,361.3 919.5,363.3 921.0,364.1 922.5,364.4 924.0,364.9 925.5,365.3 927.0,365.5 928.5,365.7 930.0,365.9 931.5,366.1 933.0,366.3 934.5,366.4 936.0,366.6 937.5,366.8 939.0,367.0 940.5,367.2 942.0,367.4 943.5,367.6 945.0,367.8 946.5,368.1 948.0,368.3 949.5,368.4" stroke="#c6c6c6" stroke-width="1"/>
<polyline points="447.0,362.7 448.5,362.2 450.0,361.7 451.5,361.3 453.0,360.8 454.5,360.3 456.0,359.8 457.5,359.3 459.0,358.9 460.5,358.2 462.0,357.4 463.5,356.6 465.0,355.7 466.5,354.6 468.0,353.5 469.5,352.4 471.0,351.2 472.5,350.0 474.0,348.6 475.5,347.1 477.0,345.4 478.5,343.2 480.0,340.9 481.5,338.7 483.0,336.3 484.5,334.0 486.0,331.7 487.5,329.6 489.0,327.6 490.5,325.5 492.0,323.5 493.5,321.2 495.0,319.0 496.5,316.7 498.0,314.5 499.5,312.8 501.0,311.1 502.5,309.5 504.0,307.8 505.5,306.5 507.0,305.5 508.5,304.5 510.0,303.5 511.5,302.7 513.0,302.0 514.5,301.4 516.0,299.8 517.5,298.2 519.0,296.5 520.5,294.8 522.0,292.8 523.5,290.2 525.0,287.6 526.5,284.1 528.0,280.7 529.5,275.8 531.0,271.1 532.5,266.5 534.0,261.8 535.5,257.0 537.0,254.9 538.5,253.9 540.0,252.8 541.5,249.3 543.0,246.5 544.5,243.7 546.0,240.9 547.5,238.1 549.0,235.1 550.5,231.8 552.0,228.0 553.5,224.2 555.0,220.6 556.5,216.9 558.0,213.3 559.5,209.7 561.0,206.5 562.5,203.6 564.0,200.6 565.5,197.7 567.0,194.5 568.5,191.2 570.0,187.9 571.5,184.7 573.0,181.9 574.5,179.2 576.0,176.4 577.5,173.9 579.0,171.5 580.5,169.0 582.0,166.4 583.5,163.9 585.0,161.7 586.5,159.6 588.0,157.4 589.5,155.9 591.0,154.6 592.5,153.4 594.0,152.1 595.5,152.2 597.0,152.4 598.5,153.3 600.0,165.7 601.5,200.4 603.0,203.6 604.5,166.0 606.0,150.8 607.5,146.4 609.0,142.7 610.5,139.4 612.0,138.8 613.5,138.1 615.0,137.7 616.5,137.5 618.0,137.4 619.5,136.8 621.0,136.2 622.5,135.5 624.0,134.8 625.5,134.2 627.0,133.5 628.5,132.9 630.0,132.3 631.5,131.9 633.0,131.8 634.5,131.8 636.0,131.7 637.5,131.7 639.0,131.7 640.5,131.7 642.0,131.6 643.5,131.5 645.0,131.2 646.5,131.0 648.0,130.8 649.5,130.4 651.0,130.2 652.5,130.1 654.0,130.3 655.5,130.5 657.0,130.7 658.5,130.9 660.0,131.2 661.5,131.8 663.0,132.4 664.5,133.0 666.0,133.3 667.5,133.6 669.0,134.4 670.5,136.0 672.0,135.2 673.5,134.2 675.0,133.5 676.5,133.5 678.0,133.4 679.5,133.6 681.0,133.8 682.5,134.1 684.0,134.2 685.5,134.7 687.0,135.3 688.5,135.4 690.0,135.6 691.5,135.7 693.0,135.7 694.5,135.8 696.0,135.9 697.5,136.5 699.0,137.5 700.5,138.5 702.0,140.0 703.5,141.7 705.0,142.3 706.5,142.9 708.0,143.4 709.5,144.4 711.0,145.8 712.5,147.2 714.0,149.8 715.5,151.5 717.0,151.6 718.5,150.6 720.0,150.3 721.5,150.2 723.0,150.3 724.5,150.9 726.0,150.3 727.5,149.5 729.0,148.6 730.5,148.2 732.0,149.1 733.5,150.3 735.0,151.5 736.5,152.5 738.0,153.5 739.5,154.0 741.0,154.4 742.5,155.2 744.0,156.4 745.5,157.6 747.0,158.8 748.5,160.3 750.0,161.8 751.5,163.1 753.0,164.3 754.5,165.4 756.0,167.0 757.5,168.8 759.0,170.5 760.5,172.1 762.0,173.8 763.5,175.2 765.0,177.4 766.5,177.7 768.0,177.3 769.5,179.1 771.0,177.0 772.5,198.0 774.0,194.7 775.5,195.7 777.0,197.5 778.5,198.6 780.0,197.3 781.5,197.2 783.0,199.0 784.5,200.9 786.0,203.6 787.5,207.7 789.0,209.1 790.5,211.3 792.0,212.1 793.5,212.8 795.0,213.6 796.5,214.3 798.0,215.0 799.5,215.3 801.0,215.4 802.5,216.3 804.0,217.2 805.5,215.7 807.0,214.1 808.5,215.5 810.0,218.9 811.5,222.1 813.0,223.5 814.5,224.8 816.0,226.6 817.5,228.4 819.0,229.6 820.5,230.8 822.0,231.9 823.5,233.1 825.0,234.2 826.5,235.4 828.0,236.5 829.5,237.7 831.0,238.9 832.5,240.9 834.0,242.9 835.5,243.9 837.0,244.7 838.5,245.6 840.0,245.9 841.5,245.6 843.0,245.9 844.5,247.2 846.0,248.4 847.5,249.7 849.0,251.8 850.5,253.9 852.0,255.0 853.5,256.0 855.0,257.5 856.5,258.5 858.0,258.7 859.5,259.6 861.0,261.7 862.5,263.7 864.0,265.4 865.5,267.3 867.0,269.5 868.5,271.9 870.0,274.5 871.5,277.1 873.0,279.2 874.5,281.3 876.0,283.7 877.5,285.3 879.0,286.5 880.5,288.5 882.0,291.3 883.5,294.2 885.0,297.6 886.5,300.9 888.0,303.4 889.5,305.9 891.0,308.2 892.5,310.3 894.0,312.7 895.5,315.6 897.0,319.2 898.5,323.2 900.0,327.1 901.5,330.6 903.0,334.1 904.5,338.1 906.0,343.2 907.5,347.2 909.0,349.2 910.5,351.2 912.0,353.2 913.5,355.2 915.0,357.5 916.5,359.5 918.0,361.4 919.5,363.3 921.0,364.1 922.5,364.4 924.0,364.9 925.5,365.3 927.0,365.5 928.5,365.7 930.0,365.9 931.5,366.1 933.0,366.3 934.5,366.5 936.0,366.7 937.5,366.9 939.0,367.1 940.5,367.3 942.0,367.5 943.5,367.7 945.0,367.9 946.5,368.1 948.0,368.3 949.5,368.4" stroke="#c3c3c3" stroke-width="1"/>
<polyline points="447.0,363.0 448.5,362.5 450.0,362.0 451.5,361.6 453.0,361.1 454.5,360.7 456.0,360.2 457.5,359.7 459.0,359.3 460.5,358.6 462.0,357.9 463.5,357.1 465.0,356.3 466.5,355.2 468.0,354.0 469.5,352.9 471.0,351.7 472.5,350.5 474.0,349.1 475.5,347.6 477.0,345.9 478.5,343.6 480.0,341.4 481.5,339.1 483.0,336.7 484.5,334.4 486.0,332.1 487.5,329.9 489.0,327.8 490.5,325.8 492.0,323.7 493.5,321.4 495.0,319.1 496.5,316.8 498.0,314.5 499.5,312.9 501.0,311.2 502.5,309.6 504.0,307.9 505.5,306.6 507.0,305.6 508.5,304.7 510.0,303.7 511.5,302.9 513.0,302.3 514.5,301.7 516.0,300.2 517.5,298.5 519.0,296.9 520.5,295.2 522.0,293.2 523.5,290.6 525.0,287.9 526.5,284.3 528.0,280.7 529.5,275.9 531.0,271.1 532.5,266.4 534.0,261.7 535.5,257.0 537.0,254.7 538.5,253.4 540.0,252.2 541.5,248.5 543.0,245.7 544.5,242.9 546.0,240.1 547.5,237.3 549.0,234.3 550.5,231.0 552.0,227.2 553.5,223.4 555.0,219.7 556.5,216.1 558.0,212.5 559.5,208.9 561.0,205.7 562.5,202.7 564.0,199.7 565.5,196.7 567.0,193.5 568.5,190.1 570.0,186.7 571.5,183.4 573.0,180.5 574.5,177.7 576.0,174.9 577.5,172.4 579.0,169.9 580.5,167.4 582.0,164.9 583.5,162.4 585.0,160.4 586.5,158.3 588.0,156.2 589.5,154.8 591.0,153.6 592.5,152.4 594.0,151.3 595.5,151.5 597.0,151.8 598.5,152.9 600.0,165.2 601.5,200.3 603.0,203.6 604.5,165.5 606.0,150.4 607.5,145.9 609.0,142.4 610.5,139.2 612.0,138.4 613.5,137.7 615.0,137.3 616.5,137.1 618.0,136.9 619.5,136.3 621.0,135.6 622.5,134.9 624.0,134.1 625.5,133.4 627.0,132.7 628.5,132.0 630.0,131.3 631.5,130.8 633.0,130.7 634.5,130.7 636.0,130.6 637.5,130.5 639.0,130.5 640.5,130.4 642.0,130.4 643.5,130.2 645.0,129.9 646.5,129.6 648.0,129.3 649.5,128.9 651.0,128.6 652.5,128.5 654.0,128.6 655.5,128.8 657.0,128.9 658.5,129.1 660.0,129.4 661.5,129.9 663.0,130.5 664.5,131.1 666.0,131.4 667.5,131.7 669.0,132.5 670.5,134.4 672.0,133.5 673.5,132.5 675.0,131.8 676.5,131.8 678.0,131.8 679.5,132.0 681.0,132.4 682.5,132.8 684.0,132.9 685.5,133.4 687.0,134.1 688.5,134.1 690.0,134.2 691.5,134.2 693.0,134.3 694.5,134.3 696.0,134.3 697.5,134.9 699.0,135.9 700.5,137.0 702.0,138.6 703.5,140.2 705.0,140.7 706.5,141.1 708.0,141.5 709.5,142.4 711.0,143.8 712.5,145.2 714.0,147.8 715.5,149.5 717.0,149.5 718.5,148.3 720.0,148.1 721.5,148.0 723.0,148.1 724.5,148.9 726.0,148.2 727.5,147.3 729.0,146.3 730.5,145.9 732.0,146.8 733.5,148.0 735.0,149.2 736.5,150.2 738.0,151.2 739.5,151.5 741.0,151.9 742.5,152.6 744.0,153.8 745.5,155.1 747.0,156.3 748.5,157.8 750.0,159.3 751.5,160.7 753.0,161.8 754.5,163.0 756.0,164.6 757.5,166.5 759.0,168.3 760.5,170.0 762.0,171.7 763.5,173.2 765.0,175.6 766.5,175.8 768.0,175.3 769.5,176.9 771.0,173.0 772.5,196.5 774.0,193.1 775.5,193.4 777.0,195.2 778.5,196.4 780.0,195.2 781.5,194.6 783.0,196.5 784.5,198.5 786.0,201.3 787.5,205.9 789.0,207.3 790.5,209.5 792.0,210.5 793.5,211.2 795.0,212.0 796.5,212.7 798.0,213.4 799.5,213.6 801.0,213.8 802.5,214.4 804.0,215.4 805.5,214.0 807.0,212.5 808.5,213.1 810.0,216.5 811.5,220.0 813.0,221.7 814.5,223.2 816.0,225.0 817.5,226.8 819.0,228.2 820.5,229.4 822.0,230.6 823.5,231.8 825.0,232.9 826.5,234.1 828.0,235.3 829.5,236.5 831.0,237.7 832.5,239.7 834.0,241.7 835.5,243.0 837.0,243.8 838.5,244.7 840.0,245.1 841.5,244.8 843.0,244.7 844.5,246.0 846.0,247.3 847.5,248.6 849.0,250.8 850.5,252.9 852.0,254.3 853.5,255.3 855.0,256.8 856.5,257.8 858.0,258.0 859.5,258.4 861.0,260.6 862.5,262.6 864.0,264.4 865.5,266.2 867.0,268.5 868.5,270.9 870.0,273.6 871.5,276.3 873.0,278.5 874.5,280.7 876.0,283.0 877.5,284.7 879.0,286.0 880.5,287.7 882.0,290.5 883.5,293.5 885.0,297.0 886.5,300.4 888.0,303.1 889.5,305.7 891.0,308.0 892.5,310.2 894.0,312.6 895.5,315.5 897.0,319.1 898.5,323.1 900.0,327.0 901.5,330.6 903.0,334.1 904.5,338.1 906.0,343.2 907.5,347.5 909.0,349.5 910.5,351.4 912.0,353.4 913.5,355.4 915.0,357.6 916.5,359.7 918.0,361.5 919.5,363.3 921.0,364.1 922.5,364.4 924.0,364.9 925.5,365.4 927.0,365.6 928.5,365.8 930.0,366.0 931.5,366.1 933.0,366.3 934.5,366.5 936.0,366.7 937.5,366.9 939.0,367.1 940.5,367.3 942.0,367.5 943.5,367.7 945.0,367.9 946.5,368.1 948.0,368.3 949.5,368.4" stroke="#c1c1c1" stroke-width="1"/>
<polyline points="447.0,363.2 448.5,362.8 450.0,362.4 451.5,361.9 453.0,361.5 454.5,361.0 456.0,360.6 457.5,360.1 459.0,359.7 460.5,359.1 462.0,358.3 463.5,357.6 465.0,356.8 466.5,355.7 468.0,354.6 469.5,353.4 471.0,352.2 472.5,351.0 474.0,349.6 475.5,348.1 477.0,346.3 478.5,344.1 480.0,341.8 481.5,339.6 483.0,337.1 484.5,334.8 486.0,332.4 487.5,330.2 489.0,328.1 490.5,326.0 492.0,323.9 493.5,321.5 495.0,319.2 496.5,316.9 498.0,314.6 499.5,312.9 501.0,311.3 502.5,309.6 504.0,308.0 505.5,306.8 507.0,305.8 508.5,304.8 510.0,303.8 511.5,303.2 513.0,302.6 514.5,302.1 516.0,300.6 517.5,298.9 519.0,297.3 520.5,295.6 522.0,293.6 523.5,290.9 525.0,288.2 526.5,284.5 528.0,280.8 529.5,275.9 531.0,271.2 532.5,266.4 534.0,261.7 535.5,256.9 537.0,254.5 538.5,253.0 540.0,251.5 541.5,247.8 543.0,245.0 544.5,242.2 546.0,239.3 547.5,236.5 549.0,233.4 550.5,230.1 552.0,226.3 553.5,222.5 555.0,218.8 556.5,215.2 558.0,211.7 559.5,208.1 561.0,204.8 562.5,201.8 564.0,198.8 565.5,195.7 567.0,192.4 568.5,188.9 570.0,185.4 571.5,182.1 573.0,179.1 574.5,176.2 576.0,173.3 577.5,170.8 579.0,168.3 580.5,165.8 582.0,163.3 583.5,160.9 585.0,159.0 586.5,157.0 588.0,155.0 589.5,153.7 591.0,152.6 592.5,151.5 594.0,150.5 595.5,150.7 597.0,151.2 598.5,152.4 600.0,164.7 601.5,200.3 603.0,203.5 604.5,165.0 606.0,150.0 607.5,145.5 609.0,142.1 610.5,138.9 612.0,138.1 613.5,137.3 615.0,136.8 616.5,136.6 618.0,136.5 619.5,135.8 621.0,135.0 622.5,134.2 624.0,133.4 625.5,132.6 627.0,131.8 628.5,131.1 630.0,130.3 631.5,129.7 633.0,129.6 634.5,129.5 636.0,129.4 637.5,129.3 639.0,129.3 640.5,129.2 642.0,129.1 643.5,128.9 645.0,128.6 646.5,128.2 648.0,127.9 649.5,127.5 651.0,127.0 652.5,126.8 654.0,126.9 655.5,127.0 657.0,127.1 658.5,127.2 660.0,127.5 661.5,128.1 663.0,128.7 664.5,129.3 666.0,129.5 667.5,129.8 669.0,130.7 670.5,132.8 672.0,131.9 673.5,130.8 675.0,130.1 676.5,130.1 678.0,130.2 679.5,130.5 681.0,130.9 682.5,131.4 684.0,131.6 685.5,132.2 687.0,132.8 688.5,132.8 690.0,132.8 691.5,132.8 693.0,132.8 694.5,132.7 696.0,132.7 697.5,133.3 699.0,134.4 700.5,135.5 702.0,137.1 703.5,138.7 705.0,139.1 706.5,139.3 708.0,139.6 709.5,140.4 711.0,141.8 712.5,143.1 714.0,145.9 715.5,147.6 717.0,147.4 718.5,146.1 720.0,145.9 721.5,145.8 723.0,145.9 724.5,146.8 726.0,146.1 727.5,145.1 729.0,144.0 730.5,143.6 732.0,144.5 733.5,145.7 735.0,146.9 736.5,147.9 738.0,148.8 739.5,149.1 741.0,149.4 742.5,150.1 744.0,151.3 745.5,152.5 747.0,153.7 748.5,155.2 750.0,156.8 751.5,158.2 753.0,159.4 754.5,160.5 756.0,162.3 757.5,164.3 759.0,166.1 760.5,167.9 762.0,169.7 763.5,171.3 765.0,173.8 766.5,173.9 768.0,173.3 769.5,174.6 771.0,169.1 772.5,195.0 774.0,191.4 775.5,191.1 777.0,192.9 778.5,194.2 780.0,193.1 781.5,191.9 783.0,194.0 784.5,196.1 786.0,199.0 787.5,203.8 789.0,205.6 790.5,207.8 792.0,209.0 793.5,209.7 795.0,210.3 796.5,211.0 798.0,211.7 799.5,212.0 801.0,212.1 802.5,212.6 804.0,213.5 805.5,212.3 807.0,210.9 808.5,210.7 810.0,214.2 811.5,217.6 813.0,220.0 814.5,221.5 816.0,223.3 817.5,225.2 819.0,226.8 820.5,228.0 822.0,229.2 823.5,230.4 825.0,231.7 826.5,232.9 828.0,234.1 829.5,235.3 831.0,236.6 832.5,238.5 834.0,240.5 835.5,242.1 837.0,243.0 838.5,243.8 840.0,244.2 841.5,244.0 843.0,243.8 844.5,244.9 846.0,246.3 847.5,247.6 849.0,249.7 850.5,251.8 852.0,253.6 853.5,254.6 855.0,256.1 856.5,257.0 858.0,257.4 859.5,257.7 861.0,259.5 862.5,261.6 864.0,263.4 865.5,265.3 867.0,267.5 868.5,269.9 870.0,272.7 871.5,275.4 873.0,277.8 874.5,280.0 876.0,282.4 877.5,284.1 879.0,285.5 880.5,286.9 882.0,289.8 883.5,292.9 885.0,296.4 886.5,299.8 888.0,302.9 889.5,305.4 891.0,307.8 892.5,310.1 894.0,312.4 895.5,315.4 897.0,319.1 898.5,323.0 900.0,326.9 901.5,330.6 903.0,334.1 904.5,338.1 906.0,343.1 907.5,347.9 909.0,349.8 910.5,351.7 912.0,353.6 913.5,355.5 915.0,357.7 916.5,359.8 918.0,361.5 919.5,363.3 921.0,364.1 922.5,364.4 924.0,364.9 925.5,365.4 927.0,365.6 928.5,365.8 930.0,366.0 931.5,366.2 933.0,366.4 934.5,366.6 936.0,366.8 937.5,366.9 939.0,367.1 940.5,367.3 942.0,367.5 943.5,367.7 945.0,367.9 946.5,368.1 948.0,368.3 949.5,368.4" stroke="#bebebe" stroke-width="1"/>
<polyline points="447.0,363.5 448.5,363.1 450.0,362.7 451.5,362.2 453.0,361.8 454.5,361.4 456.0,361.0 457.5,360.5 459.0,360.1 460.5,359.5 462.0,358.8 463.5,358.1 465.0,357.4 466.5,356.2 468.0,355.1 469.5,354.0 471.0,352.8 472.5,351.6 474.0,350.1 475.5,348.5 477.0,346.8 478.5,344.5 480.0,342.3 481.5,340.0 483.0,337.6 484.5,335.2 486.0,332.8 487.5,330.6 489.0,328.4 490.5,326.2 492.0,324.1 493.5,321.7 495.0,319.3 496.5,317.0 498.0,314.6 499.5,313.0 501.0,311.4 502.5,309.7 504.0,308.1 505.5,306.9 507.0,305.9 508.5,305.0 510.0,304.0 511.5,303.4 513.0,302.9 514.5,302.5 516.0,300.9 517.5,299.3 519.0,297.6 520.5,296.0 522.0,293.9 523.5,291.3 525.0,288.5 526.5,284.7 528.0,280.9 529.5,275.9 531.0,271.2 532.5,266.4 534.0,261.7 535.5,256.9 537.0,254.3 538.5,252.6 540.0,250.9 541.5,247.0 543.0,244.2 544.5,241.4 546.0,238.6 547.5,235.7 549.0,232.6 550.5,229.2 552.0,225.4 553.5,221.6 555.0,218.0 556.5,214.4 558.0,210.8 559.5,207.2 561.0,204.0 562.5,200.9 564.0,197.8 565.5,194.7 567.0,191.3 568.5,187.7 570.0,184.2 571.5,180.7 573.0,177.7 574.5,174.8 576.0,171.8 577.5,169.3 579.0,166.7 580.5,164.2 582.0,161.8 583.5,159.5 585.0,157.6 586.5,155.7 588.0,153.9 589.5,152.6 591.0,151.6 592.5,150.6 594.0,149.7 595.5,150.0 597.0,150.6 598.5,152.0 600.0,164.2 601.5,200.2 603.0,203.4 604.5,164.4 606.0,149.6 607.5,145.1 609.0,141.7 610.5,138.7 612.0,137.8 613.5,136.9 615.0,136.4 616.5,136.2 618.0,136.0 619.5,135.3 621.0,134.4 622.5,133.5 624.0,132.6 625.5,131.8 627.0,130.9 628.5,130.1 630.0,129.3 631.5,128.6 633.0,128.5 634.5,128.4 636.0,128.3 637.5,128.2 639.0,128.1 640.5,128.0 642.0,127.9 643.5,127.6 645.0,127.2 646.5,126.9 648.0,126.5 649.5,126.0 651.0,125.5 652.5,125.2 654.0,125.2 655.5,125.3 657.0,125.3 658.5,125.4 660.0,125.6 661.5,126.2 663.0,126.8 664.5,127.4 666.0,127.6 667.5,127.9 669.0,128.8 670.5,131.2 672.0,130.3 673.5,129.1 675.0,128.3 676.5,128.4 678.0,128.6 679.5,128.9 681.0,129.5 682.5,130.0 684.0,130.3 685.5,130.9 687.0,131.6 688.5,131.5 690.0,131.5 691.5,131.4 693.0,131.3 694.5,131.2 696.0,131.1 697.5,131.7 699.0,132.9 700.5,134.0 702.0,135.6 703.5,137.2 705.0,137.5 706.5,137.6 708.0,137.7 709.5,138.4 711.0,139.7 712.5,141.1 714.0,144.0 715.5,145.6 717.0,145.3 718.5,143.9 720.0,143.6 721.5,143.6 723.0,143.8 724.5,144.7 726.0,144.0 727.5,142.9 729.0,141.8 730.5,141.3 732.0,142.3 733.5,143.5 735.0,144.6 736.5,145.6 738.0,146.5 739.5,146.7 741.0,146.9 742.5,147.5 744.0,148.7 745.5,149.9 747.0,151.1 748.5,152.7 750.0,154.3 751.5,155.7 753.0,156.9 754.5,158.1 756.0,159.9 757.5,162.0 759.0,164.0 760.5,165.8 762.0,167.7 763.5,169.3 765.0,171.8 766.5,171.9 768.0,171.4 769.5,172.4 771.0,165.3 772.5,193.5 774.0,189.8 775.5,188.8 777.0,190.6 778.5,192.0 780.0,190.9 781.5,189.3 783.0,191.5 784.5,193.7 786.0,196.7 787.5,201.4 789.0,203.8 790.5,206.0 792.0,207.4 793.5,208.1 795.0,208.7 796.5,209.4 798.0,210.1 799.5,210.3 801.0,210.5 802.5,210.8 804.0,211.7 805.5,210.6 807.0,209.3 808.5,208.3 810.0,211.8 811.5,215.3 813.0,218.3 814.5,219.8 816.0,221.7 817.5,223.6 819.0,225.4 820.5,226.6 822.0,227.9 823.5,229.1 825.0,230.4 826.5,231.6 828.0,232.9 829.5,234.1 831.0,235.4 832.5,237.4 834.0,239.4 835.5,241.3 837.0,242.1 838.5,242.9 840.0,243.3 841.5,243.2 843.0,243.1 844.5,243.8 846.0,245.2 847.5,246.6 849.0,248.7 850.5,250.8 852.0,252.9 853.5,253.9 855.0,255.3 856.5,256.3 858.0,256.7 859.5,257.0 861.0,258.4 862.5,260.5 864.0,262.4 865.5,264.4 867.0,266.5 868.5,269.0 870.0,271.7 871.5,274.5 873.0,277.1 874.5,279.4 876.0,281.8 877.5,283.6 879.0,285.0 880.5,286.5 882.0,289.1 883.5,292.2 885.0,295.7 886.5,299.3 888.0,302.6 889.5,305.2 891.0,307.7 892.5,310.0 894.0,312.4 895.5,315.3 897.0,319.0 898.5,322.9 900.0,326.9 901.5,330.7 903.0,334.2 904.5,338.1 906.0,343.0 907.5,347.9 909.0,350.1 910.5,351.9 912.0,353.8 913.5,355.7 915.0,357.8 916.5,359.9 918.0,361.6 919.5,363.3 921.0,364.1 922.5,364.4 924.0,364.9 925.5,365.5 927.0,365.7 928.5,365.9 930.0,366.1 931.5,366.2 933.0,366.4 934.5,366.6 936.0,366.8 937.5,367.0 939.0,367.2 940.5,367.3 942.0,367.5 943.5,367.7 945.0,367.9 946.5,368.1 948.0,368.3 949.5,368.5" stroke="#bcbcbc" stroke-width="1"/>
<polyline points="447.0,363.8 448.5,363.4 450.0,363.0 451.5,362.6 453.0,362.2 454.5,361.8 456.0,361.4 457.5,361.0 459.0,360.5 460.5,360.0 462.0,359.3 463.5,358.7 465.0,357.9 466.5,356.8 468.0,355.7 469.5,354.5 471.0,353.3 472.5,352.1 474.0,350.6 475.5,349.0 477.0,347.2 478.5,345.0 480.0,342.7 481.5,340.5 483.0,338.0 484.5,335.6 486.0,333.2 487.5,330.9 489.0,328.7 490.5,326.5 492.0,324.3 493.5,321.9 495.0,319.5 496.5,317.1 498.0,314.7 499.5,313.1 501.0,311.4 502.5,309.8 504.0,308.2 505.5,307.0 507.0,306.1 508.5,305.1 510.0,304.2 511.5,303.7 513.0,303.3 514.5,302.8 516.0,301.3 517.5,299.7 519.0,298.0 520.5,296.4 522.0,294.3 523.5,291.6 525.0,288.8 526.5,284.9 528.0,281.0 529.5,276.0 531.0,271.2 532.5,266.4 534.0,261.6 535.5,256.8 537.0,254.1 538.5,252.2 540.0,250.2 541.5,246.3 543.0,243.4 544.5,240.6 546.0,237.8 547.5,234.9 549.0,231.8 550.5,228.4 552.0,224.6 553.5,220.7 555.0,217.1 556.5,213.5 558.0,210.0 559.5,206.4 561.0,203.1 562.5,200.0 564.0,196.9 565.5,193.7 567.0,190.2 568.5,186.6 570.0,182.9 571.5,179.4 573.0,176.3 574.5,173.3 576.0,170.3 577.5,167.7 579.0,165.1 580.5,162.6 582.0,160.2 583.5,158.0 585.0,156.2 586.5,154.5 588.0,152.7 589.5,151.5 591.0,150.5 592.5,149.7 594.0,148.9 595.5,149.3 597.0,150.0 598.5,151.6 600.0,163.7 601.5,200.1 603.0,203.4 604.5,163.9 606.0,149.2 607.5,144.7 609.0,141.4 610.5,138.4 612.0,137.5 613.5,136.5 615.0,135.9 616.5,135.8 618.0,135.6 619.5,134.8 621.0,133.8 622.5,132.9 624.0,131.9 625.5,131.0 627.0,130.0 628.5,129.2 630.0,128.3 631.5,127.6 633.0,127.4 634.5,127.3 636.0,127.1 637.5,127.0 639.0,126.9 640.5,126.8 642.0,126.7 643.5,126.3 645.0,125.9 646.5,125.5 648.0,125.1 649.5,124.5 651.0,123.9 652.5,123.5 654.0,123.6 655.5,123.6 657.0,123.6 658.5,123.6 660.0,123.8 661.5,124.4 663.0,125.0 664.5,125.5 666.0,125.7 667.5,125.9 669.0,126.9 670.5,129.6 672.0,128.6 673.5,127.4 675.0,126.6 676.5,126.8 678.0,126.9 679.5,127.4 681.0,128.0 682.5,128.7 684.0,129.0 685.5,129.7 687.0,130.3 688.5,130.2 690.0,130.1 691.5,130.0 693.0,129.8 694.5,129.7 696.0,129.5 697.5,130.1 699.0,131.3 700.5,132.6 702.0,134.1 703.5,135.7 705.0,135.9 706.5,135.8 708.0,135.7 709.5,136.4 711.0,137.7 712.5,139.0 714.0,142.0 715.5,143.7 717.0,143.2 718.5,141.7 720.0,141.4 721.5,141.4 723.0,141.6 724.5,142.7 726.0,141.9 727.5,140.7 729.0,139.5 730.5,139.0 732.0,140.0 733.5,141.2 735.0,142.4 736.5,143.3 738.0,144.2 739.5,144.3 741.0,144.4 742.5,144.9 744.0,146.1 745.5,147.3 747.0,148.6 748.5,150.2 750.0,151.8 751.5,153.2 753.0,154.4 754.5,155.6 756.0,157.5 757.5,159.7 759.0,161.8 760.5,163.7 762.0,165.7 763.5,167.3 765.0,169.9 766.5,170.0 768.0,169.4 769.5,170.2 771.0,163.6 772.5,192.0 774.0,188.2 775.5,186.5 777.0,188.2 778.5,189.8 780.0,188.8 781.5,186.7 783.0,189.0 784.5,191.3 786.0,194.4 787.5,199.1 789.0,202.0 790.5,204.2 792.0,205.8 793.5,206.5 795.0,207.1 796.5,207.8 798.0,208.4 799.5,208.7 801.0,208.8 802.5,209.0 804.0,209.9 805.5,208.9 807.0,207.7 808.5,206.8 810.0,209.4 811.5,213.0 813.0,216.6 814.5,218.1 816.0,220.1 817.5,222.0 819.0,223.9 820.5,225.3 822.0,226.5 823.5,227.8 825.0,229.1 826.5,230.4 828.0,231.7 829.5,232.9 831.0,234.2 832.5,236.2 834.0,238.2 835.5,240.2 837.0,241.2 838.5,242.1 840.0,242.5 841.5,242.4 843.0,242.3 844.5,242.6 846.0,244.1 847.5,245.5 849.0,247.7 850.5,249.8 852.0,251.9 853.5,253.2 855.0,254.6 856.5,255.6 858.0,256.0 859.5,256.4 861.0,257.3 862.5,259.5 864.0,261.5 865.5,263.4 867.0,265.5 868.5,268.0 870.0,270.8 871.5,273.6 873.0,276.4 874.5,278.7 876.0,281.1 877.5,283.0 879.0,284.5 880.5,286.1 882.0,288.3 883.5,291.5 885.0,295.1 886.5,298.7 888.0,302.3 889.5,305.0 891.0,307.5 892.5,309.9 894.0,312.3 895.5,315.2 897.0,318.9 898.5,322.8 900.0,326.8 901.5,330.7 903.0,334.2 904.5,338.1 906.0,342.9 907.5,347.8 909.0,350.4 910.5,352.2 912.0,354.0 913.5,355.8 915.0,357.9 916.5,360.0 918.0,361.7 919.5,363.3 921.0,364.1 922.5,364.4 924.0,364.9 925.5,365.5 927.0,365.7 928.5,365.9 930.0,366.1 931.5,366.3 933.0,366.5 934.5,366.6 936.0,366.8 937.5,367.0 939.0,367.2 940.5,367.4 942.0,367.5 943.5,367.7 945.0,367.9 946.5,368.1 948.0,368.3 949.5,368.5" stroke="#bababa" stroke-width="1"/>
<polyline points="447.0,364.0 448.5,363.7 450.0,363.3 451.5,362.9 453.0,362.5 454.5,362.1 456.0,361.7 457.5,361.4 459.0,361.0 460.5,360.4 462.0,359.8 463.5,359.2 465.0,358.5 466.5,357.3 468.0,356.2 469.5,355.1 471.0,353.8 472.5,352.6 474.0,351.1 475.5,349.5 477.0,347.7 478.5,345.4 480.0,343.2 481.5,340.9 483.0,338.4 484.5,336.0 486.0,333.5 487.5,331.2 489.0,328.9 490.5,326.7 492.0,324.4 493.5,322.0 495.0,319.6 496.5,317.2 498.0,314.7 499.5,313.1 501.0,311.5 502.5,309.9 504.0,308.3 505.5,307.1 507.0,306.2 508.5,305.3 510.0,304.4 511.5,303.9 513.0,303.6 514.5,303.2 516.0,301.7 517.5,300.0 519.0,298.4 520.5,296.8 522.0,294.6 523.5,291.9 525.0,289.2 526.5,285.1 528.0,281.1 529.5,276.0 531.0,271.2 532.5,266.4 534.0,261.6 535.5,256.7 537.0,253.9 538.5,251.8 540.0,249.6 541.5,245.5 543.0,242.7 544.5,239.8 546.0,237.0 547.5,234.1 549.0,230.9 550.5,227.5 552.0,223.7 553.5,219.9 555.0,216.2 556.5,212.7 558.0,209.1 559.5,205.6 561.0,202.3 562.5,199.1 564.0,195.9 565.5,192.7 567.0,189.2 568.5,185.4 570.0,181.7 571.5,178.0 573.0,174.9 574.5,171.8 576.0,168.7 577.5,166.1 579.0,163.6 580.5,161.0 582.0,158.7 583.5,156.5 585.0,154.9 586.5,153.2 588.0,151.5 589.5,150.4 591.0,149.5 592.5,148.8 594.0,148.1 595.5,148.6 597.0,149.3 598.5,151.1 600.0,163.1 601.5,200.0 603.0,203.3 604.5,163.4 606.0,148.8 607.5,144.3 609.0,141.1 610.5,138.2 612.0,137.2 613.5,136.2 615.0,135.5 616.5,135.3 618.0,135.1 619.5,134.3 621.0,133.2 622.5,132.2 624.0,131.2 625.5,130.1 627.0,129.2 628.5,128.2 630.0,127.3 631.5,126.5 633.0,126.3 634.5,126.1 636.0,126.0 637.5,125.8 639.0,125.7 640.5,125.6 642.0,125.4 643.5,125.0 645.0,124.6 646.5,124.1 648.0,123.6 649.5,123.0 651.0,122.4 652.5,121.9 654.0,121.9 655.5,121.8 657.0,121.8 658.5,121.7 660.0,121.9 661.5,122.5 663.0,123.1 664.5,123.7 666.0,123.9 667.5,124.0 669.0,125.1 670.5,128.0 672.0,127.0 673.5,125.7 675.0,124.9 676.5,125.1 678.0,125.3 679.5,125.8 681.0,126.6 682.5,127.3 684.0,127.7 685.5,128.4 687.0,129.1 688.5,128.9 690.0,128.8 691.5,128.6 693.0,128.4 694.5,128.1 696.0,127.9 697.5,128.5 699.0,129.8 700.5,131.1 702.0,132.6 703.5,134.2 705.0,134.3 706.5,134.1 708.0,133.8 709.5,134.4 711.0,135.7 712.5,137.0 714.0,140.1 715.5,141.7 717.0,141.1 718.5,139.5 720.0,139.2 721.5,139.3 723.0,139.4 724.5,140.6 726.0,139.8 727.5,138.5 729.0,137.2 730.5,136.7 732.0,137.7 733.5,138.9 735.0,140.1 736.5,141.0 738.0,141.8 739.5,141.8 741.0,141.8 742.5,142.3 744.0,143.6 745.5,144.8 747.0,146.0 748.5,147.6 750.0,149.3 751.5,150.8 753.0,152.0 754.5,153.2 756.0,155.2 757.5,157.5 759.0,159.6 760.5,161.6 762.0,163.7 763.5,165.4 765.0,167.9 766.5,168.1 768.0,167.4 769.5,168.0 771.0,161.9 772.5,190.4 774.0,186.6 775.5,184.1 777.0,185.9 778.5,187.6 780.0,186.7 781.5,184.1 783.0,186.6 784.5,189.0 786.0,192.1 787.5,196.8 789.0,200.3 790.5,202.4 792.0,204.2 793.5,204.9 795.0,205.5 796.5,206.1 798.0,206.8 799.5,207.0 801.0,207.2 802.5,207.4 804.0,208.0 805.5,207.1 807.0,206.1 808.5,205.3 810.0,207.0 811.5,210.7 813.0,214.3 814.5,216.5 816.0,218.4 817.5,220.4 819.0,222.3 820.5,223.9 822.0,225.2 823.5,226.5 825.0,227.8 826.5,229.1 828.0,230.4 829.5,231.8 831.0,233.1 832.5,235.1 834.0,237.0 835.5,239.0 837.0,240.4 838.5,241.2 840.0,241.6 841.5,241.6 843.0,241.5 844.5,241.5 846.0,243.0 847.5,244.5 849.0,246.6 850.5,248.8 852.0,250.9 853.5,252.5 855.0,253.9 856.5,254.9 858.0,255.3 859.5,255.8 861.0,256.2 862.5,258.4 864.0,260.5 865.5,262.5 867.0,264.5 868.5,267.1 870.0,269.9 871.5,272.7 873.0,275.6 874.5,278.0 876.0,280.5 877.5,282.4 879.0,284.0 880.5,285.7 882.0,287.6 883.5,290.9 885.0,294.5 886.5,298.2 888.0,301.8 889.5,304.8 891.0,307.3 892.5,309.8 894.0,312.3 895.5,315.1 897.0,318.8 898.5,322.7 900.0,326.7 901.5,330.7 903.0,334.2 904.5,338.1 906.0,342.9 907.5,347.6 909.0,350.7 910.5,352.5 912.0,354.2 913.5,356.0 915.0,358.0 916.5,360.0 918.0,361.7 919.5,363.3 921.0,364.1 922.5,364.4 924.0,364.9 925.5,365.5 927.0,365.8 928.5,366.0 930.0,366.2 931.5,366.3 933.0,366.5 934.5,366.7 936.0,366.9 937.5,367.0 939.0,367.2 940.5,367.4 942.0,367.6 943.5,367.7 945.0,367.9 946.5,368.1 948.0,368.3 949.5,368.5" stroke="#b7b7b7" stroke-width="1"/>
<polyline points="447.0,364.3 448.5,363.9 450.0,363.6 451.5,363.2 453.0,362.9 454.5,362.5 456.0,362.1 457.5,361.8 459.0,361.4 460.5,360.9 462.0,360.3 463.5,359.7 465.0,359.0 466.5,357.9 468.0,356.7 469.5,355.6 471.0,354.4 472.5,353.2 474.0,351.7 475.5,350.0 477.0,348.1 478.5,345.9 480.0,343.6 481.5,341.4 483.0,338.8 484.5,336.4 486.0,333.9 487.5,331.5 489.0,329.2 490.5,326.9 492.0,324.6 493.5,322.2 495.0,319.7 496.5,317.3 498.0,314.8 499.5,313.2 501.0,311.6 502.5,310.0 504.0,308.3 505.5,307.2 507.0,306.3 508.5,305.5 510.0,304.6 511.5,304.1 513.0,303.9 514.5,303.6 516.0,302.0 517.5,300.4 519.0,298.8 520.5,297.2 522.0,295.0 523.5,292.3 525.0,289.5 526.5,285.3 528.0,281.1 529.5,276.0 531.0,271.2 532.5,266.4 534.0,261.6 535.5,256.7 537.0,253.7 538.5,251.3 540.0,248.9 541.5,244.8 543.0,241.9 544.5,239.1 546.0,236.2 547.5,233.3 549.0,230.1 550.5,226.6 552.0,222.8 553.5,219.0 555.0,215.4 556.5,211.8 558.0,208.3 559.5,204.8 561.0,201.5 562.5,198.2 564.0,195.0 565.5,191.7 567.0,188.1 568.5,184.3 570.0,180.4 571.5,176.7 573.0,173.5 574.5,170.4 576.0,167.2 577.5,164.6 579.0,162.0 580.5,159.4 582.0,157.1 583.5,155.0 585.0,153.5 586.5,151.9 588.0,150.4 589.5,149.3 591.0,148.5 592.5,147.9 594.0,147.2 595.5,147.9 597.0,148.7 598.5,150.7 600.0,162.6 601.5,200.0 603.0,203.2 604.5,162.9 606.0,148.4 607.5,143.9 609.0,140.8 610.5,137.9 612.0,136.9 613.5,135.8 615.0,135.1 616.5,134.9 618.0,134.7 619.5,133.7 621.0,132.6 622.5,131.6 624.0,130.4 625.5,129.3 627.0,128.3 628.5,127.3 630.0,126.3 631.5,125.4 633.0,125.2 634.5,125.0 636.0,124.8 637.5,124.6 639.0,124.5 640.5,124.3 642.0,124.2 643.5,123.8 645.0,123.3 646.5,122.7 648.0,122.2 649.5,121.5 651.0,120.8 652.5,120.3 654.0,120.2 655.5,120.1 657.0,120.0 658.5,119.9 660.0,120.1 661.5,120.6 663.0,121.2 664.5,121.8 666.0,122.0 667.5,122.1 669.0,123.2 670.5,126.4 672.0,125.3 673.5,124.0 675.0,123.1 676.5,123.4 678.0,123.7 679.5,124.3 681.0,125.1 682.5,125.9 684.0,126.4 685.5,127.2 687.0,127.8 688.5,127.6 690.0,127.4 691.5,127.2 693.0,126.9 694.5,126.6 696.0,126.3 697.5,126.9 699.0,128.2 700.5,129.6 702.0,131.2 703.5,132.8 705.0,132.7 706.5,132.3 708.0,131.9 709.5,132.4 711.0,133.7 712.5,134.9 714.0,138.1 715.5,139.8 717.0,139.0 718.5,137.3 720.0,137.0 721.5,137.1 723.0,137.3 724.5,138.6 726.0,137.7 727.5,136.3 729.0,134.9 730.5,134.4 732.0,135.4 733.5,136.6 735.0,137.8 736.5,138.7 738.0,139.5 739.5,139.4 741.0,139.3 742.5,139.8 744.0,141.0 745.5,142.2 747.0,143.4 748.5,145.1 750.0,146.8 751.5,148.3 753.0,149.5 754.5,150.8 756.0,152.8 757.5,155.2 759.0,157.4 760.5,159.5 762.0,161.6 763.5,163.4 765.0,165.9 766.5,166.2 768.0,165.4 769.5,165.8 771.0,160.2 772.5,188.9 774.0,184.9 775.5,181.8 777.0,183.6 778.5,185.5 780.0,184.5 781.5,182.0 783.0,184.1 784.5,186.6 786.0,189.8 787.5,194.5 789.0,198.5 790.5,200.6 792.0,202.6 793.5,203.3 795.0,203.9 796.5,204.5 798.0,205.1 799.5,205.4 801.0,205.5 802.5,205.8 804.0,206.2 805.5,205.4 807.0,204.5 808.5,203.8 810.0,204.7 811.5,208.3 813.0,212.0 814.5,214.8 816.0,216.8 817.5,218.8 819.0,220.7 820.5,222.5 822.0,223.9 823.5,225.2 825.0,226.5 826.5,227.9 828.0,229.2 829.5,230.6 831.0,231.9 832.5,233.9 834.0,235.9 835.5,237.8 837.0,239.5 838.5,240.3 840.0,240.8 841.5,240.8 843.0,240.8 844.5,240.8 846.0,241.9 847.5,243.5 849.0,245.6 850.5,247.8 852.0,249.9 853.5,251.8 855.0,253.2 856.5,254.2 858.0,254.7 859.5,255.1 861.0,255.6 862.5,257.4 864.0,259.5 865.5,261.6 867.0,263.6 868.5,266.1 870.0,269.0 871.5,271.8 873.0,274.7 874.5,277.4 876.0,279.9 877.5,281.9 879.0,283.6 880.5,285.3 882.0,287.1 883.5,290.2 885.0,293.9 886.5,297.6 888.0,301.3 889.5,304.6 891.0,307.2 892.5,309.7 894.0,312.2 895.5,315.0 897.0,318.7 898.5,322.7 900.0,326.6 901.5,330.6 903.0,334.2 904.5,338.1 906.0,342.8 907.5,347.5 909.0,351.0 910.5,352.7 912.0,354.4 913.5,356.2 915.0,358.1 916.5,360.0 918.0,361.8 919.5,363.3 921.0,364.0 922.5,364.4 924.0,364.9 925.5,365.5 927.0,365.9 928.5,366.0 930.0,366.2 931.5,366.4 933.0,366.6 934.5,366.7 936.0,366.9 937.5,367.1 939.0,367.2 940.5,367.4 942.0,367.6 943.5,367.8 945.0,367.9 946.5,368.1 948.0,368.3 949.5,368.5" stroke="#b5b5b5" stroke-width="1"/>
<polyline points="447.0,364.6 448.5,364.2 450.0,363.9 451.5,363.5 453.0,363.2 454.5,362.9 456.0,362.5 457.5,362.2 459.0,361.8 460.5,361.3 462.0,360.8 463.5,360.2 465.0,359.6 466.5,358.4 468.0,357.3 469.5,356.1 471.0,354.9 472.5,353.7 474.0,352.2 475.5,350.4 477.0,348.6 478.5,346.3 480.0,344.1 481.5,341.8 483.0,339.3 484.5,336.7 486.0,334.2 487.5,331.8 489.0,329.5 490.5,327.2 492.0,324.8 493.5,322.3 495.0,319.8 496.5,317.3 498.0,314.9 499.5,313.2 501.0,311.6 502.5,310.0 504.0,308.4 505.5,307.3 507.0,306.5 508.5,305.6 510.0,304.8 511.5,304.4 513.0,304.2 514.5,303.9 516.0,302.4 517.5,300.8 519.0,299.2 520.5,297.6 522.0,295.3 523.5,292.6 525.0,289.8 526.5,285.5 528.0,281.2 529.5,276.1 531.0,271.2 532.5,266.4 534.0,261.5 535.5,256.6 537.0,253.5 538.5,250.9 540.0,248.3 541.5,244.0 543.0,241.1 544.5,238.3 546.0,235.4 547.5,232.6 549.0,229.3 550.5,225.8 552.0,221.9 553.5,218.1 555.0,214.5 556.5,211.0 558.0,207.5 559.5,204.0 561.0,200.6 562.5,197.3 564.0,194.0 565.5,190.7 567.0,187.0 568.5,183.1 570.0,179.2 571.5,175.4 573.0,172.1 574.5,168.9 576.0,165.7 577.5,163.0 579.0,160.4 580.5,157.8 582.0,155.6 583.5,153.5 585.0,152.1 586.5,150.7 588.0,149.2 589.5,148.2 591.0,147.5 592.5,147.0 594.0,146.4 595.5,147.2 597.0,148.1 598.5,150.3 600.0,162.1 601.5,199.9 603.0,203.2 604.5,162.3 606.0,148.0 607.5,143.5 609.0,140.5 610.5,137.7 612.0,136.5 613.5,135.4 615.0,134.6 616.5,134.4 618.0,134.2 619.5,133.2 621.0,132.1 622.5,130.9 624.0,129.7 625.5,128.5 627.0,127.4 628.5,126.3 630.0,125.3 631.5,124.3 633.0,124.1 634.5,123.9 636.0,123.7 637.5,123.5 639.0,123.3 640.5,123.1 642.0,122.9 643.5,122.5 645.0,121.9 646.5,121.4 648.0,120.8 649.5,120.0 651.0,119.3 652.5,118.6 654.0,118.5 655.5,118.4 657.0,118.2 658.5,118.1 660.0,118.2 661.5,118.8 663.0,119.4 664.5,120.0 666.0,120.1 667.5,120.2 669.0,121.4 670.5,124.7 672.0,123.7 673.5,122.3 675.0,121.4 676.5,121.7 678.0,122.0 679.5,122.7 681.0,123.6 682.5,124.5 684.0,125.1 685.5,125.9 687.0,126.6 688.5,126.3 690.0,126.1 691.5,125.8 693.0,125.4 694.5,125.1 696.0,124.7 697.5,125.3 699.0,126.7 700.5,128.1 702.0,129.7 703.5,131.3 705.0,131.0 706.5,130.5 708.0,130.0 709.5,130.4 711.0,131.7 712.5,132.9 714.0,136.2 715.5,137.8 717.0,136.9 718.5,135.1 720.0,134.8 721.5,134.9 723.0,135.1 724.5,136.5 726.0,135.6 727.5,134.1 729.0,132.7 730.5,132.1 732.0,133.1 733.5,134.3 735.0,135.5 736.5,136.4 738.0,137.1 739.5,137.0 741.0,136.8 742.5,137.2 744.0,138.4 745.5,139.6 747.0,140.9 748.5,142.6 750.0,144.3 751.5,145.8 753.0,147.1 754.5,148.3 756.0,150.4 757.5,152.9 759.0,155.2 760.5,157.4 762.0,159.6 763.5,161.4 765.0,164.0 766.5,164.3 768.0,163.5 769.5,163.6 771.0,158.5 772.5,187.4 774.0,183.3 775.5,179.5 777.0,181.2 778.5,183.3 780.0,182.4 781.5,180.0 783.0,181.6 784.5,184.2 786.0,187.5 787.5,192.2 789.0,196.7 790.5,198.8 792.0,200.8 793.5,201.7 795.0,202.3 796.5,202.9 798.0,203.5 799.5,203.7 801.0,203.9 802.5,204.1 804.0,204.4 805.5,203.7 807.0,202.9 808.5,202.3 810.0,202.5 811.5,206.0 813.0,209.8 814.5,213.1 816.0,215.1 817.5,217.1 819.0,219.2 820.5,221.1 822.0,222.5 823.5,223.9 825.0,225.3 826.5,226.6 828.0,228.0 829.5,229.4 831.0,230.8 832.5,232.7 834.0,234.7 835.5,236.7 837.0,238.6 838.5,239.4 840.0,239.9 841.5,240.0 843.0,240.0 844.5,240.1 846.0,240.8 847.5,242.4 849.0,244.6 850.5,246.7 852.0,248.9 853.5,251.0 855.0,252.4 856.5,253.5 858.0,254.0 859.5,254.5 861.0,255.0 862.5,256.3 864.0,258.5 865.5,260.6 867.0,262.8 868.5,265.1 870.0,268.1 871.5,271.0 873.0,273.9 874.5,276.7 876.0,279.2 877.5,281.3 879.0,283.1 880.5,284.9 882.0,286.7 883.5,289.6 885.0,293.3 886.5,297.0 888.0,300.8 889.5,304.3 891.0,307.0 892.5,309.6 894.0,312.2 895.5,315.0 897.0,318.6 898.5,322.6 900.0,326.5 901.5,330.5 903.0,334.3 904.5,338.1 906.0,342.7 907.5,347.3 909.0,351.3 910.5,353.0 912.0,354.6 913.5,356.3 915.0,358.2 916.5,360.1 918.0,361.9 919.5,363.3 921.0,364.0 922.5,364.4 924.0,364.9 925.5,365.5 927.0,365.9 928.5,366.1 930.0,366.3 931.5,366.4 933.0,366.6 934.5,366.8 936.0,366.9 937.5,367.1 939.0,367.3 940.5,367.4 942.0,367.6 943.5,367.8 945.0,367.9 946.5,368.1 948.0,368.4 949.5,368.5" stroke="#b3b3b3" stroke-width="1"/>
<polyline points="447.0,364.8 448.5,364.5 450.0,364.2 451.5,363.9 453.0,363.5 454.5,363.2 456.0,362.9 457.5,362.6 459.0,362.2 460.5,361.8 462.0,361.3 463.5,360.7 465.0,360.1 466.5,359.0 468.0,357.8 469.5,356.7 471.0,355.4 472.5,354.2 474.0,352.7 475.5,350.9 477.0,349.0 478.5,346.8 480.0,344.5 481.5,342.3 483.0,339.7 484.5,337.1 486.0,334.6 487.5,332.2 489.0,329.8 490.5,327.4 492.0,325.0 493.5,322.5 495.0,320.0 496.5,317.4 498.0,314.9 499.5,313.3 501.0,311.7 502.5,310.1 504.0,308.5 505.5,307.4 507.0,306.6 508.5,305.8 510.0,305.0 511.5,304.6 513.0,304.5 514.5,304.3 516.0,302.8 517.5,301.2 519.0,299.6 520.5,297.9 522.0,295.7 523.5,293.0 525.0,290.1 526.5,285.7 528.0,281.3 529.5,276.1 531.0,271.3 532.5,266.4 534.0,261.5 535.5,256.6 537.0,253.3 538.5,250.5 540.0,247.6 541.5,243.2 543.0,240.4 544.5,237.5 546.0,234.6 547.5,231.8 549.0,228.4 550.5,224.9 552.0,221.1 553.5,217.2 555.0,213.6 556.5,210.1 558.0,206.6 559.5,203.2 561.0,199.8 562.5,196.4 564.0,193.1 565.5,189.8 567.0,186.0 568.5,181.9 570.0,177.9 571.5,174.0 573.0,170.7 574.5,167.4 576.0,164.1 577.5,161.4 579.0,158.8 580.5,156.3 582.0,154.0 583.5,152.1 585.0,150.7 586.5,149.4 588.0,148.0 589.5,147.1 591.0,146.5 592.5,146.1 594.0,145.6 595.5,146.5 597.0,147.5 598.5,149.9 600.0,161.6 601.5,199.8 603.0,203.1 604.5,161.8 606.0,147.6 607.5,143.1 609.0,140.1 610.5,137.4 612.0,136.2 613.5,135.0 615.0,134.2 616.5,134.0 618.0,133.7 619.5,132.7 621.0,131.5 622.5,130.2 624.0,129.0 625.5,127.7 627.0,126.5 628.5,125.4 630.0,124.3 631.5,123.3 633.0,123.0 634.5,122.8 636.0,122.5 637.5,122.3 639.0,122.1 640.5,121.9 642.0,121.7 643.5,121.2 645.0,120.6 646.5,120.0 648.0,119.4 649.5,118.5 651.0,117.7 652.5,117.0 654.0,116.8 655.5,116.6 657.0,116.4 658.5,116.3 660.0,116.3 661.5,116.9 663.0,117.5 664.5,118.1 666.0,118.2 667.5,118.3 669.0,119.5 670.5,123.1 672.0,122.0 673.5,120.6 675.0,119.7 676.5,120.0 678.0,120.4 679.5,121.2 681.0,122.2 682.5,123.2 684.0,123.8 685.5,124.7 687.0,125.4 688.5,125.0 690.0,124.7 691.5,124.3 693.0,123.9 694.5,123.5 696.0,123.1 697.5,123.7 699.0,125.2 700.5,126.6 702.0,128.2 703.5,129.8 705.0,129.4 706.5,128.8 708.0,128.1 709.5,128.5 711.0,129.6 712.5,130.8 714.0,134.2 715.5,135.9 717.0,134.8 718.5,132.9 720.0,132.6 721.5,132.7 723.0,132.9 724.5,134.4 726.0,133.5 727.5,131.9 729.0,130.4 730.5,129.8 732.0,130.8 733.5,132.0 735.0,133.2 736.5,134.1 738.0,134.8 739.5,134.5 741.0,134.3 742.5,134.6 744.0,135.8 745.5,137.1 747.0,138.3 748.5,140.0 750.0,141.8 751.5,143.3 753.0,144.6 754.5,145.9 756.0,148.0 757.5,150.7 759.0,153.1 760.5,155.3 762.0,157.6 763.5,159.5 765.0,162.0 766.5,162.4 768.0,161.5 769.5,161.3 771.0,156.8 772.5,185.9 774.0,181.7 775.5,177.2 777.0,178.9 778.5,181.1 780.0,180.3 781.5,178.0 783.0,179.1 784.5,181.8 786.0,185.2 787.5,189.8 789.0,194.7 790.5,197.0 792.0,198.9 793.5,200.1 795.0,200.7 796.5,201.2 798.0,201.8 799.5,202.0 801.0,202.2 802.5,202.5 804.0,202.7 805.5,202.0 807.0,201.3 808.5,200.8 810.0,201.1 811.5,203.7 813.0,207.5 814.5,211.3 816.0,213.5 817.5,215.5 819.0,217.6 820.5,219.6 822.0,221.2 823.5,222.6 825.0,224.0 826.5,225.4 828.0,226.8 829.5,228.2 831.0,229.6 832.5,231.6 834.0,233.5 835.5,235.5 837.0,237.4 838.5,238.6 840.0,239.0 841.5,239.1 843.0,239.2 844.5,239.3 846.0,239.8 847.5,241.4 849.0,243.5 850.5,245.7 852.0,247.9 853.5,250.0 855.0,251.7 856.5,252.8 858.0,253.3 859.5,253.9 861.0,254.4 862.5,255.3 864.0,257.5 865.5,259.7 867.0,261.9 868.5,264.2 870.0,267.1 871.5,270.1 873.0,273.0 874.5,276.0 876.0,278.6 877.5,280.7 879.0,282.6 880.5,284.5 882.0,286.4 883.5,288.9 885.0,292.7 886.5,296.5 888.0,300.3 889.5,304.1 891.0,306.9 892.5,309.5 894.0,312.2 895.5,315.0 897.0,318.5 898.5,322.5 900.0,326.5 901.5,330.4 903.0,334.3 904.5,338.1 906.0,342.6 907.5,347.2 909.0,351.2 910.5,353.2 912.0,354.9 913.5,356.5 915.0,358.3 916.5,360.1 918.0,361.9 919.5,363.3 921.0,364.0 922.5,364.4 924.0,364.9 925.5,365.5 927.0,366.0 928.5,366.1 930.0,366.3 931.5,366.5 933.0,366.6 934.5,366.8 936.0,367.0 937.5,367.1 939.0,367.3 940.5,367.5 942.0,367.6 943.5,367.8 945.0,368.0 946.5,368.1 948.0,368.4 949.5,368.5" stroke="#b0b0b0" stroke-width="1"/>
<polyline points="447.0,365.1 448.5,364.8 450.0,364.5 451.5,364.2 453.0,363.9 454.5,363.6 456.0,363.3 457.5,363.0 459.0,362.7 460.5,362.3 462.0,361.8 463.5,361.3 465.0,360.7 466.5,359.5 468.0,358.4 469.5,357.2 471.0,356.0 472.5,354.8 474.0,353.2 475.5,351.4 477.0,349.5 478.5,347.2 480.0,345.0 481.5,342.7 483.0,340.1 484.5,337.5 486.0,335.0 487.5,332.5 489.0,330.0 490.5,327.6 492.0,325.2 493.5,322.6 495.0,320.1 496.5,317.5 498.0,315.0 499.5,313.4 501.0,311.8 502.5,310.2 504.0,308.6 505.5,307.6 507.0,306.8 508.5,305.9 510.0,305.1 511.5,304.9 513.0,304.8 514.5,304.7 516.0,303.2 517.5,301.6 519.0,299.9 520.5,298.3 522.0,296.0 523.5,293.3 525.0,290.4 526.5,285.9 528.0,281.4 529.5,276.2 531.0,271.3 532.5,266.4 534.0,261.5 535.5,256.5 537.0,253.1 538.5,250.1 540.0,247.0 541.5,242.5 543.0,239.6 544.5,236.7 546.0,233.8 547.5,231.0 549.0,227.6 550.5,224.0 552.0,220.2 553.5,216.3 555.0,212.8 556.5,209.3 558.0,205.8 559.5,202.3 561.0,198.9 562.5,195.5 564.0,192.1 565.5,188.8 567.0,184.9 568.5,180.8 570.0,176.6 571.5,172.7 573.0,169.3 574.5,166.0 576.0,162.6 577.5,159.9 579.0,157.2 580.5,154.7 582.0,152.5 583.5,150.6 585.0,149.3 586.5,148.1 588.0,146.9 589.5,146.1 591.0,145.5 592.5,145.1 594.0,144.8 595.5,145.7 597.0,146.9 598.5,149.4 600.0,161.1 601.5,199.7 603.0,203.1 604.5,161.3 606.0,147.2 607.5,142.7 609.0,139.8 610.5,137.2 612.0,135.9 613.5,134.6 615.0,133.8 616.5,133.5 618.0,133.3 619.5,132.2 621.0,130.9 622.5,129.6 624.0,128.2 625.5,126.9 627.0,125.6 628.5,124.4 630.0,123.3 631.5,122.2 633.0,121.9 634.5,121.6 636.0,121.4 637.5,121.1 639.0,120.9 640.5,120.7 642.0,120.5 643.5,119.9 645.0,119.3 646.5,118.6 648.0,117.9 649.5,117.1 651.0,116.2 652.5,115.4 654.0,115.1 655.5,114.9 657.0,114.7 658.5,114.4 660.0,114.5 661.5,115.1 663.0,115.7 664.5,116.3 666.0,116.3 667.5,116.3 669.0,117.7 670.5,121.5 672.0,120.4 673.5,118.9 675.0,117.9 676.5,118.4 678.0,118.8 679.5,119.6 681.0,120.7 682.5,121.8 684.0,122.5 685.5,123.4 687.0,124.1 688.5,123.7 690.0,123.3 691.5,122.9 693.0,122.5 694.5,122.0 696.0,121.5 697.5,122.1 699.0,123.6 700.5,125.2 702.0,126.7 703.5,128.3 705.0,127.8 706.5,127.0 708.0,126.2 709.5,126.5 711.0,127.6 712.5,128.8 714.0,132.3 715.5,133.9 717.0,132.6 718.5,130.6 720.0,130.3 721.5,130.5 723.0,130.8 724.5,132.4 726.0,131.4 727.5,129.8 729.0,128.1 730.5,127.5 732.0,128.6 733.5,129.8 735.0,130.9 736.5,131.7 738.0,132.5 739.5,132.1 741.0,131.8 742.5,132.0 744.0,133.3 745.5,134.5 747.0,135.7 748.5,137.5 750.0,139.3 751.5,140.9 753.0,142.2 754.5,143.4 756.0,145.7 757.5,148.4 759.0,150.9 760.5,153.2 762.0,155.6 763.5,157.5 765.0,160.1 766.5,160.5 768.0,159.5 769.5,159.1 771.0,155.0 772.5,184.4 774.0,180.0 775.5,174.9 777.0,176.6 778.5,178.7 780.0,178.1 781.5,176.1 783.0,176.6 784.5,179.5 786.0,182.9 787.5,187.5 789.0,192.4 790.5,195.2 792.0,197.1 793.5,198.5 795.0,199.1 796.5,199.6 798.0,200.2 799.5,200.4 801.0,200.6 802.5,200.8 804.0,201.1 805.5,200.3 807.0,199.7 808.5,199.3 810.0,199.6 811.5,201.4 813.0,205.2 814.5,209.1 816.0,211.8 817.5,213.9 819.0,216.0 820.5,218.1 822.0,219.8 823.5,221.3 825.0,222.7 826.5,224.1 828.0,225.6 829.5,227.0 831.0,228.5 832.5,230.4 834.0,232.4 835.5,234.3 837.0,236.3 838.5,237.7 840.0,238.2 841.5,238.3 843.0,238.5 844.5,238.6 846.0,238.8 847.5,240.3 849.0,242.5 850.5,244.7 852.0,246.9 853.5,249.0 855.0,251.0 856.5,252.0 858.0,252.6 859.5,253.2 861.0,253.8 862.5,254.4 864.0,256.5 865.5,258.8 867.0,261.0 868.5,263.3 870.0,266.2 871.5,269.2 873.0,272.2 874.5,275.2 876.0,278.0 877.5,280.1 879.0,282.1 880.5,284.1 882.0,286.1 883.5,288.2 885.0,292.1 886.5,295.9 888.0,299.8 889.5,303.6 891.0,306.7 892.5,309.4 894.0,312.1 895.5,315.0 897.0,318.5 898.5,322.4 900.0,326.4 901.5,330.3 903.0,334.3 904.5,338.1 906.0,342.6 907.5,347.0 909.0,351.0 910.5,353.5 912.0,355.1 913.5,356.7 915.0,358.4 916.5,360.2 918.0,361.9 919.5,363.3 921.0,364.0 922.5,364.4 924.0,365.0 925.5,365.5 927.0,366.0 928.5,366.2 930.0,366.4 931.5,366.5 933.0,366.7 934.5,366.8 936.0,367.0 937.5,367.2 939.0,367.3 940.5,367.5 942.0,367.6 943.5,367.8 945.0,368.0 946.5,368.2 948.0,368.4 949.5,368.5" stroke="#aeaeae" stroke-width="1"/>
<polyline points="447.0,365.4 448.5,365.1 450.0,364.8 451.5,364.5 453.0,364.2 454.5,363.9 456.0,363.7 457.5,363.4 459.0,363.1 460.5,362.7 462.0,362.2 463.5,361.8 465.0,361.2 466.5,360.1 468.0,358.9 469.5,357.7 471.0,356.5 472.5,355.3 474.0,353.7 475.5,351.9 477.0,349.9 478.5,347.7 480.0,345.5 481.5,343.2 483.0,340.5 484.5,337.9 486.0,335.3 487.5,332.8 489.0,330.3 490.5,327.8 492.0,325.4 493.5,322.8 495.0,320.2 496.5,317.6 498.0,315.0 499.5,313.4 501.0,311.8 502.5,310.3 504.0,308.7 505.5,307.7 507.0,306.9 508.5,306.1 510.0,305.3 511.5,305.1 513.0,305.1 514.5,305.1 516.0,303.5 517.5,301.9 519.0,300.3 520.5,298.7 522.0,296.4 523.5,293.6 525.0,290.8 526.5,286.1 528.0,281.5 529.5,276.2 531.0,271.3 532.5,266.4 534.0,261.4 535.5,256.5 537.0,252.9 538.5,249.6 540.0,246.3 541.5,241.7 543.0,238.8 544.5,236.0 546.0,233.1 547.5,230.2 549.0,226.8 550.5,223.2 552.0,219.3 553.5,215.5 555.0,211.9 556.5,208.4 558.0,205.0 559.5,201.5 561.0,198.1 562.5,194.6 564.0,191.2 565.5,187.8 567.0,183.8 568.5,179.6 570.0,175.4 571.5,171.3 573.0,167.9 574.5,164.5 576.0,161.1 577.5,158.3 579.0,155.6 580.5,153.1 582.0,151.0 583.5,149.1 585.0,148.0 586.5,146.8 588.0,145.7 589.5,145.0 591.0,144.5 592.5,144.2 594.0,144.0 595.5,145.0 597.0,146.3 598.5,149.0 600.0,160.6 601.5,199.7 603.0,203.0 604.5,160.7 606.0,146.8 607.5,142.3 609.0,139.5 610.5,137.0 612.0,135.6 613.5,134.2 615.0,133.3 616.5,133.1 618.0,132.8 619.5,131.7 621.0,130.3 622.5,128.9 624.0,127.5 625.5,126.1 627.0,124.8 628.5,123.5 630.0,122.2 631.5,121.1 633.0,120.8 634.5,120.5 636.0,120.2 637.5,119.9 639.0,119.7 640.5,119.5 642.0,119.2 643.5,118.6 645.0,117.9 646.5,117.2 648.0,116.5 649.5,115.6 651.0,114.6 652.5,113.7 654.0,113.5 655.5,113.2 657.0,112.9 658.5,112.6 660.0,112.6 661.5,113.2 663.0,113.8 664.5,114.4 666.0,114.4 667.5,114.4 669.0,115.8 670.5,119.9 672.0,118.8 673.5,117.2 675.0,116.2 676.5,116.7 678.0,117.2 679.5,118.1 681.0,119.3 682.5,120.4 684.0,121.2 685.5,122.2 687.0,122.9 688.5,122.4 690.0,122.0 691.5,121.5 693.0,121.0 694.5,120.5 696.0,119.9 697.5,120.5 699.0,122.1 700.5,123.7 702.0,125.2 703.5,126.8 705.0,126.2 706.5,125.3 708.0,124.3 709.5,124.5 711.0,125.6 712.5,126.7 714.0,130.3 715.5,132.0 717.0,130.5 718.5,128.4 720.0,128.1 721.5,128.3 723.0,128.6 724.5,130.3 726.0,129.3 727.5,127.6 729.0,125.8 730.5,125.2 732.0,126.3 733.5,127.5 735.0,128.7 736.5,129.4 738.0,130.1 739.5,129.7 741.0,129.2 742.5,129.5 744.0,130.7 745.5,131.9 747.0,133.2 748.5,135.0 750.0,136.8 751.5,138.4 753.0,139.7 754.5,141.0 756.0,143.3 757.5,146.1 759.0,148.7 760.5,151.1 762.0,153.6 763.5,155.5 765.0,158.1 766.5,158.6 768.0,157.5 769.5,156.9 771.0,153.3 772.5,180.3 774.0,178.4 775.5,172.6 777.0,174.2 778.5,176.3 780.0,176.0 781.5,174.1 783.0,174.1 784.5,177.1 786.0,180.6 787.5,185.2 789.0,190.0 790.5,193.4 792.0,195.3 793.5,196.9 795.0,197.4 796.5,198.0 798.0,198.5 799.5,198.7 801.0,199.0 802.5,199.2 804.0,199.4 805.5,198.5 807.0,198.1 808.5,197.8 810.0,198.2 811.5,199.1 813.0,203.0 814.5,206.9 816.0,210.2 817.5,212.3 819.0,214.4 820.5,216.5 822.0,218.5 823.5,219.9 825.0,221.4 826.5,222.9 828.0,224.4 829.5,225.8 831.0,227.3 832.5,229.3 834.0,231.2 835.5,233.1 837.0,235.1 838.5,236.8 840.0,237.3 841.5,237.5 843.0,237.7 844.5,237.9 846.0,238.1 847.5,239.3 849.0,241.5 850.5,243.7 852.0,245.8 853.5,248.0 855.0,250.3 856.5,251.3 858.0,252.0 859.5,252.6 861.0,253.2 862.5,253.8 864.0,255.5 865.5,257.8 867.0,260.1 868.5,262.5 870.0,265.3 871.5,268.3 873.0,271.4 874.5,274.4 876.0,277.3 877.5,279.6 879.0,281.6 880.5,283.6 882.0,285.7 883.5,287.9 885.0,291.5 886.5,295.3 888.0,299.2 889.5,303.1 891.0,306.5 892.5,309.3 894.0,312.1 895.5,315.0 897.0,318.4 898.5,322.3 900.0,326.3 901.5,330.3 903.0,334.2 904.5,338.1 906.0,342.5 907.5,346.9 909.0,350.8 910.5,353.8 912.0,355.3 913.5,356.8 915.0,358.5 916.5,360.2 918.0,361.9 919.5,363.3 921.0,364.0 922.5,364.4 924.0,365.0 925.5,365.5 927.0,366.1 928.5,366.3 930.0,366.4 931.5,366.6 933.0,366.7 934.5,366.9 936.0,367.0 937.5,367.2 939.0,367.3 940.5,367.5 942.0,367.7 943.5,367.8 945.0,368.0 946.5,368.2 948.0,368.4 949.5,368.5" stroke="#ababab" stroke-width="1"/>
<polyline points="447.0,365.6 448.5,365.4 450.0,365.1 451.5,364.8 453.0,364.6 454.5,364.3 456.0,364.0 457.5,363.8 459.0,363.5 460.5,363.2 462.0,362.7 463.5,362.3 465.0,361.8 466.5,360.6 468.0,359.4 469.5,358.3 471.0,357.0 472.5,355.8 474.0,354.2 475.5,352.4 477.0,350.4 478.5,348.2 480.0,345.9 481.5,343.6 483.0,341.0 484.5,338.3 486.0,335.7 487.5,333.1 489.0,330.6 490.5,328.1 492.0,325.6 493.5,322.9 495.0,320.3 496.5,317.7 498.0,315.1 499.5,313.5 501.0,311.9 502.5,310.3 504.0,308.8 505.5,307.8 507.0,307.0 508.5,306.3 510.0,305.5 511.5,305.3 513.0,305.4 514.5,305.4 516.0,303.9 517.5,302.3 519.0,300.7 520.5,299.1 522.0,296.8 523.5,294.0 525.0,291.1 526.5,286.3 528.0,281.6 529.5,276.2 531.0,271.3 532.5,266.4 534.0,261.4 535.5,256.4 537.0,252.7 538.5,249.2 540.0,245.7 541.5,241.0 543.0,238.1 544.5,235.2 546.0,232.3 547.5,229.4 549.0,225.9 550.5,222.3 552.0,218.5 553.5,214.6 555.0,211.0 556.5,207.6 558.0,204.1 559.5,200.7 561.0,197.2 562.5,193.7 564.0,190.3 565.5,186.8 567.0,182.7 568.5,178.4 570.0,174.1 571.5,170.0 573.0,166.5 574.5,163.0 576.0,159.5 577.5,156.8 579.0,154.0 580.5,151.5 582.0,149.4 583.5,147.6 585.0,146.6 586.5,145.6 588.0,144.5 589.5,143.9 591.0,143.5 592.5,143.3 594.0,143.2 595.5,144.3 597.0,145.7 598.5,148.6 600.0,160.1 601.5,199.6 603.0,202.9 604.5,160.2 606.0,146.4 607.5,141.8 609.0,139.2 610.5,136.7 612.0,135.3 613.5,133.8 615.0,132.9 616.5,132.6 618.0,132.4 619.5,131.2 621.0,129.7 622.5,128.3 624.0,126.8 625.5,125.3 627.0,123.9 628.5,122.6 630.0,121.2 631.5,120.0 633.0,119.7 634.5,119.4 636.0,119.0 637.5,118.8 639.0,118.5 640.5,118.2 642.0,118.0 643.5,117.4 645.0,116.6 646.5,115.9 648.0,115.1 649.5,114.1 651.0,113.0 652.5,112.1 654.0,111.8 655.5,111.4 657.0,111.1 658.5,110.8 660.0,110.8 661.5,111.4 663.0,111.9 664.5,112.5 666.0,112.5 667.5,112.5 669.0,113.9 670.5,118.3 672.0,117.1 673.5,115.5 675.0,114.5 676.5,115.0 678.0,115.5 679.5,116.5 681.0,117.8 682.5,119.1 684.0,119.9 685.5,120.9 687.0,121.6 688.5,121.1 690.0,120.6 691.5,120.1 693.0,119.5 694.5,118.9 696.0,118.3 697.5,118.9 699.0,120.6 700.5,122.2 702.0,123.8 703.5,125.3 705.0,124.6 706.5,123.5 708.0,122.4 709.5,122.5 711.0,123.6 712.5,124.6 714.0,128.4 715.5,130.0 717.0,128.4 718.5,126.2 720.0,125.9 721.5,126.1 723.0,126.4 724.5,128.3 726.0,127.2 727.5,125.4 729.0,123.6 730.5,122.9 732.0,124.0 733.5,125.2 735.0,126.4 736.5,127.1 738.0,127.8 739.5,127.3 741.0,126.7 742.5,126.9 744.0,128.1 745.5,129.3 747.0,130.6 748.5,132.4 750.0,134.3 751.5,135.9 753.0,137.2 754.5,138.6 756.0,140.9 757.5,143.9 759.0,146.5 760.5,149.0 762.0,151.5 763.5,153.6 765.0,156.1 766.5,156.7 768.0,155.6 769.5,154.7 771.0,151.6 772.5,175.5 774.0,176.8 775.5,170.3 777.0,171.9 778.5,173.9 780.0,173.9 781.5,172.1 783.0,171.6 784.5,174.7 786.0,178.3 787.5,182.9 789.0,187.7 790.5,191.6 792.0,193.4 793.5,195.3 795.0,195.8 796.5,196.3 798.0,196.8 799.5,197.1 801.0,197.3 802.5,197.5 804.0,197.8 805.5,196.8 807.0,196.5 808.5,196.3 810.0,196.8 811.5,197.2 813.0,200.7 814.5,204.7 816.0,208.6 817.5,210.7 819.0,212.8 820.5,215.0 822.0,217.1 823.5,218.6 825.0,220.1 826.5,221.6 828.0,223.1 829.5,224.7 831.0,226.2 832.5,228.1 834.0,230.0 835.5,232.0 837.0,233.9 838.5,235.9 840.0,236.5 841.5,236.7 843.0,236.9 844.5,237.2 846.0,237.4 847.5,238.3 849.0,240.5 850.5,242.6 852.0,244.8 853.5,247.0 855.0,249.5 856.5,250.6 858.0,251.3 859.5,252.0 861.0,252.7 862.5,253.3 864.0,254.5 865.5,256.9 867.0,259.3 868.5,261.7 870.0,264.4 871.5,267.4 873.0,270.5 874.5,273.6 876.0,276.7 877.5,279.0 879.0,281.1 880.5,283.2 882.0,285.4 883.5,287.7 885.0,290.8 886.5,294.8 888.0,298.7 889.5,302.7 891.0,306.4 892.5,309.2 894.0,312.0 895.5,315.0 897.0,318.3 898.5,322.2 900.0,326.2 901.5,330.2 903.0,334.1 904.5,338.1 906.0,342.4 907.5,346.7 909.0,350.7 910.5,354.0 912.0,355.5 913.5,357.0 915.0,358.6 916.5,360.3 918.0,361.9 919.5,363.3 921.0,364.0 922.5,364.4 924.0,365.0 925.5,365.5 927.0,366.1 928.5,366.3 930.0,366.5 931.5,366.6 933.0,366.8 934.5,366.9 936.0,367.1 937.5,367.2 939.0,367.4 940.5,367.5 942.0,367.7 943.5,367.8 945.0,368.0 946.5,368.2 948.0,368.4 949.5,368.5" stroke="#a9a9a9" stroke-width="1"/>
<polyline points="447.0,365.9 448.5,365.7 450.0,365.4 451.5,365.2 453.0,364.9 454.5,364.7 456.0,364.4 457.5,364.2 459.0,363.9 460.5,363.6 462.0,363.2 463.5,362.8 465.0,362.3 466.5,361.2 468.0,360.0 469.5,358.8 471.0,357.6 472.5,356.4 474.0,354.7 475.5,352.8 477.0,350.8 478.5,348.6 480.0,346.4 481.5,344.1 483.0,341.4 484.5,338.7 486.0,336.0 487.5,333.4 489.0,330.9 490.5,328.3 492.0,325.8 493.5,323.1 495.0,320.4 496.5,317.8 498.0,315.1 499.5,313.6 501.0,312.0 502.5,310.4 504.0,308.8 505.5,307.9 507.0,307.2 508.5,306.4 510.0,305.7 511.5,305.6 513.0,305.7 514.5,305.8 516.0,304.3 517.5,302.7 519.0,301.1 520.5,299.5 522.0,297.1 523.5,294.3 525.0,291.4 526.5,286.5 528.0,281.6 529.5,276.3 531.0,271.3 532.5,266.4 534.0,261.4 535.5,256.3 537.0,252.5 538.5,248.8 540.0,245.0 541.5,240.2 543.0,237.3 544.5,234.4 546.0,231.5 547.5,228.6 549.0,225.1 550.5,221.5 552.0,217.6 553.5,213.7 555.0,210.2 556.5,206.7 558.0,203.3 559.5,199.9 561.0,196.4 562.5,192.8 564.0,189.3 565.5,185.8 567.0,181.7 568.5,177.3 570.0,172.9 571.5,168.7 573.0,165.1 574.5,161.6 576.0,158.0 577.5,155.2 579.0,152.4 580.5,149.9 582.0,147.9 583.5,146.1 585.0,145.2 586.5,144.3 588.0,143.4 589.5,142.8 591.0,142.5 592.5,142.4 594.0,142.3 595.5,143.6 597.0,145.1 598.5,148.2 600.0,159.5 601.5,199.5 603.0,202.9 604.5,159.7 606.0,146.0 607.5,141.4 609.0,138.9 610.5,136.5 612.0,134.9 613.5,133.4 615.0,132.5 616.5,132.2 618.0,131.9 619.5,130.6 621.0,129.1 622.5,127.6 624.0,126.0 625.5,124.5 627.0,123.0 628.5,121.6 630.0,120.2 631.5,118.9 633.0,118.6 634.5,118.2 636.0,117.9 637.5,117.6 639.0,117.3 640.5,117.0 642.0,116.7 643.5,116.1 645.0,115.3 646.5,114.5 648.0,113.7 649.5,112.6 651.0,111.5 652.5,110.5 654.0,110.1 655.5,109.7 657.0,109.3 658.5,109.0 660.0,108.9 661.5,109.5 663.0,110.1 664.5,110.7 666.0,110.6 667.5,110.6 669.0,112.1 670.5,116.7 672.0,115.5 673.5,113.8 675.0,112.7 676.5,113.3 678.0,113.9 679.5,115.0 681.0,116.3 682.5,117.7 684.0,118.6 685.5,119.6 687.0,120.4 688.5,119.8 690.0,119.3 691.5,118.7 693.0,118.0 694.5,117.4 696.0,116.7 697.5,117.3 699.0,119.0 700.5,120.7 702.0,122.3 703.5,123.8 705.0,123.0 706.5,121.7 708.0,120.5 709.5,120.5 711.0,121.5 712.5,122.6 714.0,126.5 715.5,128.1 717.0,126.3 718.5,124.0 720.0,123.7 721.5,123.9 723.0,124.3 724.5,126.2 726.0,125.1 727.5,123.2 729.0,121.3 730.5,120.6 732.0,121.7 733.5,122.9 735.0,124.1 736.5,124.8 738.0,125.5 739.5,124.8 741.0,124.2 742.5,124.3 744.0,125.5 745.5,126.8 747.0,128.0 748.5,129.9 750.0,131.8 751.5,133.4 753.0,134.8 754.5,136.1 756.0,138.6 757.5,141.6 759.0,144.3 760.5,146.9 762.0,149.5 763.5,151.6 765.0,154.2 766.5,154.8 768.0,153.6 769.5,152.5 771.0,149.9 772.5,170.7 774.0,175.1 775.5,168.2 777.0,169.6 778.5,171.6 780.0,171.7 781.5,170.1 783.0,169.1 784.5,172.4 786.0,176.0 787.5,180.6 789.0,185.3 790.5,189.8 792.0,191.6 793.5,193.4 795.0,194.2 796.5,194.7 798.0,195.2 799.5,195.4 801.0,195.7 802.5,195.9 804.0,196.2 805.5,195.3 807.0,194.9 808.5,194.8 810.0,195.3 811.5,195.8 813.0,198.4 814.5,202.4 816.0,206.7 817.5,209.1 819.0,211.3 820.5,213.4 822.0,215.6 823.5,217.3 825.0,218.9 826.5,220.4 828.0,221.9 829.5,223.5 831.0,225.0 832.5,226.9 834.0,228.9 835.5,230.8 837.0,232.7 838.5,234.7 840.0,235.6 841.5,235.9 843.0,236.2 844.5,236.5 846.0,236.7 847.5,237.2 849.0,239.4 850.5,241.6 852.0,243.8 853.5,246.0 855.0,248.5 856.5,249.9 858.0,250.6 859.5,251.3 861.0,252.1 862.5,252.7 864.0,253.5 865.5,256.0 867.0,258.4 868.5,260.8 870.0,263.5 871.5,266.6 873.0,269.7 874.5,272.8 876.0,276.0 877.5,278.4 879.0,280.6 880.5,282.8 882.0,285.1 883.5,287.4 885.0,290.2 886.5,294.2 888.0,298.2 889.5,302.2 891.0,306.1 892.5,309.1 894.0,312.0 895.5,315.0 897.0,318.4 898.5,322.2 900.0,326.1 901.5,330.1 903.0,334.1 904.5,338.1 906.0,342.4 907.5,346.6 909.0,350.5 910.5,354.3 912.0,355.7 913.5,357.2 915.0,358.8 916.5,360.3 918.0,361.9 919.5,363.3 921.0,364.0 922.5,364.4 924.0,365.0 925.5,365.5 927.0,366.0 928.5,366.4 930.0,366.5 931.5,366.7 933.0,366.8 934.5,367.0 936.0,367.1 937.5,367.3 939.0,367.4 940.5,367.6 942.0,367.7 943.5,367.9 945.0,368.0 946.5,368.2 948.0,368.4 949.5,368.5" stroke="#a7a7a7" stroke-width="1"/>
<polyline points="447.0,366.2 448.5,365.9 450.0,365.7 451.5,365.5 453.0,365.3 454.5,365.0 456.0,364.8 457.5,364.6 459.0,364.4 460.5,364.1 462.0,363.7 463.5,363.3 465.0,362.9 466.5,361.7 468.0,360.5 469.5,359.3 471.0,358.1 472.5,356.9 474.0,355.2 475.5,353.3 477.0,351.3 478.5,349.1 480.0,346.8 481.5,344.5 483.0,341.8 484.5,339.1 486.0,336.4 487.5,333.7 489.0,331.1 490.5,328.5 492.0,325.9 493.5,323.3 495.0,320.6 496.5,317.9 498.0,315.2 499.5,313.6 501.0,312.1 502.5,310.5 504.0,308.9 505.5,308.0 507.0,307.3 508.5,306.6 510.0,305.9 511.5,305.8 513.0,306.0 514.5,306.2 516.0,304.6 517.5,303.1 519.0,301.5 520.5,299.9 522.0,297.5 523.5,294.7 525.0,291.7 526.5,286.7 528.0,281.7 529.5,276.3 531.0,271.3 532.5,266.4 534.0,261.3 535.5,256.3 537.0,252.3 538.5,248.4 540.0,244.4 541.5,239.5 543.0,236.6 544.5,233.6 546.0,230.7 547.5,227.8 549.0,224.3 550.5,220.6 552.0,216.7 553.5,212.8 555.0,209.3 556.5,205.9 558.0,202.5 559.5,199.1 561.0,195.5 562.5,191.9 564.0,188.4 565.5,184.8 567.0,180.6 568.5,176.1 570.0,171.6 571.5,167.3 573.0,163.7 574.5,160.1 576.0,156.5 577.5,153.6 579.0,150.8 580.5,148.3 582.0,146.3 583.5,144.7 585.0,143.8 586.5,143.0 588.0,142.2 589.5,141.7 591.0,141.5 592.5,141.5 594.0,141.5 595.5,142.9 597.0,144.5 598.5,147.7 600.0,159.0 601.5,199.4 603.0,202.8 604.5,159.2 606.0,145.6 607.5,141.0 609.0,138.6 610.5,136.2 612.0,134.6 613.5,133.0 615.0,132.0 616.5,131.8 618.0,131.5 619.5,130.1 621.0,128.5 622.5,126.9 624.0,125.3 625.5,123.7 627.0,122.1 628.5,120.7 630.0,119.2 631.5,117.9 633.0,117.5 634.5,117.1 636.0,116.7 637.5,116.4 639.0,116.1 640.5,115.8 642.0,115.5 643.5,114.8 645.0,113.9 646.5,113.1 648.0,112.3 649.5,111.1 651.0,109.9 652.5,108.8 654.0,108.4 655.5,108.0 657.0,107.5 658.5,107.1 660.0,107.0 661.5,107.6 663.0,108.2 664.5,108.8 666.0,108.7 667.5,108.6 669.0,110.2 670.5,115.1 672.0,113.8 673.5,112.1 675.0,111.0 676.5,111.6 678.0,112.3 679.5,113.4 681.0,114.9 682.5,116.3 684.0,117.3 685.5,118.4 687.0,119.1 688.5,118.5 690.0,117.9 691.5,117.3 693.0,116.6 694.5,115.9 696.0,115.1 697.5,115.7 699.0,117.5 700.5,119.2 702.0,120.8 703.5,122.4 705.0,121.4 706.5,120.0 708.0,118.6 709.5,118.5 711.0,119.5 712.5,120.5 714.0,124.5 715.5,126.1 717.0,124.2 718.5,121.8 720.0,121.5 721.5,121.7 723.0,122.1 724.5,124.1 726.0,123.0 727.5,121.0 729.0,119.0 730.5,118.3 732.0,119.4 733.5,120.6 735.0,121.8 736.5,122.5 738.0,123.1 739.5,122.4 741.0,121.7 742.5,121.8 744.0,123.0 745.5,124.2 747.0,125.5 748.5,127.4 750.0,129.3 751.5,131.0 753.0,132.3 754.5,133.7 756.0,136.2 757.5,139.3 759.0,142.2 760.5,144.8 762.0,147.5 763.5,149.6 765.0,152.2 766.5,152.9 768.0,151.6 769.5,150.3 771.0,148.2 772.5,166.0 774.0,173.5 775.5,166.7 777.0,167.3 778.5,169.2 780.0,169.6 781.5,168.2 783.0,166.7 784.5,170.0 786.0,173.7 787.5,178.3 789.0,183.0 790.5,188.0 792.0,189.8 793.5,191.6 795.0,192.6 796.5,193.1 798.0,193.5 799.5,193.8 801.0,194.0 802.5,194.3 804.0,194.5 805.5,193.8 807.0,193.3 808.5,193.4 810.0,193.9 811.5,194.4 813.0,196.1 814.5,200.2 816.0,204.5 817.5,207.5 819.0,209.7 820.5,211.9 822.0,214.1 823.5,216.0 825.0,217.6 826.5,219.1 828.0,220.7 829.5,222.3 831.0,223.9 832.5,225.8 834.0,227.7 835.5,229.6 837.0,231.6 838.5,233.5 840.0,234.7 841.5,235.1 843.0,235.4 844.5,235.7 846.0,236.1 847.5,236.4 849.0,238.4 850.5,240.6 852.0,242.8 853.5,245.0 855.0,247.4 856.5,249.2 858.0,249.9 859.5,250.7 861.0,251.5 862.5,252.2 864.0,252.8 865.5,255.0 867.0,257.5 868.5,260.0 870.0,262.7 871.5,265.7 873.0,268.8 874.5,272.0 876.0,275.2 877.5,277.9 879.0,280.1 880.5,282.4 882.0,284.7 883.5,287.1 885.0,289.7 886.5,293.7 888.0,297.7 889.5,301.8 891.0,305.7 892.5,309.0 894.0,311.9 895.5,315.0 897.0,318.4 898.5,322.1 900.0,326.0 901.5,330.0 903.0,334.0 904.5,338.1 906.0,342.3 907.5,346.5 909.0,350.3 910.5,354.1 912.0,355.9 913.5,357.3 915.0,358.9 916.5,360.4 918.0,361.9 919.5,363.3 921.0,364.0 922.5,364.4 924.0,365.0 925.5,365.5 927.0,366.0 928.5,366.4 930.0,366.6 931.5,366.7 933.0,366.9 934.5,367.0 936.0,367.1 937.5,367.3 939.0,367.4 940.5,367.6 942.0,367.7 943.5,367.9 945.0,368.0 946.5,368.2 948.0,368.4 949.5,368.5" stroke="#a4a4a4" stroke-width="1"/>
<polyline points="447.0,366.4 448.5,366.2 450.0,366.0 451.5,365.8 453.0,365.6 454.5,365.4 456.0,365.2 457.5,365.0 459.0,364.8 460.5,364.5 462.0,364.2 463.5,363.9 465.0,363.4 466.5,362.2 468.0,361.1 469.5,359.9 471.0,358.6 472.5,357.4 474.0,355.8 475.5,353.8 477.0,351.8 478.5,349.5 480.0,347.3 481.5,345.0 483.0,342.2 484.5,339.5 486.0,336.7 487.5,334.1 489.0,331.4 490.5,328.8 492.0,326.1 493.5,323.4 495.0,320.7 496.5,318.0 498.0,315.2 499.5,313.7 501.0,312.1 502.5,310.6 504.0,309.0 505.5,308.1 507.0,307.4 508.5,306.8 510.0,306.1 511.5,306.1 513.0,306.3 514.5,306.5 516.0,305.0 517.5,303.4 519.0,301.9 520.5,300.3 522.0,297.8 523.5,295.0 525.0,292.0 526.5,286.9 528.0,281.8 529.5,276.4 531.0,271.4 532.5,266.4 534.0,261.3 535.5,256.2 537.0,252.1 538.5,248.0 540.0,243.7 541.5,238.7 543.0,235.8 544.5,232.8 546.0,229.9 547.5,227.0 549.0,223.4 550.5,219.7 552.0,215.8 553.5,212.0 555.0,208.4 556.5,205.0 558.0,201.6 559.5,198.2 561.0,194.7 562.5,191.1 564.0,187.4 565.5,183.8 567.0,179.5 568.5,174.9 570.0,170.4 571.5,166.0 573.0,162.3 574.5,158.6 576.0,154.9 577.5,152.1 579.0,149.2 580.5,146.7 582.0,144.8 583.5,143.2 585.0,142.5 586.5,141.8 588.0,141.0 589.5,140.6 591.0,140.5 592.5,140.6 594.0,140.7 595.5,142.2 597.0,143.9 598.5,147.3 600.0,158.5 601.5,199.3 603.0,202.7 604.5,158.6 606.0,145.2 607.5,140.6 609.0,138.2 610.5,136.0 612.0,134.3 613.5,132.6 615.0,131.6 616.5,131.3 618.0,131.0 619.5,129.6 621.0,127.9 622.5,126.3 624.0,124.6 625.5,122.9 627.0,121.3 628.5,119.7 630.0,118.2 631.5,116.8 633.0,116.4 634.5,116.0 636.0,115.6 637.5,115.2 639.0,114.9 640.5,114.6 642.0,114.3 643.5,113.5 645.0,112.6 646.5,111.7 648.0,110.8 649.5,109.6 651.0,108.4 652.5,107.2 654.0,106.7 655.5,106.2 657.0,105.8 658.5,105.3 660.0,105.2 661.5,105.8 663.0,106.4 664.5,107.0 666.0,106.8 667.5,106.7 669.0,108.4 670.5,113.5 672.0,112.2 673.5,110.4 675.0,109.3 676.5,110.0 678.0,110.7 679.5,111.9 681.0,113.4 682.5,115.0 684.0,116.0 685.5,117.1 687.0,117.9 688.5,117.2 690.0,116.6 691.5,115.9 693.0,115.1 694.5,114.3 696.0,113.5 697.5,114.1 699.0,115.9 700.5,117.7 702.0,119.3 703.5,120.9 705.0,119.8 706.5,118.2 708.0,116.7 709.5,116.5 711.0,117.5 712.5,118.5 714.0,122.6 715.5,124.2 717.0,122.1 718.5,119.6 720.0,119.2 721.5,119.5 723.0,119.9 724.5,122.1 726.0,120.9 727.5,118.8 729.0,116.7 730.5,116.0 732.0,117.1 733.5,118.3 735.0,119.5 736.5,120.2 738.0,120.8 739.5,120.0 741.0,119.2 742.5,119.2 744.0,120.4 745.5,121.6 747.0,122.9 748.5,124.8 750.0,126.8 751.5,128.5 753.0,129.9 754.5,131.2 756.0,133.8 757.5,137.1 759.0,140.0 760.5,142.7 762.0,145.5 763.5,147.7 765.0,150.2 766.5,151.0 768.0,149.6 769.5,148.0 771.0,146.5 772.5,161.2 774.0,171.9 775.5,165.1 777.0,164.9 778.5,166.8 780.0,167.5 781.5,166.2 783.0,164.9 784.5,167.6 786.0,171.4 787.5,175.9 789.0,180.6 790.5,185.7 792.0,188.0 793.5,189.7 795.0,191.0 796.5,191.4 798.0,191.9 799.5,192.1 801.0,192.4 802.5,192.6 804.0,192.9 805.5,192.3 807.0,191.7 808.5,191.9 810.0,192.5 811.5,193.1 813.0,193.9 814.5,198.0 816.0,202.3 817.5,205.9 819.0,208.1 820.5,210.4 822.0,212.6 823.5,214.7 825.0,216.3 826.5,217.9 828.0,219.5 829.5,221.1 831.0,222.7 832.5,224.6 834.0,226.5 835.5,228.5 837.0,230.4 838.5,232.3 840.0,233.9 841.5,234.3 843.0,234.6 844.5,235.0 846.0,235.4 847.5,235.8 849.0,237.4 850.5,239.6 852.0,241.8 853.5,244.0 855.0,246.4 856.5,248.5 858.0,249.3 859.5,250.1 861.0,250.9 862.5,251.6 864.0,252.3 865.5,254.1 867.0,256.6 868.5,259.2 870.0,261.9 871.5,264.8 873.0,268.0 874.5,271.2 876.0,274.5 877.5,277.3 879.0,279.6 880.5,282.0 882.0,284.4 883.5,286.8 885.0,289.5 886.5,293.1 888.0,297.2 889.5,301.3 891.0,305.3 892.5,308.9 894.0,311.9 895.5,315.0 897.0,318.4 898.5,322.0 900.0,326.0 901.5,329.9 903.0,333.9 904.5,338.1 906.0,342.2 907.5,346.3 909.0,350.1 910.5,353.9 912.0,356.1 913.5,357.5 915.0,359.0 916.5,360.4 918.0,361.9 919.5,363.4 921.0,364.0 922.5,364.4 924.0,365.0 925.5,365.5 927.0,366.0 928.5,366.5 930.0,366.6 931.5,366.8 933.0,366.9 934.5,367.0 936.0,367.2 937.5,367.3 939.0,367.5 940.5,367.6 942.0,367.7 943.5,367.9 945.0,368.0 946.5,368.2 948.0,368.4 949.5,368.5" stroke="#a2a2a2" stroke-width="1"/>
<polyline points="447.0,366.7 448.5,366.5 450.0,366.3 451.5,366.1 453.0,366.0 454.5,365.8 456.0,365.6 457.5,365.4 459.0,365.2 460.5,365.0 462.0,364.7 463.5,364.4 465.0,364.0 466.5,362.8 468.0,361.6 469.5,360.4 471.0,359.2 472.5,358.0 474.0,356.3 475.5,354.3 477.0,352.2 478.5,350.0 480.0,347.7 481.5,345.4 483.0,342.6 484.5,339.9 486.0,337.1 487.5,334.4 489.0,331.7 490.5,329.0 492.0,326.3 493.5,323.6 495.0,320.8 496.5,318.1 498.0,315.3 499.5,313.8 501.0,312.2 502.5,310.7 504.0,309.1 505.5,308.3 507.0,307.6 508.5,306.9 510.0,306.2 511.5,306.3 513.0,306.6 514.5,306.9 516.0,305.4 517.5,303.8 519.0,302.2 520.5,300.7 522.0,298.2 523.5,295.3 525.0,292.4 526.5,287.1 528.0,281.9 529.5,276.4 531.0,271.4 532.5,266.4 534.0,261.3 535.5,256.2 537.0,251.9 538.5,247.5 540.0,243.1 541.5,238.0 543.0,235.0 544.5,232.1 546.0,229.1 547.5,226.2 549.0,222.6 550.5,218.9 552.0,215.0 553.5,211.1 555.0,207.6 556.5,204.2 558.0,200.8 559.5,197.4 561.0,193.8 562.5,190.2 564.0,186.5 565.5,182.8 567.0,178.5 568.5,173.8 570.0,169.1 571.5,164.7 573.0,160.9 574.5,157.2 576.0,153.4 577.5,150.5 579.0,147.7 580.5,145.1 582.0,143.2 583.5,141.7 585.0,141.1 586.5,140.5 588.0,139.9 589.5,139.5 591.0,139.4 592.5,139.7 594.0,139.9 595.5,141.5 597.0,143.2 598.5,146.9 600.0,158.0 601.5,199.3 603.0,202.7 604.5,158.1 606.0,144.8 607.5,140.2 609.0,137.9 610.5,135.7 612.0,134.0 613.5,132.2 615.0,131.2 616.5,130.9 618.0,130.6 619.5,129.1 621.0,127.4 622.5,125.6 624.0,123.8 625.5,122.1 627.0,120.4 628.5,118.8 630.0,117.2 631.5,115.7 633.0,115.3 634.5,114.9 636.0,114.4 637.5,114.1 639.0,113.7 640.5,113.4 642.0,113.0 643.5,112.2 645.0,111.3 646.5,110.3 648.0,109.4 649.5,108.2 651.0,106.8 652.5,105.6 654.0,105.0 655.5,104.5 657.0,104.0 658.5,103.5 660.0,103.3 661.5,103.9 663.0,104.5 664.5,105.1 666.0,105.0 667.5,104.8 669.0,106.5 670.5,111.9 672.0,110.6 673.5,108.7 675.0,107.5 676.5,108.3 678.0,109.0 679.5,110.3 681.0,112.0 682.5,113.6 684.0,114.7 685.5,115.9 687.0,116.6 688.5,115.9 690.0,115.2 691.5,114.4 693.0,113.6 694.5,112.8 696.0,112.0 697.5,112.6 699.0,114.4 700.5,116.3 702.0,117.9 703.5,119.4 705.0,118.1 706.5,116.5 708.0,114.8 709.5,114.5 711.0,115.5 712.5,116.4 714.0,120.6 715.5,122.3 717.0,120.0 718.5,117.4 720.0,117.0 721.5,117.3 723.0,117.8 724.5,120.0 726.0,118.8 727.5,116.6 729.0,114.5 730.5,113.7 732.0,114.9 733.5,116.1 735.0,117.2 736.5,117.9 738.0,118.5 739.5,117.6 741.0,116.7 742.5,116.6 744.0,117.8 745.5,119.1 747.0,120.3 748.5,122.3 750.0,124.3 751.5,126.0 753.0,127.4 754.5,128.8 756.0,131.5 757.5,134.8 759.0,137.8 760.5,140.6 762.0,143.4 763.5,145.7 765.0,148.3 766.5,149.0 768.0,147.7 769.5,145.8 771.0,144.8 772.5,156.4 774.0,170.2 775.5,163.6 777.0,162.6 778.5,164.4 780.0,165.3 781.5,164.2 783.0,163.1 784.5,165.2 786.0,169.1 787.5,173.6 789.0,178.3 790.5,183.3 792.0,186.1 793.5,187.8 795.0,189.4 796.5,189.8 798.0,190.2 799.5,190.5 801.0,190.7 802.5,191.0 804.0,191.2 805.5,190.7 807.0,190.2 808.5,190.4 810.0,191.0 811.5,191.7 813.0,192.3 814.5,195.8 816.0,200.1 817.5,204.3 819.0,206.5 820.5,208.8 822.0,211.1 823.5,213.3 825.0,215.0 826.5,216.7 828.0,218.3 829.5,219.9 831.0,221.6 832.5,223.5 834.0,225.4 835.5,227.3 837.0,229.2 838.5,231.1 840.0,232.9 841.5,233.5 843.0,233.9 844.5,234.3 846.0,234.7 847.5,235.1 849.0,236.3 850.5,238.6 852.0,240.8 853.5,243.0 855.0,245.4 856.5,247.6 858.0,248.6 859.5,249.4 861.0,250.3 862.5,251.1 864.0,251.8 865.5,253.1 867.0,255.7 868.5,258.4 870.0,261.1 871.5,263.9 873.0,267.2 874.5,270.4 876.0,273.7 877.5,276.7 879.0,279.1 880.5,281.6 882.0,284.0 883.5,286.6 885.0,289.2 886.5,292.5 888.0,296.7 889.5,300.8 891.0,304.9 892.5,308.8 894.0,311.9 895.5,315.0 897.0,318.4 898.5,321.9 900.0,325.9 901.5,329.9 903.0,333.8 904.5,338.0 906.0,342.1 907.5,346.2 909.0,349.9 910.5,353.7 912.0,356.4 913.5,357.7 915.0,359.1 916.5,360.5 918.0,361.9 919.5,363.3 921.0,364.0 922.5,364.4 924.0,365.0 925.5,365.5 927.0,366.0 928.5,366.5 930.0,366.7 931.5,366.8 933.0,366.9 934.5,367.1 936.0,367.2 937.5,367.4 939.0,367.5 940.5,367.6 942.0,367.8 943.5,367.9 945.0,368.0 946.5,368.2 948.0,368.4 949.5,368.5" stroke="#9f9f9f" stroke-width="1"/>
<polyline points="447.0,367.0 448.5,366.8 450.0,366.6 451.5,366.5 453.0,366.3 454.5,366.1 456.0,366.0 457.5,365.8 459.0,365.6 460.5,365.4 462.0,365.2 463.5,364.9 465.0,364.5 466.5,363.3 468.0,362.1 469.5,360.9 471.0,359.7 472.5,358.5 474.0,356.8 475.5,354.7 477.0,352.7 478.5,350.4 480.0,348.2 481.5,345.9 483.0,343.1 484.5,340.3 486.0,337.5 487.5,334.7 489.0,332.0 490.5,329.2 492.0,326.5 493.5,323.7 495.0,320.9 496.5,318.1 498.0,315.4 499.5,313.8 501.0,312.3 502.5,310.7 504.0,309.2 505.5,308.4 507.0,307.7 508.5,307.1 510.0,306.4 511.5,306.5 513.0,306.9 514.5,307.3 516.0,305.8 517.5,304.2 519.0,302.6 520.5,301.1 522.0,298.5 523.5,295.7 525.0,292.7 526.5,287.3 528.0,282.0 529.5,276.4 531.0,271.4 532.5,266.4 534.0,261.3 535.5,256.1 537.0,251.7 538.5,247.1 540.0,242.4 541.5,237.2 543.0,234.3 544.5,231.3 546.0,228.3 547.5,225.4 549.0,221.7 550.5,218.0 552.0,214.1 553.5,210.2 555.0,206.7 556.5,203.3 558.0,200.0 559.5,196.6 561.0,193.0 562.5,189.3 564.0,185.5 565.5,181.8 567.0,177.4 568.5,172.6 570.0,167.8 571.5,163.3 573.0,159.5 574.5,155.7 576.0,151.9 577.5,148.9 579.0,146.1 580.5,143.5 582.0,141.7 583.5,140.2 585.0,139.7 586.5,139.2 588.0,138.7 589.5,138.4 591.0,138.4 592.5,138.8 594.0,139.1 595.5,140.7 597.0,142.6 598.5,146.5 600.0,157.5 601.5,199.2 603.0,202.6 604.5,157.6 606.0,144.4 607.5,139.8 609.0,137.6 610.5,135.5 612.0,133.7 613.5,131.8 615.0,130.7 616.5,130.4 618.0,130.1 619.5,128.6 621.0,126.8 622.5,125.0 624.0,123.1 625.5,121.3 627.0,119.5 628.5,117.8 630.0,116.2 631.5,114.6 633.0,114.2 634.5,113.7 636.0,113.3 637.5,112.9 639.0,112.5 640.5,112.1 642.0,111.8 643.5,111.0 645.0,110.0 646.5,109.0 648.0,108.0 649.5,106.7 651.0,105.3 652.5,103.9 654.0,103.3 655.5,102.8 657.0,102.2 658.5,101.6 660.0,101.5 661.5,102.1 663.0,102.7 664.5,103.2 666.0,103.1 667.5,102.9 669.0,104.7 670.5,110.3 672.0,108.9 673.5,107.0 675.0,105.8 676.5,106.6 678.0,107.4 679.5,108.8 681.0,110.5 682.5,112.2 684.0,113.4 685.5,114.6 687.0,115.4 688.5,114.6 690.0,113.9 691.5,113.0 693.0,112.1 694.5,111.2 696.0,110.4 697.5,111.0 699.0,112.9 700.5,114.8 702.0,116.4 703.5,117.9 705.0,116.5 706.5,114.7 708.0,112.9 709.5,112.5 711.0,113.5 712.5,114.4 714.0,118.7 715.5,120.3 717.0,117.9 718.5,115.2 720.0,114.8 721.5,115.1 723.0,115.6 724.5,118.0 726.0,116.7 727.5,114.4 729.0,112.2 730.5,111.4 732.0,112.6 733.5,113.8 735.0,114.9 736.5,115.6 738.0,116.1 739.5,115.1 741.0,114.1 742.5,114.0 744.0,115.3 745.5,116.5 747.0,117.8 748.5,119.8 750.0,121.7 751.5,123.5 753.0,124.9 754.5,126.3 756.0,129.1 757.5,132.5 759.0,135.6 760.5,138.5 762.0,141.4 763.5,143.7 765.0,146.3 766.5,147.1 768.0,145.7 769.5,143.7 771.0,143.1 772.5,151.7 774.0,168.6 775.5,162.0 777.0,160.3 778.5,162.1 780.0,163.2 781.5,162.2 783.0,161.3 784.5,162.9 786.0,166.8 787.5,171.3 789.0,176.0 790.5,180.8 792.0,184.3 793.5,186.0 795.0,187.7 796.5,188.2 798.0,188.6 799.5,188.8 801.0,189.1 802.5,189.3 804.0,189.6 805.5,189.2 807.0,188.8 808.5,188.9 810.0,189.6 811.5,190.3 813.0,191.0 814.5,193.6 816.0,197.9 817.5,202.3 819.0,205.0 820.5,207.3 822.0,209.6 823.5,211.9 825.0,213.7 826.5,215.4 828.0,217.1 829.5,218.7 831.0,220.4 832.5,222.3 834.0,224.2 835.5,226.1 837.0,228.0 838.5,229.9 840.0,231.7 841.5,232.6 843.0,233.1 844.5,233.6 846.0,234.0 847.5,234.5 849.0,235.3 850.5,237.5 852.0,239.8 853.5,242.0 855.0,244.4 856.5,246.6 858.0,247.9 859.5,248.8 861.0,249.7 862.5,250.5 864.0,251.3 865.5,252.2 867.0,254.9 868.5,257.5 870.0,260.3 871.5,263.1 873.0,266.3 874.5,269.6 876.0,272.9 877.5,276.0 879.0,278.7 880.5,281.2 882.0,283.7 883.5,286.3 885.0,289.0 886.5,292.0 888.0,296.2 889.5,300.4 891.0,304.5 892.5,308.6 894.0,311.8 895.5,315.0 897.0,318.5 898.5,322.0 900.0,325.8 901.5,329.8 903.0,333.8 904.5,337.9 906.0,342.1 907.5,346.0 909.0,349.7 910.5,353.5 912.0,356.6 913.5,357.8 915.0,359.2 916.5,360.5 918.0,361.9 919.5,363.2 921.0,364.0 922.5,364.4 924.0,365.0 925.5,365.5 927.0,366.0 928.5,366.6 930.0,366.7 931.5,366.8 933.0,367.0 934.5,367.1 936.0,367.2 937.5,367.4 939.0,367.5 940.5,367.7 942.0,367.8 943.5,367.9 945.0,368.1 946.5,368.2 948.0,368.4 949.5,368.5" stroke="#9d9d9d" stroke-width="1"/>
<polyline points="447.0,367.2 448.5,367.1 450.0,366.9 451.5,366.8 453.0,366.6 454.5,366.5 456.0,366.4 457.5,366.2 459.0,366.1 460.5,365.9 462.0,365.7 463.5,365.4 465.0,365.1 466.5,363.9 468.0,362.7 469.5,361.5 471.0,360.2 472.5,359.0 474.0,357.3 475.5,355.2 477.0,353.1 478.5,350.9 480.0,348.6 481.5,346.3 483.0,343.5 484.5,340.6 486.0,337.8 487.5,335.0 489.0,332.2 490.5,329.5 492.0,326.7 493.5,323.9 495.0,321.1 496.5,318.2 498.0,315.4 499.5,313.9 501.0,312.3 502.5,310.8 504.0,309.3 505.5,308.5 507.0,307.9 508.5,307.2 510.0,306.6 511.5,306.8 513.0,307.2 514.5,307.6 516.0,306.1 517.5,304.6 519.0,303.0 520.5,301.5 522.0,298.9 523.5,296.0 525.0,293.0 526.5,287.5 528.0,282.0 529.5,276.5 531.0,271.4 532.5,266.3 534.0,261.2 535.5,256.1 537.0,251.5 538.5,246.7 540.0,241.8 541.5,236.5 543.0,233.5 544.5,230.5 546.0,227.6 547.5,224.6 549.0,220.9 550.5,217.1 552.0,213.2 553.5,209.3 555.0,205.8 556.5,202.5 558.0,199.1 559.5,195.8 561.0,192.1 562.5,188.4 564.0,184.6 565.5,180.8 567.0,176.3 568.5,171.4 570.0,166.6 571.5,162.0 573.0,158.1 574.5,154.2 576.0,150.3 577.5,147.4 579.0,144.5 580.5,141.9 582.0,140.1 583.5,138.7 585.0,138.3 586.5,137.9 588.0,137.5 589.5,137.3 591.0,137.4 592.5,137.8 594.0,138.3 595.5,140.0 597.0,142.0 598.5,146.0 600.0,157.0 601.5,199.1 603.0,202.5 604.5,157.1 606.0,143.9 607.5,139.4 609.0,137.3 610.5,135.2 612.0,133.3 613.5,131.5 615.0,130.3 616.5,130.0 618.0,129.6 619.5,128.1 621.0,126.2 622.5,124.3 624.0,122.4 625.5,120.5 627.0,118.6 628.5,116.9 630.0,115.2 631.5,113.6 633.0,113.1 634.5,112.6 636.0,112.1 637.5,111.7 639.0,111.3 640.5,110.9 642.0,110.5 643.5,109.7 645.0,108.6 646.5,107.6 648.0,106.6 649.5,105.2 651.0,103.7 652.5,102.3 654.0,101.7 655.5,101.0 657.0,100.4 658.5,99.8 660.0,99.6 661.5,100.2 663.0,100.8 664.5,101.4 666.0,101.2 667.5,101.0 669.0,102.8 670.5,108.7 672.0,107.3 673.5,105.3 675.0,104.1 676.5,104.9 678.0,105.8 679.5,107.2 681.0,109.1 682.5,110.9 684.0,112.1 685.5,113.4 687.0,114.1 688.5,113.3 690.0,112.5 691.5,111.6 693.0,110.7 694.5,109.7 696.0,108.8 697.5,109.4 699.0,111.3 700.5,113.3 702.0,114.9 703.5,116.4 705.0,114.9 706.5,113.0 708.0,111.0 709.5,110.5 711.0,111.4 712.5,112.3 714.0,116.7 715.5,118.4 717.0,115.8 718.5,112.9 720.0,112.6 721.5,112.9 723.0,113.4 724.5,115.9 726.0,114.5 727.5,112.2 729.0,109.9 730.5,109.1 732.0,110.3 733.5,111.5 735.0,112.7 736.5,113.3 738.0,113.8 739.5,112.7 741.0,111.6 742.5,111.5 744.0,112.7 745.5,113.9 747.0,115.2 748.5,117.2 750.0,119.2 751.5,121.1 753.0,122.5 754.5,123.9 756.0,126.7 757.5,130.3 759.0,133.4 760.5,136.4 762.0,139.4 763.5,141.8 765.0,144.4 766.5,145.2 768.0,143.7 769.5,141.7 771.0,141.4 772.5,146.9 774.0,167.0 775.5,160.5 777.0,157.9 778.5,159.7 780.0,161.0 781.5,160.3 783.0,159.5 784.5,160.5 786.0,164.5 787.5,169.0 789.0,173.6 790.5,178.4 792.0,182.5 793.5,184.1 795.0,185.8 796.5,186.5 798.0,186.9 799.5,187.2 801.0,187.4 802.5,187.7 804.0,188.0 805.5,187.7 807.0,187.4 808.5,187.4 810.0,188.2 811.5,188.9 813.0,189.7 814.5,191.3 816.0,195.7 817.5,200.1 819.0,203.4 820.5,205.7 822.0,208.1 823.5,210.4 825.0,212.5 826.5,214.2 828.0,215.9 829.5,217.6 831.0,219.3 832.5,221.1 834.0,223.0 835.5,225.0 837.0,226.9 838.5,228.8 840.0,230.6 841.5,231.8 843.0,232.3 844.5,232.8 846.0,233.4 847.5,233.9 849.0,234.6 850.5,236.5 852.0,238.7 853.5,241.0 855.0,243.3 856.5,245.6 858.0,247.2 859.5,248.2 861.0,249.1 862.5,250.0 864.0,250.8 865.5,251.7 867.0,254.0 868.5,256.7 870.0,259.5 871.5,262.3 873.0,265.5 874.5,268.8 876.0,272.1 877.5,275.3 879.0,278.2 880.5,280.8 882.0,283.4 883.5,286.0 885.0,288.8 886.5,291.5 888.0,295.7 889.5,299.9 891.0,304.1 892.5,308.3 894.0,311.8 895.5,315.0 897.0,318.5 898.5,322.0 900.0,325.7 901.5,329.7 903.0,333.7 904.5,337.8 906.0,342.0 907.5,345.9 909.0,349.6 910.5,353.2 912.0,356.8 913.5,358.0 915.0,359.3 916.5,360.6 918.0,361.9 919.5,363.1 921.0,364.0 922.5,364.4 924.0,365.0 925.5,365.5 927.0,366.0 928.5,366.6 930.0,366.8 931.5,366.9 933.0,367.0 934.5,367.2 936.0,367.3 937.5,367.4 939.0,367.5 940.5,367.7 942.0,367.8 943.5,367.9 945.0,368.1 946.5,368.2 948.0,368.4 949.5,368.5" stroke="#9b9b9b" stroke-width="1"/>
<polyline points="447.0,367.5 448.5,367.4 450.0,367.2 451.5,367.1 453.0,367.0 454.5,366.9 456.0,366.7 457.5,366.6 459.0,366.5 460.5,366.3 462.0,366.1 463.5,366.0 465.0,365.6 466.5,364.4 468.0,363.2 469.5,362.0 471.0,360.8 472.5,359.6 474.0,357.8 475.5,355.7 477.0,353.6 478.5,351.3 480.0,349.1 481.5,346.8 483.0,343.9 484.5,341.0 486.0,338.2 487.5,335.3 489.0,332.5 490.5,329.7 492.0,326.9 493.5,324.0 495.0,321.2 496.5,318.3 498.0,315.5 499.5,313.9 501.0,312.4 502.5,310.9 504.0,309.4 505.5,308.6 507.0,308.0 508.5,307.4 510.0,306.8 511.5,307.0 513.0,307.5 514.5,308.0 516.0,306.5 517.5,304.9 519.0,303.4 520.5,301.8 522.0,299.2 523.5,296.4 525.0,293.3 526.5,287.7 528.0,282.1 529.5,276.5 531.0,271.4 532.5,266.3 534.0,261.2 535.5,256.0 537.0,251.3 538.5,246.3 540.0,241.1 541.5,235.7 543.0,232.7 544.5,229.8 546.0,226.8 547.5,223.8 549.0,220.1 550.5,216.3 552.0,212.4 553.5,208.5 555.0,205.0 556.5,201.6 558.0,198.3 559.5,195.0 561.0,191.3 562.5,187.5 564.0,183.6 565.5,179.8 567.0,175.2 568.5,170.3 570.0,165.3 571.5,160.6 573.0,156.7 574.5,152.7 576.0,148.8 577.5,145.8 579.0,142.9 580.5,140.3 582.0,138.6 583.5,137.3 585.0,137.0 586.5,136.7 588.0,136.4 589.5,136.2 591.0,136.4 592.5,136.9 594.0,137.4 595.5,139.3 597.0,141.4 598.5,145.6 600.0,156.5 601.5,199.0 603.0,202.5 604.5,156.5 606.0,143.5 607.5,139.0 609.0,137.0 610.5,135.0 612.0,133.0 613.5,131.1 615.0,129.9 616.5,129.5 618.0,129.2 619.5,127.6 621.0,125.6 622.5,123.6 624.0,121.6 625.5,119.6 627.0,117.7 628.5,116.0 630.0,114.2 631.5,112.5 633.0,112.0 634.5,111.5 636.0,111.0 637.5,110.5 639.0,110.1 640.5,109.7 642.0,109.3 643.5,108.4 645.0,107.3 646.5,106.2 648.0,105.1 649.5,103.7 651.0,102.2 652.5,100.6 654.0,100.0 655.5,99.3 657.0,98.6 658.5,98.0 660.0,97.7 661.5,98.3 663.0,98.9 664.5,99.5 666.0,99.3 667.5,99.0 669.0,100.9 670.5,107.1 672.0,105.6 673.5,103.6 675.0,102.3 676.5,103.2 678.0,104.2 679.5,105.7 681.0,107.6 682.5,109.5 684.0,110.8 685.5,112.1 687.0,112.9 688.5,112.0 690.0,111.1 691.5,110.2 693.0,109.2 694.5,108.2 696.0,107.2 697.5,107.8 699.0,109.8 700.5,111.8 702.0,113.4 703.5,114.9 705.0,113.3 706.5,111.2 708.0,109.1 709.5,108.6 711.0,109.4 712.5,110.3 714.0,114.8 715.5,116.4 717.0,113.7 718.5,110.7 720.0,110.4 721.5,110.7 723.0,111.3 724.5,113.8 726.0,112.4 727.5,110.0 729.0,107.7 730.5,106.8 732.0,108.0 733.5,109.2 735.0,110.4 736.5,111.0 738.0,111.4 739.5,110.3 741.0,109.1 742.5,108.9 744.0,110.1 745.5,111.3 747.0,112.6 748.5,114.7 750.0,116.7 751.5,118.6 753.0,120.0 754.5,121.5 756.0,124.4 757.5,128.0 759.0,131.3 760.5,134.3 762.0,137.4 763.5,139.8 765.0,142.4 766.5,143.3 768.0,141.8 769.5,139.8 771.0,139.6 772.5,144.2 774.0,165.3 775.5,159.0 777.0,155.6 778.5,157.3 780.0,158.6 781.5,158.3 783.0,157.7 784.5,158.1 786.0,162.2 787.5,166.7 789.0,171.3 790.5,176.0 792.0,180.6 793.5,182.3 795.0,183.9 796.5,184.9 798.0,185.3 799.5,185.5 801.0,185.8 802.5,186.1 804.0,186.3 805.5,186.2 807.0,186.0 808.5,185.9 810.0,186.7 811.5,187.5 813.0,188.3 814.5,189.1 816.0,193.5 817.5,197.9 819.0,201.8 820.5,204.2 822.0,206.5 823.5,208.9 825.0,211.2 826.5,212.9 828.0,214.6 829.5,216.4 831.0,218.1 832.5,220.0 834.0,221.9 835.5,223.8 837.0,225.7 838.5,227.6 840.0,229.4 841.5,231.0 843.0,231.6 844.5,232.1 846.0,232.7 847.5,233.2 849.0,234.0 850.5,235.5 852.0,237.7 853.5,240.0 855.0,242.3 856.5,244.5 858.0,246.6 859.5,247.5 861.0,248.5 862.5,249.4 864.0,250.3 865.5,251.2 867.0,253.1 868.5,255.9 870.0,258.7 871.5,261.6 873.0,264.6 874.5,268.0 876.0,271.4 877.5,274.6 879.0,277.7 880.5,280.3 882.0,283.0 883.5,285.8 885.0,288.6 886.5,291.4 888.0,295.1 889.5,299.4 891.0,303.7 892.5,307.9 894.0,311.7 895.5,315.0 897.0,318.5 898.5,322.0 900.0,325.6 901.5,329.6 903.0,333.6 904.5,337.7 906.0,341.9 907.5,345.7 909.0,349.4 910.5,353.0 912.0,356.7 913.5,358.2 915.0,359.4 916.5,360.6 918.0,361.8 919.5,363.1 921.0,364.0 922.5,364.4 924.0,365.0 925.5,365.5 927.0,366.0 928.5,366.6 930.0,366.8 931.5,366.9 933.0,367.1 934.5,367.2 936.0,367.3 937.5,367.4 939.0,367.6 940.5,367.7 942.0,367.8 943.5,368.0 945.0,368.1 946.5,368.2 948.0,368.4 949.5,368.5" stroke="#989898" stroke-width="1"/>
<polyline points="447.0,367.8 448.5,367.7 450.0,367.6 451.5,367.4 453.0,367.3 454.5,367.2 456.0,367.1 457.5,367.0 459.0,366.9 460.5,366.8 462.0,366.6 463.5,366.5 465.0,366.2 466.5,365.0 468.0,363.8 469.5,362.5 471.0,361.3 472.5,360.1 474.0,358.3 475.5,356.2 477.0,354.0 478.5,351.8 480.0,349.5 481.5,347.2 483.0,344.3 484.5,341.4 486.0,338.5 487.5,335.6 489.0,332.8 490.5,329.9 492.0,327.1 493.5,324.2 495.0,321.3 496.5,318.4 498.0,315.5 499.5,314.0 501.0,312.5 502.5,311.0 504.0,309.4 505.5,308.7 507.0,308.1 508.5,307.6 510.0,307.0 511.5,307.2 513.0,307.8 514.5,308.4 516.0,306.9 517.5,305.3 519.0,303.8 520.5,302.2 522.0,299.6 523.5,296.7 525.0,293.6 526.5,287.9 528.0,282.2 529.5,276.6 531.0,271.4 532.5,266.3 534.0,261.2 535.5,255.9 537.0,251.1 538.5,245.8 540.0,240.5 541.5,235.0 543.0,232.0 544.5,229.0 546.0,226.0 547.5,223.0 549.0,219.2 550.5,215.4 552.0,211.5 553.5,207.6 555.0,204.1 556.5,200.8 558.0,197.5 559.5,194.1 561.0,190.5 562.5,186.6 564.0,182.7 565.5,178.8 567.0,174.2 568.5,169.1 570.0,164.1 571.5,159.3 573.0,155.3 574.5,151.3 576.0,147.3 577.5,144.3 579.0,141.3 580.5,138.7 582.0,137.0 583.5,135.8 585.0,135.6 586.5,135.4 588.0,135.2 589.5,135.1 591.0,135.4 592.5,136.0 594.0,136.6 595.5,138.6 597.0,140.8 598.5,145.2 600.0,155.9 601.5,199.0 603.0,202.4 604.5,156.0 606.0,143.1 607.5,138.6 609.0,136.7 610.5,134.7 612.0,132.7 613.5,130.7 615.0,129.4 616.5,129.1 618.0,128.7 619.5,127.0 621.0,125.0 622.5,123.0 624.0,120.9 625.5,118.8 627.0,116.9 628.5,115.0 630.0,113.2 631.5,111.4 633.0,110.9 634.5,110.3 636.0,109.8 637.5,109.4 639.0,108.9 640.5,108.5 642.0,108.1 643.5,107.1 645.0,106.0 646.5,104.8 648.0,103.7 649.5,102.2 651.0,100.6 652.5,99.0 654.0,98.3 655.5,97.6 657.0,96.9 658.5,96.2 660.0,95.9 661.5,96.5 663.0,97.1 664.5,97.7 666.0,97.4 667.5,97.1 669.0,99.1 670.5,105.5 672.0,104.0 673.5,101.9 675.0,100.6 676.5,101.6 678.0,102.5 679.5,104.1 681.0,106.1 682.5,108.1 684.0,109.5 685.5,110.9 687.0,111.6 688.5,110.7 690.0,109.8 691.5,108.8 693.0,107.7 694.5,106.6 696.0,105.6 697.5,106.2 699.0,108.3 700.5,110.3 702.0,111.9 703.5,113.5 705.0,111.7 706.5,109.4 708.0,107.2 709.5,106.6 711.0,107.4 712.5,108.2 714.0,112.8 715.5,114.5 717.0,111.6 718.5,108.5 720.0,108.2 721.5,108.5 723.0,109.1 724.5,111.8 726.0,110.3 727.5,107.9 729.0,105.4 730.5,104.6 732.0,105.7 733.5,106.9 735.0,108.1 736.5,108.7 738.0,109.1 739.5,107.8 741.0,106.6 742.5,106.3 744.0,107.5 745.5,108.8 747.0,110.1 748.5,112.1 750.0,114.2 751.5,116.1 753.0,117.6 754.5,119.0 756.0,122.0 757.5,125.7 759.0,129.1 760.5,132.2 762.0,135.4 763.5,137.8 765.0,140.4 766.5,141.4 768.0,139.8 769.5,137.9 771.0,137.9 772.5,142.0 774.0,163.7 775.5,157.4 777.0,153.3 778.5,154.9 780.0,156.3 781.5,156.3 783.0,155.8 784.5,155.7 786.0,159.9 787.5,164.4 789.0,168.9 790.5,173.6 792.0,178.3 793.5,180.4 795.0,182.0 796.5,183.3 798.0,183.6 799.5,183.9 801.0,184.2 802.5,184.4 804.0,184.7 805.5,184.6 807.0,184.6 808.5,184.5 810.0,185.3 811.5,186.1 813.0,187.0 814.5,187.9 816.0,191.4 817.5,195.8 819.0,200.2 820.5,202.6 822.0,205.0 823.5,207.4 825.0,209.8 826.5,211.7 828.0,213.4 829.5,215.2 831.0,217.0 832.5,218.8 834.0,220.7 835.5,222.6 837.0,224.5 838.5,226.4 840.0,228.2 841.5,230.0 843.0,230.8 844.5,231.4 846.0,232.0 847.5,232.6 849.0,233.3 850.5,234.5 852.0,236.7 853.5,239.0 855.0,241.3 856.5,243.5 858.0,245.7 859.5,246.9 861.0,247.9 862.5,248.9 864.0,249.8 865.5,250.8 867.0,252.2 868.5,255.1 870.0,258.0 871.5,260.8 873.0,263.8 874.5,267.2 876.0,270.6 877.5,273.9 879.0,277.2 880.5,279.9 882.0,282.7 883.5,285.5 885.0,288.3 886.5,291.2 888.0,294.6 889.5,299.0 891.0,303.3 892.5,307.6 894.0,311.7 895.5,315.1 897.0,318.5 898.5,322.0 900.0,325.6 901.5,329.5 903.0,333.5 904.5,337.6 906.0,341.8 907.5,345.6 909.0,349.2 910.5,352.8 912.0,356.4 913.5,358.3 915.0,359.5 916.5,360.7 918.0,361.8 919.5,363.0 921.0,363.9 922.5,364.4 924.0,365.0 925.5,365.5 927.0,366.0 928.5,366.6 930.0,366.9 931.5,367.0 933.0,367.1 934.5,367.2 936.0,367.4 937.5,367.5 939.0,367.6 940.5,367.7 942.0,367.8 943.5,368.0 945.0,368.1 946.5,368.2 948.0,368.4 949.5,368.5" stroke="#969696" stroke-width="1"/>
<polyline points="447.0,368.0 448.5,367.9 450.0,367.9 451.5,367.8 453.0,367.7 454.5,367.6 456.0,367.5 457.5,367.4 459.0,367.3 460.5,367.2 462.0,367.1 463.5,367.0 465.0,366.7 466.5,365.5 468.0,364.3 469.5,363.1 471.0,361.9 472.5,360.6 474.0,358.8 475.5,356.7 477.0,354.5 478.5,352.2 480.0,350.0 481.5,347.7 483.0,344.8 484.5,341.8 486.0,338.9 487.5,336.0 489.0,333.1 490.5,330.1 492.0,327.3 493.5,324.3 495.0,321.4 496.5,318.5 498.0,315.6 499.5,314.1 501.0,312.6 502.5,311.0 504.0,309.5 505.5,308.8 507.0,308.3 508.5,307.7 510.0,307.2 511.5,307.5 513.0,308.1 514.5,308.8 516.0,307.2 517.5,305.7 519.0,304.2 520.5,302.6 522.0,300.0 523.5,297.1 525.0,294.0 526.5,288.1 528.0,282.3 529.5,276.6 531.0,271.5 532.5,266.3 534.0,261.1 535.5,255.9 537.0,250.9 538.5,245.4 540.0,239.8 541.5,234.2 543.0,231.2 544.5,228.2 546.0,225.2 547.5,222.2 549.0,218.4 550.5,214.5 552.0,210.6 553.5,206.7 555.0,203.2 556.5,199.9 558.0,196.6 559.5,193.3 561.0,189.6 562.5,185.7 564.0,181.8 565.5,177.8 567.0,173.1 568.5,168.0 570.0,162.8 571.5,158.0 573.0,153.9 574.5,149.8 576.0,145.7 577.5,142.7 579.0,139.7 580.5,137.1 582.0,135.5 583.5,134.3 585.0,134.2 586.5,134.1 588.0,134.0 589.5,134.0 591.0,134.4 592.5,135.1 594.0,135.8 595.5,137.9 597.0,140.2 598.5,144.8 600.0,155.4 601.5,198.9 603.0,202.3 604.5,155.5 606.0,142.7 607.5,138.1 609.0,136.3 610.5,134.5 612.0,132.4 613.5,130.3 615.0,129.0 616.5,128.6 618.0,128.3 619.5,126.5 621.0,124.4 622.5,122.3 624.0,120.2 625.5,118.0 627.0,116.0 628.5,114.1 630.0,112.1 631.5,110.3 633.0,109.8 634.5,109.2 636.0,108.7 637.5,108.2 639.0,107.7 640.5,107.3 642.0,106.8 643.5,105.8 645.0,104.6 646.5,103.5 648.0,102.3 649.5,100.7 651.0,99.0 652.5,97.4 654.0,96.6 655.5,95.8 657.0,95.1 658.5,94.3 660.0,94.0 661.5,94.6 663.0,95.2 664.5,95.8 666.0,95.5 667.5,95.2 669.0,97.2 670.5,103.9 672.0,102.3 673.5,100.2 675.0,98.9 676.5,99.9 678.0,100.9 679.5,102.6 681.0,104.7 682.5,106.8 684.0,108.2 685.5,109.6 687.0,110.4 688.5,109.4 690.0,108.4 691.5,107.4 693.0,106.2 694.5,105.1 696.0,104.0 697.5,104.6 699.0,106.7 700.5,108.9 702.0,110.5 703.5,112.0 705.0,110.1 706.5,107.7 708.0,105.3 709.5,104.6 711.0,105.4 712.5,106.2 714.0,110.9 715.5,112.5 717.0,109.5 718.5,106.3 720.0,105.9 721.5,106.3 723.0,106.9 724.5,109.7 726.0,108.2 727.5,105.7 729.0,103.1 730.5,102.3 732.0,103.4 733.5,104.6 735.0,105.8 736.5,106.4 738.0,106.8 739.5,105.4 741.0,104.1 742.5,103.7 744.0,105.0 745.5,106.2 747.0,107.5 748.5,109.6 750.0,111.7 751.5,113.6 753.0,115.1 754.5,116.6 756.0,119.6 757.5,123.5 759.0,126.9 760.5,130.1 762.0,133.3 763.5,135.9 765.0,138.5 766.5,139.5 768.0,137.8 769.5,135.9 771.0,136.2 772.5,139.7 774.0,162.1 775.5,155.9 777.0,151.0 778.5,152.6 780.0,154.0 781.5,154.3 783.0,154.0 784.5,153.7 786.0,157.6 787.5,162.1 789.0,166.6 790.5,171.2 792.0,175.8 793.5,178.5 795.0,180.1 796.5,181.6 798.0,182.0 799.5,182.2 801.0,182.5 802.5,182.8 804.0,183.1 805.5,183.1 807.0,183.2 808.5,183.2 810.0,183.8 811.5,184.8 813.0,185.7 814.5,186.6 816.0,189.2 817.5,193.6 819.0,198.1 820.5,201.1 822.0,203.5 823.5,205.9 825.0,208.4 826.5,210.4 828.0,212.2 829.5,214.0 831.0,215.8 832.5,217.7 834.0,219.6 835.5,221.4 837.0,223.3 838.5,225.2 840.0,227.1 841.5,228.9 843.0,230.0 844.5,230.7 846.0,231.3 847.5,232.0 849.0,232.7 850.5,233.4 852.0,235.7 853.5,237.9 855.0,240.2 856.5,242.5 858.0,244.7 859.5,246.3 861.0,247.3 862.5,248.3 864.0,249.3 865.5,250.3 867.0,251.4 868.5,254.2 870.0,257.2 871.5,260.1 873.0,263.0 874.5,266.4 876.0,269.8 877.5,273.2 879.0,276.6 880.5,279.5 882.0,282.4 883.5,285.2 885.0,288.1 886.5,291.0 888.0,294.1 889.5,298.5 891.0,302.9 892.5,307.3 894.0,311.6 895.5,315.1 897.0,318.5 898.5,322.0 900.0,325.6 901.5,329.5 903.0,333.4 904.5,337.5 906.0,341.6 907.5,345.4 909.0,349.0 910.5,352.6 912.0,356.2 913.5,358.5 915.0,359.6 916.5,360.7 918.0,361.8 919.5,362.9 921.0,363.9 922.5,364.4 924.0,365.0 925.5,365.5 927.0,366.0 928.5,366.6 930.0,366.9 931.5,367.0 933.0,367.2 934.5,367.3 936.0,367.4 937.5,367.5 939.0,367.6 940.5,367.7 942.0,367.9 943.5,368.0 945.0,368.1 946.5,368.2 948.0,368.4 949.5,368.5" stroke="#949494" stroke-width="1"/>
<polyline points="447.0,368.3 448.5,368.2 450.0,368.2 451.5,368.1 453.0,368.0 454.5,368.0 456.0,367.9 457.5,367.8 459.0,367.8 460.5,367.7 462.0,367.6 463.5,367.5 465.0,367.3 466.5,366.1 468.0,364.8 469.5,363.6 471.0,362.4 472.5,361.2 474.0,359.3 475.5,357.1 477.0,354.9 478.5,352.7 480.0,350.4 481.5,348.1 483.0,345.2 484.5,342.2 486.0,339.2 487.5,336.3 489.0,333.3 490.5,330.4 492.0,327.4 493.5,324.5 495.0,321.5 496.5,318.6 498.0,315.6 499.5,314.1 501.0,312.6 502.5,311.1 504.0,309.6 505.5,308.9 507.0,308.4 508.5,307.9 510.0,307.4 511.5,307.7 513.0,308.4 514.5,309.1 516.0,307.6 517.5,306.1 519.0,304.5 520.5,303.0 522.0,300.3 523.5,297.4 525.0,294.3 526.5,288.3 528.0,282.4 529.5,276.6 531.0,271.5 532.5,266.3 534.0,261.1 535.5,255.8 537.0,250.7 538.5,245.0 540.0,239.2 541.5,233.5 543.0,230.4 544.5,227.4 546.0,224.4 547.5,221.4 549.0,217.6 550.5,213.7 552.0,209.7 553.5,205.8 555.0,202.4 556.5,199.1 558.0,195.8 559.5,192.5 561.0,188.8 562.5,184.8 564.0,180.8 565.5,176.8 567.0,172.0 568.5,166.8 570.0,161.6 571.5,156.6 573.0,152.5 574.5,148.3 576.0,144.2 577.5,141.1 579.0,138.1 580.5,135.5 582.0,133.9 583.5,132.8 585.0,132.8 586.5,132.9 588.0,132.9 589.5,132.9 591.0,133.4 592.5,134.2 594.0,135.0 595.5,137.2 597.0,139.6 598.5,144.3 600.0,154.9 601.5,198.8 603.0,202.3 604.5,154.9 606.0,142.3 607.5,137.7 609.0,136.0 610.5,134.2 612.0,132.1 613.5,129.9 615.0,128.6 616.5,128.2 618.0,127.8 619.5,126.0 621.0,123.8 622.5,121.7 624.0,119.4 625.5,117.2 627.0,115.1 628.5,113.1 630.0,111.1 631.5,109.2 633.0,108.7 634.5,108.1 636.0,107.5 637.5,107.0 639.0,106.5 640.5,106.1 642.0,105.6 643.5,104.5 645.0,103.3 646.5,102.1 648.0,100.9 649.5,99.2 651.0,97.5 652.5,95.7 654.0,94.9 655.5,94.1 657.0,93.3 658.5,92.5 660.0,92.2 661.5,92.8 663.0,93.4 664.5,94.0 666.0,93.6 667.5,93.3 669.0,95.4 670.5,102.3 672.0,100.7 673.5,98.5 675.0,97.1 676.5,98.2 678.0,99.3 679.5,101.0 681.0,103.2 682.5,105.4 684.0,106.9 685.5,108.4 687.0,109.2 688.5,108.1 690.0,107.1 691.5,105.9 693.0,104.8 694.5,103.6 696.0,102.4 697.5,103.0 699.0,105.2 700.5,107.4 702.0,109.0 703.5,110.5 705.0,108.5 706.5,105.9 708.0,103.4 709.5,102.6 711.0,103.3 712.5,104.1 714.0,108.9 715.5,110.6 717.0,107.4 718.5,104.1 720.0,103.7 721.5,104.1 723.0,104.8 724.5,107.7 726.0,106.1 727.5,103.5 729.0,100.8 730.5,100.0 732.0,101.2 733.5,102.4 735.0,103.5 736.5,104.0 738.0,104.4 739.5,103.0 741.0,101.5 742.5,101.2 744.0,102.4 745.5,103.6 747.0,104.9 748.5,107.1 750.0,109.2 751.5,111.2 753.0,112.7 754.5,114.1 756.0,117.3 757.5,121.2 759.0,124.7 760.5,128.0 762.0,131.3 763.5,133.9 765.0,136.5 766.5,137.6 768.0,135.8 769.5,134.0 771.0,134.5 772.5,137.5 774.0,160.4 775.5,154.3 777.0,148.6 778.5,150.2 780.0,151.6 781.5,152.4 783.0,152.2 784.5,152.0 786.0,155.3 787.5,159.8 789.0,164.2 790.5,168.8 792.0,173.4 793.5,176.7 795.0,178.2 796.5,179.7 798.0,180.3 799.5,180.6 801.0,180.9 802.5,181.1 804.0,181.4 805.5,181.6 807.0,181.8 808.5,181.9 810.0,182.4 811.5,183.4 813.0,184.3 814.5,185.3 816.0,187.0 817.5,191.5 819.0,196.0 820.5,199.5 822.0,202.0 823.5,204.5 825.0,206.9 826.5,209.2 828.0,211.0 829.5,212.8 831.0,214.7 832.5,216.5 834.0,218.4 835.5,220.3 837.0,222.2 838.5,224.0 840.0,225.9 841.5,227.7 843.0,229.3 844.5,230.0 846.0,230.7 847.5,231.4 849.0,232.1 850.5,232.8 852.0,234.7 853.5,236.9 855.0,239.2 856.5,241.5 858.0,243.7 859.5,245.6 861.0,246.7 862.5,247.8 864.0,248.9 865.5,249.9 867.0,251.0 868.5,253.4 870.0,256.4 871.5,259.3 873.0,262.3 874.5,265.6 876.0,269.1 877.5,272.5 879.0,275.9 880.5,279.1 882.0,282.0 883.5,284.9 885.0,287.9 886.5,290.8 888.0,293.7 889.5,298.1 891.0,302.5 892.5,306.9 894.0,311.4 895.5,315.1 897.0,318.6 898.5,322.1 900.0,325.6 901.5,329.4 903.0,333.4 904.5,337.4 906.0,341.4 907.5,345.3 909.0,348.8 910.5,352.4 912.0,355.9 913.5,358.7 915.0,359.7 916.5,360.8 918.0,361.8 919.5,362.9 921.0,363.9 922.5,364.4 924.0,365.0 925.5,365.5 927.0,366.0 928.5,366.6 930.0,367.0 931.5,367.1 933.0,367.2 934.5,367.3 936.0,367.4 937.5,367.5 939.0,367.7 940.5,367.8 942.0,367.9 943.5,368.0 945.0,368.1 946.5,368.2 948.0,368.4 949.5,368.5" stroke="#919191" stroke-width="1"/>
<polyline points="446.0,368.6 464.8,368.0 473.1,361.2 481.4,348.8 489.7,332.2 498.0,315.7 504.2,309.5 510.4,307.4 514.5,309.5 520.7,303.2 524.9,295.0 529.0,278.4 533.2,263.9 537.3,249.4 541.4,232.9 547.6,220.4 553.9,203.9 560.0,190.6 566.0,174.5 571.1,156.4 576.1,142.4 580.1,134.3 583.1,131.3 590.2,131.9 594.2,134.3 597.2,139.3 599.2,146.4 600.2,156.4 601.2,190.6 602.2,217.7 603.6,190.6 604.6,150.4 606.6,138.3 610.3,134.3 614.3,128.3 618.3,127.3 622.3,121.3 626.3,115.2 631.4,108.2 636.4,106.2 642.4,104.2 648.4,99.1 652.5,94.1 659.5,90.1 664.5,92.1 668.5,91.1 670.6,101.2 674.6,95.1 678.6,98.1 682.6,104.2 686.6,108.2 690.7,105.2 696.7,100.2 700.7,106.2 703.7,109.2 708.7,100.2 712.8,102.2 714.8,110.2 718.8,101.2 722.8,102.2 724.8,106.2 729.8,97.1 734.9,101.2 737.9,102.2 741.9,98.1 746.9,102.2 751.0,108.2 755.0,112.2 758.0,120.3 762.0,129.3 766.0,136.3 770.1,131.3 773.1,136.3 774.1,158.4 777.1,146.4 781.1,150.4 785.1,150.4 789.2,162.5 793.2,174.5 797.2,178.5 809.9,180.9 816.1,185.1 820.2,197.5 826.4,207.8 834.7,218.1 843.0,228.5 851.3,232.6 859.5,245.0 867.8,251.2 874.0,263.6 880.2,278.1 888.5,294.6 894.7,313.2 900.9,327.7 907.1,344.2 913.3,358.7 921.5,364.1 929.8,367.0 950.0,368.5" stroke="#000" stroke-width="3.9"/>
</g>
<path d="M573.35 368.1v-5.5M573.35 41.4v5.5M698.30 368.1v-5.5M698.30 41.4v5.5M823.25 368.1v-5.5M823.25 41.4v5.5M448.4 204.75h5.5M948.2 204.75h-5.5" stroke="#262626" stroke-width="1.3" fill="none"/>
<rect x="448.4" y="41.4" width="499.8" height="326.7" stroke="#262626" stroke-width="1.3" fill="none"/>
<rect x="189" y="622.7" width="508.4" height="87.2" fill="#fff" stroke="#262626" stroke-width="1.3"/>
<path d="M207 646.3H289.6" stroke="#000" stroke-width="6.4"/>
<path d="M207 686.5H289.6" stroke="#999" stroke-width="1.1"/>
<text x="298.0" y="654.7" style="font-family:'Liberation Serif',serif;fill:#111;font-size:34.0px" textLength="59.0" lengthAdjust="spacingAndGlyphs">FoV</text>
<text x="369.7" y="654.7" style="font-family:'Liberation Serif',serif;fill:#111;font-size:34.0px" textLength="85.2" lengthAdjust="spacingAndGlyphs">center</text>
<text x="298.0" y="695.0" style="font-family:'Liberation Serif',serif;fill:#111;font-size:34.0px" textLength="92.3" lengthAdjust="spacingAndGlyphs">Radial</text>
<text x="404.4" y="695.0" style="font-family:'Liberation Serif',serif;fill:#111;font-size:34.0px" textLength="137.1" lengthAdjust="spacingAndGlyphs">distances:</text>
<text x="558.2" y="695.0" style="font-family:'Liberation Serif',serif;fill:#111;font-size:34.0px" textLength="57.7" lengthAdjust="spacingAndGlyphs">0-10</text>
<text x="631.3" y="695.0" style="font-family:'Liberation Serif',serif;fill:#111;font-size:34.0px" textLength="48.7" lengthAdjust="spacingAndGlyphs">deg</text>
<g style="font-family:'DejaVu Sans',sans-serif;fill:#262626;font-size:38.5px" text-anchor="middle">
<text x="157.0" y="760">200</text>
<text x="341.4" y="760">400</text>
<text x="525.8" y="760">600</text>
<text x="710.3" y="760">800</text>
<text x="894.7" y="760">1000</text>
<text x="446.9" y="419.2">220</text>
<text x="571.9" y="419.2">240</text>
<text x="696.8" y="419.2">260</text>
<text x="821.8" y="419.2">280</text>
<text x="946.7" y="419.2">300</text>
</g>
<g style="font-family:'DejaVu Sans',sans-serif;fill:#262626;font-size:38.5px" text-anchor="end">
<text x="433" y="383.3">0</text>
<text x="433" y="219.9">0.2</text>
<text x="433" y="56.6">0.4</text>
</g>
<text x="144.5" y="42.0" text-anchor="end" style="font-family:'DejaVu Sans',sans-serif;fill:#262626;font-size:38.5px">10<tspan dy="-18.5" style="font-size:31.5px">0</tspan></text>
<text x="143.0" y="260.2" text-anchor="end" style="font-family:'DejaVu Sans',sans-serif;fill:#262626;font-size:38.5px">10<tspan dy="-18.5" style="font-size:31.5px">-2</tspan></text>
<text x="143.0" y="478.3" text-anchor="end" style="font-family:'DejaVu Sans',sans-serif;fill:#262626;font-size:38.5px">10<tspan dy="-18.5" style="font-size:31.5px">-4</tspan></text>
<text x="143.0" y="696.5" text-anchor="end" style="font-family:'DejaVu Sans',sans-serif;fill:#262626;font-size:38.5px">10<tspan dy="-18.5" style="font-size:31.5px">-6</tspan></text>
<text x="392.6" y="813.9" style="font-family:'Liberation Serif',serif;fill:#333;font-size:50.0px" textLength="249.0" lengthAdjust="spacingAndGlyphs">Wavelength</text>
<text x="664.0" y="813.9" style="font-family:'Liberation Serif',serif;fill:#333;font-size:50.0px" textLength="90.4" lengthAdjust="spacingAndGlyphs">[nm]</text>
<text transform="translate(36.3,551.4) rotate(-90)" style="font-family:'Liberation Serif',serif;fill:#333;font-size:50.0px" textLength="111.7" lengthAdjust="spacingAndGlyphs">Total</text>
<text transform="translate(36.3,418.9) rotate(-90)" style="font-family:'Liberation Serif',serif;fill:#333;font-size:50.0px" textLength="242.4" lengthAdjust="spacingAndGlyphs">throughput</text>
<path d="M1364.16 25.0V718.0M1538.12 25.0V718.0M1712.08 25.0V718.0M1886.04 25.0V718.0M1190.2 592.00H2060.0M1190.2 466.00H2060.0M1190.2 340.00H2060.0M1190.2 214.00H2060.0M1190.2 88.00H2060.0" stroke="#dedede" stroke-width="1.3" fill="none"/>
<circle cx="1203.4" cy="611.9" r="9.2" fill="#0000ff"/>
<circle cx="1207.3" cy="659.1" r="9.2" fill="#0000ff"/>
<circle cx="1217.1" cy="656.0" r="9.2" fill="#0000ff"/>
<circle cx="1239.7" cy="637.7" r="9.2" fill="#0000ff"/>
<circle cx="1261.2" cy="605.3" r="9.2" fill="#0000ff"/>
<circle cx="1282.6" cy="568.2" r="9.2" fill="#0000ff"/>
<circle cx="1295.1" cy="538.1" r="9.2" fill="#0000ff"/>
<circle cx="1304.5" cy="515.1" r="9.2" fill="#0000ff"/>
<circle cx="1316.2" cy="495.2" r="9.2" fill="#0000ff"/>
<circle cx="1323.6" cy="475.3" r="9.2" fill="#0000ff"/>
<circle cx="1335.3" cy="468.3" r="9.2" fill="#0000ff"/>
<circle cx="1349.0" cy="450.0" r="9.2" fill="#0000ff"/>
<circle cx="1363.8" cy="445.3" r="9.2" fill="#0000ff"/>
<circle cx="1387.2" cy="418.3" r="9.2" fill="#0000ff"/>
<circle cx="1405.6" cy="404.0" r="9.2" fill="#0000ff"/>
<circle cx="1414.5" cy="380.0" r="9.2" fill="#0000ff"/>
<circle cx="1424.0" cy="388.0" r="9.2" fill="#0000ff"/>
<circle cx="1436.5" cy="347.0" r="9.2" fill="#0000ff"/>
<circle cx="1445.0" cy="328.0" r="9.2" fill="#0000ff"/>
<circle cx="1456.5" cy="320.5" r="9.2" fill="#0000ff"/>
<circle cx="1462.5" cy="308.0" r="9.2" fill="#0000ff"/>
<circle cx="1475.5" cy="286.0" r="9.2" fill="#0000ff"/>
<circle cx="1486.0" cy="255.0" r="9.2" fill="#0000ff"/>
<circle cx="1506.0" cy="259.0" r="9.2" fill="#0000ff"/>
<circle cx="1525.5" cy="183.5" r="9.2" fill="#0000ff"/>
<circle cx="1549.0" cy="157.5" r="9.2" fill="#0000ff"/>
<circle cx="1569.0" cy="128.5" r="9.2" fill="#0000ff"/>
<circle cx="1606.5" cy="104.5" r="9.2" fill="#0000ff"/>
<circle cx="1626.5" cy="89.0" r="9.2" fill="#0000ff"/>
<circle cx="1653.5" cy="89.5" r="9.2" fill="#0000ff"/>
<circle cx="1678.0" cy="90.5" r="9.2" fill="#0000ff"/>
<circle cx="1746.5" cy="95.5" r="9.2" fill="#0000ff"/>
<circle cx="1810.0" cy="102.5" r="9.2" fill="#0000ff"/>
<circle cx="1868.0" cy="114.0" r="9.2" fill="#0000ff"/>
<circle cx="1975.5" cy="131.0" r="9.2" fill="#0000ff"/>
<circle cx="1220.2" cy="669.3" r="9.2" fill="#ff0000"/>
<circle cx="1231.9" cy="658.3" r="9.2" fill="#ff0000"/>
<circle cx="1257.3" cy="633.4" r="9.2" fill="#ff0000"/>
<circle cx="1339.2" cy="545.2" r="9.2" fill="#ff0000"/>
<circle cx="1381.4" cy="496.4" r="9.2" fill="#ff0000"/>
<circle cx="1450.0" cy="411.5" r="9.2" fill="#ff0000"/>
<circle cx="1578.5" cy="239.0" r="9.2" fill="#ff0000"/>
<circle cx="1915.0" cy="131.0" r="9.2" fill="#ff0000"/>
<path d="M1364.16 718.0v-9M1364.16 25.0v9M1538.12 718.0v-9M1538.12 25.0v9M1712.08 718.0v-9M1712.08 25.0v9M1886.04 718.0v-9M1886.04 25.0v9M1190.2 592.00h9M2060.0 592.00h-9M1190.2 466.00h9M2060.0 466.00h-9M1190.2 340.00h9M2060.0 340.00h-9M1190.2 214.00h9M2060.0 214.00h-9M1190.2 88.00h9M2060.0 88.00h-9" stroke="#262626" stroke-width="1.5" fill="none"/>
<rect x="1190.2" y="25.0" width="869.8" height="693.0" stroke="#262626" stroke-width="1.5" fill="none"/>
<rect x="1380" y="595.3" width="490" height="107.3" fill="#fff" stroke="#262626" stroke-width="1.5"/>
<circle cx="1431.2" cy="623.9" r="9.3" fill="#0000ff"/>
<circle cx="1431.2" cy="674.3" r="9.3" fill="#ff0000"/>
<text x="1480.3" y="638.5" style="font-family:'Liberation Serif',serif;fill:#000;font-size:42.0px" textLength="118.0" lengthAdjust="spacingAndGlyphs">Dwarfs</text>
<text x="1480.3" y="688.1" style="font-family:'Liberation Serif',serif;fill:#000;font-size:42.0px" textLength="173.4" lengthAdjust="spacingAndGlyphs">Blackbody</text>
<text x="1667.3" y="688.1" style="font-family:'Liberation Serif',serif;fill:#000;font-size:42.0px" textLength="119.7" lengthAdjust="spacingAndGlyphs">sources</text>
<g style="font-family:'Liberation Serif',serif;fill:#262626;font-size:45.5px" text-anchor="middle">
<text x="1183.7" y="775.6">-1</text>
<text x="1361.2" y="775.6">0</text>
<text x="1535.1" y="775.6">1</text>
<text x="1709.1" y="775.6">2</text>
<text x="1883.0" y="775.6">3</text>
<text x="2057.0" y="775.6">4</text>
</g>
<g style="font-family:'Liberation Serif',serif;fill:#262626;font-size:45.5px" text-anchor="end">
<text x="1167" y="733.5">-2</text>
<text x="1167" y="607.5">0</text>
<text x="1167" y="481.5">2</text>
<text x="1167" y="355.5">4</text>
<text x="1167" y="229.5">6</text>
<text x="1167" y="103.5">8</text>
</g>
<text x="1374.0" y="833.8" style="font-family:'Liberation Serif',serif;fill:#262626;font-size:50.0px;font-style:italic" textLength="105.0" lengthAdjust="spacingAndGlyphs">Gaia</text>
<text x="1498.5" y="833.8" style="font-family:'Liberation Serif',serif;fill:#262626;font-size:50.0px" textLength="151.2" lengthAdjust="spacingAndGlyphs">BP-RP</text>
<text x="1675.4" y="833.8" style="font-family:'Liberation Serif',serif;fill:#262626;font-size:50.0px" textLength="76.9" lengthAdjust="spacingAndGlyphs">[AB</text>
<text x="1772.8" y="833.8" style="font-family:'Liberation Serif',serif;fill:#262626;font-size:50.0px" textLength="100.0" lengthAdjust="spacingAndGlyphs">mag]</text>
<text transform="translate(1101.8,725.0) rotate(-90)" style="font-family:'Liberation Serif',serif;fill:#262626;font-size:50.0px" textLength="266.3" lengthAdjust="spacingAndGlyphs">ULTRASAT</text>
<text transform="translate(1101.8,439.5) rotate(-90)" style="font-family:'Liberation Serif',serif;fill:#262626;font-size:50.0px" textLength="14.5" lengthAdjust="spacingAndGlyphs">-</text>
<text transform="translate(1101.8,402.8) rotate(-90)" style="font-family:'Liberation Serif',serif;fill:#262626;font-size:50.0px;font-style:italic" textLength="104.1" lengthAdjust="spacingAndGlyphs">Gaia</text>
<text transform="translate(1101.8,277.9) rotate(-90)" style="font-family:'Liberation Serif',serif;fill:#262626;font-size:50.0px" textLength="33.1" lengthAdjust="spacingAndGlyphs">G</text>
<text transform="translate(1101.8,219.2) rotate(-90)" style="font-family:'Liberation Serif',serif;fill:#262626;font-size:50.0px" textLength="77.3" lengthAdjust="spacingAndGlyphs">[AB</text>
<text transform="translate(1101.8,120.6) rotate(-90)" style="font-family:'Liberation Serif',serif;fill:#262626;font-size:50.0px" textLength="98.1" lengthAdjust="spacingAndGlyphs">mag]</text>
</svg>
</body></html>
